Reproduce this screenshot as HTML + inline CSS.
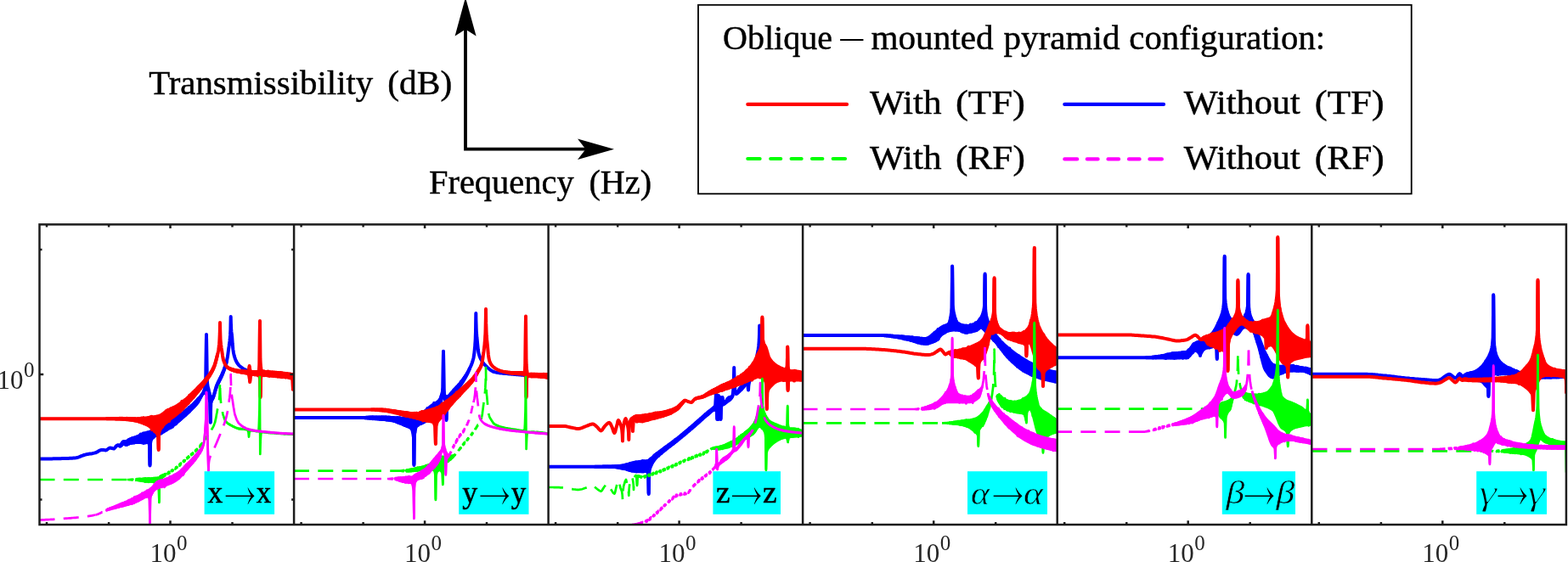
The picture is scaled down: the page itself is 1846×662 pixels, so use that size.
<!DOCTYPE html>
<html lang="en"><head><meta charset="utf-8"><title>Transmissibility plots</title>
<style>
html,body{margin:0;padding:0;background:#fff;}
body{width:1846px;height:662px;overflow:hidden;}
svg{display:block;font-family:"Liberation Serif","DejaVu Serif",serif;}
</style></head><body>
<svg width="1846" height="662" viewBox="0 0 1846 662">
<rect width="1846" height="662" fill="#ffffff"/>
<defs>
<clipPath id="cp1"><rect x="46.5" y="264.4" width="299.6" height="353.6"/></clipPath>
<clipPath id="cp2"><rect x="346.1" y="264.4" width="299.6" height="353.6"/></clipPath>
<clipPath id="cp3"><rect x="645.6" y="264.4" width="299.5" height="353.6"/></clipPath>
<clipPath id="cp4"><rect x="945.1" y="264.4" width="299.6" height="353.6"/></clipPath>
<clipPath id="cp5"><rect x="1244.7" y="264.4" width="299.6" height="353.6"/></clipPath>
<clipPath id="cp6"><rect x="1544.3" y="264.4" width="299.6" height="353.6"/></clipPath>
</defs>
<g clip-path="url(#cp1)" fill="none" stroke-linejoin="round">
<g stroke="#0000ff" stroke-width="4">
<path d="M46.5 540.5l1.5 -0 1.4 -0 1.5 -0 1.5 -0 1.4 -0 1.5 -0.1 1.5 0 1.5 0 1.4 -0 1.5 -0 1.5 -0.1 1.4 0 1.5 -0 1.5 -0 1.4 -0.1 1.5 0 1.5 -0 1.5 -0.1 1.5 0 1.5 -0 1.5 -0.1 1.5 -0 1.5 -0.1 1.5 -0.1 1.5 -0 1.5 -0.1 1.5 -0.1 1.5 -0.1 1.4 -0.2 1.4 -0.3 1.3 -0.4 1.4 -0.5 1.4 -0.6 1.4 -0.5 1.3 -0.5 1.4 -0.5 1.4 -0.4 1.3 -0.3 1.4 -0.2 1.3 -0.3 1.4 -0.2 1.3 -0.2 1.4 -0.2 1.3 -0.3 1.4 -0.3 1.3 -0.3 1.4 -0.6 1.5 -0.9 1.4 -0.9 1.5 -0.7 1.4 -0.3 1.2 0.1 1.2 0.1 1.3 0.2 1.2 0.1 1.2 -0.5 1.2 -0.9 1.2 -1 1.2 -0.5 1.2 0.2 1.2 0.3 1.2 0.3 1.2 0.2 1.2 -1.1 1.3 -1.9 1.2 -1.1"/>
<path d="M138.3 524.4L138.8 524.5L139.2 524.5L139.7 524.6L140.2 524.6L140.6 524.7L141.1 524.7L141.5 524.7L141.9 524.5L142.4 524.1L142.8 523.4L143.3 522.6L143.8 521.9L144.2 521.2L144.7 520.6L145.1 520.4L145.5 520.3L146 520.3L146.4 520.2L146.9 520.2L147.3 520.2L147.8 520.2L148.2 520.2L148.7 520.1L149.1 520L149.6 519.7L150.1 519.4L150.5 519.1L150.9 518.7L151.4 518.3L151.9 518L152.3 517.8L152.8 517.5L153.3 517.3L153.7 517.1L154.2 516.9L154.7 516.8L155.2 516.6L155.7 516.4L156.2 516.3L156.6 516.1L157.1 516L157.6 515.8L158.1 515.7L158.6 515.5L159 515.3L159.5 515.2L160 515L160.5 514.8L161 514.6L161.5 514.4L162 514.2L162.5 514L163 513.8L163.5 513.6L164 513.4L164.5 513.1L165 512.9L165.5 512.6L166 512.4L166.5 512.2L167 511.9L167.5 511.7L168 511.5L168.5 511.3L169 511.1L169.5 510.9L170 510.7L170.5 510.5L171 510.4L171.5 510.2L172 510.1L172.5 509.9L173 509.8L173.5 509.6L174 509.5L174.5 509.4L175 509.2L175.5 509L176 508.9L176.5 508.7L177 508.6L177.5 508.4L178 508.2L178.5 508L179 507.8L179.5 507.6L180 507.4L180.5 507.2L181 506.9L181.5 506.7L182 506.4L182.5 506.2L183 505.9L183.5 505.7L184 505.4L184.5 505.2L185 504.9L185.5 504.7L186 504.4L186.5 504.1L187 503.8L187.5 503.6L188 503.3L188.5 503L189 502.7L189.5 502.5L190 502.2L190.5 501.9L191 501.6L191.5 501.4L192 501.1L192.5 500.8L193 500.5L193.5 500.2L194 499.9L194.5 499.5L195 499.2L195.5 498.9L196 498.6L196.5 498.3L197 498L197.5 497.7L198 497.4L198.5 497.1L199 496.8L199.5 496.5L200 496.2L200.5 495.9L201 495.6L201.5 495.4L202 495.1L202.5 494.8L203 494.5L203.5 494.3L204 494L204.5 493.7L205 493.4L205.5 493.1L206 492.8L206.5 492.5L207 492.2L207.5 491.9L208 491.6L208.5 491.3L209 491L209.5 490.7L210 490.3L210.5 490L211 489.7L211.5 489.3L212 489L212.5 488.6L213 488.2L213.5 487.9L214 487.5L214.5 487.1L215 486.7L215.5 486.4L216 486L216.5 485.6L217 485.2L217.5 484.8L218 484.4L218.5 484L219 483.6L219.5 483.2L220 482.8L220.5 482.3L221 481.9L221.5 481.5L222 481.1L222.5 480.6L223 480.2L223.5 479.8L224 479.3L224.5 478.9L225 478.5L225.5 478L226 477.6L226.5 477.1L227 476.6L227.5 476.2L228 475.7L228.5 475.2L229 474.7L229.5 474.2L230 473.7L230.5 473.2L231 472.7L231.5 472.1L232 471.6L232.5 471.1L233 470.5L233.5 469.9L234 469.4L234.5 468.9L235 468.3L235.5 467.8L236 467.2L236.5 466.6L237 466L237.5 465.4L238 464.6L238.5 463.9L239 463.1L239.5 462.2L240 461.2L240.5 459.7L241 457.6L241.5 455.2L242 451.4L242.5 445.9L243 395.2L243.5 445.1L244 450.5L244.4 454.2L244.9 457L245.4 459.2L245.9 461.2L246.4 462.8L246.8 464.2L247.3 465.7L247.8 467.2L248.2 468.4L248.7 469L249.1 469.6L249.6 470L250 470L250.5 469.2L251 468L251.5 466.6L252 465L252.5 463.3L253 461.5L253.5 459.7L254 457.7L254.5 456L255 454.5L255.5 453.3L256 452.1L256.5 451L257 450L257.5 449L258 448L258.5 447L259 446L259.5 445L260 444L260.5 443L261 441.9L261.5 440.8L262 439.5L262.5 438.3L263 437.1L263.5 435.9L264 434.6L264.5 433.3L265 431.9L265.5 430.4L266 428.8L266.5 427L267 425L267 425L266.5 427.1L266 429L265.5 430.7L265 432.3L264.5 433.8L264 435.3L263.5 436.6L263 437.9L262.5 439.2L262 440.5L261.5 441.7L261 442.9L260.5 444L260 445L259.5 446L259 447L258.5 448L258 449L257.5 450L257 451L256.5 452L256 453.1L255.5 454.2L255 455.5L254.5 456.8L254 458.2L253.5 459.7L253 461.5L252.5 463.3L252 465L251.5 466.6L251 468L250.5 469.2L250 470L249.6 470.9L249.1 471.8L248.7 473.1L248.2 475L247.8 496.6L247.3 474.1L246.8 471.7L246.4 470L245.9 468.8L245.4 467.8L244.9 466.9L244.4 466.2L244 465.5L243.5 464.9L243 464.3L242.5 463.6L242 463L241.5 462.5L241 462.5L240.5 462.6L240 462.8L239.5 463L239 463.4L238.5 464L238 464.6L237.5 465.4L237 466.3L236.5 467.3L236 468.2L235.5 469.2L235 470.2L234.5 471.1L234 472L233.5 472.8L233 473.5L232.5 474.1L232 474.8L231.5 475.4L231 476L230.5 476.5L230 477.1L229.5 477.7L229 478.2L228.5 478.8L228 479.3L227.5 479.8L227 480.4L226.5 480.9L226 481.4L225.5 481.9L225 482.4L224.5 482.9L224 483.4L223.5 483.9L223 484.4L222.5 484.8L222 485.3L221.5 485.8L221 486.3L220.5 486.8L220 487.2L219.5 487.7L219 488.2L218.5 488.7L218 489.1L217.5 489.6L217 490.1L216.5 490.5L216 491L215.5 491.4L215 491.9L214.5 492.3L214 492.8L213.5 493.2L213 493.6L212.5 494.1L212 494.5L211.5 494.9L211 495.4L210.5 495.8L210 496.2L209.5 496.6L209 497L208.5 497.4L208 497.8L207.5 498.2L207 498.6L206.5 499L206 499.4L205.5 499.8L205 500.2L204.5 500.5L204 500.9L203.5 501.3L203 501.7L202.5 502L202 502.4L201.5 502.7L201 503.1L200.5 503.5L200 503.8L199.5 504.1L199 504.5L198.5 504.8L198 505.1L197.5 505.4L197 505.7L196.5 506L196 506.3L195.5 506.6L195 506.9L194.5 507.1L194 507.4L193.5 507.7L193 508L192.5 508.3L192 508.6L191.5 508.9L191 509.2L190.5 509.5L190 509.8L189.5 510.1L189 510.4L188.5 510.6L188 510.9L187.5 511.1L187 511.3L186.5 511.5L186 511.7L185.5 511.9L185 512.1L184.5 512.3L184 512.6L183.5 512.8L183 513.1L182.5 513.4L182 513.7L181.5 514L181 514.4L180.5 514.9L180 515.4L179.5 515.9L179 516.5L178.5 517.1L178 517.8L177.5 519.5L177 522.4L176.5 547.3L176 524.9L175.5 522.3L175 520.8L174.5 520.8L174 520.9L173.5 520.9L173 521L172.5 521L172 521.1L171.5 521.2L171 521.2L170.5 521.3L170 521.3L169.5 521.3L169 521.3L168.5 521.3L168 521.2L167.5 521.2L167 521.2L166.5 521.2L166 521.1L165.5 521.1L165 521L164.5 521L164 521L163.5 520.9L163 520.9L162.5 520.9L162 520.9L161.5 520.9L161 521L160.5 521L160 521L159.5 521L159 521.1L158.6 521.1L158.1 521.2L157.6 521.2L157.1 521.3L156.6 521.4L156.2 521.4L155.7 521.5L155.2 521.6L154.7 521.7L154.2 521.8L153.7 521.9L153.3 522L152.8 522.1L152.3 522.2L151.9 522.4L151.4 522.6L150.9 522.9L150.5 523.2L150.1 523.4L149.6 523.6L149.1 523.8L148.7 523.9L148.2 523.8L147.8 523.7L147.3 523.5L146.9 523.2L146.4 523L146 522.8L145.5 522.7L145.1 522.6L144.7 522.8L144.2 523.1L143.8 523.5L143.3 524.1L142.8 524.6L142.4 525L141.9 525.4L141.5 525.5L141.1 525.4L140.6 525.3L140.2 525.1L139.7 524.9L139.2 524.7L138.8 524.6L138.3 524.4Z" fill="#0000ff"/>
<path d="M137.9 524.4l0.4 0 0.5 0.2 0.4 -0.1 0.5 0.4 0.5 -0.3 0.4 0.6 0.5 -0.5 0.4 0.8 0.4 -1 0.5 0.4 0.4 -1.5 0.5 0.8 0.4 -2.5 0.5 1.4 0.5 -2.6 0.4 2 0.4 -2.3 0.5 2.5 0.4 -2.3 0.5 2.8 0.4 -3 0.5 3.3 0.4 -3 0.5 3.1 0.4 -3.9 0.5 3.9 0.5 -4.1 0.4 3.5 0.4 -4.2 0.5 4.1 0.5 -4.9 0.4 3.8 0.5 -4 0.5 3.8 0.4 -4.4 0.5 4.7 0.5 -5.2 0.5 5.1 0.5 -5.5 0.5 5 0.4 -5 0.5 4.3 0.5 -4.9 0.5 5.9 0.5 -5.6 0.4 4.9 0.5 -5.4 0.5 5.1 0.5 -5.6 0.5 5.8 0.5 -6.3 0.5 6 0.5 -6.4 0.5 6.5 0.5 -6.5 0.5 6.5 0.5 -7.8 0.5 7.8 0.5 -9 0.5 9.4 0.5 -8.3 0.5 8 0.5 -8.4 0.5 8.6 0.5 -10.5 0.5 11.5 0.5 -11.3 0.5 11 0.5 -10.8 0.5 10.5 0.5 -10.9 0.5 10.8 0.5 -11 0.5 9.9 0.5 -10.7 0.5 10.6 0.5 -10 0.5 9.9 0.5 -10.1 0.5 13.3 0.5 25.4 0.5 -26.8 0.5 -13.1 0.5 9.1 0.5 -10.1 0.5 8.2 0.5 -8.3 0.5 7.8 0.5 -7.8 0.5 7.3 0.5 -8.3 0.5 6.6 0.5 -6.5 0.5 5.6 0.5 -6.9 0.5 7.5 0.5 -8.6 0.5 7.6 0.5 -6.8 0.5 6.8 0.5 -7.5 0.5 7.4 0.5 -9.1 0.5 8.6 0.5 -8.4 0.5 7.7 0.5 -8.7 0.5 8.6 0.5 -8.3 0.5 7.1 0.5 -8.1 0.5 7.6 0.5 -7.8 0.5 7.5 0.5 -9 0.5 7.7 0.5 -7.4 0.5 6.5 0.5 -7.1 0.5 7.4 0.5 -7.9 0.5 6.4 0.5 -6.7 0.5 6.2 0.5 -7.3 0.5 7 0.5 -7.6 0.5 7.2 0.5 -7.7 0.5 7.7 0.5 -8.5 0.5 7.3 0.5 -8.4 0.5 8.6 0.5 -9.1 0.5 7.5 0.5 -7.4 0.5 5.6 0.5 -5.7 0.5 5.7 0.5 -8.3 0.5 8.3 0.5 -7.4 0.5 6.2 0.5 -6.4 0.5 4.7 0.5 -5.6 0.5 5 0.5 -6.1 0.5 5.6 0.5 -5.6 0.5 4.4 0.5 -5.3 0.5 4.3 0.5 -4.9 0.5 3.8 0.5 -4.8 0.5 4.1 0.5 -4.6 0.5 3.7 0.5 -4.5 0.5 3.6 0.5 -5 0.5 4.6 0.5 -5.1 0.5 4.3 0.5 -5.3 0.5 3.9 0.5 -4.8 0.5 4.3 0.5 -4.7 0.5 3.8 0.5 -5.6 0.5 4.7 0.5 -5.1 0.5 3.8 0.5 -4.3 0.5 3.1 0.5 -4.1 0.5 3.5 0.5 -4.2 0.5 2.8 0.5 -3.8 0.5 3.2 0.5 -4.4 0.5 3.3 0.5 -4.1 0.5 3 0.5 -4.4 0.5 3.2 0.5 -3.9 0.5 2.6 0.5 -4.2 0.5 3 0.5 -4.1 0.5 2.4 0.5 -3.1 0.5 1.3 0.5 -2.4 0.5 0.4 0.5 -1.6 0.5 -0.3 0.5 -1 0.5 -0.7 0.5 -0.7 0.5 -0.5 0.5 -1.3 0.5 0.7 0.5 -2.9 0.5 2.7 0.5 -7.1 0.5 6.6 0.5 -16.3 0.5 -51.8 0.5 54.4 0.5 16.1 0.4 -8.8 0.5 11.2 0.5 -9 0.5 11.1 0.5 -6.7 0.4 9.6 0.5 -6.2 0.5 32.1 0.4 -30 0.5 5.3 0.4 -3.5 0.5 1.2 0.4 -0.8 0.5 -0.8 0.5 -1.2 0.5 -1.4 0.5 -1.6 0.5 -1.7 0.5 -1.8 0.5 -1.8 0.5 -1.9 0.5 -1 0.5 -2.2 0.5 -0.4 0.5 -2 0.5 -0.2 0.5 -2 0.5 -0 0.5 -2.1 0.5 0 0.5 -1.9 0.5 -0 0.5 -2 0.5 -0 0.5 -2.1 0.5 -0.2 0.5 -2.2 0.5 -0.3 0.5 -2.1 0.5 -0.4 0.5 -2.1 0.5 -0.8 0.5 -1.8 0.5 -1.3 0.5 -1.9 0.5 -1.7 0.5 -2.1"/>
<path d="M267 425l0.4 -2.1 0.5 -2.5 0.4 -2.8 0.4 -3.1 0.4 -3.2 0.5 -3.2 0.4 -3.1 0.2 -1.1 0.1 -1.1 0.2 -1.3 0.1 -1.4 0.2 -1.6 0.1 -1.9 0.2 -2.2 0.1 -2.7 0.2 -3.7 0.1 -6.2 0.2 -8.8 0.2 7.6 0.2 4.8 0.1 2.9 0.2 2.1 0.2 1.6 0.1 1.3 0.2 1.2 0.2 1.5 0.2 2.4 0.2 2.9 0.2 3.2 0.3 3 0.2 2.6 0.2 1.9 0.6 3.9 0.7 3 0.7 2.3 0.6 1.8 1.1 2.6 1.2 2.1 1.2 1.6 1.1 1.3 1.4 1.3 1.4 1 1.4 1 1.4 0.8 1.4 0.7 1.4 0.6 1.4 0.6 1.5 0.5 1.4 0.5 1.4 0.5 1.4 0.4 1.5 0.3 1.4 0.2 1.5 0.2 1.4 0.2 1.5 0.1 1.5 0.2 1.4 0.2 1.5 0.1 1.5 0.2 1.4 0.1 1.5 0.1 1.5 0.2 1.4 0.1 1.5 0.1 1.5 0.1 1.4 0.2 1.5 0.1 1.5 0.1 1.5 0.1 1.4 0 1.5 0.1 1.5 0.1 1.4 0.1 1.5 0 1.5 0.1 1.4 0 1.5 0.1 1.5 0 1.4 0 1.5 0.1 1.5 -0 1.4 -0 1.5 0"/>
</g>
<g stroke="#ff0000" stroke-width="4">
<path d="M46.5 493.2l1.5 0 1.5 0 1.4 0 1.5 0 1.5 0 1.5 0 1.5 0 1.4 0 1.5 0 1.5 0 1.5 0 1.5 0 1.5 0 1.4 0 1.5 0 1.5 0 1.5 0 1.5 0 1.4 0 1.5 0 1.5 0 1.5 0 1.5 0 1.4 0 1.5 0 1.5 0 1.5 0 1.5 0 1.5 0 1.4 0 1.5 0 1.5 0 1.5 0 1.5 0 1.4 0 1.5 0 1.5 0 1.5 0 1.5 0 1.4 0 1.5 0 1.5 0 1.5 0 1.5 0 1.5 0 1.4 0 1.5 0 1.5 0 1.5 0 1.5 0 1.4 0 1.5 0 1.5 0"/>
<path d="M125.5 493.2L126 493.2L126.5 493.2L127 493.2L127.5 493.2L128 493.2L128.5 493.2L129 493.2L129.5 493.2L130 493.2L130.5 493.1L131 493.1L131.5 493.1L132 493.1L132.5 493.1L133 493.1L133.5 493.1L134 493.1L134.5 493.1L135 493L135.5 493L136 493L136.5 493L137 493L137.5 493L138 493L138.5 493L139 493L139.5 493L140 492.9L140.5 492.9L141 492.9L141.5 492.9L142 492.9L142.5 492.9L143 492.9L143.5 492.9L144 492.9L144.5 492.9L145 492.9L145.5 492.9L146 492.9L146.5 492.9L147 493L147.5 493L148 493L148.5 493L149 493L149.5 493L150 493L150.5 493L151 493.1L151.5 493.1L152 493.1L152.5 493.1L153 493.1L153.5 493.1L154 493.2L154.5 493.2L155 493.2L155.5 493.2L156 493.2L156.5 493.3L157 493.3L157.5 493.3L158 493.3L158.5 493.3L159 493.3L159.5 493.4L160 493.4L160.5 493.4L161 493.4L161.5 493.4L162 493.4L162.5 493.4L163 493.3L163.5 493.3L164 493.3L164.5 493.2L165 493.2L165.5 493.2L166 493.1L166.5 493.1L167 493L167.5 493L168 492.9L168.5 492.9L169 492.8L169.5 492.8L170 492.7L170.5 492.7L171 492.6L171.5 492.6L172 492.5L172.5 492.4L173 492.4L173.5 492.3L174 492.2L174.5 492.1L175 492.1L175.5 492L176 491.9L176.5 491.9L177 491.8L177.5 491.7L178 491.7L178.5 491.6L179 491.5L179.5 491.5L180 491.4L180.5 491.3L181 491.2L181.5 491.2L182 491.1L182.5 491L183 490.9L183.5 490.8L183.9 490.7L184.4 490.6L184.8 490.5L185.3 490.4L185.8 490.3L186.2 490.2L186.7 490.1L187.1 490L187.6 489.8L188 489.7L188.5 489.5L189 489.3L189.4 489L189.9 488.8L190.4 488.5L190.9 488.1L191.3 487.8L191.8 487.4L192.3 487.1L192.8 486.7L193.3 486.3L193.7 485.9L194.2 485.6L194.7 485.2L195.2 484.8L195.6 484.5L196.1 484.2L196.6 483.9L197.1 483.6L197.6 483.3L198.1 483.1L198.6 482.8L199.1 482.6L199.6 482.3L200.1 482.1L200.6 481.9L201.1 481.6L201.6 481.4L202.1 481.2L202.5 481L203 480.7L203.5 480.5L204 480.3L204.5 480L205 479.8L205.5 479.5L206 479.3L206.5 479L207 478.8L207.5 478.5L208 478.2L208.5 477.9L209 477.6L209.5 477.3L209.9 477L210.4 476.7L210.9 476.4L211.4 476L211.9 475.7L212.4 475.4L212.9 475L213.4 474.7L213.8 474.3L214.3 474L214.8 473.6L215.3 473.3L215.8 472.9L216.3 472.5L216.8 472.1L217.3 471.7L217.7 471.3L218.2 470.9L218.7 470.5L219.2 470.1L219.7 469.7L220.2 469.3L220.7 468.9L221.2 468.4L221.7 468L222.2 467.5L222.6 467.1L223.1 466.6L223.6 466.1L224.1 465.7L224.6 465.2L225.1 464.7L225.6 464.2L226.1 463.8L226.6 463.3L227.1 462.8L227.6 462.3L228.1 461.8L228.6 461.3L229.1 460.8L229.6 460.3L230 459.8L230.5 459.3L231 458.8L231.5 458.3L232 457.8L232.5 457.3L233 456.8L233.5 456.2L234 455.7L234.5 455.2L235 454.7L235.5 454.2L236 453.7L236.5 453.2L237 452.7L237.5 452.2L238 451.6L238.5 451.1L239 450.6L239.5 450L240 449.5L240.5 448.9L241 448.3L241.5 447.7L242 447.1L242.5 446.5L243 445.9L243.5 445.2L244 444.6L244.5 443.9L245 443.3L245.5 442.6L246 442L246.5 441.3L247 440.6L247.5 439.8L248 439.1L248.5 438.3L249 437.5L249.5 436.6L250 435.7L250.5 434.8L251 433.8L251.5 432.7L252 431.6L252.5 430.4L253 429L253.5 427.4L254 425.6L254.5 423.8L255 421.9L255.5 420L256 418L256 418L255.5 420L255 422L254.5 424L254 426L253.5 427.8L253 429.5L252.5 431L252 432.4L251.5 433.6L251 434.7L250.5 435.8L250 436.8L249.5 437.8L249 438.7L248.5 439.6L248 440.5L247.5 441.3L247 442.1L246.5 442.9L246 443.7L245.5 444.4L245 445.2L244.5 445.9L244 446.6L243.5 447.4L243 448.1L242.5 448.9L242 449.6L241.5 450.3L241 451L240.5 451.7L240 452.4L239.5 453.1L239 453.7L238.5 454.4L238 455L237.5 455.7L237 456.3L236.5 456.9L236 457.6L235.5 458.2L235 458.8L234.5 459.4L234 460L233.5 460.6L233 461.2L232.5 461.9L232 462.4L231.5 463L231 463.6L230.5 464.2L230 464.8L229.6 465.4L229.1 466L228.6 466.6L228.1 467.1L227.6 467.7L227.1 468.3L226.6 468.8L226.1 469.4L225.6 470L225.1 470.5L224.6 471.1L224.1 471.6L223.6 472.1L223.1 472.7L222.6 473.2L222.2 473.8L221.7 474.3L221.2 474.8L220.7 475.3L220.2 475.9L219.7 476.4L219.2 476.9L218.7 477.4L218.2 477.9L217.7 478.4L217.3 478.9L216.8 479.4L216.3 479.9L215.8 480.4L215.3 480.9L214.8 481.4L214.3 481.9L213.8 482.3L213.4 482.8L212.9 483.3L212.4 483.8L211.9 484.2L211.4 484.7L210.9 485.2L210.4 485.6L209.9 486.1L209.5 486.5L209 486.9L208.5 487.4L208 487.8L207.5 488.2L207 488.6L206.5 489L206 489.4L205.5 489.8L205 490.1L204.5 490.5L204 490.8L203.5 491.2L203 491.5L202.5 491.8L202.1 492.2L201.6 492.5L201.1 492.9L200.6 493.2L200.1 493.6L199.6 494L199.1 494.3L198.6 494.7L198.1 495.2L197.6 495.6L197.1 496L196.6 496.5L196.1 497L195.6 497.4L195.2 497.8L194.7 498.3L194.2 498.7L193.7 499.2L193.3 499.7L192.8 500.1L192.3 500.7L191.8 501.2L191.3 501.8L190.9 502.4L190.4 503.1L189.9 503.8L189.4 504.6L189 505.4L188.5 506.3L188 507.3L187.6 508.6L187.1 510.6L186.7 528.8L186.2 514.1L185.8 512.5L185.3 511.4L184.8 510.6L184.4 510L183.9 509.4L183.5 509L183 508.5L182.5 508L182 507.5L181.5 507L181 506.5L180.5 506.1L180 505.6L179.5 505.1L179 504.7L178.5 504.2L178 503.8L177.5 503.3L177 502.9L176.5 502.5L176 502.1L175.5 501.8L175 501.4L174.5 501.1L174 500.8L173.5 500.5L173 500.2L172.5 499.9L172 499.7L171.5 499.4L171 499.2L170.5 499L170 498.8L169.5 498.6L169 498.4L168.5 498.2L168 498L167.5 497.8L167 497.6L166.5 497.4L166 497.2L165.5 497.1L165 496.9L164.5 496.8L164 496.6L163.5 496.5L163 496.3L162.5 496.2L162 496.1L161.5 495.9L161 495.8L160.5 495.7L160 495.6L159.5 495.5L159 495.4L158.5 495.3L158 495.3L157.5 495.2L157 495.1L156.5 495L156 494.9L155.5 494.8L155 494.7L154.5 494.7L154 494.6L153.5 494.5L153 494.4L152.5 494.4L152 494.3L151.5 494.2L151 494.2L150.5 494.1L150 494.1L149.5 494L149 494L148.5 493.9L148 493.9L147.5 493.8L147 493.8L146.5 493.8L146 493.7L145.5 493.7L145 493.7L144.5 493.7L144 493.6L143.5 493.6L143 493.6L142.5 493.6L142 493.5L141.5 493.5L141 493.5L140.5 493.5L140 493.5L139.5 493.5L139 493.4L138.5 493.4L138 493.4L137.5 493.4L137 493.4L136.5 493.4L136 493.4L135.5 493.3L135 493.3L134.5 493.3L134 493.3L133.5 493.3L133 493.3L132.5 493.3L132 493.3L131.5 493.3L131 493.2L130.5 493.2L130 493.2L129.5 493.2L129 493.2L128.5 493.2L128 493.2L127.5 493.2L127 493.2L126.5 493.2L126 493.2L125.5 493.2Z" fill="#ff0000"/>
<path d="M125 493.2l0.5 -0 0.5 0 0.5 -0 0.5 0 0.5 -0 0.5 0 0.5 -0 0.5 0 0.5 -0 0.5 0 0.5 -0 0.5 0 0.5 -0.1 0.5 0.2 0.5 -0.2 0.5 0.2 0.5 -0.2 0.5 0.2 0.5 -0.3 0.5 0.3 0.5 -0.3 0.5 0.4 0.5 -0.4 0.5 0.4 0.5 -0.4 0.5 0.5 0.5 -0.5 0.5 0.4 0.5 -0.4 0.5 0.5 0.5 -0.6 0.5 0.6 0.5 -0.6 0.5 0.7 0.5 -0.7 0.5 0.7 0.5 -0.7 0.5 0.8 0.5 -0.8 0.5 0.7 0.5 -0.6 0.5 0.7 0.5 -0.7 0.5 0.7 0.5 -0.7 0.5 0.9 0.5 -0.9 0.5 1.1 0.5 -1.2 0.5 1.2 0.5 -1 0.5 1.1 0.5 -1.1 0.5 1.3 0.5 -1.4 0.5 1.4 0.5 -1.3 0.5 1.5 0.5 -1.2 0.5 1.2 0.5 -1.3 0.5 1.4 0.5 -1.4 0.5 1.7 0.5 -1.5 0.5 1.6 0.5 -1.9 0.5 2.3 0.5 -2.1 0.5 2.2 0.5 -2.1 0.5 2.3 0.5 -2.5 0.5 2.8 0.5 -2.9 0.5 3.2 0.5 -3.1 0.5 3.3 0.5 -3.1 0.5 3.7 0.5 -4 0.5 4.3 0.5 -5 0.5 4.9 0.5 -4.6 0.5 5.5 0.5 -6 0.5 5.7 0.5 -5.5 0.5 6.7 0.5 -6.3 0.5 5.8 0.5 -5.6 0.5 6.6 0.5 -6.6 0.5 6.1 0.5 -6.8 0.5 8.1 0.5 -7.5 0.5 7.5 0.5 -7.8 0.5 8.8 0.5 -9.9 0.5 10.2 0.5 -10.6 0.5 12.5 0.5 -13 0.5 15.5 0.5 -13.3 0.5 12 0.5 -12.5 0.5 13.4 0.5 -12.5 0.5 14.9 0.5 -17 0.5 15.8 0.5 -14.7 0.4 15.8 0.5 -16.4 0.4 18.3 0.5 -16.8 0.5 18.5 0.4 -19.9 0.5 38.2 0.4 -37.9 0.5 15.1 0.4 -15.9 0.5 12.4 0.5 -13.5 0.4 13.4 0.5 -14.4 0.5 12.5 0.5 -12.7 0.4 13.7 0.5 -13.3 0.5 9.8 0.5 -10.6 0.5 9.7 0.4 -11.5 0.5 10.8 0.5 -10.9 0.5 10.9 0.4 -13.3 0.5 13.2 0.5 -12.9 0.5 11.9 0.5 -13.6 0.5 12.1 0.5 -11.4 0.5 12.4 0.5 -13.2 0.5 10.7 0.5 -11.3 0.5 10.1 0.5 -11.1 0.5 10.3 0.4 -9.7 0.5 9.5 0.5 -9.4 0.5 8.7 0.5 -10.7 0.5 9.7 0.5 -9 0.5 7.4 0.5 -7.6 0.5 6.9 0.5 -7.9 0.5 7.5 0.5 -7.8 0.5 7.3 0.5 -8.8 0.4 7.4 0.5 -8.3 0.5 8.1 0.5 -8.5 0.5 8.8 0.5 -9.6 0.5 7.7 0.5 -8.7 0.4 7.5 0.5 -9.2 0.5 9.4 0.5 -8.6 0.5 7.2 0.5 -8 0.5 6.2 0.5 -7.4 0.4 7 0.5 -7.3 0.5 6.4 0.5 -6.8 0.5 5.2 0.5 -6.6 0.5 6.1 0.5 -6.9 0.5 6.2 0.5 -7.4 0.4 5.4 0.5 -7.2 0.5 6.7 0.5 -6.9 0.5 5.5 0.5 -6.6 0.5 5.2 0.5 -6 0.5 5.1 0.5 -6.4 0.5 5.8 0.5 -6.7 0.5 5.1 0.5 -5.7 0.5 4.6 0.4 -5.7 0.5 4 0.5 -4.6 0.5 4.1 0.5 -5.5 0.5 3.8 0.5 -5.1 0.5 4.4 0.5 -5.2 0.5 3.7 0.5 -4.5 0.5 3.2 0.5 -4.3 0.5 3 0.5 -3.9 0.5 2.8 0.5 -3.9 0.5 2.9 0.5 -4.1 0.5 2.8 0.5 -3.9 0.5 2.3 0.5 -3.8 0.5 2.2 0.5 -2.9 0.5 1.8 0.5 -3.4 0.5 2 0.5 -3 0.5 1.1 0.5 -2.3 0.5 1.1 0.5 -2.6 0.5 1.1 0.5 -2.3 0.5 0.5 0.5 -2.1 0.5 0.5 0.5 -2.1 0.5 0.3 0.5 -2 0.5 0 0.5 -2 0.5 -0.2 0.5 -2 0.5 -0.6 0.5 -2.1 0.5 -1.1 0.5 -2.1 0.5 -1.7 0.5 -2.1 0.5 -1.9 0.5 -2"/>
<path d="M256 418l0.2 -0.9 0.3 -1 0.2 -1 0.2 -1.2 0.3 -1.3 0.2 -1.5 0.2 -1.6 0.2 -1.9 0.3 -2.4 0.2 -2.9 0.2 -3.8 0.3 -6.3 0.2 -12.2 0.2 9.6 0.2 6 0.1 3.5 0.2 2.7 0.2 2.1 0.2 1.9 0.2 1.5 0.2 1.4 0.1 1.1 0.2 1.1 0.2 1.1 0.5 3.3 0.5 3.5 0.5 3 0.5 2.2 1.3 3.7 1.4 2.7 1.3 1.6"/>
<path d="M267.5 432.4L268 432.7L268.5 433.1L269 433.4L269.5 433.6L270 433.9L270.5 434.1L271 434.4L271.5 434.6L272 434.8L272.5 434.9L273 435.1L273.5 435.2L274 435.4L274.5 435.5L275 435.6L275.5 435.7L276 435.9L276.5 436L277 436.1L277.5 436.2L278 436.3L278.5 436.4L279 436.4L279.5 436.5L280 436.6L280.5 436.7L281 436.8L281.5 436.8L282 436.9L282.5 437L283 437L283.5 437.1L284 437.1L284.5 437.2L285 437.2L285.5 437.3L286 437.4L286.5 437.4L287 437.5L287.5 437.5L288 437.5L288.5 437.6L289 437.6L289.5 437.7L290 437.7L290.5 437.7L291 437.8L291.5 437.8L292 437.8L292.5 437.9L292.9 437L293.2 435L293.6 432.2L293.9 433.5L294.2 434.9L294.6 436.7L295.1 437.7L295.5 438L296 438L296.5 438L297 438L297.5 438L298 438L298.5 438L299 438L299.5 438L300 438L300.5 438L301 438L301.5 438L302 438.1L302.5 438.1L303 438.1L303.5 438.1L304 438.1L304.5 438.1L305 435.4L305.5 429.5L306 379.2L306.3 422.4L306.6 427.6L307.1 432.1L307.5 435.5L308 437.2L308.5 437.4L309 437.5L309.5 437.5L310 437.6L310.5 437.7L311 437.8L311.5 437.8L312 437.9L312.5 437.9L313 438L313.5 438L314 438.1L314.5 438.1L315 438.2L315.5 438.2L316 438.2L316.5 438.2L317 438.3L317.5 438.3L318 438.3L318.5 438.3L319 438.4L319.5 438.4L320 438.4L320.5 438.4L321 438.5L321.5 438.5L322 438.5L322.5 438.5L323 438.6L323.5 438.6L324 438.7L324.5 438.7L325 438.8L325.5 438.8L326 438.9L326.5 438.9L327 439L327.5 439L328 439.1L328.5 439.1L329 439.2L329.5 439.2L330 439.3L330.5 439.3L331 439.4L331.5 439.4L332 439.5L332.5 439.6L333 439.6L333.5 439.7L334 439.7L334.5 439.8L335 439.8L335.5 439.9L336 440L336.5 440L337 440.1L337.5 440.2L338 440.2L338.5 440.3L339 440.4L339.5 440.4L340 440.5L340.5 440.6L341 440.7L341.5 440.7L342 440.8L342.5 440.9L343 441L343.5 441.1L344 441.1L344.5 441.3L345 441.5L345 458.8L344.5 447.4L344 446.2L343.5 445.6L343 445.4L342.5 445.3L342 445.1L341.5 445L341 444.9L340.5 444.8L340 444.7L339.5 444.6L339 444.5L338.5 444.4L338 444.4L337.5 444.3L337 444.2L336.5 444.2L336 444.1L335.5 444.1L335 444L334.5 444L334 443.9L333.5 443.9L333 443.8L332.5 443.8L332 443.8L331.5 443.7L331 443.7L330.5 443.7L330 443.6L329.5 443.6L329 443.6L328.5 443.5L328 443.5L327.5 443.5L327 443.4L326.5 443.4L326 443.3L325.5 443.3L325 443.2L324.5 443.2L324 443.1L323.5 443.1L323 443L322.5 443L322 442.9L321.5 442.9L321 442.8L320.5 442.8L320 442.7L319.5 442.7L319 442.6L318.5 442.6L318 442.5L317.5 442.4L317 442.4L316.5 442.3L316 442.3L315.5 442.3L315 442.2L314.5 442.2L314 442.1L313.5 442.1L313 442L312.5 442L312 442L311.5 441.9L311 441.9L310.5 441.9L310 441.8L309.5 441.8L309 441.8L308.5 441.8L308 441.8L307.5 442.7L307.1 445.2L306.6 466.8L306.3 448.1L306 445.9L305.5 443.8L305 442.3L304.5 441.9L304 441.8L303.5 441.6L303 441.6L302.5 441.5L302 441.4L301.5 441.3L301 441.3L300.5 441.2L300 441.2L299.5 441.1L299 441.1L298.5 441.1L298 441L297.5 441L297 441L296.5 441L296 441L295.5 441L295.1 442.2L294.6 445.2L294.2 448.8L293.9 446.7L293.6 444.5L293.2 442L292.9 440.7L292.5 440.1L292 439.9L291.5 439.8L291 439.6L290.5 439.5L290 439.4L289.5 439.3L289 439.3L288.5 439.2L288 439.2L287.5 439.1L287 439L286.5 439L286 438.9L285.5 438.8L285 438.8L284.5 438.6L284 438.5L283.5 438.4L283 438.3L282.5 438.2L282 438.1L281.5 438L281 437.9L280.5 437.8L280 437.7L279.5 437.6L279 437.5L278.5 437.4L278 437.3L277.5 437.1L277 437L276.5 436.8L276 436.7L275.5 436.5L275 436.4L274.5 436.2L274 436L273.5 435.8L273 435.7L272.5 435.5L272 435.2L271.5 435L271 434.8L270.5 434.5L270 434.2L269.5 433.9L269 433.6L268.5 433.2L268 432.9L267.5 432.4Z" fill="#ff0000"/>
<path d="M267 432l0.5 0.4 0.5 0.3 0.5 0.5 0.5 0.2 0.5 0.5 0.5 0 0.5 0.6 0.5 -0.2 0.5 0.7 0.5 -0.3 0.5 0.7 0.5 -0.3 0.5 0.8 0.5 -0.5 0.5 0.8 0.5 -0.6 0.5 1 0.5 -0.7 0.5 0.9 0.5 -0.6 0.5 0.9 0.5 -0.9 0.5 1.2 0.5 -0.9 0.5 1.2 0.5 -1 0.5 1.1 0.5 -1 0.5 1.2 0.5 -1.1 0.5 1.2 0.5 -1.1 0.5 1.4 0.5 -1.2 0.5 1.4 0.5 -1.2 0.5 1.2 0.5 -1.2 0.5 1.5 0.5 -1.4 0.5 1.4 0.5 -1.2 0.5 1.4 0.5 -1.6 0.5 1.9 0.5 -1.8 0.5 1.9 0.5 -1.8 0.5 2.2 0.5 -2.3 0.5 2.6 0.4 -3.3 0.3 4.9 0.4 -10.8 0.3 14.6 0.3 4.4 0.4 -5.3 0.5 -6.9 0.4 3.5 0.5 -3.5 0.5 3.5 0.5 -3 0.5 2.4 0.5 -2.6 0.5 2.7 0.5 -2.6 0.5 3 0.5 -3.1 0.5 3.2 0.5 -3.2 0.5 3.1 0.5 -2.8 0.5 2.9 0.5 -3.2 0.5 3.9 0.5 -3.7 0.5 3.5 0.5 -6.5 0.5 6.3 0.5 -63.6 0.3 66.8 0.3 23.2 0.5 -23.9 0.4 -7.8 0.5 5.7 0.5 -4.4 0.5 4 0.5 -4.1 0.5 4.5 0.5 -4.6 0.5 4.8 0.5 -4.5 0.5 4.1 0.5 -3.9 0.5 3.9 0.5 -3.6 0.5 3.8 0.5 -3.6 0.5 3.8 0.5 -4.6 0.5 5 0.5 -4.6 0.5 4.9 0.5 -4.3 0.5 3.5 0.5 -3.3 0.5 3.5 0.5 -3.6 0.5 3.9 0.5 -4.2 0.5 4.3 0.5 -4 0.5 4.4 0.5 -4.2 0.5 4.1 0.5 -3.9 0.5 3.4 0.5 -3.2 0.5 3.6 0.5 -4 0.5 4.2 0.5 -3.7 0.5 4.1 0.5 -4.6 0.5 4.1 0.5 -3.7 0.5 3.9 0.5 -4 0.5 4.6 0.5 -4.8 0.5 4.9 0.5 -4.3 0.5 4.6 0.5 -4.8 0.5 4.7 0.5 -4.1 0.5 3.6 0.5 -3.5 0.5 3.7 0.5 -3.6 0.5 4.3 0.5 -4.5 0.5 3.9 0.5 -3.8 0.5 3.8 0.5 -3.3 0.5 3.7 0.5 -3.7 0.5 3.9 0.5 -3.8 0.5 4.5 0.5 -4.8 0.5 4.9 0.5 -4.2 0.5 4.5 0.5 -4.6 0.5 5.4 0.5 -5.2 0.5 18.8"/>
</g>
<g stroke="#00ff00" stroke-width="2.7">
<path d="M46.5 565l1.5 0 1.5 0 1.5 0 1.5 0 1.5 0 1.5 0 1.5 0 1.5 0 1.5 0 1.5 0 1.5 0 1.5 0 1.5 0 1.5 0 1.5 0 1.5 0 1.5 0 1.5 0 1.5 0 1.5 0 1.5 0 1.5 0 1.5 0 1.5 0 1.5 0 1.5 0 1.5 0 1.5 0 1.5 0 1.5 0 1.5 0 1.5 0 1.5 0 1.5 0 1.5 0 1.5 0 1.5 0 1.5 0 1.5 0 1.5 0 1.5 0 1.5 0 1.5 0 1.5 0 1.5 0 1.5 0 1.5 0 1.5 0 1.5 0 1.5 0 1.5 0 1.5 0 1.5 0 1.5 0 1.5 0 1.5 0 1.5 0 1.5 0 1.5 0 1.5 0 1.5 0 1.5 0 1.5 0 1.5 0 1.5 0 1.5 0 1.5 0 1.5 0 1.5 0" stroke-dasharray="18 10.3"/>
<path d="M150 565l0.5 -0 0.5 0 0.5 -0 0.5 0.1 0.5 -0.2 0.5 0.2 0.5 -0.3 0.5 0.4 0.5 -0.5 0.5 0.6 0.5 -0.7 0.5 0.7 0.5 -0.7 0.5 0.8 0.5 -1 0.5 1.1 0.5 -1.2 0.5 1.3 0.5 -1.3 0.5 1.4 0.5 -1.5 0.5 1.4" stroke-dasharray="9 8"/>
<path d="M161.5 564.2L162 564.2L162.5 564.2L163 564.1L163.5 564.1L164 564.1L164.5 564.1L165 564.1L165.5 564L166 564L166.5 564L167 564L167.5 564L168 564L168.5 563.9L169 563.9L169.5 563.9L170 563.9L170.5 563.9L171 563.8L171.5 563.8L172 563.8L172.5 563.8L173 563.7L173.5 563.7L174 563.7L174.5 563.7L175 563.6L175.5 563.6L176 563.6L176.5 563.5L177 563.5L177.5 563.5L178 563.5L178.5 563.4L179 563.4L179.5 563.4L180 563.3L180.5 563.3L181 563.3L181.5 563.3L182 563.2L182.5 563.2L183 563.1L183.5 563.1L184 563L184.5 563L185 562.9L185.5 562.8L186 562.8L186.5 562.8L186.9 562.8L187.4 562.4L187.8 562.1L188.2 561.5L188.6 561.1L189 560.8L189.5 560.4L190 560.2L190.5 560L191 559.8L191.5 559.6L192 559.4L192.5 559.2L193 559L193 561L192.5 561.4L192 561.8L191.5 562.2L191 562.6L190.5 563.2L190 563.7L189.5 564.4L189 565.2L188.6 566.2L188.2 567.7L187.8 569.8L187.4 590.8L186.9 570.5L186.5 568.4L186 567.2L185.5 567.3L185 567.3L184.5 567.3L184 567.3L183.5 567.3L183 567.3L182.5 567.3L182 567.3L181.5 567.3L181 567.3L180.5 567.3L180 567.3L179.5 567.3L179 567.3L178.5 567.3L178 567.4L177.5 567.4L177 567.4L176.5 567.4L176 567.4L175.5 567.4L175 567.4L174.5 567.4L174 567.4L173.5 567.3L173 567.3L172.5 567.3L172 567.2L171.5 567.2L171 567.1L170.5 567.1L170 567L169.5 567L169 566.9L168.5 566.8L168 566.7L167.5 566.7L167 566.6L166.5 566.5L166 566.4L165.5 566.3L165 566.3L164.5 566.2L164 566.1L163.5 566L163 566L162.5 565.9L162 565.9L161.5 565.8Z" fill="#00ff00"/>
<path d="M161 565.6l0.5 -1.3 0.5 1.4 0.5 -1.5 0.5 1.6 0.5 -1.7 0.5 1.9 0.5 -2 0.5 2.2 0.5 -2.2 0.5 2.3 0.5 -2 0.5 2.1 0.5 -2.3 0.5 2.7 0.5 -3 0.5 2.9 0.5 -2.5 0.5 3 0.5 -3.8 0.5 4.2 0.5 -4.3 0.5 4.2 0.5 -3.6 0.5 3.4 0.5 -3.5 0.5 3.4 0.5 -3.9 0.5 4.5 0.5 -4.5 0.5 4 0.5 -3.8 0.5 3.5 0.5 -3.2 0.5 3.7 0.5 -4 0.5 4 0.5 -4.2 0.5 4.4 0.5 -4.5 0.5 4.9 0.5 -5.1 0.5 4.4 0.5 -4.4 0.5 4.1 0.5 -4.1 0.5 4.5 0.5 -4.4 0.5 4.4 0.5 -4.6 0.5 4.4 0.5 -3.9 0.4 7 0.5 21.6 0.4 -23 0.4 -7.4 0.4 4.6 0.4 -5.4 0.5 3.3 0.5 -3.8 0.5 2.7 0.5 -3.2 0.5 2.1 0.5 -2.6 0.5 2.1 0.5 -2.6"/>
<path d="M193 558.8l0.5 2 0.5 -2.4 0.5 1.8 0.5 -2.2 0.5 1.4 0.5 -2 0.5 1.4 0.5 -1.9 0.5 1.5 0.5 -2.1 0.5 1.6 0.5 -2.2 0.5 1.7 0.5 -2.6 0.5 2 0.5 -2.4 0.5 1.6 0.5 -2.1 0.5 1.3 0.5 -1.9 0.5 1.4 0.5 -2.2 0.5 1.3 0.5 -2.1 0.5 1.7 0.5 -2.2 0.5 1.3 0.5 -2 0.5 1 0.5 -1.7 0.5 1.1 0.5 -2.1 0.5 1.4 0.5 -2.2 0.5 1.4 0.5 -2.3 0.5 1.6 0.5 -2.5 0.5 1.5 0.5 -2.2 0.5 1.5 0.5 -2.4 0.5 1.2 0.5 -2 0.5 1 0.5 -2.1 0.5 1.4 0.5 -2.1 0.5 1.2 0.5 -2.4 0.5 1.6 0.5 -2.3 0.5 1.4 0.5 -2.4 0.5 1.2 0.5 -2 0.5 1.1 0.5 -1.9 0.5 1.3 0.5 -2.2 0.4 1.5 0.5 -2.4 0.5 1.3 0.5 -2 0.5 1.1 0.5 -1.9 0.5 1.1 0.5 -1.9 0.5 1.1 0.5 -2.1 0.5 1.2 0.5 -2 0.5 1.2 0.5 -2.2 0.4 1.2 0.5 -2.2 0.5 1.2 0.5 -2 0.5 0.9 0.5 -1.8 0.5 0.9 0.5 -2 0.5 0.8 0.5 -2 0.4 0.9 0.5 -2.1 0.5 0.8 0.5 -2 0.5 0.8 0.5 -1.9 0.5 0.5 0.5 -1.9 0.5 0.6 0.4 -2.1 0.5 0.6 0.5 -1.9 0.5 0.5 0.5 -1.7 0.5 0.1 0.5 -1.5 0.5 0.1 0.4 -1.6 0.5 0.1 0.5 -1.5 0.5 0 0.5 -1.5 0.4 0 0.5 -1.3 0.5 0 0.5 -1.4 0.4 0 0.5 -1.2 0.5 -0.1 0.5 -1.3 0.4 -0.3 0.5 -1.2 0.5 -0.6 0.5 -1.2 0.5 -0.9 0.4 -1.2 0.5 -1.2" stroke-dasharray="9 8"/>
<path d="M252.6 499l0.6 -1.8 0.5 -2.4 0.6 -2.7 0.5 -3 0.6 -3.1 0.5 -3.1 0.6 -2.9 0.2 -1.2 0.3 -1.1 0.2 -1.1 0.3 -1.3 0.2 -1.6 0.3 -1.9 0.2 -2.5 0.3 -3.3 0.2 -5.2 0.3 -10.8 0.2 9.8 0.2 5.6 0.2 3.4 0.2 2.5 0.2 2 0.2 1.7 0.2 1.5 0.2 1.3 0.2 1.1 0.2 1.1 0.5 2.8 0.5 2.8 0.5 2.5 0.5 1.9" stroke-dasharray="18 10.3"/>
<path d="M263 490l0.5 1.4 0.5 1.5 0.5 1 0.5 1.4 0.5 0.4 0.5 1.1 0.5 0.1 0.5 1 0.5 0 0.5 0.9 0.5 -0.1 0.5 0.8 0.5 -0.2 0.5 0.9 0.5 -0.3 0.5 0.8 0.5 -0.2 0.5 0.7 0.5 -0.1 0.5 0.6 0.4 -0.2 0.5 0.8 0.5 -0.2 0.5 0.7 0.5 -0.3 0.4 0.7 0.5 -0.2 0.5 0.6 0.5 -0.2 0.5 0.6 0.4 -0.2 0.5 0.6 0.5 -0.3 0.5 0.6 0.5 -0.3 0.4 0.6 0.5 -0.3 0.5 0.6 0.5 -0.5 0.5 0.6 0.5 -0.4 0.5 0.5 0.5 -0.4 0.5 0.5 0.5 -0.4 0.5 0.4 0.5 -0.4 0.5 0.5 0.4 -0.3 0.5 0.4 0.5 -0.4 0.5 0.5 0.5 -0.3 0.5 0.5 0.5 -0.4 0.5 0.6 0.5 -0.3 0.5 0.5 0.5 -0.2 0.5 3.4 0.5 5 0.5 -4.7 0.5 -3.3 0.5 0.5 0.5 -0.4 0.5 0.6 0.5 -0.5 0.5 0.5 0.5 -0.5 0.5 0.5 0.5 -0.3 0.5 0.5 0.5 -0.4 0.5 0.5 0.5 -0.3 0.5 0.5 0.5 -0.4 0.5 0.6 0.5 -0.5 0.5 0.6 0.5 -0.5 0.5 0.5 0.5 -0.4 0.5 0.4 0.4 -9.2 0.5 -15.1 0.4 -39.9 0.5 91 0.4 -16.1 0.4 -5.9 0.4 -4.2 0.5 0.4 0.5 -0.4 0.5 0.4 0.5 -0.4 0.5 0.5 0.5 -0.4 0.5 0.5 0.5 -0.4 0.5 0.4 0.5 -0.3 0.5 0.4 0.5 -0.3 0.5 0.4 0.5 -0.4 0.5 0.5 0.5 -0.4 0.5 0.6 0.5 -0.4 0.5 0.5 0.5 -0.4 0.5 0.4 0.5 -0.3 0.5 0.4 0.5 -0.3 0.5 0.4 0.5 -0.3 0.5 0.4 0.5 -0.4 0.5 0.4 0.5 -0.4 0.5 0.5 0.5 -0.4 0.5 0.5 0.5 -0.4 0.5 0.5 0.5 -0.5 0.5 0.6 0.5 -0.5 0.5 0.5 0.5 -0.4 0.5 0.5 0.5 -0.4 0.5 0.4 0.5 -0.4 0.5 0.4 0.5 -0.3 0.5 0.4 0.5 -0.4 0.5 0.5 0.5 -0.4 0.5 0.4 0.5 -0.3 0.5 0.4 0.5 -0.4 0.5 0.6 0.5 -0.6 0.5 0.6 0.5 -0.5 0.5 0.5 0.5 -0.4 0.5 0.5 0.5 -0.4 0.5 0.4 0.5 -0.4 0.5 0.5 0.5 -0.5 0.5 0.5 0.5 -0.4 0.5 0.5 0.5 -0.5 0.5 0.5 0.5 -0.4 0.5 0.4 0.5 -0.4 0.5 0.5 0.5 -0.4"/>
</g>
<g stroke="#ff00ff" stroke-width="2.7">
<path d="M46.5 612.5l1.5 -0 1.4 -0.1 1.5 -0 1.4 -0.1 1.5 -0.1 1.4 -0 1.5 -0.1 1.5 -0.1 1.4 -0.1 1.5 -0 1.4 -0.1 1.5 -0.1 1.4 -0.1 1.5 -0.1 1.4 -0.1 1.5 -0.1 1.5 -0.1 1.4 -0.1 1.5 -0.1 1.4 -0.2 1.5 -0.1 1.4 -0.1 1.5 -0.1 1.5 -0.1 1.5 -0.1 1.4 -0.2 1.5 -0.1 1.5 -0.1 1.5 -0.1 1.4 -0.2 1.5 -0.1 1.5 -0.2 1.5 -0.1 1.5 -0.2 1.4 -0.1 1.5 -0.2 1.5 -0.2 1.5 -0.2 1.4 -0.2 1.5 -0.3 1.5 -0.2 1.5 -0.2 1.4 -0.3 1.5 -0.3 1.5 -0.3" stroke-dasharray="18 10.3"/>
<path d="M112.5 606.5l0.5 -0.1 0.5 -0.1 0.5 -0.2 0.5 -0.2 0.5 -0.2 0.5 -0.1 0.5 -0.3 0.5 -0.1 0.5 -0.4 0.5 -0.1 0.5 -0.4 0.5 -0 0.5 -0.5 0.5 -0 0.5 -0.6 0.5 0.1 0.5 -0.7 0.5 0.2 0.5 -0.7 0.5 0.2 0.5 -0.7 0.5 0.3 0.5 -0.8 0.5 0.4 0.5 -0.8" stroke-dasharray="9 8"/>
<path d="M125.5 600.4L126 600.2L126.5 600L126.9 599.8L127.4 599.6L127.9 599.4L128.4 599.2L128.9 599L129.3 598.8L129.8 598.6L130.3 598.4L130.8 598.2L131.3 598L131.8 597.8L132.2 597.6L132.7 597.4L133.2 597.2L133.7 597.1L134.2 596.9L134.7 596.7L135.2 596.5L135.6 596.3L136.1 596.1L136.6 595.9L137.1 595.7L137.6 595.5L138.1 595.3L138.6 595.1L139.1 594.9L139.6 594.7L140.1 594.4L140.6 594.2L141.1 594L141.6 593.8L142.1 593.6L142.6 593.4L143.1 593.2L143.5 593L144 592.8L144.5 592.6L145 592.4L145.5 592.2L146 592L146.5 591.8L147 591.6L147.5 591.3L148 591.1L148.5 590.9L149 590.7L149.5 590.5L150 590.2L150.5 590L151 589.8L151.5 589.6L152 589.3L152.5 589.1L152.9 588.9L153.4 588.7L153.9 588.4L154.4 588.2L154.9 587.9L155.4 587.7L155.9 587.5L156.4 587.2L156.9 587L157.4 586.7L157.9 586.5L158.3 586.2L158.8 586L159.3 585.8L159.8 585.5L160.3 585.3L160.8 585L161.3 584.7L161.8 584.5L162.3 584.2L162.8 584L163.2 583.7L163.7 583.5L164.2 583.2L164.7 582.9L165.2 582.7L165.7 582.4L166.2 582.1L166.7 581.9L167.2 581.6L167.7 581.3L168.1 581L168.6 580.8L169.1 580.5L169.6 580.2L170.1 580L170.6 579.7L171.1 579.4L171.6 579.1L172.1 578.9L172.6 578.6L173 578.3L173.5 578.1L174 577.8L174.5 577.5L175 577.2L175.5 576.9L176 576.6L176.5 576.3L177 575.9L177.5 575.6L178 575.2L178.5 574.7L179 574.2L179.5 573.6L180 573L180.5 572.4L181 571.8L181.5 571.1L182 570.5L182.5 569.9L183 569.4L183.5 568.9L184 568.4L184.5 568L185 567.7L185.5 567.4L186 567.2L186.5 567L187 566.8L187.5 566.6L188 566.4L188.5 566.2L189 566.1L189.5 565.9L190 565.8L190.5 565.6L191 565.5L191.5 565.4L192 565.2L192.5 565.1L193 564.9L193.5 564.8L194 564.6L194.5 564.4L195 564.2L195.5 564L196 563.8L196.5 563.6L197 563.4L197.5 563.2L198 562.9L198.5 562.7L199 562.5L199.5 562.3L200 562.1L200.5 561.8L201 561.6L201.5 561.4L202 561.1L202.5 560.9L203 560.6L203.5 560.4L204 560.1L204.5 559.9L205 559.6L205.5 559.3L206 559L206.5 558.7L207 558.4L207.5 558.1L208 557.8L208.5 557.5L209 557.2L209.5 556.9L210 556.5L210.5 556.1L211 555.7L211.5 555.3L212 554.9L212.5 554.5L213 554L213.5 553.6L214 553.1L214.5 552.6L215 552.1L215.5 551.6L216 551.1L216.5 550.6L217 550.1L217.5 549.6L218 549L218.5 548.5L219 548L219.5 547.5L220 547L220.5 546.5L221 546L221.5 545.5L222 545L222.5 544.5L223 544L223.5 543.5L224 543L224.5 542.5L225 541.9L225.5 541.4L226 540.9L226.5 540.4L227 539.8L227.5 539.3L228 538.7L228.5 538.2L229 537.6L229.5 537L230 536.5L230.5 535.9L231 535.3L231.5 534.7L232 534L232.5 533.4L233 532.8L233.5 532.1L234 531.6L234.5 531L235 530.5L235.5 530L236 529.5L236.5 528.9L237 528.2L237.5 527.5L238 526.7L238.5 525.7L239 524.6L239.5 523.3L240 521.8L240.4 519.4L240.8 515.3L241.3 510.2L241.7 504.8L242.1 498.5L242.6 488.6L243 462L243.5 480.5L244 499L244.4 517.5L244.9 536L245.4 554.5L245.4 554.5L244.9 536L244.4 517.5L244 499L243.5 480.5L243 462L242.6 488.9L242.1 498.8L241.7 505.2L241.3 510.6L240.8 515.6L240.4 519.6L240 522.2L239.5 524.1L239 525.8L238.5 527.4L238 528.7L237.5 529.9L237 530.9L236.5 531.9L236 532.8L235.5 533.6L235 534.3L234.5 535L234 535.7L233.5 536.5L233 537.2L232.5 538L232 538.8L231.5 539.5L231 540.2L230.5 540.9L230 541.6L229.5 542.3L229 542.9L228.5 543.5L228 544.1L227.5 544.7L227 545.3L226.5 545.9L226 546.4L225.5 547L225 547.5L224.5 548.1L224 548.6L223.5 549.2L223 549.7L222.5 550.2L222 550.8L221.5 551.3L221 551.9L220.5 552.4L220 553L219.5 553.6L219 554.2L218.5 554.7L218 555.3L217.5 555.9L217 556.5L216.5 557.1L216 557.7L215.5 558.3L215 558.9L214.5 559.5L214 560.1L213.5 560.6L213 561.1L212.5 561.7L212 562.2L211.5 562.7L211 563.2L210.5 563.6L210 564L209.5 564.4L209 564.8L208.5 565.1L208 565.5L207.5 565.8L207 566.1L206.5 566.4L206 566.7L205.5 567L205 567.3L204.5 567.5L204 567.8L203.5 568.1L203 568.3L202.5 568.6L202 568.8L201.5 569L201 569.3L200.5 569.5L200 569.7L199.5 569.9L199 570.1L198.5 570.4L198 570.6L197.5 570.8L197 571L196.5 571.2L196 571.4L195.5 571.6L195 571.8L194.5 572L194 572.2L193.5 572.4L193 572.5L192.5 572.7L192 572.8L191.5 573L191 573.1L190.5 573.2L190 573.4L189.5 573.5L189 573.7L188.5 573.8L188 574L187.5 574.2L187 574.4L186.5 574.6L186 574.8L185.5 575L185 575.3L184.5 575.6L184 575.9L183.5 576.2L183 576.5L182.5 576.9L182 577.3L181.5 577.8L181 578.3L180.5 578.9L180 579.5L179.5 580.2L179 581L178.5 581.8L178 582.8L177.5 584.8L177 587.9L176.5 615.8L176 589.6L175.5 586.5L175 584.8L174.5 584.8L174 584.9L173.5 585L173 585.1L172.6 585.2L172.1 585.4L171.6 585.6L171.1 585.8L170.6 586L170.1 586.2L169.6 586.4L169.1 586.7L168.6 586.9L168.1 587.2L167.7 587.5L167.2 587.7L166.7 588L166.2 588.3L165.7 588.6L165.2 588.8L164.7 589.1L164.2 589.4L163.7 589.6L163.2 589.9L162.8 590.1L162.3 590.4L161.8 590.6L161.3 590.8L160.8 591L160.3 591.2L159.8 591.4L159.3 591.6L158.8 591.7L158.3 591.9L157.9 592.1L157.4 592.3L156.9 592.5L156.4 592.7L155.9 592.8L155.4 593L154.9 593.2L154.4 593.3L153.9 593.5L153.4 593.7L152.9 593.8L152.5 594L152 594.2L151.5 594.3L151 594.5L150.5 594.6L150 594.8L149.5 594.9L149 595L148.5 595.2L148 595.3L147.5 595.4L147 595.6L146.5 595.7L146 595.8L145.5 595.9L145 596.1L144.5 596.2L144 596.3L143.5 596.4L143.1 596.5L142.6 596.7L142.1 596.8L141.6 596.9L141.1 597L140.6 597.1L140.1 597.3L139.6 597.4L139.1 597.5L138.6 597.6L138.1 597.7L137.6 597.9L137.1 598L136.6 598.1L136.1 598.3L135.6 598.4L135.2 598.5L134.7 598.6L134.2 598.8L133.7 598.9L133.2 599L132.7 599.1L132.2 599.3L131.8 599.4L131.3 599.5L130.8 599.7L130.3 599.8L129.8 599.9L129.3 600.1L128.9 600.2L128.4 600.3L127.9 600.5L127.4 600.6L126.9 600.8L126.5 600.9L126 601.1L125.5 601.2Z" fill="#ff00ff"/>
<path d="M125 600.7l0.5 0.5 0.5 -1 0.5 0.6 0.4 -1.1 0.5 0.9 0.5 -1.3 0.5 1.1 0.5 -1.4 0.4 1 0.5 -1.5 0.5 1.4 0.5 -1.7 0.5 1.3 0.5 -1.5 0.4 1.1 0.5 -1.5 0.5 1.3 0.5 -1.7 0.5 1.7 0.5 -2 0.5 1.5 0.4 -2 0.5 2 0.5 -2.6 0.5 2.1 0.5 -2.3 0.5 2.1 0.5 -2.5 0.5 2.5 0.5 -3.2 0.5 2.7 0.5 -2.8 0.5 2.4 0.5 -3.3 0.5 3.1 0.5 -3.2 0.5 3.2 0.4 -3.8 0.5 3.6 0.5 -3.6 0.5 2.9 0.5 -3.3 0.5 3.6 0.5 -3.9 0.5 3.3 0.5 -4 0.5 3.6 0.5 -3.6 0.5 3.2 0.5 -3.6 0.5 3.7 0.5 -4.7 0.5 4.7 0.5 -5.5 0.5 4.6 0.5 -4.6 0.4 4.4 0.5 -4.7 0.5 4.2 0.5 -4.6 0.5 5.1 0.5 -6.3 0.5 6 0.5 -6 0.5 4.8 0.5 -5.4 0.5 5.9 0.4 -7.3 0.5 6.6 0.5 -6.7 0.5 6.1 0.5 -6.1 0.5 5.4 0.5 -5.6 0.5 5.2 0.5 -5.7 0.5 5.6 0.4 -5.6 0.5 5.1 0.5 -6.1 0.5 5 0.5 -5.7 0.5 5.1 0.5 -5.5 0.5 5.5 0.5 -7.1 0.5 6.8 0.4 -6.3 0.5 5.5 0.5 -5.9 0.5 4.7 0.5 -5.5 0.5 5.1 0.5 -5.9 0.5 6.4 0.5 -6.9 0.5 6.2 0.4 -7.1 0.5 7.3 0.5 -7.3 0.5 6.9 0.5 -7 0.5 7.9 0.5 -8.3 0.5 39.6 0.5 -41.3 0.5 8.5 0.5 -9.2 0.5 7.8 0.5 -8.8 0.5 6.8 0.5 -7.5 0.5 5.3 0.5 -6.3 0.5 4.8 0.5 -5.8 0.5 4.8 0.5 -6.1 0.5 5.3 0.5 -6 0.5 6.1 0.5 -7.8 0.5 7.8 0.5 -7.8 0.5 7 0.5 -8.2 0.5 8.1 0.5 -7.7 0.5 7 0.5 -8 0.5 7 0.5 -6.5 0.5 7.6 0.5 -8.1 0.5 6.8 0.5 -7 0.5 7.4 0.5 -7.9 0.5 8.7 0.5 -8.8 0.5 7.6 0.5 -8.5 0.5 7 0.5 -6.9 0.5 6.2 0.5 -7 0.5 7.2 0.5 -7.3 0.5 6.8 0.5 -7 0.5 6.9 0.5 -9 0.5 8.4 0.5 -7.9 0.5 7.8 0.5 -7.9 0.5 6.8 0.5 -7.5 0.5 7.6 0.5 -7.6 0.5 6.6 0.5 -8.1 0.5 8 0.5 -8.4 0.5 7.7 0.5 -7.2 0.5 6.6 0.5 -8 0.5 6.6 0.5 -7.5 0.5 7.2 0.5 -7 0.5 6.7 0.5 -7.7 0.5 6 0.5 -7 0.5 5.6 0.5 -6.1 0.5 5.4 0.5 -7.2 0.5 7 0.5 -7.7 0.5 7.5 0.5 -8.7 0.5 7.1 0.5 -8.4 0.5 6.3 0.5 -7.1 0.5 5.4 0.5 -7.1 0.5 6.5 0.5 -7.2 0.5 6.1 0.5 -6.3 0.5 5.1 0.5 -6.5 0.5 4.7 0.5 -5 0.5 4.1 0.5 -5.5 0.5 4.4 0.5 -5.7 0.5 4.7 0.5 -5.4 0.5 4.4 0.5 -6.3 0.5 5.2 0.5 -5.4 0.5 3.9 0.5 -5.4 0.5 4.7 0.5 -5.4 0.5 3.8 0.5 -5.1 0.5 3.5 0.5 -4.7 0.5 3.7 0.5 -5.1 0.5 3.6 0.5 -5.4 0.5 3.7 0.5 -4.2 0.5 3.2 0.5 -4.6 0.5 2.6 0.5 -3.7 0.5 2 0.5 -3.6 0.5 0.6 0.5 -2.5 0.5 -0.5 0.5 -2.4 0.4 -2.2 0.4 -4.3 0.5 -4.7 0.4 -5.9 0.4 -5.8 0.5 -10.3 0.4 -26.6 0.5 18.5 0.5 18.5 0.4 18.5 0.5 18.5 0.5 18.5"/>
<path d="M245.4 554.5l0.3 -7.1 0.3 -3.1 0.3 -2 0.3 -1.4 0.3 -1.2 0.3 -0.9 0.3 -0.9 0.3 -0.7 0.3 -0.6 0.3 -0.5 0.3 -0.5 0.3 -0.6 1.2 -2.5 1.2 -2.6 1.2 -2.7 1.2 -2.7 1.2 -2.8 1.2 -2.8 1.2 -2.9 1.1 -2.7 1.1 -2.6 1.2 -2.8 1.1 -2.8 1.1 -3.1 0.8 -2.3 0.8 -2.2 0.8 -2.5 0.8 -2.8 0.8 -3.2 0.4 -2.1 0.5 -2.4 0.4 -2.8 0.4 -2.9 0.4 -3 0.5 -2.9 0.4 -2.9 0.2 -1.1 0.1 -1.1 0.2 -1.3 0.2 -1.5 0.2 -1.7 0.1 -2.1 0.2 -2.4 0.2 -3.4 0.1 -5.7 0.2 -8.7 0.2 9 0.2 5.5 0.1 3.4 0.2 2.5 0.2 2 0.2 1.7 0.2 1.4 0.1 1.3 0.2 1.1 0.2 1.1" stroke-dasharray="18 10.3"/>
<path d="M273.5 470l0.5 3 0.4 3 0.5 3.3 0.5 2.7 0.5 3 0.4 2.1 0.5 2.1 0.5 1 0.5 1.8 0.4 0.9 0.5 1.6 0.5 0.6 0.5 1.4 0.5 0.4 0.4 1.1 0.5 0.3 0.5 0.9 0.5 0.1 0.5 0.8 0.5 0 0.4 0.9 0.5 -0.1 0.5 0.8 0.5 -0.1 0.5 0.9 0.5 -0.2 0.4 0.8 0.5 -0.2 0.5 0.8 0.5 -0.2 0.5 0.7 0.5 -0.2 0.4 0.7 0.5 -0.2 0.5 0.6 0.5 -0.2 0.5 0.6 0.5 -0.3 0.4 0.6 0.5 -0.3 0.5 0.6 0.5 -0.3 0.5 0.5 0.5 -0.3 0.5 0.5 0.5 -0.3 0.5 0.6 0.5 -0.3 0.5 0.5 0.5 -0.3 0.4 0.5 0.5 -0.4 0.5 0.6 0.5 -0.4 0.5 0.5 0.5 -0.4 0.5 0.6 0.5 -0.4 0.5 0.5 0.5 -0.4 0.5 0.5 0.5 -0.4 0.5 0.6 0.5 -0.5 0.5 0.6 0.5 -0.4 0.4 0.5 0.5 -0.4 0.5 0.5 0.5 -0.4 0.5 0.5 0.5 -0.4 0.5 0.5 0.5 -0.3 0.5 0.4 0.5 -0.3 0.5 0.4 0.5 -0.4 0.5 0.5 0.5 -0.4 0.5 0.5 0.5 -0.3 0.5 0.4 0.5 -0.4 0.5 0.5 0.5 -0.4 0.5 0.5 0.5 -0.4 0.5 0.5 0.5 -0.4 0.5 0.5 0.5 -0.3 0.5 0.4 0.5 -0.4 0.5 0.5 0.5 -0.4 0.5 0.5 0.5 -0.4 0.5 0.4 0.5 -0.3 0.5 0.4 0.5 -0.3 0.5 0.4 0.5 -0.3 0.5 0.4 0.5 -0.4 0.5 0.5 0.5 -0.4 0.5 0.5 0.5 -0.4 0.5 0.5 0.5 -0.4 0.5 0.4 0.5 -0.3 0.5 0.4 0.5 -0.4 0.5 0.4 0.5 -0.3 0.5 0.5 0.5 -0.4 0.5 0.4 0.5 -0.4 0.5 0.5 0.5 -0.4 0.5 0.5 0.5 -0.5 0.5 0.5 0.5 -0.4 0.5 0.5 0.5 -0.5 0.5 0.5 0.5 -0.4 0.5 0.4 0.5 -0.4 0.5 0.5 0.5 -0.5 0.5 0.5 0.5 -0.4 0.5 0.4 0.5 -0.4 0.5 0.5 0.5 -0.4 0.5 0.4 0.5 -0.5 0.5 0.5 0.5 -0.4"/>
</g>
</g>
<g clip-path="url(#cp2)" fill="none" stroke-linejoin="round">
<g stroke="#0000ff" stroke-width="4">
<path d="M346 492l1.5 0 1.5 0 1.5 0 1.5 0 1.5 0 1.4 0 1.5 0 1.5 0 1.5 0 1.5 0 1.5 0 1.5 0 1.5 0 1.5 0 1.5 0 1.4 0 1.5 0 1.5 0 1.5 0 1.5 0 1.5 0 1.5 0 1.5 0 1.5 0 1.5 0 1.5 0 1.4 0 1.5 0 1.5 0 1.5 0 1.5 0 1.5 0 1.5 0 1.5 0 1.5 0 1.5 0 1.5 0 1.4 0 1.5 0 1.5 0 1.5 0 1.5 0 1.5 0 1.5 0 1.5 0 1.5 0 1.5 0 1.4 0 1.5 0 1.5 0 1.5 0 1.5 0 1.5 0"/>
<path d="M425.5 492L426 492L426.5 492L427 492L427.5 492L428 492L428.5 491.9L429 491.9L429.5 491.9L430 491.9L430.5 491.9L431 491.8L431.5 491.8L432 491.8L432.5 491.8L433 491.7L433.5 491.7L434 491.7L434.5 491.7L435 491.7L435.5 491.6L436 491.6L436.5 491.6L437 491.6L437.5 491.6L438 491.6L438.5 491.6L439 491.6L439.5 491.6L440 491.6L440.5 491.6L441 491.6L441.5 491.6L442 491.6L442.5 491.6L443 491.6L443.5 491.6L444 491.6L444.5 491.6L445 491.6L445.5 491.6L446 491.6L446.5 491.6L447 491.6L447.5 491.6L448 491.6L448.5 491.6L449 491.6L449.5 491.6L450 491.6L450.5 491.6L451 491.6L451.5 491.6L452 491.6L452.5 491.6L453 491.6L453.5 491.6L454 491.6L454.5 491.6L455 491.6L455.5 491.7L456 491.7L456.5 491.7L457 491.7L457.5 491.7L458 491.8L458.5 491.8L459 491.8L459.5 491.8L460 491.9L460.5 491.9L461 491.9L461.5 492L462 492L462.5 492L463 492.1L463.5 492.1L464 492.1L464.5 492.2L465 492.2L465.5 492.2L466 492.3L466.5 492.3L467 492.3L467.4 492.4L467.9 492.4L468.4 492.5L468.9 492.5L469.4 492.5L469.9 492.6L470.4 492.6L470.9 492.7L471.4 492.7L471.9 492.8L472.4 492.8L472.9 492.9L473.3 492.9L473.8 493L474.3 493L474.8 493.1L475.3 493.1L475.8 493.2L476.3 493.2L476.8 493.2L477.3 493.3L477.8 493.4L478.3 493.5L478.8 493.6L479.3 493.7L479.8 493.8L480.3 494L480.8 494.1L481.3 494.2L481.8 494.3L482.3 494.4L482.8 494.5L483.3 494.6L483.8 494.6L484.3 494.7L484.8 494.7L485.2 494.7L485.7 494.6L486.1 494.4L486.5 494.2L487 493.9L487.4 493.6L487.8 493.3L488.3 493L488.7 492.6L489.1 492.3L489.6 492L490 491.7L490.5 491.4L491 491.1L491.5 490.7L492 490.4L492.5 490.1L493 489.8L493.5 489.4L494 489.1L494.5 488.7L495 488.4L495.5 488L496 487.7L496.5 487.3L497 486.9L497.5 486.6L498 486.2L498.5 485.8L499 485.5L499.5 485.1L499.9 484.7L500.4 484.3L500.9 483.9L501.4 483.5L501.9 483.1L502.4 482.6L502.9 482.2L503.3 481.8L503.8 481.4L504.3 481L504.8 480.6L505.3 480.2L505.8 479.8L506.2 479.4L506.7 479L507.2 478.6L507.7 478.2L508.2 477.8L508.7 477.5L509.2 477.2L509.6 476.9L510.1 476.6L510.6 476.3L511.1 476.1L511.6 475.8L512.1 475.5L512.5 475.2L513 474.9L513.5 474.6L514 474.3L514.5 474L515 473.6L515.5 473.2L515.9 472.7L516.4 472.3L516.9 471.8L517.4 471.2L517.8 470.6L518.3 470L518.7 469L519.2 467.8L519.6 466.4L520.1 465L520.5 463.5L521 460.9L521.5 456.6L522 414.9L522.5 459.1L523 463.9L523.5 466.5L524 466.6L524.5 466.8L525 467.1L525.5 467.2L526 467.2L526.5 467.2L527 467.1L527.5 467L528 466.8L528.5 466.5L529 466.1L529.4 465.7L529.9 465.1L530.4 464.5L530.9 463.9L531.4 463.2L531.8 462.5L532.3 461.9L532.8 461.3L533.3 460.8L533.8 460.2L534.3 459.7L534.7 459.2L535.2 458.7L535.7 458.2L536.2 457.7L536.6 457.2L537.1 456.7L537.6 456.2L538.1 455.7L538.6 455.1L539 454.6L539.5 454.1L540 453.5L540.5 452.9L541 452.3L541.5 451.8L542 451.2L542.4 450.6L542.9 450L543.4 449.3L543.9 448.7L544.4 448.1L544.9 447.4L545.4 446.8L545.8 446.1L546.3 445.4L546.8 444.7L547.3 444L547.8 443.2L548.3 442.5L548.7 441.8L549.2 441L549.7 440.2L550.2 439.4L550.6 438.6L551.1 437.8L551.6 436.9L552.1 436L552.5 435L553 434L553 434L552.5 435.1L552.1 436.2L551.6 437.2L551.1 438.3L550.6 439.3L550.2 440.2L549.7 441.2L549.2 442.1L548.7 443L548.3 443.9L547.8 444.8L547.3 445.6L546.8 446.4L546.3 447.2L545.8 448L545.4 448.8L544.9 449.5L544.4 450.3L543.9 451L543.4 451.7L542.9 452.4L542.4 453.1L542 453.8L541.5 454.5L541 455.1L540.5 455.8L540 456.5L539.5 457.2L539 457.8L538.6 458.5L538.1 459.1L537.6 459.7L537.1 460.3L536.6 460.9L536.2 461.5L535.7 462.2L535.2 462.8L534.7 463.4L534.3 464L533.8 464.6L533.3 465.2L532.8 465.9L532.3 466.5L531.8 467.1L531.4 467.8L530.9 468.4L530.4 469L529.9 469.6L529.4 470.3L529 470.9L528.5 471.6L528 472.3L527.5 473L527 473.8L526.5 475L526 476.8L525.5 493.8L525 473.7L524.5 471.8L524 470.5L523.5 469.5L523 468.5L522.5 467.3L522 466.7L521.5 466.2L521 466.2L520.5 466.5L520.1 467.4L519.6 469.5L519.2 472.3L518.7 475.5L518.3 478.6L517.8 481.3L517.4 482.8L516.9 483.6L516.4 484.4L515.9 485.1L515.5 485.8L515 486.3L514.5 486.9L514 487.4L513.5 487.8L513 488.2L512.5 488.6L512.1 488.9L511.6 489.3L511.1 489.6L510.6 489.9L510.1 490.2L509.6 490.5L509.2 490.8L508.7 491.1L508.2 491.5L507.7 491.8L507.2 492.2L506.7 492.5L506.2 492.8L505.8 493.2L505.3 493.5L504.8 493.8L504.3 494.1L503.8 494.4L503.3 494.7L502.9 495L502.4 495.3L501.9 495.6L501.4 495.8L500.9 496.1L500.4 496.4L499.9 496.7L499.5 497L499 497.2L498.5 497.5L498 497.8L497.5 498.1L497 498.3L496.5 498.5L496 498.7L495.5 498.9L495 499.1L494.5 499.3L494 499.5L493.5 499.7L493 499.9L492.5 500.2L492 500.5L491.5 500.9L491 501.3L490.5 501.7L490 502.3L489.6 503.3L489.1 505L488.7 507L488.3 509.5L487.8 513.1L487.4 546.8L487 515.4L486.5 512L486.1 509.7L485.7 507.8L485.2 506.2L484.8 505.3L484.3 504.8L483.8 504.3L483.3 503.9L482.8 503.5L482.3 503.2L481.8 503L481.3 502.7L480.8 502.5L480.3 502.3L479.8 502.1L479.3 501.9L478.8 501.8L478.3 501.6L477.8 501.4L477.3 501.2L476.8 501L476.3 500.8L475.8 500.6L475.3 500.3L474.8 500.1L474.3 499.9L473.8 499.6L473.3 499.4L472.9 499.2L472.4 499L471.9 498.8L471.4 498.5L470.9 498.3L470.4 498.1L469.9 497.9L469.4 497.7L468.9 497.5L468.4 497.3L467.9 497.1L467.4 496.9L467 496.7L466.5 496.6L466 496.4L465.5 496.3L465 496.1L464.5 496L464 495.9L463.5 495.8L463 495.7L462.5 495.5L462 495.4L461.5 495.3L461 495.2L460.5 495.2L460 495.1L459.5 495L459 494.9L458.5 494.8L458 494.7L457.5 494.7L457 494.6L456.5 494.5L456 494.5L455.5 494.4L455 494.4L454.5 494.3L454 494.2L453.5 494.2L453 494.1L452.5 494.1L452 494L451.5 494L451 493.9L450.5 493.9L450 493.8L449.5 493.8L449 493.8L448.5 493.7L448 493.7L447.5 493.6L447 493.6L446.5 493.5L446 493.5L445.5 493.5L445 493.4L444.5 493.4L444 493.4L443.5 493.3L443 493.3L442.5 493.2L442 493.2L441.5 493.2L441 493.1L440.5 493.1L440 493.1L439.5 493L439 493L438.5 492.9L438 492.9L437.5 492.8L437 492.8L436.5 492.7L436 492.7L435.5 492.6L435 492.6L434.5 492.6L434 492.5L433.5 492.5L433 492.4L432.5 492.4L432 492.3L431.5 492.3L431 492.3L430.5 492.2L430 492.2L429.5 492.2L429 492.1L428.5 492.1L428 492.1L427.5 492.1L427 492L426.5 492L426 492L425.5 492Z" fill="#0000ff"/>
<path d="M425 492l0.5 -0 0.5 0 0.5 -0 0.5 0 0.5 -0 0.5 0.1 0.5 -0.2 0.5 0.2 0.5 -0.2 0.5 0.3 0.5 -0.3 0.5 0.3 0.5 -0.4 0.5 0.5 0.5 -0.5 0.5 0.6 0.5 -0.6 0.5 0.7 0.5 -0.9 0.5 1 0.5 -1 0.5 1 0.5 -1 0.5 1.2 0.5 -1.2 0.5 1.3 0.5 -1.5 0.5 1.8 0.5 -1.7 0.5 1.5 0.5 -1.3 0.5 1.4 0.5 -1.4 0.5 1.3 0.5 -1.2 0.5 1.5 0.5 -1.8 0.5 1.8 0.5 -1.6 0.5 1.6 0.5 -1.5 0.5 1.5 0.5 -1.7 0.5 2.1 0.5 -2 0.5 2 0.5 -2 0.5 1.9 0.5 -2.2 0.5 2.7 0.5 -2.7 0.5 2.5 0.5 -2.4 0.5 2.4 0.5 -2.3 0.5 2.3 0.5 -2.4 0.5 2.5 0.5 -2.5 0.5 3 0.5 -2.9 0.5 3 0.5 -2.8 0.5 2.6 0.5 -2.8 0.5 3.2 0.5 -3.1 0.5 3.1 0.5 -2.8 0.5 3 0.5 -3 0.5 3 0.5 -2.6 0.5 2.6 0.5 -2.8 0.5 3.2 0.5 -3.3 0.5 3.7 0.5 -3.4 0.5 3.4 0.5 -3.3 0.5 4.1 0.5 -4.1 0.5 4.3 0.4 -4.6 0.5 5.3 0.5 -5.6 0.5 5.9 0.5 -5.2 0.5 5.4 0.5 -5.8 0.5 6.4 0.5 -6 0.5 5.6 0.5 -5.2 0.5 5.6 0.4 -4.9 0.5 5.1 0.5 -5.7 0.5 6.9 0.5 -7 0.5 7.4 0.5 -7.5 0.5 8 0.5 -7 0.5 7.1 0.5 -7.5 0.5 8 0.5 -6.8 0.5 7.3 0.5 -7.5 0.5 8 0.5 -8 0.5 7.9 0.5 -8.1 0.5 8.5 0.5 -8.2 0.5 8.5 0.5 -7.7 0.5 9.8 0.4 -10 0.5 11.2 0.4 -10.9 0.4 14 0.5 -15.1 0.4 53.6 0.4 -53.7 0.5 15.3 0.4 -15.2 0.4 9.7 0.5 -11.1 0.4 8.8 0.5 -10 0.5 9.6 0.5 -10.2 0.5 9.6 0.5 -10 0.5 8.3 0.5 -10.3 0.5 9.9 0.5 -11.1 0.5 10.6 0.5 -9.1 0.5 9.4 0.5 -10.8 0.5 9.7 0.5 -9.8 0.5 9.1 0.5 -10.4 0.5 10.1 0.5 -11.4 0.4 11.4 0.5 -10.5 0.5 9.5 0.5 -10.2 0.5 8.5 0.5 -10.3 0.5 11.8 0.4 -14.2 0.5 13.8 0.5 -13.4 0.5 11.9 0.5 -12.3 0.5 10 0.4 -10.5 0.5 10.8 0.5 -11 0.5 11 0.5 -12.9 0.5 13.6 0.5 -13.1 0.4 10.5 0.5 -11.1 0.5 11.9 0.5 -15.4 0.5 14.7 0.5 -14 0.4 12.3 0.5 -10.7 0.5 8.8 0.5 -10.8 0.5 10.1 0.5 -10.8 0.5 9.8 0.4 -9.9 0.5 8.6 0.5 -9.8 0.5 8.5 0.4 -10.4 0.5 6.9 0.4 -8.2 0.5 2.1 0.4 -5.6 0.5 0.8 0.4 -3.4 0.5 2.8 0.5 -10.1 0.5 -42.8 0.5 44.4 0.5 10.3 0.5 -2.1 0.5 4.2 0.5 -3.6 0.5 7.1 0.5 21 0.5 -18.1 0.5 -9.1 0.5 6 0.5 -6.7 0.5 5.5 0.5 -6 0.5 4.5 0.4 -5.4 0.5 4.4 0.5 -6 0.5 4.9 0.5 -5.5 0.4 3.5 0.5 -5.1 0.5 3.7 0.5 -4.6 0.5 3.9 0.5 -5.5 0.4 3.7 0.5 -4.4 0.5 4 0.5 -5 0.4 3.3 0.5 -4.2 0.5 3 0.5 -4.4 0.5 2.8 0.4 -3.3 0.5 2.3 0.5 -3.7 0.5 2.1 0.5 -3 0.5 1.8 0.5 -3.2 0.4 2.2 0.5 -3.8 0.5 2.2 0.5 -3 0.5 1.5 0.5 -2.8 0.5 1.2 0.4 -2.7 0.5 1.4 0.5 -2.9 0.5 1 0.5 -2.2 0.5 0.4 0.4 -1.8 0.5 0.2 0.5 -1.8 0.5 -0.1 0.4 -1.5 0.5 -0.5 0.5 -1.3 0.5 -0.7 0.4 -1.2 0.5 -1"/>
<path d="M553 434l1.1 -2.4 1.1 -2.5 1.1 -3.1 1.1 -4 0.2 -0.8 0.1 -0.9 0.2 -1.1 0.1 -1.1 0.2 -1.2 0.2 -1.3 0.1 -1.3 0.2 -1.5 0.1 -1.6 0.2 -1.7 0.2 -2 0.1 -2.3 0.2 -2.6 0.2 -3.1 0.1 -3.9 0.2 -5.1 0.1 -8.7 0.2 -12.8 0.1 7.7 0.2 6 0.1 3.8 0.1 2.8 0.1 2.2 0.2 1.9 0.1 1.5 0.1 1.4 0.1 1.3 0.2 1.2 0.1 1.2 0.3 3.1 0.3 3.1 0.3 3.1 0.3 2.8 0.3 2.3 0.3 1.6 1.2 3.9 1.1 2.6 1.2 2.1 1.2 2 1.3 1.7 1.2 1.4 1.3 1.3 1.4 1.3 1.3 1.3 1.4 1.2 1.4 1.1 1.4 0.9 1.3 0.7 1.4 0.5 1.5 0.4 1.5 0.3 1.5 0.2 1.5 0.3 1.4 0.2 1.5 0.2 1.5 0.1 1.5 0.2 1.5 0.1 1.5 0.1 1.4 0.2 1.5 0.1 1.5 0.1 1.5 0.2 1.4 0.1 1.5 0.1 1.5 0.2 1.4 0.1 1.5 0.1 1.5 0.1 1.4 0.1 1.5 0.2 1.5 0.1 1.5 0.1 1.4 0.1 1.5 0.1 1.5 0.1 1.4 0.1 1.5 0.1 1.5 0 1.5 0.1 1.4 0.1 1.5 0.1 1.5 0 1.4 0.1 1.5 0 1.5 0.1 1.4 0 1.5 0 1.5 0.1 1.5 -0 1.4 -0 1.5 0"/>
</g>
<g stroke="#ff0000" stroke-width="4">
<path d="M346 482.5l1.5 0 1.5 0 1.5 0 1.4 0 1.5 0 1.5 0 1.5 0 1.5 0 1.5 0 1.5 0 1.4 0 1.5 0 1.5 0 1.5 0 1.5 0 1.5 0 1.4 0 1.5 0 1.5 0 1.5 0 1.5 0 1.5 0 1.5 0 1.4 0 1.5 0 1.5 0 1.5 0 1.5 0 1.5 0 1.5 0 1.4 0 1.5 0 1.5 0 1.5 0 1.5 0 1.5 0 1.5 0 1.4 0 1.5 0 1.5 0 1.5 0 1.5 0 1.5 0 1.5 0 1.4 0 1.5 0 1.5 0 1.5 0 1.5 0 1.5 0 1.4 0 1.5 0 1.5 0 1.5 0 1.5 0 1.5 0 1.5 0 1.4 0 1.5 0 1.5 0 1.5 0"/>
<path d="M437.1 482.5L437.6 482.5L438.1 482.5L438.6 482.5L439.1 482.5L439.6 482.5L440.1 482.5L440.6 482.5L441.1 482.5L441.6 482.5L442.1 482.5L442.6 482.5L443.1 482.5L443.5 482.5L444 482.5L444.5 482.6L445 482.6L445.5 482.6L446 482.6L446.5 482.6L447 482.6L447.5 482.6L448 482.6L448.5 482.6L449 482.6L449.5 482.6L450 482.6L450.5 482.6L451 482.7L451.5 482.7L452 482.7L452.5 482.7L453 482.8L453.5 482.8L454 482.9L454.5 482.9L455 483L455.5 483L456 483.1L456.5 483.2L457 483.2L457.5 483.3L458 483.4L458.5 483.5L459 483.5L459.5 483.6L460 483.7L460.5 483.8L461 483.8L461.5 483.9L462 484L462.5 484L463 484.1L463.5 484.2L464 484.2L464.5 484.3L465 484.4L465.5 484.5L466 484.5L466.5 484.6L467 484.7L467.5 484.7L468 484.8L468.5 484.9L469 485L469.5 485.1L470 485.1L470.5 485.2L471 485.3L471.5 485.4L472 485.4L472.5 485.5L473 485.6L473.5 485.7L474 485.7L474.5 485.8L475 485.9L475.5 485.9L476 486L476.5 486.1L477 486.1L477.5 486.2L478 486.3L478.5 486.3L479 486.4L479.5 486.5L480 486.5L480.5 486.6L481 486.7L481.5 486.7L482 486.8L482.4 486.8L482.9 486.9L483.4 487L483.9 487L484.4 487.1L484.9 487.1L485.4 487.2L485.9 487.2L486.4 487.2L486.9 487.3L487.4 487.3L487.9 487.3L488.4 487.4L488.9 487.4L489.4 487.4L489.9 487.3L490.3 487.3L490.8 487.3L491.3 487.2L491.8 487.1L492.3 487.1L492.8 487L493.2 486.9L493.7 486.8L494.2 486.7L494.7 486.6L495.2 486.4L495.7 486.3L496.1 486.1L496.6 485.9L497.1 485.8L497.6 485.6L498.1 485.5L498.6 485.3L499 485.1L499.5 485L500 484.8L500.5 484.7L501 484.6L501.5 484.4L502 484.3L502.4 484.1L502.9 484L503.4 483.9L503.9 483.7L504.4 483.6L504.9 483.4L505.4 483.3L505.8 483.1L506.3 483L506.8 482.8L507.3 482.7L507.8 482.5L508.3 482.4L508.7 482.2L509.2 482.1L509.7 481.9L510.2 481.8L510.6 481.7L511.1 481.5L511.5 481.4L512 481.3L512.4 481.2L512.9 481.1L513.3 480.9L513.8 480.8L514.2 480.7L514.6 480.5L515.1 480.4L515.5 480.2L516 480L516.5 479.7L517 479.4L517.5 479L518 478.7L518.5 478.3L519 477.9L519.5 477.6L520 477.2L520.5 476.9L520.9 476.5L521.4 476.2L521.9 475.8L522.4 475.5L522.8 475.1L523.3 474.8L523.8 474.4L524.2 474.1L524.7 473.7L525.2 473.3L525.7 473L526.1 472.6L526.6 472.3L527.1 471.9L527.6 471.6L528 471.2L528.5 470.9L529 470.5L529.5 470.1L530 469.8L530.4 469.4L530.9 469.1L531.4 468.7L531.9 468.3L532.3 467.9L532.8 467.5L533.3 467.1L533.8 466.7L534.3 466.3L534.8 465.9L535.2 465.5L535.7 465L536.2 464.6L536.7 464.2L537.2 463.8L537.7 463.3L538.2 462.9L538.7 462.5L539.1 462L539.6 461.6L540.1 461.2L540.6 460.7L541.1 460.3L541.6 459.9L542.1 459.4L542.6 459L543 458.5L543.5 458.1L544 457.6L544.5 457.2L545 456.8L545.5 456.3L546 455.8L546.5 455.4L547 455L547.5 454.5L548 454.1L548.5 453.7L549 453.2L549.5 452.8L550 452.3L550.5 451.9L551 451.5L551.4 451L551.9 450.6L552.4 450.1L552.9 449.6L553.4 449.1L553.9 448.6L554.4 448.1L554.9 447.6L555.4 447.1L555.9 446.6L556.4 446L556.9 445.5L557.4 444.9L557.9 444.3L558.3 443.7L558.8 443.1L559.3 442.4L559.7 441.8L560.2 441.1L560.7 440.4L561.1 439.7L561.6 438.9L562.1 438.2L562.5 437.4L563 436.6L563.5 435.8L564 435.1L564.5 434.3L565 433.5L565.5 432.6L566 431.6L566.5 430.4L567 429L567 429L566.5 430.5L566 431.8L565.5 432.9L565 433.8L564.5 434.7L564 435.6L563.5 436.5L563 437.4L562.5 438.3L562.1 439.2L561.6 440L561.1 440.9L560.7 441.8L560.2 442.6L559.7 443.4L559.3 444.2L558.8 445L558.3 445.7L557.9 446.4L557.4 447.1L556.9 447.8L556.4 448.5L555.9 449.1L555.4 449.8L554.9 450.4L554.4 451L553.9 451.6L553.4 452.2L552.9 452.7L552.4 453.3L551.9 453.9L551.4 454.4L551 454.9L550.5 455.5L550 456L549.5 456.5L549 457L548.5 457.5L548 458.1L547.5 458.6L547 459.1L546.5 459.6L546 460.2L545.5 460.7L545 461.2L544.5 461.8L544 462.3L543.5 462.9L543 463.4L542.6 463.9L542.1 464.4L541.6 465L541.1 465.5L540.6 466L540.1 466.5L539.6 467L539.1 467.5L538.7 468.1L538.2 468.6L537.7 469.1L537.2 469.6L536.7 470.1L536.2 470.7L535.7 471.2L535.2 471.7L534.8 472.3L534.3 472.8L533.8 473.3L533.3 473.9L532.8 474.4L532.3 474.9L531.9 475.5L531.4 476L530.9 476.6L530.4 477.2L530 477.7L529.5 478.3L529 478.9L528.5 479.5L528 480.1L527.6 480.7L527.1 481.3L526.6 481.9L526.1 482.5L525.7 483.1L525.2 483.7L524.7 484.3L524.2 484.9L523.8 485.6L523.3 486.2L522.8 486.9L522.4 487.6L521.9 488.3L521.4 488.9L520.9 489.6L520.5 490.2L520 490.8L519.5 491.4L519 491.9L518.5 492.4L518 492.9L517.5 493.4L517 493.9L516.5 494.4L516 495.1L515.5 495.8L515.1 496.5L514.6 497.4L514.2 498.5L513.8 500L513.3 502.1L512.9 521.8L512.4 503.3L512 501.3L511.5 500L511.1 498.8L510.6 497.9L510.2 497.4L509.7 497.2L509.2 497L508.7 496.8L508.3 496.7L507.8 496.5L507.3 496.4L506.8 496.3L506.3 496.2L505.8 496.1L505.4 496.1L504.9 496L504.4 495.9L503.9 495.9L503.4 495.8L502.9 495.8L502.4 495.7L502 495.6L501.5 495.5L501 495.4L500.5 495.3L500 495.2L499.5 495L499 494.9L498.6 494.8L498.1 494.6L497.6 494.5L497.1 494.3L496.6 494.1L496.1 494L495.7 493.8L495.2 493.6L494.7 493.5L494.2 493.4L493.7 493.3L493.2 493.1L492.8 493L492.3 492.9L491.8 492.7L491.3 492.6L490.8 492.5L490.3 492.3L489.9 492.2L489.4 492.1L488.9 492L488.4 491.9L487.9 491.7L487.4 491.6L486.9 491.5L486.4 491.4L485.9 491.3L485.4 491.1L484.9 491L484.4 490.9L483.9 490.8L483.4 490.7L482.9 490.6L482.4 490.5L482 490.4L481.5 490.3L481 490.2L480.5 490L480 489.9L479.5 489.8L479 489.7L478.5 489.6L478 489.5L477.5 489.4L477 489.2L476.5 489.1L476 489L475.5 488.9L475 488.7L474.5 488.6L474 488.5L473.5 488.3L473 488.2L472.5 488L472 487.9L471.5 487.8L471 487.6L470.5 487.5L470 487.3L469.5 487.2L469 487L468.5 486.9L468 486.7L467.5 486.6L467 486.5L466.5 486.3L466 486.2L465.5 486.1L465 486L464.5 485.9L464 485.8L463.5 485.6L463 485.5L462.5 485.4L462 485.3L461.5 485.2L461 485.1L460.5 485L460 484.9L459.5 484.8L459 484.7L458.5 484.6L458 484.5L457.5 484.4L457 484.4L456.5 484.3L456 484.2L455.5 484.1L455 484L454.5 483.9L454 483.9L453.5 483.8L453 483.7L452.5 483.7L452 483.6L451.5 483.5L451 483.5L450.5 483.4L450 483.4L449.5 483.3L449 483.3L448.5 483.2L448 483.2L447.5 483.1L447 483.1L446.5 483.1L446 483L445.5 483L445 482.9L444.5 482.9L444 482.8L443.5 482.8L443.1 482.8L442.6 482.7L442.1 482.7L441.6 482.7L441.1 482.6L440.6 482.6L440.1 482.6L439.6 482.6L439.1 482.5L438.6 482.5L438.1 482.5L437.6 482.5L437.1 482.5Z" fill="#ff0000"/>
<path d="M436.6 482.5l0.5 0 0.5 0 0.5 0 0.5 0 0.5 0 0.5 0.1 0.5 -0.1 0.5 0.1 0.5 -0.1 0.5 0.2 0.5 -0.2 0.5 0.2 0.5 -0.2 0.4 0.3 0.5 -0.2 0.5 0.2 0.5 -0.2 0.5 0.4 0.5 -0.4 0.5 0.5 0.5 -0.5 0.5 0.5 0.5 -0.5 0.5 0.6 0.5 -0.7 0.5 0.8 0.5 -0.7 0.5 0.8 0.5 -0.7 0.5 0.8 0.5 -0.7 0.5 0.8 0.5 -0.8 0.5 0.9 0.5 -0.9 0.5 1.1 0.5 -1 0.5 1.1 0.5 -0.9 0.5 1.2 0.5 -1.1 0.5 1.2 0.5 -1.1 0.5 1.4 0.5 -1.1 0.5 1.1 0.5 -0.9 0.5 1.3 0.5 -1.2 0.5 1.3 0.5 -1.1 0.5 1.4 0.5 -1.4 0.5 1.6 0.5 -1.5 0.5 1.9 0.5 -1.9 0.5 1.9 0.5 -1.5 0.5 1.9 0.5 -1.7 0.5 1.6 0.5 -1.4 0.5 1.8 0.5 -1.6 0.5 1.8 0.5 -1.7 0.5 2.2 0.5 -2.3 0.5 2.7 0.5 -2.5 0.5 2.7 0.5 -2.4 0.5 2.3 0.5 -2.1 0.5 2.9 0.5 -3 0.5 2.9 0.5 -2.8 0.5 3.7 0.5 -3.6 0.5 3.2 0.5 -3.3 0.5 4 0.5 -3.2 0.5 3.2 0.5 -3.7 0.5 3.7 0.5 -3.1 0.5 3.1 0.5 -2.8 0.4 3.4 0.5 -3.4 0.5 3.4 0.5 -3.6 0.5 3.9 0.5 -3.9 0.5 4.3 0.5 -4.2 0.5 4.6 0.5 -4.7 0.5 4.9 0.5 -5.1 0.5 5.1 0.5 -4.3 0.5 4.5 0.5 -5.2 0.4 5.5 0.5 -5.6 0.5 6.3 0.5 -5.7 0.5 5.3 0.5 -5.1 0.4 5.3 0.5 -5.9 0.5 6.7 0.5 -7.5 0.5 7.5 0.5 -7.4 0.4 7.4 0.5 -8.7 0.5 8.9 0.5 -8.5 0.5 10.2 0.5 -8.9 0.4 7.7 0.5 -7.8 0.5 8.4 0.5 -8.8 0.5 8.7 0.5 -10.2 0.5 10.9 0.4 -10.6 0.5 10.4 0.5 -10.5 0.5 10 0.5 -9.8 0.5 9.9 0.5 -9.6 0.4 9.5 0.5 -9.6 0.5 9.8 0.5 -10.5 0.5 9.6 0.5 -10.5 0.4 10.7 0.5 -10.5 0.5 11.9 0.5 -12 0.4 11.9 0.5 -12.3 0.4 16 0.5 -17 0.4 20.9 0.5 19.8 0.4 -23.2 0.5 -18 0.4 17.3 0.4 -19.2 0.5 14.9 0.4 -14.5 0.5 15 0.5 -14.3 0.5 13.2 0.5 -15.5 0.5 13.9 0.5 -13.2 0.5 11.7 0.5 -13.3 0.5 14.3 0.5 -16.4 0.4 12.4 0.5 -10.9 0.5 10.4 0.5 -11.2 0.4 10.7 0.5 -12.6 0.5 10.9 0.4 -11.2 0.5 9.8 0.5 -11 0.5 10.3 0.4 -10.7 0.5 10.1 0.5 -10.4 0.5 8.6 0.4 -9.5 0.5 7.5 0.5 -7.7 0.5 6.5 0.5 -7.7 0.4 7.1 0.5 -8.2 0.5 7.3 0.5 -8.1 0.4 6.9 0.5 -6.9 0.5 5 0.5 -5.7 0.5 4.6 0.5 -5.7 0.5 4.8 0.4 -5.6 0.5 4.6 0.5 -5.2 0.5 4.4 0.5 -6.7 0.5 6.1 0.5 -6.4 0.4 5.6 0.5 -6.2 0.5 5 0.5 -5.8 0.5 5.1 0.5 -6 0.5 4.4 0.5 -5.3 0.4 4.3 0.5 -4.9 0.5 3.2 0.5 -4.2 0.5 3.2 0.5 -3.8 0.5 3.2 0.5 -4.7 0.5 3.4 0.5 -4 0.5 3.3 0.5 -4.5 0.5 3.2 0.5 -4.1 0.5 3.2 0.5 -3.9 0.5 2.8 0.4 -3.9 0.5 3.1 0.5 -4 0.5 2.8 0.5 -3.8 0.5 2.5 0.5 -3.2 0.5 2.3 0.5 -3.4 0.5 1.9 0.5 -2.8 0.5 1.4 0.5 -2.8 0.5 1.6 0.4 -2.9 0.5 1.3 0.5 -2.5 0.4 0.8 0.5 -2.1 0.5 0.6 0.4 -2 0.5 0.3 0.5 -1.8 0.4 0.1 0.5 -1.7 0.5 -0.1 0.5 -1.5 0.5 -0.2 0.5 -1.3 0.5 -0.6 0.5 -1.4 0.5 -1 0.5 -1.5"/>
<path d="M567 429l0.4 -1.6 0.5 -2.2 0.4 -2.5 0.4 -2.9 0.4 -3.2 0.5 -3.3 0.4 -3.3 0.1 -1 0.1 -1 0.2 -1.1 0.1 -1.2 0.1 -1.3 0.1 -1.4 0.2 -1.5 0.1 -1.7 0.1 -1.9 0.1 -2.2 0.2 -2.4 0.1 -2.9 0.1 -3.6 0.1 -5 0.2 -7.9 0.1 -9.9 0.1 9.1 0.1 7.3 0.2 4.7 0.1 3.4 0.1 2.7 0.1 2.3 0.1 2 0.2 1.8 0.1 1.6 0.1 1.4 0.1 1.3 0.2 1.2 0.1 1.1 0.1 1.1 0.3 3 0.3 3.3 0.3 3.3 0.3 3.1 0.3 2.5 0.3 1.8 0.8 3.2 0.9 2.3 0.8 1.5 1.4 1.8 1.4 1.4 1.4 1.1 1.4 0.9 1.4 0.8 1.5 0.7 1.4 0.6 1.5 0.5 1.4 0.5 1.5 0.4 1.4 0.3"/>
<path d="M594.2 438.1L594.7 438.2L595.2 438.2L595.7 438.3L596.2 438.4L596.6 438.4L597.1 438.5L597.6 438.6L598.1 438.6L598.6 438.7L599.1 438.7L599.6 438.8L600.1 438.8L600.6 438.9L601.1 438.9L601.6 439L602.1 439L602.5 439L603 439.1L603.5 439.1L604 439.1L604.5 439.1L605 439.1L605.5 439.1L606 439.1L606.5 439.1L607 439.1L607.5 439.1L608 439.2L608.5 439.2L609 439.2L609.5 439.2L610 439.2L610.5 439.2L611 439.2L611.5 439.2L612 439.2L612.5 439.2L613 439.2L613.5 439.2L614 439.2L614.5 439.2L615 439.2L615.5 439.2L616 439.2L616.5 439.2L617 439.2L617.5 439.2L618 436.2L618.5 429.9L619 373.8L619.3 423.9L619.6 430L620.1 435.2L620.5 438.8L621 440.9L621.5 440.9L622 440.9L622.5 440.9L623 440.9L623.5 440.9L624 440.9L624.5 440.9L625 440.9L625.5 440.9L626 440.9L626.5 440.9L627 440.9L627.5 440.9L628 440.9L628.5 440.9L629 440.9L629.5 440.9L630 440.9L630.5 440.9L631 440.9L631.5 440.9L632 440.9L632.5 440.9L633 440.9L633.5 440.9L634 440.9L634.5 440.9L635 440.9L635.5 440.9L636 440.9L636.5 440.9L637 440.9L637.5 441L638 441L638.5 441L639 441L639.5 441L640 441L640.5 441L641 441L641.5 441L642 441L642.5 441.1L643 441.1L643.5 441.1L644 441.1L644.5 441.1L645 441.1L645 444.9L644.5 444.8L644 444.7L643.5 444.6L643 444.5L642.5 444.4L642 444.3L641.5 444.2L641 444.1L640.5 444.1L640 444L639.5 443.9L639 443.9L638.5 443.8L638 443.7L637.5 443.7L637 443.6L636.5 443.6L636 443.6L635.5 443.5L635 443.5L634.5 443.4L634 443.4L633.5 443.4L633 443.3L632.5 443.3L632 443.3L631.5 443.3L631 443.3L630.5 443.2L630 443.2L629.5 443.2L629 443.2L628.5 443.2L628 443.2L627.5 443.2L627 443.2L626.5 443.1L626 443.1L625.5 443.1L625 443.1L624.5 443.1L624 443.1L623.5 443.1L623 443.1L622.5 443.1L622 443.1L621.5 443.1L621 443.1L620.5 444L620.1 446.1L619.6 466.8L619.3 447L619 444.6L618.5 442.4L618 441.2L617.5 440.8L617 440.7L616.5 440.6L616 440.5L615.5 440.5L615 440.4L614.5 440.4L614 440.3L613.5 440.3L613 440.2L612.5 440.2L612 440.2L611.5 440.2L611 440.2L610.5 440.1L610 440.1L609.5 440.1L609 440.1L608.5 440.1L608 440.1L607.5 440L607 440L606.5 440L606 440L605.5 439.9L605 439.9L604.5 439.8L604 439.8L603.5 439.7L603 439.7L602.5 439.6L602.1 439.5L601.6 439.5L601.1 439.4L600.6 439.3L600.1 439.2L599.6 439.2L599.1 439.1L598.6 439L598.1 438.9L597.6 438.8L597.1 438.7L596.6 438.6L596.2 438.5L595.7 438.4L595.2 438.3L594.7 438.2L594.2 438.1Z" fill="#ff0000"/>
<path d="M593.7 438l0.5 0.1 0.5 0 0.5 0.2 0.5 -0 0.5 0.2 0.4 -0.1 0.5 0.3 0.5 -0.1 0.5 0.3 0.5 -0.2 0.5 0.4 0.5 -0.3 0.5 0.4 0.5 -0.3 0.5 0.5 0.5 -0.4 0.5 0.5 0.4 -0.4 0.5 0.5 0.5 -0.5 0.5 0.7 0.5 -0.7 0.5 0.7 0.5 -0.7 0.5 0.8 0.5 -0.8 0.5 0.9 0.5 -0.7 0.5 0.7 0.5 -0.8 0.5 1 0.5 -1.1 0.5 1 0.5 -1 0.5 1 0.5 -1.1 0.5 1.3 0.5 -1.2 0.5 1.2 0.5 -1 0.5 1 0.5 -1.1 0.5 1.2 0.5 -1.1 0.5 1.2 0.5 -1.1 0.5 1.1 0.5 -1.2 0.5 1.9 0.5 -11.8 0.5 -56.8 0.3 54.6 0.3 40.8 0.5 -31.6 0.4 7.4 0.5 -2.8 0.5 1.9 0.5 -1.9 0.5 2.1 0.5 -2.1 0.5 2 0.5 -2.2 0.5 2.4 0.5 -2.3 0.5 2.5 0.5 -2.8 0.5 2.8 0.5 -2.6 0.5 2.3 0.5 -2.4 0.5 2.4 0.5 -2.4 0.5 2.5 0.5 -2.3 0.5 2.4 0.5 -2.4 0.5 2.4 0.5 -2.5 0.5 2.3 0.5 -2.1 0.5 2.6 0.5 -2.7 0.5 2.5 0.5 -2.3 0.5 2.4 0.5 -2.6 0.5 3 0.5 -2.9 0.5 2.9 0.5 -2.8 0.5 2.9 0.5 -2.9 0.5 2.9 0.5 -3.2 0.5 3.3 0.5 -2.9 0.5 2.9 0.5 -3.1 0.5 3.3 0.5 -3.2 0.5 3.4 0.5 -3 0.5 3 0.5 -3.2"/>
</g>
<g stroke="#00ff00" stroke-width="2.7">
<path d="M346 554.6l1.5 0 1.5 0 1.5 0 1.5 0 1.5 0 1.5 0 1.5 0 1.5 0 1.4 0 1.5 0 1.5 0 1.5 0 1.5 0 1.5 0 1.5 0 1.5 0 1.5 0 1.5 0 1.5 0 1.5 0 1.5 0 1.5 0 1.5 0 1.5 0 1.4 0 1.5 0 1.5 0 1.5 0 1.5 0 1.5 0 1.5 0 1.5 0 1.5 0 1.5 0 1.5 0 1.5 0 1.5 0 1.5 0 1.5 0 1.5 0 1.5 0 1.4 0 1.5 0 1.5 0 1.5 0 1.5 0 1.5 0 1.5 0 1.5 0 1.5 0 1.5 0 1.5 0 1.5 0 1.5 0 1.5 0 1.5 0 1.5 0 1.5 0 1.4 0 1.5 0 1.5 0 1.5 0 1.5 0 1.5 0 1.5 0 1.5 0 1.5 0 1.5 0 1.5 0 1.5 0 1.5 0 1.5 0 1.5 0 1.5 0 1.4 0 1.5 0 1.5 0 1.5 0 1.5 0 1.5 0 1.5 0 1.5 0 1.5 0" stroke-dasharray="18 10.3"/>
<path d="M470 554.6l0.5 -0 0.5 0 0.5 -0 0.5 0.1 0.5 -0.2 0.5 0.4 0.5 -0.6 0.5 0.7 0.5 -0.8 0.5 0.9 0.5 -1.1 0.5 1.2 0.5 -1.2 0.5 1.2 0.5 -1.5 0.5 1.6" stroke-dasharray="9 8"/>
<path d="M478.5 553.7L479 553.6L479.5 553.5L480 553.4L480.5 553.4L481 553.3L481.5 553.2L482 553.1L482.5 553L483 552.9L483.5 552.8L484 552.7L484.5 552.6L485 552.5L485.5 552.4L486 552.3L486.5 552.2L487 552.1L487.5 552L488 551.9L488.5 551.8L489 551.7L489.5 551.6L490 551.5L490.5 551.4L491 551.3L491.5 551.2L492 551.1L492.5 551L493 550.9L493.5 550.7L494 550.6L494.5 550.5L495 550.4L495.5 550.3L496 550.2L496.5 550L497 549.9L497.5 549.8L498 549.7L498.5 549.5L499 549.4L499.5 549.3L500 549.1L500.5 549L501 548.8L501.5 548.7L502 548.5L502.5 548.4L503 548.2L503.5 548L504 547.8L504.5 547.6L505 547.4L505.5 547.2L506 547L506.5 546.7L507 546.5L507.5 546.2L508 546L508.5 545.7L509 545.3L509.5 544.9L510 544.5L510.5 544.1L511 543.6L511.5 543.2L512 542.8L512.4 542.3L512.9 541.8L513.3 541.3L513.7 540.9L514.1 540.5L514.5 540.2L515 539.8L515.5 539.5L516 539.1L516.5 538.8L517 538.5L517.5 538.3L518 538.2L518.5 538.1L518.9 538.1L519.4 538L519.9 538L520.4 537.9L520.8 537.9L521.3 537.8L521.8 537.8L522.2 537.8L522.7 537.8L523.1 537.7L523.6 537.7L524.1 537.7L524.5 537.7L525 537.7L525.5 537.7L526 537.7L526.5 537.7L527 537.7L527.5 537.8L528 537.8L528.5 537.8L529 537.8L529.5 537.7L530 537.6L530.4 537.5L530.9 537.4L531.4 537.2L531.9 537.1L532.3 536.9L532.8 536.7L533.3 536.6L533.3 538.6L532.8 539.1L532.3 539.5L531.9 539.9L531.4 540.3L530.9 540.7L530.4 541.1L530 541.5L529.5 541.9L529 542.2L528.5 542.6L528 543L527.5 543.3L527 543.7L526.5 544L526 544.4L525.5 544.8L525 545.3L524.5 545.8L524.1 546.4L523.6 547.1L523.1 547.9L522.7 548.9L522.2 550.2L521.8 552.1L521.3 569.8L520.8 558L520.4 556.7L519.9 555.8L519.4 555.2L518.9 554.6L518.5 554.1L518 553.8L517.5 553.8L517 554L516.5 554.1L516 554.4L515.5 554.8L515 555.3L514.5 555.8L514.1 557L513.7 559.2L513.3 561.9L512.9 587.8L512.4 559.9L512 556.7L511.5 554.8L511 554.2L510.5 553.7L510 553.3L509.5 553L509 552.7L508.5 552.6L508 552.5L507.5 552.5L507 552.5L506.5 552.5L506 552.6L505.5 552.6L505 552.6L504.5 552.7L504 552.7L503.5 552.7L503 552.7L502.5 552.8L502 552.8L501.5 552.8L501 552.8L500.5 552.9L500 552.9L499.5 552.9L499 552.9L498.5 553L498 553.1L497.5 553.1L497 553.2L496.5 553.3L496 553.4L495.5 553.5L495 553.6L494.5 553.7L494 553.8L493.5 553.9L493 554L492.5 554.1L492 554.2L491.5 554.3L491 554.4L490.5 554.5L490 554.5L489.5 554.5L489 554.6L488.5 554.6L488 554.7L487.5 554.7L487 554.8L486.5 554.8L486 554.8L485.5 554.9L485 554.9L484.5 554.9L484 555L483.5 555L483 555L482.5 555.1L482 555.1L481.5 555.1L481 555.1L480.5 555.2L480 555.2L479.5 555.2L479 555.2L478.5 555.2Z" fill="#00ff00"/>
<path d="M478 555.3l0.5 -1.5 0.5 1.4 0.5 -1.7 0.5 1.6 0.5 -1.8 0.5 1.8 0.5 -1.9 0.5 1.8 0.5 -1.9 0.5 1.8 0.5 -2.1 0.5 2.5 0.5 -2.6 0.5 2.1 0.5 -2.3 0.5 2.1 0.5 -2.3 0.5 2.4 0.5 -2.7 0.5 2.7 0.5 -2.8 0.5 2.6 0.5 -3.1 0.5 3 0.5 -3.1 0.5 3.3 0.5 -3.9 0.5 3.7 0.5 -3.6 0.5 3.1 0.5 -3.3 0.5 2.9 0.5 -2.9 0.5 2.7 0.5 -2.8 0.5 2.8 0.5 -3.3 0.5 3 0.5 -2.9 0.5 2.7 0.5 -3.1 0.5 2.8 0.5 -2.7 0.5 2.6 0.5 -3 0.5 3.4 0.5 -4.7 0.5 4.8 0.5 -4.7 0.5 4.3 0.5 -4 0.5 3.5 0.5 -4.4 0.5 5.4 0.5 -5.8 0.5 5.5 0.5 -5.7 0.5 5.5 0.5 -6.7 0.5 6.5 0.5 -7.3 0.5 8.2 0.5 -8 0.5 7.9 0.5 -9.7 0.5 10.5 0.5 -10 0.5 10.8 0.4 -11.6 0.5 45.9 0.4 -45.4 0.4 15.3 0.4 -16.5 0.4 12 0.5 -13.6 0.5 13.6 0.5 -15 0.5 13.8 0.5 -15 0.5 13.3 0.5 -10.8 0.5 10.9 0.4 -11.6 0.5 14.1 0.5 -15.2 0.5 15.6 0.4 -16.1 0.5 32.6 0.5 -31.6 0.4 8.9 0.5 -10 0.4 9.2 0.5 -8.6 0.5 7 0.4 -7.9 0.5 6.6 0.5 -7.2 0.5 6.8 0.5 -5.9 0.5 5 0.5 -4.8 0.5 4.9 0.5 -5.5 0.5 4.1 0.5 -4.3 0.5 4 0.4 -4.3 0.5 3.7 0.5 -4.2 0.5 2.9 0.4 -3 0.5 2.2 0.5 -2.4"/>
<path d="M533.3 536.6l0.5 1.6 0.5 -2.1 0.5 1 0.5 -1.6 0.4 0.7 0.5 -1.7 0.5 0.5 0.5 -1.5 0.5 0.3 0.5 -1.5 0.5 0.5 0.4 -1.7 0.5 0.4 0.5 -1.7 0.5 0.5 0.5 -1.9 0.5 0.6 0.5 -1.9 0.5 0.7 0.4 -2.2 0.5 1.2 0.5 -2.6 0.5 1.4 0.5 -2.3 0.5 0.9 0.5 -2.4 0.5 1.4 0.5 -2.3 0.5 1.2 0.5 -2.4 0.5 1.2 0.5 -2.4 0.5 1.2 0.5 -2.4 0.5 1.2 0.5 -2.4 0.4 1.1 0.5 -2.2 0.5 0.9 0.5 -2.1 0.5 0.8 0.5 -2 0.5 0.8 0.5 -2.1 0.5 1.1 0.5 -2.6 0.5 1.3 0.5 -2.5 0.5 1 0.5 -2.3 0.4 0.8 0.5 -2 0.5 0.5 0.4 -1.8 0.5 0.4 0.5 -1.8 0.4 0.3 0.5 -1.9 0.5 0.2 0.4 -1.6 0.5 -0 0.5 -1.6 0.5 -0.1 0.5 -1.5 0.5 -0.4 0.5 -1.4 0.5 -0.8 0.5 -1.4 0.5 -1.5" stroke-dasharray="9 8"/>
<path d="M567 491.7l0.4 -1.6 0.4 -2.2 0.3 -2.6 0.4 -2.9 0.4 -3.2 0.4 -3.2 0.3 -3.1 0.4 -2.9 0.2 -1.1 0.1 -1 0.2 -1.1 0.1 -1.2 0.2 -1.4 0.1 -1.6 0.2 -1.7 0.1 -2.1 0.2 -2.4 0.1 -3 0.2 -4 0.1 -6.8 0.2 -9.6 0.1 8.2 0.1 6.7 0.1 4.4 0.2 3.3 0.1 2.5 0.1 2.1 0.1 1.8 0.1 1.6 0.1 1.5 0.2 1.3 0.1 1.2 0.1 1.2 0.1 1.2 0.3 3.3 0.3 3.3 0.3 3.2 0.3 3 0.3 2.7 0.3 2.1 0.3 1.4" stroke-dasharray="18 10.3"/>
<path d="M575.6 489l0.5 1.4 0.5 1.3 0.4 0.6 0.5 1.1 0.5 0.4 0.5 1.2 0.4 0.3 0.5 1.1 0.4 0.3 0.5 1.1 0.4 0.1 0.4 1 0.5 -0.1 0.5 0.8 0.5 -0.1 0.5 0.7 0.5 -0.1 0.5 0.7 0.5 -0.1 0.5 0.7 0.5 -0.3 0.4 0.8 0.5 -0.3 0.5 0.7 0.5 -0.3 0.5 0.6 0.5 -0.3 0.5 0.6 0.5 -0.2 0.5 0.5 0.5 -0.3 0.5 0.6 0.5 -0.3 0.5 0.5 0.5 -0.3 0.5 0.6 0.5 -0.3 0.5 0.5 0.4 -0.3 0.5 0.5 0.5 -0.3 0.5 0.5 0.5 -0.3 0.5 0.5 0.5 -0.3 0.5 0.4 0.5 -0.3 0.5 0.5 0.5 -0.3 0.5 0.5 0.5 -0.4 0.5 0.6 0.5 -0.4 0.4 0.5 0.5 -0.3 0.5 0.5 0.5 -0.4 0.5 0.6 0.5 -0.4 0.5 0.5 0.5 -0.4 0.5 0.5 0.5 -0.3 0.5 0.5 0.5 -0.4 0.5 0.6 0.4 -0.4 0.5 0.5 0.5 -0.3 0.5 0.4 0.5 -0.3 0.5 0.5 0.5 -0.3 0.4 0.5 0.5 -0.4 0.5 0.5 0.5 -0.4 0.5 0.6 0.5 -0.4 0.5 0.5 0.5 -0.4 0.4 0.5 0.5 -0.5 0.5 0.5 0.5 -0.5 0.5 0.6 0.5 -8.5 0.5 -14.9 0.5 -40.4 0.3 42.5 0.3 42.5 0.5 -12.4 0.4 -5.1 0.5 -2.3 0.5 -0.4 0.5 0.4 0.5 -0.4 0.5 0.5 0.5 -0.5 0.5 0.4 0.5 -0.4 0.5 0.5 0.5 -0.5 0.5 0.5 0.5 -0.6 0.5 0.6 0.5 -0.5 0.5 0.5 0.5 -0.5 0.5 0.5 0.5 -0.4 0.5 0.4 0.5 -0.3 0.5 0.3 0.5 -0.4 0.5 0.5 0.5 -0.5 0.5 0.6 0.5 -0.5 0.5 0.6 0.5 -0.5 0.5 0.6 0.5 -0.5 0.5 0.5 0.5 -0.4 0.5 0.5 0.5 -0.4 0.5 0.6 0.5 -0.5 0.5 0.6 0.5 -0.4 0.5 0.5 0.5 -0.4 0.5 0.6 0.5 -0.4 0.5 0.5 0.5 -0.3 0.5 0.5 0.5 -0.2 0.5 0.5 0.5 -0.3 0.5 0.5"/>
</g>
<g stroke="#ff00ff" stroke-width="2.7">
<path d="M346 564l1.5 0 1.5 0 1.5 0 1.4 0 1.5 0 1.5 0 1.5 0 1.5 0 1.5 0 1.5 0 1.5 0 1.4 0 1.5 0 1.5 0 1.5 0 1.5 0 1.5 0 1.5 0 1.4 0 1.5 0 1.5 0 1.5 0 1.5 0 1.5 0 1.5 0 1.4 0 1.5 0 1.5 0 1.5 0 1.5 0 1.5 0 1.5 0 1.5 0 1.4 0 1.5 0 1.5 0 1.5 0 1.5 0 1.5 0 1.5 0 1.4 0 1.5 0 1.5 0 1.5 0 1.5 0 1.5 0 1.5 0 1.5 0 1.4 0 1.5 0 1.5 0 1.5 0 1.5 0 1.5 0 1.5 0 1.4 0 1.5 0 1.5 0 1.5 0 1.5 0 1.5 0 1.5 0 1.4 0 1.5 0 1.5 0 1.5 0 1.5 0 1.5 0 1.5 0 1.5 0 1.4 0 1.5 0 1.5 0 1.5 0" stroke-dasharray="18 10.3"/>
<path d="M456 564l0.5 -0 0.5 0 0.5 -0 0.5 0.1 0.5 -0.2 0.5 0.2 0.5 -0.3 0.5 0.3 0.5 -0.4 0.5 0.6 0.5 -0.7 0.5 0.8 0.5 -0.8 0.5 0.9 0.5 -1.1 0.5 1.1 0.5 -1.2 0.5 1.3" stroke-dasharray="9 8"/>
<path d="M465.5 563.2L466 563.2L466.5 563.1L467 563.1L467.5 563L468 563L468.5 562.9L469 562.9L469.5 562.8L470 562.8L470.5 562.7L471 562.7L471.5 562.7L472 562.6L472.5 562.6L473 562.5L473.5 562.5L474 562.5L474.5 562.4L475 562.4L475.5 562.3L476 562.3L476.5 562.3L477 562.3L477.5 562.2L478 562.2L478.5 562.2L479 562.2L479.5 562.1L480 562.1L480.5 562.1L481 562.1L481.5 562L482 562L482.5 562L483 561.9L483.5 561.9L484 561.8L484.5 561.8L485 561.7L485.5 561.6L486 561.3L486.4 561L486.9 560.7L487.4 560.3L487.8 560L488.2 559.7L488.6 559.4L489 559.2L489.5 558.9L490 558.7L490.5 558.4L491 558.1L491.5 557.9L492 557.7L492.5 557.5L493 557.2L493.5 557L494 556.8L494.5 556.6L495 556.3L495.5 556.1L496 555.8L496.5 555.5L497 555.2L497.5 554.9L498 554.5L498.5 554.2L499 553.8L499.5 553.4L500 553L500.5 552.6L501 552.1L501.5 551.7L502 551.2L502.5 550.7L503 550.2L503.5 549.7L504 549.2L504.5 548.7L505 548.2L505.5 547.6L506 547.1L506.5 546.4L507 545.8L507.5 545.1L508 544.5L508.5 543.8L509 543.2L509.5 542.6L510 542L510.5 541.4L511 540.8L511.5 540.2L512 539.7L512.5 539.1L513 538.5L513.5 537.9L514 537.4L514.5 536.8L515 536.2L515.5 535.6L516 535L516.5 534.4L517 533.8L517.5 533.3L518 532.6L518.5 532L519 531.3L519.5 530.5L520 529.8L520.5 528.3L521 526.2L521.5 523.1L522 490.2L522.5 521.6L522.9 525L523.4 527.3L523.9 529L524.3 530.4L524.8 531.6L525.3 532.7L525.7 533.6L526.2 534.3L526.6 535L527.1 535.6L527.5 536L528 536.1L528 537.9L527.5 538.4L527.1 538.8L526.6 539.3L526.2 539.9L525.7 540.8L525.3 542.5L524.8 558.2L524.3 538L523.9 535.9L523.4 534.3L522.9 533.2L522.5 532.3L522 531.5L521.5 530.8L521 530.6L520.5 530.3L520 530.2L519.5 531.9L519 535.3L518.5 538L518 539.5L517.5 540.8L517 542.1L516.5 543.2L516 544.1L515.5 545L515 545.8L514.5 546.6L514 547.3L513.5 547.9L513 548.6L512.5 549.1L512 549.7L511.5 550.2L511 550.7L510.5 551.2L510 551.8L509.5 552.3L509 552.8L508.5 553.3L508 553.9L507.5 554.4L507 554.9L506.5 555.4L506 555.9L505.5 556.4L505 556.8L504.5 557.2L504 557.7L503.5 558.1L503 558.5L502.5 558.9L502 559.3L501.5 559.7L501 560.1L500.5 560.4L500 560.8L499.5 561.2L499 561.5L498.5 561.9L498 562.2L497.5 562.5L497 562.8L496.5 563.1L496 563.3L495.5 563.5L495 563.7L494.5 563.8L494 563.9L493.5 564.1L493 564.2L492.5 564.4L492 564.6L491.5 564.8L491 565.1L490.5 565.4L490 565.8L489.5 566.3L489 566.8L488.6 568.4L488.2 571.3L487.8 575.1L487.4 609.8L486.9 578.2L486.4 574.8L486 572.5L485.5 570.4L485 569.3L484.5 569.1L484 568.9L483.5 568.7L483 568.6L482.5 568.5L482 568.4L481.5 568.4L481 568.3L480.5 568.2L480 568.2L479.5 568.1L479 568.1L478.5 568.1L478 568L477.5 568L477 567.9L476.5 567.9L476 567.8L475.5 567.7L475 567.6L474.5 567.5L474 567.4L473.5 567.3L473 567.1L472.5 566.9L472 566.8L471.5 566.6L471 566.4L470.5 566.3L470 566.1L469.5 565.9L469 565.8L468.5 565.6L468 565.4L467.5 565.3L467 565.1L466.5 565L466 564.9L465.5 564.8Z" fill="#ff00ff"/>
<path d="M465 564.6l0.5 -1.2 0.5 1.5 0.5 -1.7 0.5 1.9 0.5 -2 0.5 2.4 0.5 -2.7 0.5 3.1 0.5 -3.3 0.5 3.7 0.5 -3.2 0.5 3.4 0.5 -4 0.5 4.5 0.5 -4.2 0.5 4.1 0.5 -4 0.5 4.8 0.5 -4.9 0.5 4.6 0.5 -5.1 0.5 5.2 0.5 -5.1 0.5 5.9 0.5 -6.4 0.5 6.5 0.5 -6.2 0.5 6 0.5 -6.3 0.5 5.9 0.5 -5.6 0.5 6.7 0.5 -7.7 0.5 7.5 0.5 -6.9 0.5 6.8 0.5 -6.4 0.5 6 0.5 -5.5 0.5 5.8 0.5 -5.5 0.5 8.2 0.4 -8.7 0.5 13.3 0.5 35.2 0.4 -36.3 0.4 -14.7 0.4 7.9 0.4 -8.6 0.5 7.8 0.5 -8.5 0.5 6.8 0.5 -6.8 0.5 5.6 0.5 -6.5 0.5 5.8 0.5 -5.8 0.5 6.2 0.5 -6.9 0.5 6.5 0.5 -7.4 0.5 7.3 0.5 -8.5 0.5 8.4 0.5 -8.1 0.5 8 0.5 -9.3 0.5 8.7 0.5 -7.9 0.5 6.2 0.5 -7.9 0.5 7.3 0.5 -7.5 0.5 7 0.5 -8.1 0.5 6.8 0.5 -7.9 0.5 7.5 0.5 -9.4 0.5 9.3 0.5 -9.3 0.5 8.3 0.5 -9.7 0.5 8 0.5 -8.3 0.5 6.1 0.5 -8 0.5 7.1 0.5 -8.2 0.5 6.9 0.5 -8.2 0.5 8 0.5 -9.4 0.5 9.2 0.5 -10.3 0.5 8.5 0.5 -9.3 0.5 8.3 0.5 -10.7 0.5 9.1 0.5 -10 0.5 8.8 0.5 -9.2 0.5 7.3 0.5 -8.8 0.5 7 0.5 -8.6 0.5 6 0.5 -7.1 0.5 0.4 0.5 -2.1 0.5 0.5 0.5 -4.1 0.5 4.1 0.5 -41.3 0.5 43.3 0.4 -7.6 0.5 10 0.5 -6.1 0.4 9 0.5 21.8 0.5 -17.1 0.4 -8.8 0.5 6 0.4 -4.3 0.5 3.6 0.4 -3.1 0.5 2.2"/>
<path d="M528 537.9l0.5 -2 0.5 0.5 0.4 -1.7 0.5 0.2 0.5 -2.3 0.5 0.2 0.5 -2.5 0.5 0.7 0.4 -2.9 0.5 1 0.5 -3.1 0.5 1.3 0.5 -3.1 0.4 1.3 0.5 -3.1 0.5 1.4 0.5 -3.4 0.4 1.5 0.5 -3 0.5 1.3 0.5 -3 0.5 1.3 0.4 -2.9 0.5 1 0.5 -2.7 0.5 1.3 0.5 -2.5 0.5 1 0.5 -2.4 0.4 1.3 0.5 -2.3 0.5 1.1 0.5 -2.4 0.5 1.2 0.5 -2.2 0.5 1.3 0.4 -2.7 0.5 1.1 0.5 -2.5 0.5 1 0.5 -2.4 0.5 0.7 0.4 -2.7 0.5 0.7 0.5 -2.5 0.5 0.3 0.4 -2.5 0.5 0.1 0.5 -2.3 0.5 -0.3 0.4 -2.4 0.5 -0.5 0.5 -2.4 0.5 -1 0.5 -2.6 0.5 -1.5 0.4 -2.6 0.5 -1.8 0.5 -2.4 0.5 -2 0.5 -2.1" stroke-dasharray="9 8"/>
<path d="M557.4 474l0.2 -0.9 0.3 -1 0.2 -1.1 0.3 -1.2 0.2 -1.4 0.2 -1.5 0.3 -1.8 0.2 -2.2 0.3 -2.7 0.2 -3.6 0.3 -5.8 0.2 -11.8 0.2 8.6 0.1 5.9 0.2 3.6 0.1 2.6 0.2 2.2 0.1 1.8 0.2 1.5 0.1 1.4 0.2 1.3 0.1 1 0.2 1.1 0.3 2.7 0.4 3.2 0.3 3.2 0.4 3.3 0.3 3.1 0.3 2.7 0.4 2.1 0.3 1.4" stroke-dasharray="18 10.3"/>
<path d="M564.7 491.7l0.5 1.2 0.4 0.9 0.5 1 0.5 0.4 0.5 1 0.4 0.1 0.5 0.9 0.5 0.1 0.5 0.9 0.5 -0.1 0.5 0.9 0.5 -0.1 0.5 0.8 0.5 -0.2 0.5 0.8 0.5 -0.3 0.5 0.8 0.5 -0.3 0.5 0.6 0.5 -0.2 0.5 0.7 0.5 -0.3 0.5 0.6 0.5 -0.2 0.5 0.6 0.5 -0.2 0.5 0.5 0.5 -0.3 0.5 0.6 0.5 -0.2 0.5 0.5 0.5 -0.2 0.5 0.5 0.5 -0.3 0.5 0.5 0.4 -0.3 0.5 0.6 0.5 -0.3 0.5 0.5 0.5 -0.2 0.5 0.5 0.5 -0.3 0.5 0.5 0.5 -0.3 0.5 0.5 0.4 -0.4 0.5 0.7 0.5 -0.4 0.5 0.6 0.5 -0.4 0.5 0.5 0.5 -0.3 0.5 0.5 0.5 -0.4 0.4 0.6 0.5 -0.4 0.5 0.6 0.5 -0.4 0.5 0.5 0.5 -0.3 0.5 0.4 0.5 -0.3 0.5 0.5 0.5 -0.4 0.5 0.6 0.5 -0.4 0.5 0.5 0.5 -0.3 0.5 0.4 0.5 -0.4 0.5 0.6 0.5 -0.4 0.4 0.5 0.5 -0.4 0.5 0.6 0.5 -0.5 0.5 0.6 0.5 -0.5 0.5 0.6 0.5 -0.4 0.5 0.5 0.5 -0.4 0.5 0.5 0.5 -0.4 0.5 0.5 0.5 -0.5 0.5 0.7 0.5 -0.5 0.5 0.5 0.5 -0.3 0.5 0.4 0.5 -0.3 0.5 0.4 0.5 -0.3 0.5 0.4 0.5 -0.4 0.5 0.5 0.5 -0.3 0.4 0.4 0.5 -0.4 0.5 0.5 0.5 -0.4 0.5 0.5 0.5 -0.4 0.5 0.5 0.5 -0.4 0.5 0.5 0.5 -0.5 0.5 0.6 0.5 -0.5 0.5 0.6 0.5 -0.4 0.5 0.5 0.5 -0.4 0.5 0.5 0.5 -0.4 0.5 0.4 0.5 -0.4 0.5 0.6 0.5 -0.5 0.5 0.5 0.5 -0.3 0.5 0.4 0.5 -0.4 0.5 0.5 0.5 -0.4 0.5 0.5 0.5 -0.4 0.5 0.4 0.5 -0.4 0.5 0.6 0.5 -0.5 0.5 0.6 0.5 -0.5 0.5 0.6 0.5 -0.5 0.5 0.6 0.5 -0.5 0.5 0.6 0.5 -0.5 0.5 0.5 0.5 -0.5 0.5 0.6 0.5 -0.5 0.5 0.6 0.5 -0.5 0.5 0.5 0.5 -0.4 0.5 0.5 0.5 -0.4 0.5 0.4 0.5 -0.3 0.5 0.4 0.5 -0.4 0.5 0.5 0.5 -0.4 0.5 0.5 0.5 -0.4 0.5 0.5 0.5 -0.5 0.5 0.5 0.5 -0.5"/>
</g>
</g>
<g clip-path="url(#cp3)" fill="none" stroke-linejoin="round">
<g stroke="#0000ff" stroke-width="4">
<path d="M645 549.7l1.5 0 1.5 0 1.5 0 1.4 0 1.5 0 1.5 0 1.5 0 1.5 0 1.5 0 1.5 0 1.5 0 1.4 0 1.5 0 1.5 0 1.5 0 1.5 0 1.5 0 1.5 0 1.4 0 1.5 0 1.5 0 1.5 0 1.5 0 1.5 0 1.5 0 1.4 0 1.5 0 1.5 0 1.5 0 1.5 0 1.5 0 1.5 0 1.5 0 1.4 0 1.5 0 1.5 0 1.5 0"/>
<path d="M700.5 549.7L701 549.7L701.5 549.7L702 549.7L702.5 549.7L703 549.7L703.4 549.7L703.9 549.7L704.4 549.7L704.9 549.7L705.4 549.7L705.9 549.7L706.4 549.7L706.9 549.7L707.4 549.7L707.9 549.7L708.4 549.7L708.9 549.7L709.3 549.6L709.8 549.6L710.3 549.6L710.8 549.6L711.3 549.6L711.8 549.6L712.3 549.6L712.8 549.6L713.3 549.6L713.8 549.6L714.3 549.6L714.8 549.6L715.3 549.6L715.7 549.5L716.2 549.5L716.7 549.5L717.2 549.5L717.7 549.5L718.2 549.5L718.7 549.5L719.2 549.5L719.7 549.5L720.2 549.4L720.7 549.4L721.2 549.4L721.6 549.4L722.1 549.4L722.6 549.4L723.1 549.4L723.6 549.4L724.1 549.3L724.6 549.3L725.1 549.3L725.6 549.3L726.1 549.3L726.6 549.2L727.1 549.2L727.5 549.1L728 549.1L728.5 549L729 549L729.5 548.9L730 548.9L730.5 548.8L730.9 548.8L731.4 548.7L731.9 548.6L732.4 548.5L732.8 548.5L733.3 548.4L733.8 548.3L734.2 548.2L734.7 548.1L735.2 548L735.7 547.9L736.1 547.8L736.6 547.8L737.1 547.6L737.6 547.5L738.1 547.4L738.6 547.3L739.1 547.1L739.6 547L740.1 546.8L740.6 546.7L741 546.5L741.5 546.3L742 546.1L742.5 545.9L743 545.8L743.5 545.6L744 545.5L744.5 545.3L745 545.2L745.5 545.1L746 545L746.5 544.9L747 544.8L747.5 544.7L748 544.6L748.5 544.5L749 544.5L749.5 544.4L750 544.3L750.5 544.2L751 544.2L751.5 544.1L752 544L752.5 544L753 543.9L753.5 543.9L754 543.8L754.5 543.7L755 543.7L755.5 543.7L756 543.6L756.5 543.6L757 543.6L757.5 543.5L758 543.5L758.5 543.5L759 543.5L759.5 543.4L760 543.4L760.5 543.4L761 543.3L761.5 543.3L762 543.2L762.4 543.1L762.9 542.9L763.3 542.7L763.7 542.5L764.2 542.2L764.6 541.8L765 541.5L765.5 541.2L766 540.9L766.5 540.5L767 540.1L767.5 539.6L768 539.1L768.5 538.6L769 538.1L769.5 537.6L770 537.2L770.5 536.8L771 536.3L771.5 535.9L772 535.5L772.5 535.1L773 534.7L773.5 534.3L774 534L774.5 533.6L775 533.2L775.5 532.8L776 532.5L776.5 532.1L777 531.7L777.5 531.4L778 531L778.5 530.6L779 530.2L779.5 529.9L780 529.5L780.5 529.1L781 528.8L781.5 528.4L782 528L782.5 527.6L783 527.3L783.5 526.9L784 526.5L784.5 526.2L785 525.8L785.5 525.4L786 525.1L786.5 524.7L787 524.3L787.5 524L788 523.6L788.5 523.3L789 522.9L789.5 522.5L790 522.2L790.5 521.8L791 521.4L791.5 521.1L792 520.7L792.5 520.3L793 519.9L793.5 519.6L794 519.2L794.5 518.8L795 518.4L795.5 518L796 517.7L796.5 517.3L797 516.9L797.5 516.5L798 516.1L798.5 515.7L799 515.3L799.5 514.9L800 514.5L800.5 514.1L801 513.7L801.5 513.3L802 512.9L802.5 512.4L803 512L803.5 511.6L804 511.2L804.5 510.8L805 510.4L805.5 509.9L806 509.5L806.5 509.1L807 508.7L807.5 508.3L808 507.8L808.5 507.4L809 507L809.5 506.6L810 506.1L810.5 505.7L811 505.3L811.5 504.9L812 504.4L812.5 504L813 503.6L813.5 503.2L814 502.7L814.5 502.3L815 501.9L815.5 501.5L816 501L816.5 500.6L817 500.2L817.5 499.7L818 499.3L818.5 498.9L819 498.4L819.5 498L819.9 497.6L820.4 497.1L820.9 496.7L821.4 496.3L821.9 495.8L822.4 495.4L822.9 495L823.4 494.5L823.9 494.1L824.4 493.6L824.9 493.2L825.4 492.8L825.9 492.3L826.4 491.9L826.9 491.5L827.4 491L827.9 490.6L828.4 490.1L828.8 489.7L829.3 489.3L829.8 488.9L830.3 488.4L830.8 488L831.3 487.6L831.8 487.1L832.3 486.7L832.8 486.3L833.3 485.9L833.8 485.5L834.3 485.1L834.7 484.7L835.2 484.3L835.7 484L836.2 483.6L836.7 483.2L837.1 482.8L837.6 482.5L838.1 482.1L838.6 481.7L839.1 481.3L839.6 480.9L840 480.4L840.5 480L841 479.5L841.5 478.9L842 478.2L842.5 477.1L843 465.2L843.4 465.5L843.9 465.8L844.3 466.1L844.7 466.3L845.1 466.6L845.6 466.9L846 467.2L846.5 467.4L847 467.6L847.5 467.9L848 468.1L848.5 468.3L849 468.5L849.5 468.8L850 469L850.5 469.2L851 472.3L851.5 474.9L852 476L852.5 475.7L853 475.4L853.5 474.9L854 474.2L854.5 473.4L854.9 472.5L855.4 471.6L855.9 470.8L856.4 470.1L856.9 469.5L857.4 469L857.9 468.7L858.3 468.5L858.8 468.3L859.3 468.2L859.7 468L860.2 467.8L860.6 467.6L861.1 467.4L861.6 467L862 466.6L862.5 466L862.5 466L862 467.1L861.6 468L861.1 468.7L860.6 469.4L860.2 469.9L859.7 470.3L859.3 470.7L858.8 471L858.3 471.3L857.9 471.6L857.4 472L856.9 472.4L856.4 472.8L855.9 473.2L855.4 473.5L854.9 473.9L854.5 474.3L854 474.6L853.5 475L853 475.4L852.5 475.7L852 476L851.5 476.2L851 476.3L850.5 476.3L850 477.1L849.5 478.1L849 479.5L848.5 492.8L848 492.8L847.5 492.8L847 492.8L846.5 492.8L846 492.8L845.6 492.8L845.1 492.8L844.7 492.8L844.3 492.8L843.9 484.8L843.4 483.9L843 483.3L842.5 483L842 482.8L841.5 482.6L841 482.5L840.5 482.6L840 482.8L839.6 483L839.1 483.2L838.6 483.6L838.1 483.9L837.6 484.3L837.1 484.7L836.7 485.1L836.2 485.6L835.7 486L835.2 486.4L834.7 486.9L834.3 487.3L833.8 487.7L833.3 488.1L832.8 488.5L832.3 488.9L831.8 489.3L831.3 489.7L830.8 490.1L830.3 490.5L829.8 491L829.3 491.4L828.8 491.8L828.4 492.2L827.9 492.7L827.4 493.1L826.9 493.5L826.4 494L825.9 494.4L825.4 494.9L824.9 495.3L824.4 495.7L823.9 496.2L823.4 496.6L822.9 497.1L822.4 497.5L821.9 498L821.4 498.4L820.9 498.9L820.4 499.3L819.9 499.8L819.5 500.2L819 500.7L818.5 501.1L818 501.5L817.5 502L817 502.4L816.5 502.8L816 503.3L815.5 503.7L815 504.1L814.5 504.6L814 505L813.5 505.4L813 505.8L812.5 506.3L812 506.7L811.5 507.1L811 507.5L810.5 507.9L810 508.4L809.5 508.8L809 509.2L808.5 509.6L808 510.1L807.5 510.5L807 510.9L806.5 511.3L806 511.7L805.5 512.1L805 512.6L804.5 513L804 513.4L803.5 513.8L803 514.2L802.5 514.6L802 515L801.5 515.5L801 515.9L800.5 516.3L800 516.7L799.5 517.1L799 517.5L798.5 517.9L798 518.3L797.5 518.7L797 519.1L796.5 519.5L796 519.9L795.5 520.3L795 520.7L794.5 521.1L794 521.5L793.5 521.9L793 522.3L792.5 522.7L792 523L791.5 523.4L791 523.8L790.5 524.2L790 524.6L789.5 525L789 525.3L788.5 525.7L788 526.1L787.5 526.5L787 526.9L786.5 527.3L786 527.6L785.5 528L785 528.4L784.5 528.8L784 529.2L783.5 529.6L783 530L782.5 530.4L782 530.8L781.5 531.2L781 531.7L780.5 532.1L780 532.5L779.5 532.9L779 533.3L778.5 533.7L778 534.1L777.5 534.5L777 534.9L776.5 535.4L776 535.8L775.5 536.2L775 536.6L774.5 537L774 537.5L773.5 538L773 538.4L772.5 539L772 539.5L771.5 540L771 540.6L770.5 541.2L770 541.9L769.5 542.6L769 543.4L768.5 544.3L768 545.2L767.5 546.2L767 547.2L766.5 548.3L766 549.5L765.5 550.8L765 552.1L764.6 553.9L764.2 556.6L763.7 580.8L763.3 559.8L762.9 557.5L762.4 556L762 554.8L761.5 554.8L761 554.8L760.5 554.9L760 554.9L759.5 554.9L759 555L758.5 555L758 555.1L757.5 555.2L757 555.2L756.5 555.2L756 555.3L755.5 555.3L755 555.3L754.5 555.3L754 555.3L753.5 555.3L753 555.3L752.5 555.3L752 555.2L751.5 555.2L751 555.2L750.5 555.2L750 555.2L749.5 555.1L749 555.1L748.5 555.1L748 555L747.5 555L747 555L746.5 554.9L746 554.9L745.5 554.8L745 554.8L744.5 554.7L744 554.6L743.5 554.5L743 554.4L742.5 554.2L742 554L741.5 553.8L741 553.6L740.6 553.5L740.1 553.3L739.6 553.1L739.1 552.9L738.6 552.8L738.1 552.6L737.6 552.5L737.1 552.4L736.6 552.2L736.1 552.2L735.7 552.1L735.2 552L734.7 551.9L734.2 551.8L733.8 551.7L733.3 551.7L732.8 551.6L732.4 551.5L731.9 551.4L731.4 551.4L730.9 551.3L730.5 551.2L730 551.1L729.5 551L729 550.9L728.5 550.8L728 550.7L727.5 550.6L727.1 550.4L726.6 550.3L726.1 550.2L725.6 550.2L725.1 550.1L724.6 550.1L724.1 550.1L723.6 550L723.1 550L722.6 550L722.1 550L721.6 550L721.2 550L720.7 550L720.2 549.9L719.7 549.9L719.2 549.9L718.7 549.9L718.2 549.9L717.7 549.9L717.2 549.9L716.7 549.9L716.2 549.8L715.7 549.8L715.3 549.8L714.8 549.8L714.3 549.8L713.8 549.8L713.3 549.8L712.8 549.8L712.3 549.8L711.8 549.8L711.3 549.8L710.8 549.8L710.3 549.8L709.8 549.7L709.3 549.7L708.9 549.7L708.4 549.7L707.9 549.7L707.4 549.7L706.9 549.7L706.4 549.7L705.9 549.7L705.4 549.7L704.9 549.7L704.4 549.7L703.9 549.7L703.4 549.7L703 549.7L702.5 549.7L702 549.7L701.5 549.7L701 549.7L700.5 549.7Z" fill="#0000ff"/>
<path d="M700 549.7l0.5 -0 0.5 0 0.5 -0 0.5 0 0.5 -0 0.5 0 0.4 -0 0.5 0 0.5 -0 0.5 0 0.5 -0 0.5 0 0.5 -0 0.5 0 0.5 -0 0.5 0 0.5 -0 0.5 0 0.4 -0.1 0.5 0.1 0.5 -0.1 0.5 0.2 0.5 -0.2 0.5 0.2 0.5 -0.2 0.5 0.2 0.5 -0.2 0.5 0.2 0.5 -0.2 0.5 0.2 0.5 -0.2 0.4 0.2 0.5 -0.3 0.5 0.4 0.5 -0.4 0.5 0.4 0.5 -0.4 0.5 0.4 0.5 -0.4 0.5 0.4 0.5 -0.4 0.5 0.5 0.5 -0.6 0.4 0.6 0.5 -0.5 0.5 0.5 0.5 -0.6 0.5 0.6 0.5 -0.7 0.5 0.8 0.5 -0.8 0.5 0.8 0.5 -0.8 0.5 1 0.5 -1 0.4 1.1 0.5 -1.1 0.5 1.3 0.5 -1.5 0.5 1.8 0.5 -1.9 0.5 2 0.4 -2 0.5 2.2 0.5 -2.4 0.5 2.7 0.4 -2.7 0.5 2.6 0.5 -2.8 0.4 3.3 0.5 -3.4 0.5 3.1 0.5 -3.3 0.4 3.5 0.5 -4.3 0.5 4.9 0.5 -4.9 0.5 4.8 0.5 -5.2 0.5 6.2 0.5 -6.2 0.5 5.6 0.5 -5.4 0.4 6.5 0.5 -7.7 0.5 7.9 0.5 -7.2 0.5 7.2 0.5 -8.1 0.5 8.6 0.5 -8.6 0.5 7.9 0.5 -8.1 0.5 8.5 0.5 -7.8 0.5 8.2 0.5 -9.5 0.5 9.9 0.5 -10.6 0.5 11.1 0.5 -9.9 0.5 8.9 0.5 -9.1 0.5 8.8 0.5 -9.1 0.5 9.5 0.5 -9.4 0.5 9.8 0.5 -11.1 0.5 9.6 0.5 -7.8 0.5 8.1 0.5 -9.8 0.5 11.3 0.5 -12.2 0.5 12.2 0.5 -11.1 0.5 11.1 0.5 -12 0.5 11 0.5 -10.6 0.5 10.1 0.5 -9.7 0.5 10.6 0.5 -11.4 0.5 10 0.4 -10.1 0.5 13.2 0.4 -11.1 0.4 36.7 0.5 -37.6 0.4 8.4 0.4 -10.9 0.5 7.5 0.5 -8.8 0.5 7.1 0.5 -7.4 0.5 5.4 0.5 -6.3 0.5 4.7 0.5 -5.4 0.5 4 0.5 -5.6 0.5 4.4 0.5 -5.4 0.5 4 0.5 -4.7 0.5 3.7 0.5 -4.6 0.5 3.5 0.5 -3.9 0.5 2.9 0.5 -3.6 0.5 3.4 0.5 -4.4 0.5 3 0.5 -3.7 0.5 2.7 0.5 -3.4 0.5 3 0.5 -3.8 0.5 2.7 0.5 -3.2 0.5 2.4 0.5 -3.1 0.5 2.4 0.5 -3.4 0.5 2.6 0.5 -3.7 0.5 2.8 0.5 -3.3 0.5 2.4 0.5 -2.7 0.5 2 0.5 -2.9 0.5 1.8 0.5 -2.7 0.5 2 0.5 -2.6 0.5 2.1 0.5 -2.8 0.5 1.8 0.5 -2.6 0.5 1.7 0.5 -2.2 0.5 1.6 0.5 -2.7 0.5 2.3 0.5 -2.9 0.5 2 0.5 -3 0.5 2.3 0.5 -3.2 0.5 2.3 0.5 -2.8 0.5 2.1 0.5 -2.8 0.5 1.6 0.5 -2.2 0.5 1.6 0.5 -2.7 0.5 1.8 0.5 -2.3 0.5 1.5 0.5 -2.5 0.5 1.7 0.5 -2.5 0.5 1.7 0.5 -2.6 0.5 1.7 0.5 -2.5 0.5 1.5 0.5 -2.3 0.5 2 0.5 -2.8 0.5 2 0.5 -3.1 0.5 1.8 0.5 -2.4 0.5 1.7 0.5 -2.4 0.5 1.3 0.5 -2.1 0.5 1.5 0.5 -2.5 0.5 1.9 0.5 -3 0.5 1.8 0.5 -2.3 0.5 1.3 0.5 -2.2 0.5 1.6 0.5 -2.5 0.5 1.6 0.5 -2.5 0.5 1.6 0.5 -2.3 0.5 1.5 0.5 -2.5 0.5 1.6 0.5 -2.7 0.5 2 0.4 -2.7 0.5 1.8 0.5 -2.5 0.5 1.7 0.5 -2.9 0.5 2 0.5 -2.7 0.5 1.8 0.5 -2.6 0.5 1.6 0.5 -2.7 0.5 1.8 0.5 -2.4 0.5 1.5 0.5 -2.4 0.5 1.5 0.5 -2.3 0.5 1.2 0.4 -2.2 0.5 1.6 0.5 -2.5 0.5 1.7 0.5 -2.9 0.5 1.9 0.5 -2.4 0.5 1.8 0.5 -2.8 0.5 1.8 0.5 -2.7 0.5 2.3 0.4 -2.9 0.5 1.9 0.5 -2.7 0.5 1.6 0.5 -2.2 0.4 1.3 0.5 -2 0.5 1.3 0.5 -2.3 0.5 1.7 0.5 -2.6 0.4 2 0.5 -2.6 0.5 2.2 0.5 -3.1 0.5 3.1 0.5 -5.5 0.5 -12.8 0.4 1.8 0.5 17 0.4 11.2 0.4 -4.7 0.4 -22.8 0.5 27.4 0.4 -27.9 0.5 23.1 0.5 -19 0.5 18.8 0.5 -16.9 0.5 22 0.5 -24.2 0.5 6.7 0.5 -6.7 0.5 -1.8 0.5 4.4 0.5 3.8 0.5 -0.2 0.5 -0.3 0.5 -0.3 0.5 -0.4 0.5 -0.9 0.5 0.2 0.4 -1.8 0.5 1 0.5 -2.4 0.5 1.5 0.5 -3.1 0.5 2.5 0.5 -3.6 0.4 3.1 0.5 -3.5 0.5 2.7 0.4 -2.7 0.5 1.6 0.4 -1.8 0.5 1 0.5 -1.7 0.4 -0.1 0.5 -1"/>
<path d="M862.5 466l0.2 -0.8 0.1 -1.4 0.2 -1.4 0.1 -1.5 0.2 -1.6 0.1 -2 0.2 -2.2 0.1 -2.8 0.2 -3.8 0.1 -6.4 0.2 -9.1 0.2 8.8 0.1 5.9 0.2 3.6 0.2 2.6 0.1 2.1 0.2 1.8 0.1 1.5 0.2 1.4 0.2 1.5 0.1 1.2 0.2 0.6"/>
<path d="M866.5 463.9L867 463.5L867.5 463L868 462.4L868.5 461.6L869 460.8L869.5 460L870 459.1L870.5 458.3L871 457.6L871.5 457L872 456.5L872.5 456.1L873 455.7L873.5 455.3L874 455L874.5 454.6L875 454.2L875.5 453.8L876 453.5L876.5 453.2L877 452.9L877.5 452.6L878 452.4L878.5 452.2L879 452.1L879.5 452L880 452L880 452L879.5 452.1L879 452.2L878.5 452.5L878 452.9L877.5 453.3L877 453.8L876.5 454.4L876 455L875.5 455.6L875 456.2L874.5 456.8L874 457.4L873.5 458L873 458.6L872.5 459.1L872 459.5L871.5 459.9L871 460.4L870.5 460.9L870 461.4L869.5 461.9L869 462.3L868.5 462.8L868 463.2L867.5 463.5L867 463.8L866.5 463.9Z" fill="#0000ff"/>
<path d="M866 464l0.5 -0.1 0.5 -0.3 0.5 -0.1 0.5 -1 0.5 0.3 0.5 -1.9 0.5 0.8 0.5 -2.3 0.5 1.5 0.5 -3.1 0.5 2.2 0.5 -3.2 0.5 2.3 0.5 -3.5 0.5 2.4 0.5 -2.8 0.5 1.4 0.5 -2.2 0.5 1.2 0.5 -2.2 0.5 1 0.5 -1.6 0.5 0.5 0.5 -0.8 0.5 0 0.5 -0.4 0.5 -0 0.5 -0.1"/>
<path d="M880 452l0.2 0.8 0.3 1.9 0.2 2.5 0.3 2.4 0.3 -4.9 0.3 -2.2 0.3 -1.4 0.2 -1 0.3 -0.8 0.3 -0.7 0.3 -0.6 1 -2.3 1 -2.4 1 -2.4 1 -2.7 1 -3.2 0.6 -2.2 0.5 -2.5 0.6 -2.8 0.6 -3 0.6 -3.2 0.5 -3.1 0.6 -3.2 0.2 -1.1 0.2 -1 0.2 -1.1 0.2 -1.3 0.2 -1.5 0.2 -1.7 0.2 -2.1 0.2 -2.6 0.2 -3.4 0.2 -5.7 0.2 -10 0.1 9 0.2 6.7 0.1 4.1 0.2 3 0.1 2.4 0.1 2 0.2 1.8 0.1 1.6 0.1 1.4 0.2 1.3 0.1 1.2 0.2 1.1 0.1 0.9 0.7 4.2 0.6 4 0.7 3.7 0.7 3.1 0.6 2.1 0.7 0.9 1.5 0.4 1.5 0.4 1.5 0.4 1.4 0.4 1.5 0.3 1.5 0.3 1.5 0.3 1.5 0.3 1.5 0.2 1.4 0.3 1.5 0.2 1.5 0.2 1.5 0.1 1.5 0.2 1.5 0.2 1.4 0.1 1.5 0.1 1.5 0.1 1.5 0.1 1.5 0.1 1.4 0.1 1.5 0 1.5 0.1 1.5 0 1.5 0 1.5 0.1 1.4 -0 1.5 -0 1.5 -0 1.5 0"/>
</g>
<g stroke="#ff0000" stroke-width="4">
<path d="M645 502l1.5 0 1.4 0 1.5 0 1.4 0 1.5 0 1.5 0 1.4 0 1.5 0 1.5 0 1.4 0 1.5 0 1.4 0 1.5 0 1.3 0.1 1.4 0.2 1.3 0.3 1.3 0.3 1.4 0.3 1.3 0.3 1.5 0.3 1.5 0.3 1.5 0.3 1.5 0.3 1.5 0.2 1.5 0.1 1.5 -0.2 1.5 -0.4 1.5 -0.5 1.5 -0.7 1.5 -0.6 1.5 -0.6 1.3 -0.5 1.4 -0.5 1.3 -0.6 1.3 -0.4 1.4 -0.4 1.3 -0.1 1.2 0.4 1.3 0.8 1.2 1.2 1.3 1.1 1.1 1.2 1.2 1.5 1.2 1.2 1.1 0.5 1.5 -1.1 1.4 -2.3 1.5 -2 1.3 -1.4 1.4 -1.3 1.3 -1.1 1.3 -0.4 1.1 0.9 1 2 1.1 2.3 1 2.7 0.9 2.9 1 1.4 0.9 -1.4 0.8 -3.3 0.9 -3.3 0.7 -2.8 0.6 -2.9 0.7 -1.3 1.2 1.7 1.3 3.3 0.3 0.7 0.3 0.8 0.2 1 0.3 1 0.3 1.3 0.3 1.6 0.2 2.1 0.3 3.4 0.3 7.6 0.2 -8.7 0.3 -4.2 0.2 -2.6 0.3 -2 0.2 -1.6 0.3 -1.3 0.2 -1.2 0.3 -0.9 0.8 -2.7 0.8 -1.3 0.6 1.3 0.7 2.8 0.6 2.9 0.3 1.1 0.3 1.3 0.3 1.7 0.3 2.2 0.3 3.6 0.3 8.1 0.2 -8 0.2 -4.3 0.2 -2.6 0.2 -2 0.3 -1.6 0.2 -1.3 0.2 -1.3 0.2 -0.9 1.5 -3"/>
<path d="M744 492.7L744.5 492.5L745 493L745.5 492L746 491.6L746.5 491.2L747 491L747.5 490.8L748 490.6L748.5 490.5L749 490.4L749.5 490.3L750 490.3L750.5 490.2L751 490.2L751.5 490.2L752 490.2L752.5 490.1L753 490.1L753.5 490.1L754 490.1L754.5 490L755 490L755.5 490L756 489.9L756.5 489.8L757 489.8L757.5 489.7L758 489.6L758.5 489.6L759 489.5L759.5 489.4L760 489.3L760.5 489.2L761 489.1L761.5 489L762 488.9L762.5 488.8L763 488.8L763.5 488.7L764 488.6L764.5 488.5L765 488.3L765.5 488.2L766 488.1L766.5 488L767 487.9L767.5 487.8L768 487.7L768.5 487.7L769 487.6L769.5 487.5L770 487.4L770.5 487.3L771 487.2L771.5 487.1L772 487L772.5 486.9L773 486.9L773.5 486.8L774 486.7L774.5 486.6L775 486.5L775.5 486.5L776 486.4L776.5 486.3L777 486.2L777.5 486.1L778 486.1L778.5 486L779 485.9L779.5 485.8L780 485.7L780.5 485.6L781 485.5L781.5 485.4L782 485.3L782.5 485.2L783 485.1L783.5 485L784 484.9L784.5 484.7L785 484.6L785.5 484.5L786 484.4L786.5 484.2L787 484.1L787.5 483.9L788 483.8L788.5 483.6L789 483.5L789.5 483.3L790 483.1L790.5 482.9L791 482.7L791.5 482.5L792 482.3L792.5 482.1L793 481.9L793.5 481.7L794 481.4L794.5 481.2L795 481L795.5 480.7L796 480.4L796.5 480.2L797 479.9L797.5 479.6L798 479.2L798.5 478.8L799 478.4L799.5 477.9L800 477.4L800.5 476.9L801 476.4L801.5 475.9L802 475.4L802.5 475L803 474.5L803.5 474.1L803.9 473.7L804.4 473.2L804.9 472.7L805.3 472.3L805.8 472L806.2 471.8L806.7 471.7L806.7 471.7L806.2 471.8L805.8 472.1L805.3 472.5L804.9 473.1L804.4 473.7L803.9 474.3L803.5 474.9L803 475.5L802.5 476L802 476.6L801.5 477.2L801 477.8L800.5 478.4L800 479L799.5 479.6L799 480.2L798.5 480.8L798 481.3L797.5 481.7L797 482.1L796.5 482.5L796 482.8L795.5 483.2L795 483.5L794.5 483.8L794 484.1L793.5 484.4L793 484.7L792.5 485L792 485.3L791.5 485.5L791 485.8L790.5 486.1L790 486.3L789.5 486.5L789 486.8L788.5 487L788 487.2L787.5 487.4L787 487.6L786.5 487.8L786 488L785.5 488.2L785 488.4L784.5 488.6L784 488.7L783.5 488.9L783 489.1L782.5 489.2L782 489.4L781.5 489.6L781 489.7L780.5 489.9L780 490L779.5 490.2L779 490.3L778.5 490.5L778 490.6L777.5 490.7L777 490.9L776.5 491L776 491.1L775.5 491.3L775 491.4L774.5 491.5L774 491.6L773.5 491.8L773 491.9L772.5 492L772 492.1L771.5 492.3L771 492.4L770.5 492.5L770 492.6L769.5 492.8L769 492.9L768.5 493L768 493.2L767.5 493.3L767 493.5L766.5 493.6L766 493.7L765.5 493.9L765 494L764.5 494.2L764 494.3L763.5 494.5L763 494.6L762.5 494.8L762 494.9L761.5 495L761 495.1L760.5 495.3L760 495.4L759.5 495.5L759 495.6L758.5 495.7L758 495.7L757.5 495.8L757 495.9L756.5 495.9L756 496L755.5 496L755 496L754.5 496L754 496L753.5 496L753 496L752.5 496L752 495.9L751.5 495.9L751 495.8L750.5 495.8L750 495.7L749.5 495.7L749 495.6L748.5 495.3L748 494.5L747.5 493.7L747 493L746.5 492.8L746 493.5L745.5 494.8L745 506.8L744.5 494.9L744 493.7Z" fill="#ff0000"/>
<path d="M743.5 493l0.5 -0.2 0.5 1.8 0.5 13.4 0.5 -13.3 0.5 -2.8 0.5 0.7 0.5 -1.8 0.5 2.8 0.5 -3 0.5 4.7 0.5 -5.3 0.5 6.5 0.5 -6.2 0.5 6.1 0.5 -6.4 0.5 5.4 0.5 -5.3 0.5 6 0.5 -5.5 0.5 5.3 0.5 -6.1 0.5 6.5 0.5 -6 0.5 5.8 0.5 -6.5 0.5 6.9 0.5 -6.9 0.5 5.9 0.5 -6 0.5 5.9 0.5 -5.8 0.5 5.5 0.5 -6.4 0.5 6.2 0.5 -6 0.5 6.1 0.5 -5.8 0.5 5.6 0.5 -5.5 0.5 5.1 0.5 -5.8 0.5 5.3 0.5 -5.7 0.5 5.2 0.5 -4.6 0.5 4.1 0.5 -4.3 0.5 4.1 0.5 -4.7 0.5 5 0.5 -5.5 0.5 5.4 0.5 -5.6 0.5 5 0.5 -5.6 0.5 5.8 0.5 -5.9 0.5 5.2 0.5 -4.8 0.5 4.9 0.5 -5.3 0.5 5 0.5 -4.9 0.5 4.1 0.5 -4.1 0.5 4.3 0.5 -4.3 0.5 4 0.5 -4.6 0.5 4 0.5 -4.1 0.5 3.9 0.5 -3.8 0.5 4.1 0.5 -4.5 0.5 3.6 0.5 -3.8 0.5 3.5 0.5 -4.1 0.5 3.7 0.5 -3.5 0.5 3.4 0.5 -3.8 0.5 3.3 0.5 -3.8 0.5 3.5 0.5 -3.6 0.5 3.1 0.5 -3.7 0.5 3.8 0.5 -3.9 0.5 3.6 0.5 -4 0.5 3 0.5 -3.1 0.5 2.5 0.5 -2.8 0.5 2.2 0.5 -2.8 0.5 2.1 0.5 -2.6 0.5 2.2 0.5 -2.6 0.5 2.2 0.5 -2.9 0.5 2 0.5 -2.6 0.5 2.1 0.5 -2.7 0.5 1.7 0.5 -2.5 0.5 1.4 0.5 -2.4 0.5 1 0.5 -2 0.5 0.8 0.5 -1.7 0.5 0.4 0.5 -1.3 0.5 0.3 0.4 -1.2 0.5 -0 0.5 -1 0.4 -0.2 0.5 -0.5 0.4 -0.2 0.5 -0.1"/>
<path d="M806.7 471.7l1.1 0.3 1.1 0.5 1.1 0.5 1.3 0.4 1.4 0.4 1.3 0.2 1.3 -0.9 1.4 -1.8 1.3 -1.3"/>
<path d="M818.5 469.8L819 469.5L819.5 469.3L820 469.2L820.5 469L820.9 468.8L821.4 468.7L821.9 468.6L822.4 468.5L822.9 468.3L823.4 468.2L823.9 468.1L824.4 468L824.9 467.9L825.3 467.7L825.8 467.6L826.3 467.4L826.8 467.3L827.3 467.1L827.8 466.9L828.3 466.7L828.8 466.4L829.3 466.1L829.8 465.8L830.3 465.5L830.8 465.1L831.3 464.8L831.8 464.4L832.3 464.1L832.8 463.7L833.3 463.4L833.8 463L834.3 462.7L834.8 462.4L835.3 462.1L835.8 461.8L836.3 461.5L836.8 461.2L837.3 460.9L837.8 460.7L838.2 460.4L838.7 460.1L839.2 459.9L839.7 459.6L840.2 459.4L840.7 459.1L841.2 458.9L841.7 458.6L842.2 458.3L842.7 458.1L843.1 457.9L843.6 457.6L844.1 457.4L844.6 457.1L845.1 456.9L845.6 456.6L846.1 456.4L846.6 456.2L847.1 455.9L847.6 455.7L848 455.4L848.5 455.2L849 455L849.5 454.7L850 454.5L850.5 454.2L851 454L851.5 453.7L852 453.5L852.4 453.3L852.9 453.1L853.4 452.8L853.9 452.6L854.4 452.4L854.9 452.2L855.4 452L855.9 451.7L856.3 451.5L856.8 451.3L857.3 451.1L857.8 450.9L858.3 450.6L858.8 450.4L859.3 450.2L859.8 450L860.2 449.7L860.7 449.5L861.2 449.3L861.7 449L862.2 448.8L862.7 448.6L863.2 448.3L863.7 448.1L864.1 447.8L864.6 447.5L865.1 447.3L865.6 447L866.1 446.7L866.6 446.4L867.1 446.1L867.5 445.8L868 445.5L868.5 445.2L869 444.9L869.5 444.6L870 444.3L870.5 443.9L871 443.6L871.4 443.3L871.9 442.9L872.4 442.6L872.9 442.2L873.4 441.9L873.9 441.5L874.4 441.2L874.9 440.8L875.3 440.4L875.8 440L876.3 439.6L876.8 439.2L877.3 438.8L877.8 438.4L878.3 438L878.8 437.5L879.2 437.1L879.7 436.6L880.2 436.2L880.7 435.7L881.2 435.2L881.7 434.7L882.2 434.1L882.7 433.6L883.2 433L883.7 432.4L884.2 431.7L884.7 431.1L885.2 430.4L885.7 429.7L886.2 429L886.7 428.3L887.2 427.5L887.7 426.7L888.2 425.9L888.7 425.1L889.1 424.2L889.6 423.2L890 422.2L890.5 421.1L891 420.1L891.4 419L891.9 418L892.3 417.1L892.8 416.2L893.3 415.5L893.7 414.7L894.2 413.9L894.6 412.9L895.1 411.9L895.6 410.6L896 408.9L896.5 406.8L896.9 403.7L897.4 374.8L897.9 399.2L898.4 401.9L898.9 403.7L899.3 405.1L899.8 406.1L900.3 406.9L900.8 407.7L901.3 408.6L901.8 409.8L902.3 411.3L902.8 413L903.3 414.8L903.8 416.6L904.3 418.3L904.8 419.9L905.3 421.2L905.8 422.2L906.3 422.9L906.8 423.6L907.2 424.3L907.7 424.9L908.2 425.5L908.7 426.1L909.2 426.6L909.6 427.1L910.1 427.5L910.6 428L911.1 428.4L911.5 428.8L912 429.2L912.5 429.6L913 429.9L913.5 430.2L913.9 430.6L914.4 430.9L914.9 431.2L915.4 431.5L915.8 431.8L916.3 432L916.8 432.3L917.2 432.5L917.7 432.8L918.2 433L918.7 433.2L919.1 433.4L919.6 433.6L920.1 433.8L920.5 434L921 434.2L921.5 434.4L922 434.6L922.5 434.9L923 435.1L923.5 435.3L924 435.4L924.5 435.6L925 435.7L925.5 435.7L925.9 434.5L926.4 433L926.8 430.7L927.2 409.6L927.6 431.5L928.1 434.2L928.5 435.9L929 437.2L929.5 437.2L930 437.2L930.5 437.2L931 437.2L931.5 437.2L932 437.2L932.5 437.2L933 437.2L933.5 437.2L934 437.2L934.5 437.2L935 437.3L935.5 437.3L936 437.3L936.5 437.4L937 437.4L937.5 437.5L938 437.5L938.5 437.6L939 437.7L939.5 437.8L940 437.9L940.5 437.9L941 438L941.5 438.1L942 438.2L942.5 438.3L943 438.5L943.5 438.6L944 438.7L944.5 438.8L944.5 447.5L944 447.5L943.5 447.5L943 447.5L942.5 447.5L942 447.5L941.5 447.5L941 447.5L940.5 447.5L940 447.5L939.5 447.5L939 447.5L938.5 447.5L938 447.5L937.5 447.5L937 447.5L936.5 447.5L936 447.5L935.5 447.5L935 447.5L934.5 447.5L934 447.5L933.5 447.5L933 447.5L932.5 447.5L932 447.5L931.5 447.5L931 447.5L930.5 447.5L930 447.5L929.5 447.5L929 447.5L928.5 448.1L928.1 449.2L927.6 458.8L927.2 450.1L926.8 449.1L926.4 448.4L925.9 447.8L925.5 447.5L925 447.5L924.5 447.5L924 447.5L923.5 447.5L923 447.5L922.5 447.5L922 447.5L921.5 447.5L921 447.5L920.5 447.5L920.1 447.6L919.6 447.6L919.1 447.7L918.7 447.8L918.2 447.9L917.7 448L917.2 448.2L916.8 448.3L916.3 448.5L915.8 448.7L915.4 448.8L914.9 449L914.4 449.2L913.9 449.4L913.5 449.7L913 449.9L912.5 450.2L912 450.6L911.5 450.9L911.1 451.3L910.6 451.7L910.1 452.1L909.6 452.6L909.2 453L908.7 453.5L908.2 454L907.7 454.5L907.2 455L906.8 455.5L906.3 456.1L905.8 456.6L905.3 457.3L904.8 458.1L904.3 459.1L903.8 460.5L903.3 462.5L902.8 480.8L902.3 453.7L901.8 450.7L901.3 448.8L900.8 448.2L900.3 447.6L899.8 447L899.3 446.5L898.9 446.1L898.4 445.7L897.9 445.3L897.4 445L896.9 444.7L896.5 444.4L896 444.2L895.6 444.1L895.1 443.9L894.6 443.8L894.2 443.7L893.7 443.6L893.3 443.6L892.8 443.6L892.3 443.6L891.9 443.7L891.4 443.8L891 444L890.5 444.2L890 444.4L889.6 444.6L889.1 444.8L888.7 445L888.2 445.2L887.7 445.4L887.2 445.6L886.7 445.8L886.2 446L885.7 446.2L885.2 446.4L884.7 446.6L884.2 446.8L883.7 447L883.2 447.2L882.7 447.4L882.2 447.6L881.7 447.8L881.2 448L880.7 448.2L880.2 448.4L879.7 448.6L879.2 448.8L878.8 449L878.3 449.2L877.8 449.4L877.3 449.6L876.8 449.8L876.3 450L875.8 450.2L875.3 450.4L874.9 450.6L874.4 450.8L873.9 451L873.4 451.2L872.9 451.4L872.4 451.6L871.9 451.8L871.4 452L871 452.2L870.5 452.4L870 452.6L869.5 452.8L869 453L868.5 453.1L868 453.3L867.5 453.5L867.1 453.7L866.6 453.9L866.1 454L865.6 454.2L865.1 454.4L864.6 454.6L864.1 454.7L863.7 454.9L863.2 455.1L862.7 455.3L862.2 455.4L861.7 455.6L861.2 455.8L860.7 455.9L860.2 456.1L859.8 456.2L859.3 456.4L858.8 456.5L858.3 456.7L857.8 456.9L857.3 457L856.8 457.2L856.3 457.3L855.9 457.5L855.4 457.6L854.9 457.8L854.4 457.9L853.9 458.1L853.4 458.2L852.9 458.4L852.4 458.5L852 458.7L851.5 458.9L851 459L850.5 459.2L850 459.3L849.5 459.5L849 459.7L848.5 459.8L848 460L847.6 460.1L847.1 460.3L846.6 460.4L846.1 460.6L845.6 460.7L845.1 460.9L844.6 461L844.1 461.2L843.6 461.3L843.1 461.5L842.7 461.6L842.2 461.8L841.7 462L841.2 462.1L840.7 462.3L840.2 462.4L839.7 462.6L839.2 462.8L838.7 462.9L838.2 463.1L837.8 463.3L837.3 463.4L836.8 463.6L836.3 463.8L835.8 464L835.3 464.1L834.8 464.3L834.3 464.6L833.8 464.8L833.3 465L832.8 465.2L832.3 465.5L831.8 465.7L831.3 465.9L830.8 466.2L830.3 466.4L829.8 466.6L829.3 466.8L828.8 467L828.3 467.2L827.8 467.4L827.3 467.6L826.8 467.7L826.3 467.8L825.8 468L825.3 468.1L824.9 468.2L824.4 468.3L823.9 468.4L823.4 468.5L822.9 468.6L822.4 468.7L821.9 468.8L821.4 468.9L820.9 469L820.5 469.1L820 469.3L819.5 469.4L819 469.6L818.5 469.8Z" fill="#ff0000"/>
<path d="M818 470l0.5 -0.2 0.5 -0.3 0.5 -0.1 0.5 -0.2 0.5 -0.1 0.4 -0.3 0.5 0.1 0.5 -0.3 0.5 0 0.5 -0.3 0.5 0.2 0.5 -0.4 0.5 0.2 0.5 -0.4 0.4 0.2 0.5 -0.5 0.5 0.2 0.5 -0.5 0.5 0.3 0.5 -0.7 0.5 0.3 0.5 -0.8 0.5 0.4 0.5 -0.9 0.5 0.4 0.5 -1.1 0.5 0.7 0.5 -1.6 0.5 1.2 0.5 -1.7 0.5 1 0.5 -1.8 0.5 1.5 0.5 -2.1 0.5 1.7 0.5 -2.2 0.5 1.9 0.5 -2.3 0.5 2 0.5 -2.6 0.4 1.9 0.5 -2.7 0.5 2.6 0.5 -3 0.5 2.8 0.5 -3.6 0.5 3.1 0.5 -3.3 0.5 3.3 0.5 -3.8 0.4 3.5 0.5 -3.8 0.5 3.4 0.5 -4.3 0.5 4.5 0.5 -5.1 0.5 4.1 0.5 -4.3 0.5 4 0.5 -4.7 0.4 4.4 0.5 -5.1 0.5 4.7 0.5 -5.2 0.5 5.6 0.5 -5.8 0.5 5.4 0.5 -5.9 0.5 5.4 0.4 -6 0.5 5.1 0.5 -4.8 0.5 4.2 0.5 -4.8 0.5 4.7 0.5 -5.6 0.5 5.2 0.4 -5.2 0.5 5.6 0.5 -6.1 0.5 5.9 0.5 -5.9 0.5 5.1 0.5 -5.4 0.5 5.2 0.4 -6.3 0.5 5.7 0.5 -6 0.5 6.1 0.5 -7.4 0.5 6.7 0.5 -6.3 0.5 6.6 0.4 -7.9 0.5 7.4 0.5 -7.2 0.5 6.9 0.5 -7.8 0.5 7.2 0.5 -8.5 0.4 7.7 0.5 -7.7 0.5 7.5 0.5 -8.8 0.5 8.5 0.5 -7.6 0.5 6.7 0.5 -7.3 0.4 7.4 0.5 -8.5 0.5 8.7 0.5 -10.2 0.5 9.9 0.5 -9.7 0.5 9.1 0.5 -9.8 0.4 8.9 0.5 -10.3 0.5 10.1 0.5 -10.6 0.5 10.3 0.5 -11.4 0.5 10.7 0.5 -12.1 0.4 11.9 0.5 -12.6 0.5 12.1 0.5 -12.6 0.5 11.7 0.5 -11.1 0.5 9.8 0.5 -13.3 0.5 13 0.5 -12.5 0.5 12.9 0.5 -13.7 0.5 15.1 0.5 -16.9 0.5 14.7 0.5 -17.3 0.5 16.4 0.5 -15.5 0.5 15.2 0.5 -17.1 0.4 15.5 0.5 -17.5 0.4 16 0.5 -18.8 0.5 20.9 0.4 -22.7 0.5 19.3 0.4 -18.3 0.5 19.5 0.5 -23.2 0.4 24.9 0.5 -26 0.4 27.8 0.5 -31.5 0.5 28.1 0.4 -27.6 0.5 30.1 0.4 -34.9 0.5 -35.1 0.5 28 0.5 40.3 0.5 -32 0.4 34.9 0.5 -32.7 0.5 30.2 0.5 -31.8 0.5 31.7 0.5 -25.2 0.5 30 0.5 35 0.5 -28.2 0.5 -29.4 0.5 27 0.5 -23.8 0.5 25.6 0.5 -25.4 0.5 26.2 0.5 -26.3 0.4 24.2 0.5 -26.2 0.5 25.2 0.5 -23.1 0.5 21.7 0.4 -21.4 0.5 20.8 0.5 -20.3 0.5 20.9 0.4 -20.3 0.5 20.3 0.5 -18.2 0.5 17.1 0.5 -15.4 0.4 13.3 0.5 -13.1 0.5 14.8 0.5 -14.9 0.4 13.9 0.5 -14.7 0.5 14.4 0.4 -12.9 0.5 12.6 0.5 -12.1 0.5 12.4 0.4 -12.1 0.5 11.1 0.5 -11.1 0.4 12.3 0.5 -11.5 0.5 11.9 0.5 -11.8 0.5 12.6 0.5 -13 0.5 12.6 0.5 -11.8 0.5 11.8 0.5 -11.9 0.5 10.6 0.4 -11.6 0.5 11.8 0.4 -14.7 0.4 -23.5 0.4 51.6 0.5 -12.8 0.4 -11.5 0.5 11.9 0.5 -10.2 0.5 9.2 0.5 -8.3 0.5 8.6 0.5 -9.5 0.5 9 0.5 -8.2 0.5 8.4 0.5 -9.2 0.5 9.2 0.5 -9.3 0.5 11.3 0.5 -11.9 0.5 10.4 0.5 -9.8 0.5 9.6 0.5 -9.4 0.5 8.8 0.5 -8 0.5 8.8 0.5 -8.5 0.5 8.3 0.5 -9.2 0.5 9.4 0.5 -8.5 0.5 8.9 0.5 -8.7 0.5 8.6 0.5 -7.9 0.5 8 0.5 -8.1"/>
</g>
<g stroke="#00ff00" stroke-width="2.7">
<path d="M645 574l1.5 0 1.4 0 1.5 0 1.4 0 1.5 0.1 1.5 0 1.4 0 1.5 0.1 1.5 0 1.4 0.1 1.5 0.1 1.4 0 1.5 0.1 1.3 0.1 1.4 0.3 1.3 0.3 1.3 0.3 1.4 0.3 1.3 0.2 1.5 0.2 1.5 0.2 1.5 0.1 1.5 0.2 1.5 0.1 1.5 0 1.4 -0.1 1.4 -0.2 1.4 -0.3 1.3 -0.4 1.4 -0.5 1.4 -0.5 1.4 -0.4 1.3 -0.5 1.2 -0.6 1.3 -0.6 1.2 -0.5 1.3 -0.2 1.5 0.4 1.5 1.1 1.5 1.3 1.5 1.2 1.1 0.8 1.2 0.9 1.2 0.7 1.1 0.3 1.1 -0.9 1.2 -2 1.1 -1.8 1.3 -1.7 1.4 -1.6 1.3 -0.7 1.3 1.1 1.4 2.5 1.3 2.4 1.5 2.4 1.4 2.2 1.5 1 0.6 -1.1 0.7 -2.8 0.6 -3.1 0.7 -2.6 1.2 -3.9 1.3 -2.1 0.7 1.9 0.6 3.9 0.7 3.2 0.3 0.7 0.3 0.5 0.2 0.6 0.3 0.6 0.3 0.9 0.3 1.1 0.2 1.5 0.3 2.3 0.3 5.2 0.3 -7.8 0.3 -3.5 0.3 -2.1 0.2 -1.7 0.3 -1.3 0.3 -1.1 0.3 -0.9 1 -3.3 1 -1.7 0.5 1.7 0.5 3.6 0.5 2.7 0.3 0.7 0.3 0.7 0.3 1 0.3 1.3 0.3 2.1 0.3 4.8 0.3 -6.9 0.3 -3.1 0.2 -2 0.3 -1.4 0.3 -1.2 0.3 -1 1 -3.8 1 -2.2 0.3 0.5 0.3 1.1 0.3 1.1 0.2 1.3 0.3 1.8 0.3 2.8 0.3 6.4 0.3 -7.2 0.3 -3.2 0.3 -2 0.2 -1.5 0.3 -1.3 0.3 -1.2 0.3 -0.6" stroke-dasharray="18 10.3"/>
<path d="M748.5 560.1L749 560.2L749.5 560.4L750 561.4L750.5 560.6L751 560.6L751.5 560.6L752 560.5L752 561.5L751.5 561.8L751 562.4L750.5 563.2L750 570.8L749.5 562L749 561.1L748.5 560.4Z" fill="#00ff00"/>
<path d="M748 560l0.5 0.1 0.5 0.9 0.5 -0.4 0.5 11.4 0.5 -11.5 0.5 1.8 0.5 -1.7 0.5 0.9"/>
<path d="M752 561.5l0.5 -0.9 0.5 1 0.5 -0.7 0.5 1.1 0.5 -0.9 0.5 1.4 0.5 -1.2 0.5 1.5 0.5 -1.7 0.5 1.6 0.5 -1.7 0.5 1.7 0.5 -2 0.5 1.8 0.5 -1.9 0.5 1.4 0.5 -1.7 0.5 1.3 0.5 -1.7 0.5 1.4 0.5 -1.7 0.5 1.4 0.5 -1.9 0.5 1.8 0.5 -2.2 0.5 1.7 0.5 -2 0.5 1.7 0.5 -2.1 0.5 2 0.5 -2.1 0.5 1.4 0.5 -1.7 0.5 1.4 0.5 -2 0.5 1.9 0.5 -2.1 0.5 2 0.5 -2.6 0.5 1.8 0.5 -2 0.5 1.9 0.5 -2.3 0.5 1.6 0.5 -1.9 0.5 1.5 0.5 -2 0.5 1.9 0.5 -2.1 0.5 1.6 0.5 -2.1 0.5 1.9 0.5 -2.5 0.5 1.8 0.5 -2 0.5 1.5 0.5 -1.7 0.5 1.3 0.5 -1.7 0.5 1.3 0.5 -1.8 0.5 1.4 0.5 -1.8 0.5 1.4 0.5 -2 0.5 1.7 0.5 -1.9 0.5 1.4 0.5 -1.7 0.5 1.2 0.5 -2 0.5 1.8 0.5 -1.9 0.5 1.4 0.5 -1.9 0.5 1.4 0.5 -1.9 0.5 1.5 0.5 -2 0.5 1.8 0.5 -2.3 0.5 1.6 0.5 -2 0.5 1.6 0.5 -2.1 0.5 1.5 0.5 -1.9 0.5 1.7 0.5 -2.1 0.5 1.6 0.5 -2 0.5 1.5 0.5 -2 0.5 1.4 0.5 -1.8 0.5 1.4 0.5 -2.1 0.5 1.7 0.5 -1.9 0.5 1.3 0.5 -1.7 0.5 1.3 0.5 -1.9 0.5 1.6 0.5 -1.9 0.5 1.4 0.5 -1.8 0.5 1.2 0.5 -1.7 0.5 1.3 0.5 -1.6 0.5 1.2 0.5 -1.6 0.5 1.2 0.5 -1.7 0.5 1.4 0.5 -2 0.5 1.6 0.5 -2.1 0.5 1.7 0.5 -2.2 0.5 2 0.5 -2.2 0.5 1.8 0.5 -2.2 0.5 1.5 0.5 -1.7 0.4 1.5 0.5 -2 0.5 2 0.5 -2.3 0.5 1.3 0.5 -1.6 0.5 1.3 0.5 -1.7 0.5 1.3 0.5 -1.9 0.5 1.7 0.5 -2 0.5 1.9 0.5 -2.4 0.5 1.9 0.5 -2 0.5 1.5 0.5 -2.1 0.5 1.9 0.5 -2 0.5 1.5 0.5 -1.9 0.5 1.3 0.5 -2.1 0.4 2.2 0.5 -2.5 0.5 1.8 0.5 -2.2 0.5 2 0.5 -2.4 0.5 1.6 0.5 -2.1 0.5 1.6 0.5 -2 0.5 1.5 0.5 -2 0.5 1.5 0.5 -1.8 0.5 0.9 0.5 -1.6 0.5 0.7 0.5 -1.5 0.5 0.7 0.5 -1.3 0.5 0.7 0.5 -1.1 0.5 0.7 0.5 -1.1" stroke-dasharray="9 8"/>
<path d="M839.8 527.4L840.2 527.3L840.7 527.2L841.2 527.2L841.6 527.1L842.1 527L842.6 527L843.1 526.9L843.5 526.9L844 526.8L844.5 526.8L844.9 526.7L845.4 526.6L845.9 526.5L846.4 526.3L846.9 526.2L847.3 526.1L847.8 526L848.3 525.8L848.8 525.7L849.3 525.5L849.8 525.4L850.3 525.2L850.8 525L851.2 524.9L851.7 524.7L852.2 524.5L852.7 524.3L853.2 524.2L853.7 524L854.2 523.8L854.7 523.6L855.1 523.4L855.6 523.2L856.1 522.9L856.6 522.7L857.1 522.5L857.6 522.3L858.1 522.1L858.6 521.9L859 521.6L859.5 521.4L860 521.2L860.5 520.9L861 520.7L861.5 520.5L862 520.2L862.4 519.9L862.9 519.7L863.4 519.4L863.9 519.1L864.4 518.8L864.9 518.5L865.4 518.2L865.9 517.9L866.3 517.6L866.8 517.3L867.3 516.9L867.8 516.6L868.3 516.3L868.8 515.9L869.3 515.6L869.8 515.2L870.2 514.9L870.7 514.5L871.2 514.1L871.7 513.8L872.2 513.4L872.7 513L873.2 512.6L873.7 512.3L874.1 511.9L874.6 511.5L875.1 511.1L875.6 510.7L876.1 510.3L876.6 510L877.1 509.6L877.5 509.2L878 508.8L878.5 508.4L879 508L879.5 507.6L880 507.2L880.4 506.8L880.9 506.3L881.4 505.9L881.9 505.4L882.4 505L882.9 504.5L883.3 504L883.8 503.5L884.3 503L884.8 502.4L885.3 501.8L885.8 501.2L886.2 500.6L886.7 499.9L887.2 499.3L887.7 498.6L888.2 497.7L888.7 496.7L889.2 495.5L889.7 494.3L890.2 492.9L890.7 491.5L891.2 490.1L891.7 488.7L892.2 487.3L892.7 485.9L893.2 484.7L893.7 483.6L894.2 482.7L894.6 481.8L895.1 480.9L895.5 479.8L896 478.3L896.5 476.4L896.9 473.5L897.4 447.4L897.8 477.1L898.3 480.3L898.7 482.5L899.2 484.1L899.6 485.4L900.1 486.6L900.5 487.6L901 488.5L901.4 489.3L901.9 490.2L902.4 491.1L902.9 491.9L903.4 492.6L903.8 493.4L904.3 494L904.8 494.6L905.3 495.1L905.8 495.6L906.3 495.9L906.8 496.3L907.2 496.6L907.7 496.9L908.2 497.2L908.7 497.4L909.2 497.7L909.6 497.9L910.1 498.1L910.6 498.4L911.1 498.6L911.5 498.8L912 499L912.5 499.2L913 499.4L913.5 499.5L913.9 499.7L914.4 499.9L914.9 500.2L915.4 500.4L915.8 500.6L916.3 500.8L916.8 501L917.2 501.2L917.7 501.4L918.2 501.6L918.7 501.8L919.1 501.9L919.6 502.1L920.1 502.3L920.5 502.4L921 502.6L921.5 502.7L922 502.8L922.5 503L923 503.1L923.5 503.3L924 503.4L924.5 503.5L925 503.5L925.5 503.6L925.9 502.5L926.4 501L926.8 498.9L927.2 479.2L927.6 499.3L928.1 501.8L928.5 503.4L929 504.6L929.5 504.6L930 504.6L930.5 504.6L931 504.6L931.5 504.6L932 504.6L932.5 504.6L933 504.6L933.5 504.6L934 504.6L934.5 504.6L935 504.7L935.5 504.7L936 504.8L936.5 504.9L937 505L937.5 505.1L938 505.2L938.5 505.3L939 505.5L939.5 505.6L940 505.8L940.5 505.9L941 506.1L941.5 506.3L942 506.5L942.5 506.6L943 506.8L943.5 507L944 507.2L944.5 507.4L944.5 513.4L944 513.4L943.5 513.4L943 513.5L942.5 513.5L942 513.6L941.5 513.6L941 513.7L940.5 513.8L940 513.8L939.5 513.9L939 514L938.5 514L938 514.1L937.5 514.2L937 514.2L936.5 514.3L936 514.3L935.5 514.4L935 514.5L934.5 514.5L934 514.6L933.5 514.6L933 514.6L932.5 514.7L932 514.7L931.5 514.7L931 514.8L930.5 514.8L930 514.8L929.5 514.9L929 514.9L928.5 515.8L928.1 517.7L927.6 519.8L927.2 518.7L926.8 517.5L926.4 516.4L925.9 515.7L925.5 515.4L925 515.5L924.5 515.5L924 515.6L923.5 515.7L923 515.9L922.5 516L922 516.1L921.5 516.3L921 516.4L920.5 516.6L920.1 516.8L919.6 516.9L919.1 517.1L918.7 517.3L918.2 517.5L917.7 517.7L917.2 518L916.8 518.2L916.3 518.5L915.8 518.7L915.4 519L914.9 519.2L914.4 519.5L913.9 519.8L913.5 520.1L913 520.5L912.5 520.8L912 521.1L911.5 521.5L911.1 521.9L910.6 522.2L910.1 522.6L909.6 523L909.2 523.5L908.7 523.9L908.2 524.3L907.7 524.8L907.2 525.3L906.8 525.7L906.3 526.2L905.8 526.7L905.3 527.3L904.8 527.9L904.3 528.6L903.8 529.5L903.4 530.5L902.9 531.9L902.4 534L901.9 552.8L901.4 516.1L901 512L900.5 509.4L900.1 508.5L899.6 507.6L899.2 506.8L898.7 506.1L898.3 505.5L897.8 504.9L897.4 504.4L896.9 503.9L896.5 503.5L896 503.2L895.5 502.9L895.1 502.7L894.6 502.6L894.2 502.5L893.7 502.4L893.2 502.6L892.7 502.9L892.2 503.4L891.7 504.1L891.2 504.8L890.7 505.6L890.2 506.5L889.7 507.4L889.2 508.2L888.7 509L888.2 509.6L887.7 510.2L887.2 510.6L886.7 511L886.2 511.4L885.8 511.7L885.3 512.1L884.8 512.4L884.3 512.8L883.8 513.1L883.3 513.4L882.9 513.7L882.4 514L881.9 514.3L881.4 514.6L880.9 514.9L880.4 515.1L880 515.4L879.5 515.7L879 515.9L878.5 516.2L878 516.4L877.5 516.7L877.1 517L876.6 517.2L876.1 517.5L875.6 517.8L875.1 518.1L874.6 518.4L874.1 518.6L873.7 518.9L873.2 519.2L872.7 519.5L872.2 519.8L871.7 520.1L871.2 520.4L870.7 520.7L870.2 521L869.8 521.3L869.3 521.5L868.8 521.8L868.3 522.1L867.8 522.4L867.3 522.6L866.8 522.9L866.3 523.2L865.9 523.4L865.4 523.6L864.9 523.9L864.4 524.1L863.9 524.3L863.4 524.6L862.9 524.8L862.4 525L862 525.2L861.5 525.3L861 525.5L860.5 525.7L860 525.8L859.5 526L859 526.1L858.6 526.3L858.1 526.4L857.6 526.6L857.1 526.7L856.6 526.9L856.1 527L855.6 527.2L855.1 527.3L854.7 527.5L854.2 527.6L853.7 527.7L853.2 527.9L852.7 528L852.2 528.1L851.7 528.2L851.2 528.3L850.8 528.4L850.3 528.5L849.8 528.6L849.3 528.7L848.8 528.8L848.3 528.9L847.8 528.9L847.3 529L846.9 529L846.4 529.1L845.9 529.1L845.4 529.1L844.9 529.1L844.5 529.1L844 529.1L843.5 529L843.1 528.9L842.6 528.8L842.1 528.8L841.6 528.7L841.2 528.6L840.7 528.6L840.2 528.5L839.8 528.5Z" fill="#00ff00"/>
<path d="M839.3 527.5l0.5 0.9 0.4 -1.1 0.5 1.3 0.5 -1.3 0.4 1.3 0.5 -1.4 0.5 1.4 0.5 -1.7 0.4 2.1 0.5 -2.2 0.5 2.2 0.4 -2.1 0.5 2 0.5 -2.4 0.5 2.7 0.5 -3.1 0.4 2.7 0.5 -3 0.5 3.2 0.5 -3.5 0.5 3 0.5 -3.2 0.5 3.5 0.5 -3.7 0.4 3.2 0.5 -3.3 0.5 2.7 0.5 -3.2 0.5 3.2 0.5 -3.5 0.5 3.4 0.5 -4.2 0.4 3.7 0.5 -3.7 0.5 3.8 0.5 -4.8 0.5 4.8 0.5 -5.2 0.5 4.9 0.5 -5.2 0.4 4.7 0.5 -4.8 0.5 4.2 0.5 -5.4 0.5 4.7 0.5 -4.4 0.5 4.8 0.4 -5.3 0.5 4.7 0.5 -6 0.5 5.3 0.5 -5.3 0.5 4.7 0.5 -5.7 0.5 5.3 0.4 -5.9 0.5 5.8 0.5 -5.8 0.5 4.7 0.5 -5.9 0.5 5.8 0.5 -6.1 0.5 6.1 0.4 -7.7 0.5 6.6 0.5 -6.6 0.5 6.6 0.5 -8.3 0.5 7 0.5 -7.1 0.5 7 0.4 -7.7 0.5 6 0.5 -6.4 0.5 6.3 0.5 -6.9 0.5 5.7 0.5 -7.2 0.4 7.1 0.5 -7.8 0.5 7.9 0.5 -8.6 0.5 8.1 0.5 -8.4 0.4 6.5 0.5 -6.9 0.5 6.4 0.5 -7.2 0.5 7.2 0.5 -8.4 0.4 7.3 0.5 -7.9 0.5 8.1 0.5 -10 0.5 8.6 0.5 -9.4 0.4 9.8 0.5 -10.6 0.5 8.8 0.5 -9.9 0.5 8.5 0.5 -9.6 0.5 8.6 0.5 -11.8 0.5 10.4 0.5 -13.1 0.5 11.8 0.5 -15.5 0.5 14.4 0.5 -15.8 0.5 13.9 0.5 -16.9 0.5 15.7 0.4 -17.5 0.5 17.6 0.4 -18 0.5 17.7 0.5 -23.8 0.4 28.2 0.5 -58.5 0.4 55.4 0.5 -20.8 0.4 24.3 0.5 -18.8 0.4 18.9 0.5 -17.9 0.4 18.6 0.5 -15.6 0.4 20.8 0.5 42.9 0.5 -28.3 0.5 -30.2 0.5 29.2 0.4 -26.4 0.5 29.8 0.5 -31 0.5 27.3 0.5 -27.3 0.5 28.5 0.5 -26.1 0.4 22.7 0.5 -21.8 0.5 20.3 0.5 -20.3 0.5 20.4 0.4 -21.4 0.5 20.6 0.5 -17.4 0.5 18.5 0.4 -18.3 0.5 16.3 0.5 -18.2 0.5 15.8 0.5 -16.3 0.4 16.9 0.5 -16.8 0.5 17.5 0.5 -16.5 0.4 15.3 0.5 -13.4 0.5 13.3 0.4 -14.7 0.5 14.9 0.5 -13.3 0.5 11.3 0.4 -12.2 0.5 13.5 0.5 -11.8 0.4 10.3 0.5 -11.1 0.5 12.3 0.5 -11.9 0.5 10.9 0.5 -12.1 0.5 12.8 0.5 -11.8 0.5 10.3 0.5 -8.8 0.5 9.1 0.4 -11.1 0.5 11.5 0.4 -16.4 0.4 -20.4 0.4 43 0.5 -5.1 0.4 -12 0.5 10.6 0.5 -9.4 0.5 9.1 0.5 -8.3 0.5 7.7 0.5 -8.4 0.5 8.5 0.5 -7.7 0.5 7.5 0.5 -7.7 0.5 7.4 0.5 -7.1 0.5 7.3 0.5 -7.8 0.5 7.5 0.5 -7.7 0.5 8 0.5 -7.6 0.5 8 0.5 -7.8 0.5 7.3 0.5 -8.3 0.5 9.6 0.5 -8 0.5 6.8 0.5 -6.2 0.5 5.6 0.5 -5.2 0.5 5.6 0.5 -5.6 0.5 5.1 0.5 -5.2"/>
</g>
<g stroke="#ff00ff" stroke-width="2.7">
<path d="M744 618l1.5 -0.2 1.5 -0.2 1.5 -0.3 1.5 -0.3" stroke-dasharray="18 10.3"/>
<path d="M750 617l0.5 -0.1 0.5 -0.1 0.5 -0.2 0.5 0.1 0.5 -0.3 0.4 0.1 0.5 -0.4 0.5 0.3 0.5 -0.7 0.5 0.6 0.5 -0.9 0.5 0.6 0.5 -1 0.5 0.9 0.5 -1.1 0.5 0.7 0.4 -1.2 0.5 1 0.5 -1.3 0.5 1.1 0.5 -1.6 0.5 1.3 0.5 -1.9 0.5 1.5 0.5 -2 0.4 1.4 0.5 -2 0.5 1.5 0.5 -2.5 0.5 1.7 0.5 -2.4 0.4 1.9 0.5 -2.7 0.5 1.5 0.5 -2.2 0.5 1.3 0.5 -2 0.4 1.3 0.5 -2.1 0.5 1.2 0.5 -2.1 0.5 1.4 0.5 -2.5 0.5 1.7 0.5 -2.6 0.5 1.6 0.5 -2.4 0.5 1.5 0.5 -2.4 0.5 1.4 0.5 -2.2 0.5 1.2 0.5 -2.3 0.5 1.5 0.5 -2.4 0.5 1.4 0.5 -2.4 0.5 1.1 0.5 -2 0.5 1.1 0.5 -2.3 0.5 1.6 0.5 -2.9 0.5 1.9 0.5 -2.4 0.5 1.4 0.5 -2.2 0.5 1.1 0.5 -2 0.5 1.2 0.5 -2.1 0.5 1 0.5 -1.8 0.5 1 0.5 -1.9 0.5 1.1 0.5 -2.3 0.5 1.4 0.5 -2.2 0.5 1.4 0.5 -2.3 0.5 1.1 0.5 -2.1 0.5 1.7 0.5 -2.4 0.5 1.4 0.5 -2.5 0.5 1.7 0.5 -2.4 0.5 1.7 0.5 -2.3 0.5 1.8 0.5 -2.4 0.5 1.7 0.5 -1.9 0.5 1.5 0.5 -1.8 0.5 1.4 0.5 -1.7 0.5 1.3 0.5 -1.6 0.5 1.5 0.5 -1.8 0.5 1.7 0.5 -1.8 0.5 1.4 0.5 -1.5 0.5 1.3 0.5 -1.5 0.5 1.6 0.5 -1.7 0.5 1.5 0.5 -1.8 0.5 1.6 0.5 -1.6 0.5 1.5 0.5 -1.8 0.5 1.6 0.5 -1.9 0.5 1.4 0.5 -1.9 0.5 1.1 0.5 -1.9 0.5 0.7 0.5 -2.1 0.5 0.9 0.5 -2.4 0.5 0.7 0.5 -1.9 0.5 0.5 0.5 -1.9 0.5 0.8 0.5 -1.9 0.5 0.8 0.5 -1.9 0.5 0.9 0.5 -1.9 0.5 0.9 0.5 -1.9 0.5 0.8 0.5 -2 0.5 1.4 0.5 -2.3 0.5 1.3 0.5 -2.2 0.5 1.5 0.5 -2.4 0.5 1.4 0.5 -2.2 0.5 1.5 0.5 -2.3 0.5 1.8 0.5 -2.5 0.5 1.7 0.5 -2.3 0.5 1.6 0.5 -2.5 0.5 1.6 0.5 -2.3 0.5 1.5 0.5 -2.2 0.5 1.3 0.5 -2 0.5 1.4 0.5 -2 0.5 1.2 0.5 -1.9 0.5 1 0.5 -1.8 0.5 1.2 0.5 -2.2 0.5 1.7 0.5 -2.6 0.5 1.5 0.5 -2.2 0.5 1.4 0.5 -2.2 0.5 1.4 0.5 -2.6 0.5 0.8 0.5 -1.8 0.5 0.5 0.5 -1.5 0.5 0.5 0.5 -2.1" stroke-dasharray="9 8"/>
<path d="M842.4 548.5L842.9 547.4L843.3 546L843.7 530.2L844.2 544.7L844.6 546.1L845 546.8L845.5 547.2L846 547L846.5 546.6L847 545.9L847.5 545.2L848 544.4L848.5 543.5L849 542.8L849.5 542.1L850 541.5L850.5 541L851 540.6L851.5 540.2L852 539.9L852.5 539.5L853 539.2L853.5 538.9L853.9 538.5L854.4 538.2L854.9 537.9L855.4 537.6L855.9 537.2L856.4 536.9L856.9 536.5L857.4 536.1L857.9 535.7L858.3 535.4L858.8 535L859.3 534.7L859.7 534.3L860.2 533.9L860.6 533.5L861.1 533L861.6 532.5L862 531.9L862.5 531.2L862.9 530.1L863.4 528.6L863.8 526.4L864.2 503.8L864.7 524.9L865.1 526.9L865.5 528.3L866 529.2L866.5 529.1L867 528.8L867.5 528.3L868 527.8L868.5 527.1L869 526.4L869.5 525.6L870 524.8L870.5 524L871 523.2L871.5 522.5L872 521.9L872.5 521.3L873 520.7L873.5 520.1L874 519.6L874.5 519L875 518.4L875.5 517.8L876 517.3L876.5 516.7L877 516.2L877.5 515.7L878 515.2L878.5 514.7L879 514.2L879.5 513.9L880 513.5L880.5 513.2L881 513.3L881.5 512L882 511.4L882.5 510.8L883 510.2L883 511.8L882.5 512.4L882 513.2L881.5 514.4L881 525.6L880.5 517.4L880 516.6L879.5 516.1L879 515.8L878.5 515.9L878 516.2L877.5 516.6L877 517.1L876.5 517.7L876 518.3L875.5 519L875 519.8L874.5 520.6L874 521.3L873.5 522.1L873 522.8L872.5 523.5L872 524.1L871.5 524.7L871 525.3L870.5 525.9L870 526.6L869.5 527.2L869 527.8L868.5 528.4L868 529L867.5 529.5L867 530L866.5 530.4L866 530.8L865.5 530.9L865.1 530.9L864.7 530.8L864.2 530.8L863.8 531.4L863.4 531.9L862.9 532.3L862.5 532.8L862 533.2L861.6 533.7L861.1 534.3L860.6 534.9L860.2 535.6L859.7 536.2L859.3 536.9L858.8 537.5L858.3 538.1L857.9 538.6L857.4 539.1L856.9 539.5L856.4 540L855.9 540.3L855.4 540.7L854.9 541.1L854.4 541.4L853.9 541.7L853.5 542.1L853 542.4L852.5 542.7L852 543L851.5 543.4L851 543.7L850.5 544.1L850 544.5L849.5 544.9L849 545.3L848.5 545.6L848 546L847.5 546.4L847 546.9L846.5 547.4L846 548L845.5 548.8L845 550.1L844.6 552L844.2 551.3L843.7 550.7L843.3 550.7L842.9 550.7L842.4 550.7Z" fill="#ff00ff"/>
<path d="M842 549l0.4 1.9 0.5 -3.8 0.4 3.6 0.4 -21.7 0.5 22.4 0.4 1.6 0.4 -3 0.5 -2.8 0.5 0.7 0.5 -1.2 0.5 0.2 0.5 -1.7 0.5 0.8 0.5 -2.3 0.5 1.8 0.5 -3.7 0.5 2.7 0.5 -3.5 0.5 3.2 0.5 -4.3 0.5 3.5 0.5 -4.2 0.5 3.1 0.5 -3.1 0.4 2.5 0.5 -3.3 0.5 3 0.5 -3.9 0.5 3.1 0.5 -3.6 0.5 2.5 0.5 -3.4 0.5 2.3 0.4 -3.1 0.5 2.2 0.5 -3 0.4 1.8 0.5 -2.4 0.4 0.9 0.5 -1.7 0.5 0.7 0.4 -2.1 0.5 1 0.4 -2.7 0.5 2 0.4 -5.7 0.4 -23.7 0.5 22.6 0.4 5.9 0.4 -2.9 0.5 2.7 0.5 -1.9 0.5 0.9 0.5 -1.7 0.5 0.8 0.5 -1.9 0.5 0.7 0.5 -2.4 0.5 1.4 0.5 -2.9 0.5 1.2 0.5 -2.4 0.5 1.5 0.5 -3 0.5 1.8 0.5 -2.8 0.5 1.3 0.5 -2.5 0.5 0.9 0.5 -2.2 0.5 0.7 0.5 -1.7 0.5 0.4 0.5 -1.4 0.5 0.4 0.5 -1.4 0.5 1 0.5 -2.1 0.5 3 0.5 -3.3 0.5 13.5 0.5 -14.6 0.5 1.1 0.5 -2.3 0.5 0.6"/>
<path d="M883 511.6l0.5 -1.8 0.5 0.5 0.5 -1.8 0.4 0.5 0.5 -1.8 0.5 0.2 0.5 -1.9 0.5 -0.1 0.4 -1.7 0.5 -0.7 0.4 -1.8 0.4 -1.1 0.5 -1.8 0.4 -1.5 0.5 -1.8" stroke-dasharray="9 8"/>
<path d="M890 495l0.5 -2.3 0.5 -2.7 0.5 -2.9 0.5 -3.1 0.5 -3.1 0.5 -2.9 0.2 -1.1 0.2 -1.2 0.3 -1.3 0.2 -1.5 0.2 -1.9 0.2 -2.3 0.3 -3.1 0.2 -5 0.2 -9.6 0.2 9.6 0.2 5 0.3 3.1 0.2 2.3 0.2 1.9 0.2 1.6 0.3 1.2 0.2 1.2 0.2 1.1 0.5 3 0.6 3.2 0.5 3 0.6 2.6 0.5 1.9" stroke-dasharray="18 10.3"/>
<path d="M899.7 491.7l0.5 1.2 0.4 0.8 0.5 1.1 0.4 0.4 0.5 1 0.5 0.2 0.5 1.1 0.4 0.1 0.5 0.9 0.5 0.1 0.4 0.8 0.5 0 0.5 0.8 0.5 -0.1 0.5 0.9 0.5 -0.2 0.5 0.8 0.5 -0.1 0.5 0.7 0.5 -0.1 0.5 0.7 0.5 -0.1 0.5 0.7 0.5 -0.2 0.5 0.7 0.5 -0.3 0.5 0.7 0.5 -0.2 0.5 0.7 0.5 -0.3 0.5 0.7 0.5 -0.2 0.5 0.6 0.5 -0.3 0.5 0.6 0.5 -0.3 0.5 0.7 0.5 -0.4 0.5 0.6 0.5 -0.4 0.5 0.6 0.4 -0.3 0.5 0.6 0.5 -0.3 0.5 0.6 0.5 -0.4 0.5 0.6 0.5 -0.4 0.5 0.6 0.4 -0.4 0.5 0.5 0.5 -0.3 0.5 0.5 0.5 -0.3 0.5 0.5 0.5 -0.4 0.5 0.6 0.4 -0.4 0.5 0.5 0.5 -0.3 0.5 0.5 0.5 -0.4 0.5 0.5 0.5 -0.4 0.5 0.6 0.5 -0.4 0.5 0.5 0.5 -0.4 0.5 0.5 0.5 -0.4 0.5 0.5 0.5 -0.4 0.5 0.5 0.5 -0.3 0.5 0.5 0.5 -0.5 0.5 0.5 0.5 -0.4 0.5 0.6 0.5 -0.4 0.5 0.5 0.5 -0.4 0.5 0.4 0.5 -0.4 0.5 0.5 0.5 -0.4 0.5 0.5 0.5 -0.4 0.5 0.4 0.5 -0.3 0.5 0.4"/>
</g>
</g>
<g clip-path="url(#cp4)" fill="none" stroke-linejoin="round">
<g stroke="#0000ff" stroke-width="4">
<path d="M944.5 395l1.5 0 1.5 0 1.5 0 1.4 0 1.5 0 1.5 0 1.5 0 1.5 0 1.5 0 1.5 0 1.4 0 1.5 0 1.5 0 1.5 0 1.5 0 1.5 0 1.5 0 1.4 0 1.5 0 1.5 0 1.5 0 1.5 0 1.5 0 1.5 0 1.4 0 1.5 0 1.5 0 1.5 0 1.5 0 1.5 0 1.4 0 1.5 0 1.5 0 1.5 0 1.5 0 1.5 0 1.5 0 1.4 0 1.5 0 1.5 0 1.5 0 1.5 0 1.5 0 1.5 0 1.4 0 1.5 0 1.5 0 1.5 0 1.5 0 1.5 0 1.5 0 1.4 0 1.5 0 1.5 0 1.5 0 1.5 0 1.5 0 1.5 0 1.4 0 1.5 0 1.5 0 1.5 0"/>
<path d="M1037.1 395L1037.6 395L1038.1 395L1038.6 395L1039.1 395L1039.6 395.1L1040.1 395.1L1040.6 395.1L1041.1 395.1L1041.6 395.1L1042.1 395.2L1042.6 395.2L1043.1 395.2L1043.6 395.3L1044.1 395.3L1044.6 395.3L1045.1 395.4L1045.6 395.4L1046 395.4L1046.5 395.5L1047 395.5L1047.5 395.5L1048 395.6L1048.5 395.6L1049 395.7L1049.5 395.7L1050 395.7L1050.5 395.8L1051 395.8L1051.5 395.9L1052 395.9L1052.5 395.9L1053 396L1053.5 396L1054 396.1L1054.5 396.1L1055 396.1L1055.5 396.2L1056 396.2L1056.5 396.2L1057 396.3L1057.5 396.3L1058 396.3L1058.5 396.4L1059 396.4L1059.5 396.4L1060 396.5L1060.5 396.5L1061 396.6L1061.5 396.6L1062 396.6L1062.5 396.7L1063 396.7L1063.5 396.8L1064 396.8L1064.5 396.8L1065 396.9L1065.5 396.9L1066 397L1066.5 397L1067 397L1067.5 397.1L1068 397.1L1068.5 397.2L1069 397.2L1069.5 397.2L1070 397.3L1070.5 397.3L1071 397.4L1071.5 397.4L1072 397.5L1072.5 397.5L1073 397.6L1073.4 397.6L1073.9 397.7L1074.4 397.7L1074.9 397.8L1075.4 397.8L1075.9 397.9L1076.4 397.9L1076.9 398L1077.4 398L1077.9 398.1L1078.4 398.2L1078.9 398.2L1079.4 398.3L1079.8 398.3L1080.3 398.4L1080.8 398.4L1081.3 398.5L1081.8 398.5L1082.3 398.6L1082.8 398.6L1083.3 398.7L1083.8 398.7L1084.3 398.7L1084.8 398.8L1085.3 398.8L1085.8 398.8L1086.3 398.9L1086.7 398.9L1087.2 398.9L1087.7 398.9L1088.2 399L1088.7 399L1089.2 399L1089.7 399L1090.2 399L1090.7 398.9L1091.2 398.8L1091.7 398.6L1092.1 398.4L1092.6 398.2L1093.1 397.9L1093.6 397.7L1094.1 397.3L1094.6 397L1095.1 396.6L1095.6 396.3L1096 395.8L1096.5 395.4L1097 395L1097.5 394.5L1098 394.1L1098.5 393.6L1099 393.2L1099.5 392.8L1099.9 392.4L1100.4 391.9L1100.9 391.6L1101.4 391.2L1101.9 390.8L1102.4 390.5L1102.9 390.1L1103.4 389.7L1103.9 389.3L1104.4 388.9L1104.9 388.5L1105.3 388.1L1105.8 387.7L1106.3 387.3L1106.8 386.9L1107.3 386.5L1107.8 386.2L1108.3 385.8L1108.8 385.5L1109.3 385.2L1109.8 384.9L1110.3 384.7L1110.8 384.5L1111.3 384.3L1111.8 384.1L1112.3 384L1112.8 383.8L1113.2 383.6L1113.7 383.4L1114.2 383.2L1114.7 383L1115.2 382.8L1115.7 382.5L1116.2 382.1L1116.7 381.7L1117.2 381.2L1117.7 380.2L1118.2 378.5L1118.7 376.4L1119.2 374.2L1119.6 371.5L1120.1 368L1120.6 362.7L1121.1 314.6L1121.6 359L1122.1 363.9L1122.6 367.1L1123.1 369.6L1123.6 371.6L1124 373.3L1124.5 374.8L1125 376.1L1125.5 377.4L1126 378.6L1126.5 379.6L1127 380.2L1127.5 380.6L1128 380.9L1128.5 381.3L1129 381.6L1129.5 381.9L1129.9 382.2L1130.4 382.4L1130.9 382.7L1131.4 382.9L1131.9 383.1L1132.4 383.3L1132.9 383.5L1133.4 383.6L1133.9 383.8L1134.3 383.9L1134.8 384L1135.3 384.1L1135.8 384.1L1136.3 384.2L1136.8 384.2L1137.3 384.2L1137.8 384.2L1138.3 384.1L1138.8 384.1L1139.3 384L1139.8 384L1140.2 383.9L1140.7 383.8L1141.2 383.7L1141.7 383.6L1142.2 383.5L1142.7 383.3L1143.2 383.2L1143.7 383.1L1144.2 382.9L1144.7 382.7L1145.2 382.6L1145.6 382.4L1146.1 382.2L1146.6 382L1147.1 381.8L1147.6 381.6L1148.1 381.4L1148.6 381.2L1149.1 381L1149.6 380.6L1150.1 380.3L1150.6 379.9L1151.1 379.4L1151.5 378.9L1152 378.4L1152.5 377.8L1153 377.2L1153.5 376.5L1154 375.9L1154.5 375.2L1155 374.5L1155.4 373.6L1155.9 372.6L1156.4 371.6L1156.8 370.4L1157.3 369.1L1157.7 367.5L1158.2 365.5L1158.7 362.9L1159.1 359.1L1159.6 323.7L1160.1 364L1160.5 368.4L1161 371.4L1161.5 373.6L1161.9 375.4L1162.4 377L1162.9 378.3L1163.4 379.5L1163.8 380.5L1164.3 381.5L1164.8 382.5L1165.3 383.5L1165.8 384.4L1166.3 385.4L1166.8 386.3L1167.3 387.2L1167.8 388.2L1168.2 389L1168.7 389.9L1169.2 390.7L1169.7 391.6L1170.2 392.3L1170.7 393.1L1171.2 393.8L1171.7 394.5L1172.2 395.2L1172.7 395.8L1173.2 396.5L1173.7 397.1L1174.2 397.7L1174.7 398.3L1175.1 398.8L1175.6 399.4L1176.1 400L1176.6 400.5L1177.1 401L1177.6 401.6L1178.1 402.1L1178.6 402.6L1179.1 403.1L1179.6 403.6L1180.1 404L1180.5 404.5L1181 405L1181.5 405.5L1182 405.9L1182.5 406.4L1183 406.8L1183.5 407.2L1184 407.7L1184.5 408.1L1185 408.5L1185.4 408.9L1185.9 409.4L1186.4 409.8L1186.9 410.2L1187.4 410.6L1187.9 411L1188.4 411.4L1188.9 411.8L1189.4 412.2L1189.9 412.6L1190.4 413L1190.9 413.4L1191.3 413.8L1191.8 414.1L1192.3 414.5L1192.8 414.9L1193.3 415.3L1193.8 415.6L1194.3 416L1194.8 416.4L1195.3 416.7L1195.8 417.1L1196.3 417.4L1196.8 417.8L1197.3 418.1L1197.8 418.5L1198.2 418.8L1198.7 419.1L1199.2 419.5L1199.7 419.8L1200.2 420.1L1200.7 420.4L1201.2 420.8L1201.7 421.1L1202.2 421.4L1202.7 421.7L1203.2 422L1203.7 422.3L1204.2 422.6L1204.6 422.9L1205.1 423.2L1205.6 423.5L1206.1 423.8L1206.6 424.1L1207.1 424.4L1207.6 424.7L1208.1 425L1208.6 425.3L1209.1 425.6L1209.6 425.8L1210 426.1L1210.5 426.4L1211 426.7L1211.5 427L1212 427.3L1212.5 427.5L1213 427.8L1213.5 428.1L1214 428.4L1214.5 428.7L1215 428.9L1215.4 429.2L1215.9 429.5L1216.4 429.7L1216.9 430L1217.4 430.3L1217.9 430.5L1218.4 430.8L1218.9 431L1219.4 431.3L1219.8 431.5L1220.3 431.7L1220.8 432L1221.3 432.2L1221.8 432.4L1222.3 432.6L1222.8 432.9L1223.3 433.1L1223.8 433.3L1224.3 433.5L1224.8 433.6L1225.2 433.8L1225.7 434L1226.2 434.2L1226.7 434.3L1227.2 434.5L1227.7 434.7L1228.2 434.8L1228.7 435L1229.2 435.1L1229.7 435.3L1230.2 435.4L1230.7 435.6L1231.2 435.7L1231.6 435.8L1232.1 436L1232.6 436.1L1233.1 436.3L1233.6 436.4L1234.1 436.5L1234.6 436.6L1235.1 436.8L1235.6 436.9L1236.1 437L1236.6 437.1L1237.1 437.2L1237.6 437.4L1238.1 437.5L1238.6 437.6L1239.1 437.7L1239.6 437.8L1240.1 437.9L1240.5 437.9L1241 438L1241.5 438.1L1242 438.2L1242.5 438.3L1243 438.3L1243.5 438.4L1244 438.4L1244.5 438.5L1244.5 449.8L1244 449.7L1243.5 449.6L1243 449.6L1242.5 449.5L1242 449.4L1241.5 449.3L1241 449.2L1240.5 449.1L1240.1 449L1239.6 448.9L1239.1 448.8L1238.6 448.7L1238.1 448.6L1237.6 448.5L1237.1 448.4L1236.6 448.3L1236.1 448.2L1235.6 448L1235.1 447.9L1234.6 447.8L1234.1 447.7L1233.6 447.6L1233.1 447.4L1232.6 447.3L1232.1 447.2L1231.6 447L1231.2 446.9L1230.7 446.8L1230.2 446.6L1229.7 446.5L1229.2 446.4L1228.7 446.2L1228.2 446.1L1227.7 445.9L1227.2 445.8L1226.7 445.7L1226.2 445.5L1225.7 445.4L1225.2 445.2L1224.8 445.1L1224.3 444.9L1223.8 444.8L1223.3 444.6L1222.8 444.4L1222.3 444.3L1221.8 444.1L1221.3 443.9L1220.8 443.8L1220.3 443.6L1219.8 443.4L1219.4 443.2L1218.9 443.1L1218.4 442.9L1217.9 442.7L1217.4 442.5L1216.9 442.3L1216.4 442.1L1215.9 441.9L1215.4 441.7L1215 441.5L1214.5 441.3L1214 441.1L1213.5 440.9L1213 440.6L1212.5 440.4L1212 440.2L1211.5 440L1211 439.7L1210.5 439.5L1210 439.3L1209.6 439L1209.1 438.8L1208.6 438.5L1208.1 438.3L1207.6 438L1207.1 437.7L1206.6 437.5L1206.1 437.2L1205.6 436.9L1205.1 436.6L1204.6 436.3L1204.2 436L1203.7 435.6L1203.2 435.3L1202.7 435L1202.2 434.6L1201.7 434.3L1201.2 433.9L1200.7 433.5L1200.2 433.2L1199.7 432.8L1199.2 432.4L1198.7 432L1198.2 431.6L1197.8 431.2L1197.3 430.8L1196.8 430.4L1196.3 430L1195.8 429.5L1195.3 429.1L1194.8 428.7L1194.3 428.2L1193.8 427.8L1193.3 427.4L1192.8 426.9L1192.3 426.5L1191.8 426L1191.3 425.5L1190.9 425.1L1190.4 424.6L1189.9 424.1L1189.4 423.6L1188.9 423.2L1188.4 422.7L1187.9 422.2L1187.4 421.7L1186.9 421.2L1186.4 420.7L1185.9 420.1L1185.4 419.5L1185 419L1184.5 418.4L1184 417.8L1183.5 417.1L1183 416.5L1182.5 415.9L1182 415.2L1181.5 414.6L1181 413.9L1180.5 413.3L1180.1 412.6L1179.6 411.9L1179.1 411.3L1178.6 410.6L1178.1 409.9L1177.6 409.3L1177.1 408.6L1176.6 408L1176.1 407.3L1175.6 406.7L1175.1 406.1L1174.7 405.5L1174.2 404.9L1173.7 404.3L1173.2 403.7L1172.7 403.1L1172.2 402.6L1171.7 402.1L1171.2 401.5L1170.7 401L1170.2 400.5L1169.7 400L1169.2 399.6L1168.7 399.1L1168.2 398.6L1167.8 398.1L1167.3 397.6L1166.8 397.2L1166.3 396.7L1165.8 396.2L1165.3 395.8L1164.8 395.3L1164.3 394.8L1163.8 394.3L1163.4 393.8L1162.9 393.3L1162.4 392.7L1161.9 392.1L1161.5 391.5L1161 390.9L1160.5 390.3L1160.1 389.7L1159.6 389.1L1159.1 388.5L1158.7 388L1158.2 387.5L1157.7 387L1157.3 386.6L1156.8 386.2L1156.4 385.9L1155.9 385.7L1155.4 385.5L1155 385.3L1154.5 385.3L1154 385.4L1153.5 385.6L1153 385.8L1152.5 386.2L1152 386.6L1151.5 387.1L1151.1 387.6L1150.6 388L1150.1 388.4L1149.6 388.8L1149.1 389.1L1148.6 389.3L1148.1 389.4L1147.6 389.6L1147.1 389.7L1146.6 389.8L1146.1 390L1145.6 390.1L1145.2 390.2L1144.7 390.3L1144.2 390.4L1143.7 390.5L1143.2 390.6L1142.7 390.7L1142.2 390.8L1141.7 390.9L1141.2 391L1140.7 391L1140.2 391.1L1139.8 391.2L1139.3 391.2L1138.8 391.2L1138.3 391.3L1137.8 391.3L1137.3 391.3L1136.8 391.3L1136.3 391.3L1135.8 391.2L1135.3 391.1L1134.8 391L1134.3 390.9L1133.9 390.7L1133.4 390.5L1132.9 390.3L1132.4 390.1L1131.9 389.9L1131.4 389.6L1130.9 389.4L1130.4 389.2L1129.9 389L1129.5 388.8L1129 388.6L1128.5 388.5L1128 388.4L1127.5 388.3L1127 388.3L1126.5 388.3L1126 388.3L1125.5 388.3L1125 388.3L1124.5 388.4L1124 388.4L1123.6 388.4L1123.1 388.5L1122.6 388.5L1122.1 388.6L1121.6 388.6L1121.1 388.7L1120.6 388.8L1120.1 388.8L1119.6 388.9L1119.2 389L1118.7 389.1L1118.2 389.1L1117.7 389.2L1117.2 389.3L1116.7 389.4L1116.2 389.5L1115.7 389.7L1115.2 389.9L1114.7 390.1L1114.2 390.3L1113.7 390.6L1113.2 390.8L1112.8 391.1L1112.3 391.4L1111.8 391.7L1111.3 392L1110.8 392.3L1110.3 392.6L1109.8 393L1109.3 393.3L1108.8 393.7L1108.3 394.1L1107.8 394.6L1107.3 395.1L1106.8 395.7L1106.3 396.3L1105.8 396.9L1105.3 397.5L1104.9 398.1L1104.4 398.7L1103.9 399.3L1103.4 399.8L1102.9 400.3L1102.4 400.7L1101.9 401L1101.4 401.3L1100.9 401.5L1100.4 401.7L1099.9 402L1099.5 402.2L1099 402.4L1098.5 402.6L1098 402.8L1097.5 402.9L1097 403.1L1096.5 403.3L1096 403.5L1095.6 403.6L1095.1 403.8L1094.6 403.9L1094.1 404.1L1093.6 404.2L1093.1 404.4L1092.6 404.5L1092.1 404.6L1091.7 404.7L1091.2 404.7L1090.7 404.8L1090.2 404.8L1089.7 404.8L1089.2 404.8L1088.7 404.8L1088.2 404.8L1087.7 404.7L1087.2 404.7L1086.7 404.6L1086.3 404.6L1085.8 404.5L1085.3 404.4L1084.8 404.3L1084.3 404.2L1083.8 404.1L1083.3 404L1082.8 403.9L1082.3 403.7L1081.8 403.6L1081.3 403.5L1080.8 403.3L1080.3 403.2L1079.8 403L1079.4 402.9L1078.9 402.7L1078.4 402.6L1077.9 402.4L1077.4 402.3L1076.9 402.1L1076.4 402L1075.9 401.8L1075.4 401.6L1074.9 401.5L1074.4 401.3L1073.9 401.2L1073.4 401L1073 400.9L1072.5 400.8L1072 400.6L1071.5 400.5L1071 400.4L1070.5 400.2L1070 400.1L1069.5 400L1069 399.9L1068.5 399.8L1068 399.7L1067.5 399.5L1067 399.4L1066.5 399.3L1066 399.2L1065.5 399.1L1065 398.9L1064.5 398.8L1064 398.7L1063.5 398.6L1063 398.5L1062.5 398.3L1062 398.2L1061.5 398.1L1061 398L1060.5 397.9L1060 397.8L1059.5 397.7L1059 397.6L1058.5 397.5L1058 397.4L1057.5 397.3L1057 397.2L1056.5 397.1L1056 397L1055.5 396.9L1055 396.9L1054.5 396.8L1054 396.7L1053.5 396.7L1053 396.6L1052.5 396.5L1052 396.5L1051.5 396.4L1051 396.3L1050.5 396.2L1050 396.2L1049.5 396.1L1049 396L1048.5 396L1048 395.9L1047.5 395.8L1047 395.8L1046.5 395.7L1046 395.6L1045.6 395.6L1045.1 395.5L1044.6 395.5L1044.1 395.4L1043.6 395.4L1043.1 395.3L1042.6 395.3L1042.1 395.2L1041.6 395.2L1041.1 395.2L1040.6 395.1L1040.1 395.1L1039.6 395.1L1039.1 395.1L1038.6 395L1038.1 395L1037.6 395L1037.1 395Z" fill="#0000ff"/>
<path d="M1036.6 395l0.5 0 0.5 0 0.5 0 0.5 0 0.5 0 0.5 0.1 0.5 -0 0.5 0 0.5 0 0.5 0.1 0.5 -0 0.5 0.1 0.5 -0.1 0.5 0.2 0.5 -0.1 0.5 0.2 0.5 -0.1 0.5 0.2 0.4 -0.1 0.5 0.2 0.5 -0.2 0.5 0.3 0.5 -0.2 0.5 0.4 0.5 -0.3 0.5 0.4 0.5 -0.4 0.5 0.5 0.5 -0.3 0.5 0.5 0.5 -0.5 0.5 0.5 0.5 -0.3 0.5 0.6 0.5 -0.6 0.5 0.7 0.5 -0.7 0.5 0.8 0.5 -0.7 0.5 0.8 0.5 -0.7 0.5 1 0.5 -1 0.5 1.1 0.5 -0.9 0.5 1.2 0.5 -1.1 0.5 1.3 0.5 -1.4 0.5 1.6 0.5 -1.6 0.5 1.7 0.5 -1.8 0.5 2.3 0.5 -2 0.5 2.4 0.5 -2.4 0.5 2.4 0.5 -2.1 0.5 2.2 0.5 -2.2 0.5 2.5 0.5 -2.6 0.5 2.8 0.5 -2.7 0.5 2.7 0.5 -2.4 0.5 2.6 0.5 -2.4 0.5 2.9 0.5 -2.8 0.5 3.3 0.5 -3.1 0.4 3 0.5 -3.6 0.5 4.1 0.5 -3.5 0.5 3.8 0.5 -3.5 0.5 3.8 0.5 -3.6 0.5 3.8 0.5 -4 0.5 4.4 0.5 -4 0.5 4.1 0.4 -4.5 0.5 5.5 0.5 -5.2 0.5 4.9 0.5 -5 0.5 5.3 0.5 -4.9 0.5 5.1 0.5 -4.7 0.5 5.3 0.5 -5.6 0.5 5.1 0.5 -4.8 0.5 5.2 0.4 -4.9 0.5 4.9 0.5 -4.8 0.5 4.8 0.5 -5.1 0.5 5.5 0.5 -5.4 0.5 5.5 0.5 -6 0.5 6 0.5 -5.9 0.4 5.3 0.5 -5.6 0.5 6 0.5 -6.9 0.5 5.9 0.5 -5.7 0.5 5.3 0.5 -6 0.4 5.3 0.5 -6.5 0.5 6.9 0.5 -8 0.5 7.5 0.5 -8.4 0.5 7.8 0.5 -8.7 0.4 8.2 0.5 -9.2 0.5 9.5 0.5 -9.7 0.5 8 0.5 -8.6 0.5 8 0.5 -8.9 0.5 9.5 0.5 -11.8 0.5 10.8 0.4 -11 0.5 8.4 0.5 -8.6 0.5 7.5 0.5 -8.3 0.5 7.2 0.5 -7.2 0.5 6.7 0.5 -7.6 0.5 6.2 0.5 -7.1 0.5 7.3 0.5 -8.2 0.5 8.1 0.5 -8.5 0.5 7.5 0.5 -6.9 0.4 6.3 0.5 -6.9 0.5 6.3 0.5 -6.8 0.5 5.8 0.5 -6.8 0.5 7.3 0.5 -8.1 0.5 6.7 0.5 -9.2 0.5 9.8 0.5 -13.9 0.4 11.9 0.5 -16.5 0.5 16 0.5 -72.9 0.5 72.4 0.5 -19.4 0.5 19.8 0.5 -13.7 0.5 14.1 0.5 -12.3 0.4 13.9 0.5 -11.2 0.5 11.7 0.5 -9.9 0.5 9.1 0.5 -7.3 0.5 8.1 0.5 -7.6 0.5 6.8 0.5 -6.1 0.5 7.2 0.4 -6.6 0.5 6.8 0.5 -6.2 0.5 5.9 0.5 -6.1 0.5 7.6 0.5 -6.6 0.5 6.7 0.5 -7.2 0.4 7 0.5 -5.8 0.5 6.2 0.5 -7.2 0.5 8.2 0.5 -7.5 0.5 7.5 0.5 -8.1 0.5 8.3 0.5 -8 0.5 7.6 0.5 -6.9 0.4 6.3 0.5 -6.9 0.5 6.2 0.5 -6.4 0.5 6.7 0.5 -8.1 0.5 8.4 0.5 -7.4 0.5 7 0.5 -7.3 0.5 6.4 0.4 -7.1 0.5 6.9 0.5 -7 0.5 6.9 0.5 -6.8 0.5 6.9 0.5 -9.1 0.5 8.9 0.5 -8 0.5 7.8 0.5 -9.2 0.5 8 0.5 -8.5 0.4 8.3 0.5 -9.7 0.5 8.5 0.5 -10.4 0.5 8.8 0.5 -9.7 0.5 10.7 0.4 -11.5 0.5 10 0.5 -11.8 0.4 13.8 0.5 -16.5 0.4 17.4 0.5 -19.2 0.5 20 0.4 -25.3 0.5 -40.1 0.5 44.5 0.4 22 0.5 -16.1 0.5 16.7 0.4 -12.5 0.5 15.1 0.5 -12.3 0.5 12.8 0.4 -12.5 0.5 15 0.5 -11.6 0.5 13.3 0.5 -12.7 0.5 11.8 0.5 -9.9 0.5 11.1 0.5 -10.2 0.5 11.3 0.4 -8.9 0.5 9.6 0.5 -7.4 0.5 9.4 0.5 -7.7 0.5 7.9 0.5 -7 0.5 8.1 0.5 -6 0.5 7.3 0.5 -6.8 0.5 8.2 0.5 -6.5 0.4 7.9 0.5 -7.2 0.5 9.1 0.5 -8.2 0.5 8.3 0.5 -5.9 0.5 7.5 0.5 -7 0.5 8.4 0.5 -8 0.5 9 0.4 -7.6 0.5 8.8 0.5 -6.9 0.5 7.2 0.5 -6 0.5 8.5 0.5 -8.5 0.5 9.5 0.5 -9.2 0.5 9.5 0.4 -7.5 0.5 9.2 0.5 -7.8 0.5 8.8 0.5 -9.5 0.5 10.3 0.5 -10.6 0.5 12.3 0.5 -9.2 0.5 9.5 0.5 -8.2 0.5 9.4 0.4 -10.3 0.5 10 0.5 -8.1 0.5 10 0.5 -9.7 0.5 10 0.5 -8.5 0.5 9.9 0.5 -8.6 0.5 9.4 0.5 -10.5 0.5 11.2 0.5 -10 0.5 12.4 0.4 -11.7 0.5 11.6 0.5 -12.2 0.5 12.7 0.5 -11.8 0.5 13.3 0.5 -10.9 0.5 10.1 0.5 -10.1 0.5 12 0.5 -11.7 0.5 12.2 0.5 -11.1 0.4 12.6 0.5 -12.9 0.5 12.4 0.5 -11.3 0.5 11.8 0.5 -11.4 0.5 12.7 0.5 -11.6 0.5 11.5 0.5 -11.2 0.5 11.3 0.5 -10.2 0.4 9.9 0.5 -9.2 0.5 10.4 0.5 -11.2 0.5 12.2 0.5 -9.9 0.5 11.4 0.5 -13 0.5 11.6 0.5 -10.3 0.4 12.7 0.5 -11.6 0.5 11.3 0.5 -12.1 0.5 11.5 0.5 -9.3 0.5 10.7 0.5 -12.1 0.5 11.4 0.4 -9.6 0.5 10.8 0.5 -10.3 0.5 9.2 0.5 -8.1 0.5 9.1 0.5 -9.7 0.5 10.7 0.5 -11.4 0.5 12.3 0.5 -10.7 0.4 11.1 0.5 -11.3 0.5 10.1 0.5 -9.7 0.5 10.4 0.5 -8.8 0.5 9.9 0.5 -10.2 0.5 9.5 0.5 -9.1 0.5 10.5 0.5 -10.4 0.5 10.4 0.4 -10.6 0.5 10.4 0.5 -11 0.5 11.2 0.5 -9.6 0.5 9.8 0.5 -9.2 0.5 9.5 0.5 -10.4 0.5 10.7 0.5 -9.5 0.5 8.6 0.5 -7.8 0.5 8.8 0.5 -8.3 0.5 8.2 0.5 -8.1 0.5 8.5 0.4 -9 0.5 9.8 0.5 -10 0.5 10.6 0.5 -9.9 0.5 8.7 0.5 -8.2 0.5 9.5 0.5 -10.8"/>
</g>
<g stroke="#ff0000" stroke-width="4">
<path d="M944.5 410.7l1.5 0 1.5 0 1.5 0 1.5 0 1.5 0 1.5 0 1.5 0 1.5 0 1.5 0 1.5 0 1.5 0 1.5 0 1.5 0 1.5 0 1.5 0 1.5 0 1.5 0 1.5 0 1.5 0 1.5 0 1.5 0 1.5 0 1.5 0 1.5 0 1.5 0 1.5 0 1.5 0 1.5 0 1.5 0 1.5 0 1.5 0 1.5 0 1.5 0 1.5 0 1.5 0 1.5 0 1.5 0 1.5 0 1.5 0 1.5 0 1.5 0 1.5 0 1.5 0 1.5 0 1.5 0 1.5 0 1.4 0 1.5 0 1.5 0.1 1.5 0 1.4 0.1 1.5 0 1.5 0.1 1.5 0.1 1.4 0.1 1.5 0 1.5 0.1 1.5 0.1 1.4 0.1 1.5 0.1 1.5 0.1 1.5 0.1 1.4 0.1 1.5 0.1 1.4 0.1 1.5 0.1 1.4 0.1 1.4 0.1 1.4 0.2 1.5 0.1 1.4 0.2 1.4 0.1 1.5 0.2 1.4 0.1 1.4 0.2 1.4 0.2 1.5 0.1 1.4 0.2 1.4 0.2 1.5 0.2 1.4 0.2 1.4 0.2 1.4 0.3 1.5 0.2 1.4 0.2 1.4 0.3 1.5 0.2 1.4 0.2 1.4 0.3 1.4 0.2 1.5 0.1 1.4 0.2 1.5 0.2 1.5 0.1 1.5 0.2 1.5 0.2 1.5 0.1 1.5 0.1 1.5 0.1 1.5 0 1.5 -0.1 1.5 -0.2 1.5 -0.3 1.5 -0.4 1.2 -0.5 1.3 -0.8 1.2 -0.9 1.3 -0.8 1.4 -1 1.5 -1 1.4 -0.5 1.4 0.9 1.3 1.6 1.1 1.4 1 1.4 1.1 0.7 1.1 -0.5 1.1 -0.9 1.1 -0.6"/>
<path d="M1117 415.3L1117.4 415.2L1117.9 415L1118.3 414.9L1118.8 414.8L1119.3 414.8L1119.7 414.7L1120.2 414.6L1120.6 414.5L1121.1 414.4L1121.6 414.3L1122.1 414.2L1122.6 414.1L1123.1 414L1123.6 413.9L1124 413.8L1124.5 413.7L1125 413.6L1125.5 413.6L1126 413.5L1126.5 413.4L1127 413.3L1127.5 413.2L1128 413.1L1128.5 413L1128.9 412.9L1129.4 412.8L1129.9 412.7L1130.4 412.6L1130.9 412.5L1131.4 412.4L1131.9 412.3L1132.4 412.2L1132.9 412.1L1133.4 411.9L1133.9 411.8L1134.3 411.7L1134.8 411.6L1135.3 411.4L1135.8 411.3L1136.3 411.2L1136.8 411L1137.3 410.8L1137.8 410.7L1138.3 410.5L1138.8 410.3L1139.3 410.2L1139.8 410L1140.3 409.8L1140.8 409.6L1141.3 409.4L1141.8 409.2L1142.2 409L1142.7 408.8L1143.2 408.6L1143.7 408.4L1144.2 408.1L1144.7 407.9L1145.2 407.7L1145.7 407.5L1146.2 407.2L1146.7 407L1147.2 406.8L1147.6 406.6L1148.1 406.3L1148.6 406.1L1149 405.9L1149.5 405.7L1149.9 405.5L1150.4 405.3L1150.9 405L1151.3 404.8L1151.8 404.6L1152.3 404.3L1152.7 404L1153.2 403.7L1153.7 403.4L1154.2 403.1L1154.6 402.8L1155.1 402.4L1155.6 402L1156 401.6L1156.5 401.2L1157 400.7L1157.5 400L1158 399.3L1158.5 398.4L1159 397.5L1159.5 396.5L1160 395.5L1160.5 394.4L1161 393.4L1161.5 392.3L1162 391.2L1162.5 390.1L1163 388.9L1163.5 387.6L1164 386.2L1164.5 384.9L1165 383.6L1165.5 382.4L1166 381.2L1166.5 380.3L1166.9 379.3L1167.4 378.3L1167.8 377.1L1168.3 375.7L1168.8 374L1169.2 371.9L1169.7 369.2L1170.1 365.3L1170.6 328.4L1171.1 368.9L1171.6 373.3L1172.1 376.3L1172.6 378.6L1173.1 380.4L1173.6 382L1174.1 383.3L1174.6 384.4L1175.1 385.5L1175.6 386.3L1176.1 386.9L1176.6 387.3L1177.1 387.7L1177.6 388.1L1178.1 388.5L1178.6 388.8L1179 389.2L1179.5 389.5L1180 389.9L1180.5 390.2L1181 390.5L1181.5 390.8L1182 391.1L1182.5 391.3L1183 391.6L1183.5 391.8L1184 392L1184.5 392.2L1185 392.4L1185.4 392.6L1185.9 392.7L1186.4 392.8L1186.9 392.9L1187.4 392.9L1187.9 393L1188.4 393L1188.9 393L1189.4 393.1L1189.9 393.1L1190.4 393.1L1190.9 393.1L1191.3 393.2L1191.8 393.2L1192.3 393.2L1192.8 393.2L1193.3 393.2L1193.8 393.2L1194.3 393.2L1194.8 393.2L1195.3 393.2L1195.8 393.2L1196.3 393.2L1196.8 393.2L1197.2 393.2L1197.7 393.2L1198.2 393.2L1198.7 393.2L1199.2 393.2L1199.7 393.2L1200.2 393.2L1200.7 393.1L1201.2 393.1L1201.6 393L1202.1 392.8L1202.6 392.7L1203.1 392.5L1203.6 392.3L1204.1 392.1L1204.5 391.9L1205 391.7L1205.5 391.4L1206 391.2L1206.5 390.9L1207 390.6L1207.4 390.3L1207.9 389.9L1208.4 389.4L1208.8 389L1209.3 388.5L1209.7 388L1210.2 387.4L1210.6 386.8L1211.1 386.1L1211.5 385.4L1212 384.5L1212.5 383.2L1213 381.8L1213.4 380.2L1213.9 378.5L1214.4 376.7L1214.9 374.7L1215.4 372.3L1215.9 369.5L1216.3 366.1L1216.8 361.5L1217.3 354.8L1217.8 293L1218.3 356.4L1218.8 363.4L1219.3 368.1L1219.8 371.6L1220.3 374.4L1220.8 376.9L1221.3 379L1221.8 380.8L1222.3 382.6L1222.8 384.1L1223.3 385.4L1223.8 386.5L1224.2 387.5L1224.7 388.5L1225.2 389.4L1225.7 390.4L1226.1 391.2L1226.6 392.1L1227.1 392.9L1227.5 393.7L1228 394.4L1228.5 395.2L1228.9 395.9L1229.4 396.5L1229.9 397.2L1230.3 397.8L1230.8 398.4L1231.2 399L1231.7 399.6L1232.2 400.1L1232.6 400.7L1233.1 401.2L1233.6 401.8L1234.1 402.3L1234.6 402.9L1235.1 403.4L1235.6 403.9L1236.1 404.4L1236.6 404.9L1237.1 405.4L1237.6 405.9L1238.1 406.4L1238.6 406.8L1239 407.3L1239.5 407.7L1240 408.1L1240.5 408.5L1241 408.9L1241.5 409.3L1242 409.6L1242.5 409.9L1243 410.2L1243.5 410.5L1244 410.8L1244.5 411L1244.5 428.1L1244 428.3L1243.5 428.5L1243 428.6L1242.5 428.8L1242 429.1L1241.5 429.3L1241 429.5L1240.5 429.7L1240 430L1239.5 430.2L1239 430.5L1238.6 430.8L1238.1 431L1237.6 431.3L1237.1 431.6L1236.6 431.9L1236.1 432.2L1235.6 432.5L1235.1 432.8L1234.6 433.1L1234.1 433.4L1233.6 433.7L1233.1 434L1232.6 434.3L1232.2 434.6L1231.7 435L1231.2 435.4L1230.8 435.8L1230.3 436.3L1229.9 437L1229.4 437.7L1228.9 438.7L1228.5 440.2L1228 453.8L1227.5 440L1227.1 438.5L1226.6 437.5L1226.1 436.7L1225.7 436.1L1225.2 435.6L1224.7 435.1L1224.2 434.7L1223.8 434.4L1223.3 434L1222.8 433.4L1222.3 432.5L1221.8 431.4L1221.3 430.2L1220.8 428.8L1220.3 427.2L1219.8 425.6L1219.3 423.8L1218.8 422L1218.3 420.2L1217.8 418.3L1217.3 416.5L1216.8 414.7L1216.3 412.9L1215.9 411.3L1215.4 409.7L1214.9 408.2L1214.4 406.8L1213.9 405.6L1213.4 404.6L1213 403.8L1212.5 403.1L1212 402.7L1211.5 402.6L1211.1 402.9L1210.6 403.4L1210.2 403.9L1209.7 404.6L1209.3 405.4L1208.8 406.7L1208.4 418.3L1207.9 407.8L1207.4 406.6L1207 405.9L1206.5 405.2L1206 404.8L1205.5 404.5L1205 404.3L1204.5 404.1L1204.1 403.9L1203.6 403.7L1203.1 403.6L1202.6 403.4L1202.1 403.3L1201.6 403.2L1201.2 403L1200.7 402.9L1200.2 402.8L1199.7 402.6L1199.2 402.4L1198.7 402.3L1198.2 402.1L1197.7 402L1197.2 401.8L1196.8 401.7L1196.3 401.5L1195.8 401.4L1195.3 401.2L1194.8 401.1L1194.3 400.9L1193.8 400.8L1193.3 400.7L1192.8 400.5L1192.3 400.4L1191.8 400.2L1191.3 400.1L1190.9 399.9L1190.4 399.8L1189.9 399.6L1189.4 399.4L1188.9 399.3L1188.4 399.1L1187.9 398.9L1187.4 398.7L1186.9 398.5L1186.4 398.2L1185.9 397.8L1185.4 397.5L1185 397.1L1184.5 396.8L1184 396.4L1183.5 395.9L1183 395.5L1182.5 395.1L1182 394.7L1181.5 394.3L1181 393.9L1180.5 393.5L1180 393.1L1179.5 392.8L1179 392.4L1178.6 392.2L1178.1 391.9L1177.6 391.7L1177.1 391.5L1176.6 391.4L1176.1 391.3L1175.6 391.2L1175.1 391.1L1174.6 390.9L1174.1 390.9L1173.6 390.9L1173.1 391L1172.6 391L1172.1 391.1L1171.6 391.2L1171.1 391.2L1170.6 391.3L1170.1 391.4L1169.7 391.6L1169.2 391.7L1168.8 391.8L1168.3 391.9L1167.8 392.1L1167.4 392.3L1166.9 392.4L1166.5 392.6L1166 392.8L1165.5 393.5L1165 395L1164.5 397L1164 399.5L1163.5 402.1L1163 404.7L1162.5 407L1162 408.8L1161.5 410.3L1161 411.9L1160.5 413.3L1160 414.8L1159.5 416.2L1159 417.5L1158.5 418.7L1158 419.8L1157.5 420.7L1157 421.5L1156.5 422.2L1156 422.6L1155.6 423L1155.1 423.4L1154.6 423.9L1154.2 424.5L1153.7 425.2L1153.2 426.1L1152.7 427.2L1152.3 428.9L1151.8 444.3L1151.3 433.2L1150.9 432L1150.4 431.1L1149.9 430.5L1149.5 430L1149 429.6L1148.6 429.2L1148.1 428.9L1147.6 428.6L1147.2 428.4L1146.7 428.1L1146.2 427.8L1145.7 427.5L1145.2 427.2L1144.7 426.8L1144.2 426.5L1143.7 426.2L1143.2 425.9L1142.7 425.5L1142.2 425.2L1141.8 424.9L1141.3 424.5L1140.8 424.2L1140.3 423.9L1139.8 423.6L1139.3 423.4L1138.8 423.1L1138.3 422.8L1137.8 422.6L1137.3 422.4L1136.8 422.2L1136.3 422L1135.8 421.9L1135.3 421.7L1134.8 421.6L1134.3 421.5L1133.9 421.3L1133.4 421.2L1132.9 421.1L1132.4 421L1131.9 420.9L1131.4 420.8L1130.9 420.7L1130.4 420.6L1129.9 420.6L1129.4 420.5L1128.9 420.4L1128.5 420.3L1128 420.2L1127.5 420.2L1127 420.1L1126.5 420L1126 419.9L1125.5 419.9L1125 419.8L1124.5 419.7L1124 419.6L1123.6 419.5L1123.1 419.3L1122.6 419.2L1122.1 419.1L1121.6 418.9L1121.1 418.8L1120.6 418.6L1120.2 418.2L1119.7 417.8L1119.3 417.4L1118.8 416.9L1118.3 416.5L1117.9 416.1L1117.4 415.8L1117 415.6Z" fill="#ff0000"/>
<path d="M1116.5 415.5l0.5 -0.2 0.4 0.4 0.5 -0.6 0.4 1.3 0.5 -1.6 0.5 2.6 0.4 -2.9 0.5 3.8 0.4 -3.4 0.5 3.3 0.5 -3.5 0.5 4.5 0.5 -5.3 0.5 5.9 0.5 -5.7 0.4 5.9 0.5 -7 0.5 6.6 0.5 -6.1 0.5 6.2 0.5 -5.5 0.5 5.5 0.5 -6.2 0.5 7 0.5 -7.1 0.4 6.3 0.5 -7.3 0.5 7.6 0.5 -7 0.5 8.3 0.5 -8.9 0.5 9.2 0.5 -9.2 0.5 8.4 0.5 -9.5 0.5 9.4 0.4 -9.4 0.5 10.5 0.5 -10.3 0.5 9.1 0.5 -8 0.5 9.4 0.5 -10.4 0.5 10 0.5 -10.4 0.5 11.4 0.5 -11.2 0.5 12.2 0.5 -14.8 0.5 15.2 0.5 -14.5 0.5 15.6 0.4 -15.6 0.5 14.5 0.5 -14.6 0.5 13.5 0.5 -12.6 0.5 15.1 0.5 -15.7 0.5 16.3 0.5 -17.1 0.5 17 0.5 -16.4 0.4 18.9 0.5 -18.6 0.5 20 0.4 -20.7 0.5 18.3 0.4 -18.8 0.5 21.8 0.5 -21.2 0.4 23.8 0.5 12.5 0.5 -19.2 0.4 -18.3 0.5 15.5 0.5 -17.7 0.5 15.5 0.4 -16.4 0.5 17.7 0.5 -19.6 0.4 17.9 0.5 -19.7 0.5 20 0.5 -20.8 0.5 17.6 0.5 -17.3 0.5 14.4 0.5 -17.1 0.5 16.8 0.5 -20.1 0.5 16.3 0.5 -18 0.5 13.9 0.5 -16.8 0.5 15.1 0.5 -16.9 0.5 10.1 0.5 -12.5 0.5 8.2 0.5 -10.3 0.5 8.4 0.5 -11 0.4 9.4 0.5 -10.3 0.4 11.1 0.5 -14.1 0.5 15.5 0.4 -19.1 0.5 18 0.4 -24.8 0.5 -39.7 0.5 45.1 0.5 16 0.5 -11.6 0.5 14.2 0.5 -10.1 0.5 9.2 0.5 -7.2 0.5 8.6 0.5 -6.5 0.5 5.9 0.5 -3.9 0.5 4.3 0.5 -3.6 0.5 4.3 0.5 -3.5 0.5 3.5 0.5 -2.7 0.4 3.6 0.5 -2.8 0.5 3.2 0.5 -2.4 0.5 3.3 0.5 -2.9 0.5 3.6 0.5 -3.1 0.5 4.6 0.5 -4.8 0.5 5.8 0.5 -4.4 0.4 4.6 0.5 -4.4 0.5 5 0.5 -5.3 0.5 6.3 0.5 -5.9 0.5 5.3 0.5 -5 0.5 5.3 0.5 -5.1 0.5 5.3 0.5 -5.6 0.4 6.7 0.5 -7.6 0.5 7.8 0.5 -6.9 0.5 7.3 0.5 -8.2 0.5 8.8 0.5 -8 0.5 8.1 0.5 -7.9 0.5 7.3 0.5 -6.9 0.4 7 0.5 -7 0.5 8.5 0.5 -9.3 0.5 8.9 0.5 -9.5 0.5 10.8 0.5 -10.2 0.5 8.7 0.4 -8.2 0.5 9.3 0.5 -10 0.5 10.9 0.5 -11.3 0.5 10.8 0.4 -10.5 0.5 10.4 0.5 -12.1 0.5 13.5 0.5 -12.9 0.5 12.5 0.4 -11.8 0.5 12.4 0.5 14.7 0.4 -13.7 0.5 -14.8 0.4 12.8 0.5 -15.4 0.4 14.2 0.5 -14.6 0.4 13.9 0.5 -15.4 0.5 16.5 0.5 -18.5 0.4 17.2 0.5 -24.2 0.5 28.6 0.5 -26.4 0.5 23.8 0.5 -29.2 0.4 29.4 0.5 -30.2 0.5 33.4 0.5 -115.1 0.5 127.2 0.5 -49.8 0.5 49.8 0.5 -41.5 0.5 48.2 0.5 -43.3 0.5 44.7 0.5 -38.9 0.5 35 0.5 -29.4 0.5 32.9 0.5 -34.1 0.4 35.7 0.5 -36.4 0.5 39.1 0.5 -36.9 0.4 39.6 0.5 -33.2 0.5 34.3 0.4 -35.8 0.5 56 0.5 -60.7 0.4 38.7 0.5 -29.5 0.5 28.2 0.4 -29.4 0.5 27.5 0.4 -27.3 0.5 30.5 0.5 -31.5 0.4 29.6 0.5 -28.9 0.5 31.2 0.5 -29.6 0.5 26.5 0.5 -22.8 0.5 20.3 0.5 -20.5 0.5 21.9 0.5 -23.5 0.5 23.6 0.5 -20.2 0.5 19.5 0.4 -17.3 0.5 17 0.5 -18.5 0.5 18.1 0.5 -16 0.5 15.1 0.5 -14.7 0.5 14.2 0.5 -12.9 0.5 12.9 0.5 -13.9 0.5 12.7"/>
</g>
<g stroke="#00ff00" stroke-width="2.7">
<path d="M944.5 498.3l1.5 0 1.5 0 1.5 0 1.5 0 1.5 0 1.5 0 1.5 0 1.5 0 1.5 0 1.5 0 1.5 0 1.4 0 1.5 0 1.5 0 1.5 0 1.5 0 1.5 0 1.5 0 1.5 0 1.5 0 1.5 0 1.5 0 1.5 0 1.5 0 1.5 0 1.5 0 1.5 0 1.5 0 1.5 0 1.5 0 1.5 0 1.5 0 1.5 0 1.4 0 1.5 0 1.5 0 1.5 0 1.5 0 1.5 0 1.5 0 1.5 0 1.5 0 1.5 0 1.5 0 1.5 0 1.5 0 1.5 0 1.5 0 1.5 0 1.5 0 1.5 0 1.5 0 1.5 0 1.5 0 1.5 0 1.4 0 1.5 0 1.5 0 1.5 0 1.5 0 1.5 0 1.5 0 1.5 0 1.5 0 1.5 0 1.5 0 1.5 0 1.5 0 1.5 0 1.5 0 1.5 0 1.5 0 1.5 0 1.5 0 1.5 0 1.5 0 1.5 0 1.4 0 1.5 0 1.5 0 1.5 0 1.5 0 1.5 0 1.5 0 1.5 0 1.5 0 1.5 0 1.5 0 1.5 0 1.5 0 1.5 0 1.5 0 1.5 0 1.5 0 1.5 0 1.5 0 1.5 0 1.5 0 1.5 0 1.4 0 1.5 0 1.5 0 1.5 0 1.5 0 1.5 0 1.5 0 1.5 0 1.5 0 1.5 0 1.5 0" stroke-dasharray="18 10.3"/>
<path d="M1109 498.3l0.5 -0 0.5 0 0.5 -0 0.5 0 0.5 -0.1 0.5 0.2 0.5 -0.2 0.5 0.2 0.5 -0.3 0.5 0.4 0.5 -0.4 0.5 0.5 0.5 -0.6 0.5 0.7 0.5 -0.8 0.5 0.9" stroke-dasharray="9 8"/>
<path d="M1117.5 497.8L1118 497.8L1118.5 497.7L1119 497.7L1119.5 497.6L1120 497.5L1120.5 497.5L1121 497.4L1121.5 497.3L1122 497.2L1122.5 497.2L1123 497.1L1123.5 497L1124 496.9L1124.5 496.8L1125 496.8L1125.5 496.7L1126 496.6L1126.5 496.5L1127 496.5L1127.5 496.4L1128 496.3L1128.5 496.3L1129 496.2L1129.5 496.1L1130 496.1L1130.5 496L1131 496L1131.5 495.9L1132 495.9L1132.4 495.8L1132.9 495.8L1133.4 495.7L1133.9 495.7L1134.4 495.6L1134.9 495.6L1135.4 495.6L1135.9 495.5L1136.4 495.5L1136.9 495.4L1137.4 495.4L1137.8 495.3L1138.3 495.3L1138.8 495.2L1139.3 495.1L1139.8 495L1140.3 494.9L1140.8 494.8L1141.3 494.8L1141.8 494.7L1142.3 494.6L1142.8 494.5L1143.2 494.4L1143.7 494.2L1144.2 494.1L1144.7 494L1145.2 493.9L1145.7 493.8L1146.2 493.6L1146.6 493.5L1147.1 493.4L1147.6 493.2L1148.1 493L1148.6 492.8L1149.1 492.7L1149.5 492.5L1150 492.2L1150.4 492L1150.9 491.7L1151.3 491.4L1151.8 491.1L1152.3 490.7L1152.7 490.4L1153.2 490L1153.7 489.6L1154.2 489.2L1154.6 488.8L1155.1 488.3L1155.6 487.9L1156 487.4L1156.5 486.9L1157 486.4L1157.5 485.9L1158 485.2L1158.5 484.6L1158.9 483.8L1159.4 483.1L1159.9 482.3L1160.4 481.5L1160.9 480.7L1161.4 479.9L1161.9 479.1L1162.3 478.3L1162.8 477.4L1163.3 476.7L1163.8 475.9L1164.3 475.1L1164.8 474.3L1165.2 473.6L1165.7 472.9L1166.1 472.1L1166.5 471.2L1167 470L1167 470L1166.5 472.2L1166.1 474.4L1165.7 476.5L1165.2 478.5L1164.8 480.3L1164.3 481.9L1163.8 483.5L1163.3 485.2L1162.8 486.8L1162.3 488.3L1161.9 489.8L1161.4 491.2L1160.9 492.6L1160.4 493.9L1159.9 495.1L1159.4 496.3L1158.9 497.4L1158.5 498.4L1158 499.3L1157.5 500.1L1157 500.8L1156.5 501.4L1156 501.9L1155.6 502.3L1155.1 502.7L1154.6 503.3L1154.2 503.9L1153.7 504.6L1153.2 505.5L1152.7 506.7L1152.3 508.4L1151.8 524.5L1151.3 513.4L1150.9 512.2L1150.4 511.4L1150 510.7L1149.5 510.2L1149.1 509.8L1148.6 509.4L1148.1 509L1147.6 508.6L1147.1 508.2L1146.6 507.8L1146.2 507.4L1145.7 506.9L1145.2 506.5L1144.7 506.1L1144.2 505.7L1143.7 505.3L1143.2 505L1142.8 504.6L1142.3 504.3L1141.8 504L1141.3 503.7L1140.8 503.4L1140.3 503.2L1139.8 503L1139.3 502.8L1138.8 502.5L1138.3 502.4L1137.8 502.2L1137.4 502L1136.9 501.9L1136.4 501.7L1135.9 501.6L1135.4 501.4L1134.9 501.3L1134.4 501.2L1133.9 501L1133.4 500.9L1132.9 500.8L1132.4 500.7L1132 500.6L1131.5 500.5L1131 500.4L1130.5 500.3L1130 500.2L1129.5 500.1L1129 500L1128.5 499.9L1128 499.9L1127.5 499.8L1127 499.7L1126.5 499.7L1126 499.6L1125.5 499.5L1125 499.5L1124.5 499.4L1124 499.4L1123.5 499.3L1123 499.3L1122.5 499.2L1122 499.2L1121.5 499.1L1121 499.1L1120.5 499L1120 499L1119.5 498.9L1119 498.9L1118.5 498.9L1118 498.8L1117.5 498.8Z" fill="#00ff00"/>
<path d="M1117 498.8l0.5 -1.1 0.5 1.1 0.5 -1 0.5 1 0.5 -1.1 0.5 1.1 0.5 -1.3 0.5 1.5 0.5 -1.6 0.5 1.9 0.5 -2.3 0.5 2.5 0.5 -2.5 0.5 2.3 0.5 -2.5 0.5 2.4 0.5 -2.3 0.5 2.5 0.5 -2.8 0.5 3.1 0.5 -3.7 0.5 3.7 0.5 -3.6 0.5 3.8 0.5 -3.5 0.5 3.8 0.5 -3.7 0.5 3.9 0.5 -4.6 0.5 4.6 0.4 -4.8 0.5 4.8 0.5 -4.7 0.5 4.9 0.5 -4.7 0.5 5.2 0.5 -6.1 0.5 6.1 0.5 -6.2 0.5 6.7 0.5 -7.1 0.4 7.4 0.5 -7.2 0.5 7.9 0.5 -7 0.5 6.8 0.5 -7.5 0.5 7.9 0.5 -7.6 0.5 7.9 0.5 -8 0.5 8.7 0.4 -9.1 0.5 10.5 0.5 -9.5 0.5 8.6 0.5 -9.7 0.5 10.6 0.5 -9.5 0.4 10.8 0.5 -12.3 0.5 15.1 0.5 -15.3 0.5 15.5 0.5 -15.6 0.4 14.3 0.5 -15.2 0.4 16.9 0.5 -16.7 0.4 18.3 0.5 14.2 0.5 -20.5 0.4 -11.9 0.5 11.7 0.5 -14.8 0.5 13.5 0.4 -13.9 0.5 11 0.5 -12 0.4 12.9 0.5 -14.5 0.5 14.4 0.5 -14.6 0.5 12.4 0.5 -14.1 0.4 11.4 0.5 -13.8 0.5 12.3 0.5 -13 0.5 9.8 0.5 -12.5 0.5 10.9 0.4 -11.9 0.5 8.7 0.5 -9.7 0.5 6.3 0.5 -8.6 0.5 5.8 0.4 -8.1 0.5 3.4 0.4 -4.2 0.5 0.2 0.4 -2.3"/>
<path d="M1167 470l0.2 -0.7 0.2 -0.9 0.1 -0.9 0.2 -1 0.2 -1.1 0.2 -1.2 0.2 -1.2 0.1 -1.3 0.2 -1.4 0.2 -1.5 0.2 -1.7 0.2 -1.9 0.1 -2 0.2 -2.4 0.2 -2.8 0.2 -3.3 0.2 -4 0.1 -5.4 0.2 -9 0.2 -14.6 0.2 12.5 0.1 8.8 0.2 5.3 0.1 3.9 0.2 3.1 0.1 2.7 0.2 2.3 0.1 2 0.2 1.8 0.1 1.7 0.2 1.5 0.1 1.3 0.2 1.3 0.1 1.2 0.2 1.1 0.1 1.2 0.2 1.1 0.1 0.9 0.2 0.6" stroke-dasharray="18 10.3"/>
<path d="M1174 466L1174.4 465.7L1174.8 465.4L1175.3 465.3L1175.8 465.4L1176.3 465.5L1176.8 465.7L1177.2 466L1177.7 466.3L1178.2 466.7L1178.7 467.1L1179.2 467.6L1179.7 468L1180.1 468.5L1180.6 468.9L1181.1 469.4L1181.6 469.8L1182.1 470.2L1182.5 470.5L1183 470.8L1183.5 471.1L1184 471.2L1184.5 471.4L1185 471.5L1185.5 471.6L1186 471.8L1186.5 471.9L1187 472L1187.4 472.1L1187.9 472.2L1188.4 472.3L1188.9 472.4L1189.4 472.5L1189.9 472.6L1190.4 472.7L1190.9 472.8L1191.4 472.8L1191.9 472.9L1192.4 473L1192.8 473L1193.3 473L1193.8 473.1L1194.3 473.1L1194.8 473.1L1195.3 473.1L1195.8 473.2L1196.3 473.1L1196.8 473.1L1197.3 473L1197.8 472.9L1198.2 472.8L1198.7 472.7L1199.2 472.5L1199.7 472.3L1200.2 472.1L1200.7 471.9L1201.2 471.7L1201.7 471.4L1202.2 471.2L1202.7 470.9L1203.1 470.6L1203.6 470.4L1204.1 470.1L1204.6 469.8L1205.1 469.5L1205.6 469.2L1206.1 469L1206.5 468.7L1207 468.4L1207.5 468.1L1207.9 467.8L1208.4 467.5L1208.9 467.1L1209.4 466.7L1209.9 466.3L1210.3 465.8L1210.8 465.3L1211.3 464.7L1211.8 464L1212.3 463.4L1212.8 462.4L1213.3 461L1213.8 459.4L1214.3 457.6L1214.8 455.8L1215.3 453.6L1215.8 451.1L1216.3 448L1216.8 443.8L1217.3 437.7L1217.8 381.4L1218.3 448.4L1218.8 455.8L1219.3 460.7L1219.8 464.5L1220.3 467.5L1220.8 470L1221.3 472.2L1221.8 474.3L1222.3 476.3L1222.8 477.9L1223.3 479.1L1223.8 479.7L1224.2 480.4L1224.7 480.9L1225.2 481.4L1225.7 481.9L1226.1 482.4L1226.6 482.8L1227.1 483.1L1227.5 483.5L1228 483.8L1228.5 484.1L1228.9 484.4L1229.4 484.7L1229.9 484.9L1230.3 485.2L1230.8 485.5L1231.2 485.7L1231.7 486L1232.2 486.3L1232.6 486.6L1233.1 486.9L1233.6 487.3L1234.1 487.7L1234.6 488L1235.1 488.4L1235.6 488.8L1236.1 489.1L1236.6 489.5L1237.1 489.8L1237.6 490.2L1238.1 490.5L1238.6 490.9L1239 491.2L1239.5 491.5L1240 491.9L1240.5 492.2L1241 492.5L1241.5 492.9L1242 493.2L1242.5 493.5L1243 493.8L1243.5 494.1L1244 494.4L1244.5 494.8L1244.5 509.4L1244 509.5L1243.5 509.5L1243 509.6L1242.5 509.7L1242 509.8L1241.5 509.9L1241 510.1L1240.5 510.2L1240 510.4L1239.5 510.5L1239 510.7L1238.6 510.9L1238.1 511.1L1237.6 511.3L1237.1 511.5L1236.6 511.8L1236.1 512L1235.6 512.2L1235.1 512.5L1234.6 512.7L1234.1 513L1233.6 513.2L1233.1 513.4L1232.6 513.7L1232.2 514L1231.7 514.4L1231.2 514.8L1230.8 515.2L1230.3 515.7L1229.9 516.3L1229.4 517L1228.9 517.9L1228.5 519.3L1228 532.3L1227.5 519.1L1227.1 517.7L1226.6 516.8L1226.1 516L1225.7 515.4L1225.2 514.9L1224.7 514.5L1224.2 514.1L1223.8 513.8L1223.3 513.4L1222.8 512.8L1222.3 511.9L1221.8 510.7L1221.3 509.4L1220.8 507.8L1220.3 506.1L1219.8 504.3L1219.3 502.3L1218.8 500.3L1218.3 498.3L1217.8 496.3L1217.3 494.3L1216.8 492.3L1216.3 490.4L1215.8 488.7L1215.3 487L1214.8 485.6L1214.3 484.3L1213.8 483.3L1213.3 482.5L1212.8 482L1212.3 481.9L1211.8 482L1211.3 482.4L1210.8 482.9L1210.3 483.4L1209.9 484.1L1209.4 484.9L1208.9 486L1208.4 497L1207.9 495.1L1207.5 493L1207 491.1L1206.5 489.5L1206.1 488.3L1205.6 487.8L1205.1 487.5L1204.6 487.4L1204.1 487.2L1203.6 487L1203.1 486.9L1202.7 486.8L1202.2 486.7L1201.7 486.6L1201.2 486.6L1200.7 486.5L1200.2 486.4L1199.7 486.4L1199.2 486.3L1198.7 486.3L1198.2 486.2L1197.8 486.1L1197.3 486.1L1196.8 486L1196.3 485.9L1195.8 485.8L1195.3 485.6L1194.8 485.5L1194.3 485.4L1193.8 485.3L1193.3 485.1L1192.8 485L1192.4 484.9L1191.9 484.8L1191.4 484.6L1190.9 484.5L1190.4 484.4L1189.9 484.2L1189.4 484.1L1188.9 483.9L1188.4 483.7L1187.9 483.6L1187.4 483.4L1187 483.2L1186.5 483L1186 482.8L1185.5 482.6L1185 482.3L1184.5 482.1L1184 481.8L1183.5 481.6L1183 481.3L1182.5 481L1182.1 480.7L1181.6 480.3L1181.1 479.9L1180.6 479.5L1180.1 479.1L1179.7 478.6L1179.2 478L1178.7 477.5L1178.2 476.8L1177.7 476.2L1177.2 475.5L1176.8 474.7L1176.3 473.9L1175.8 473L1175.3 472.1L1174.8 471.1L1174.4 469.7L1174 467.9Z" fill="#00ff00"/>
<path d="M1173.5 466l0.5 1.8 0.4 -2 0.4 4.7 0.5 -5.4 0.5 7.2 0.5 -8 0.5 9.9 0.4 -8.1 0.5 9 0.5 -8.9 0.5 11.7 0.5 -9.7 0.5 11.1 0.4 -11.2 0.5 10.4 0.5 -7.7 0.5 8.8 0.5 -8.5 0.5 10.5 0.4 -12.4 0.5 12.1 0.5 -10.6 0.5 10.9 0.5 -9.3 0.5 10.8 0.5 -11.2 0.5 11.5 0.5 -10.4 0.4 9.9 0.5 -10.2 0.5 10.8 0.5 -11.2 0.5 12.5 0.5 -12.4 0.5 10.2 0.5 -8.3 0.5 9.4 0.5 -10.3 0.5 10.2 0.4 -10.3 0.5 11.9 0.5 -11.4 0.5 10.8 0.5 -11.7 0.5 11.8 0.5 -10.7 0.5 10.4 0.5 -11.2 0.5 12.1 0.5 -13 0.5 13.3 0.4 -12.7 0.5 12.4 0.5 -13.4 0.5 13.1 0.5 -12.6 0.5 13.9 0.5 -14.2 0.5 12.2 0.5 -11.8 0.4 11.6 0.5 -11.1 0.5 12.4 0.5 -16.4 0.5 16.2 0.5 -13.8 0.5 15.8 0.4 -16.5 0.5 19.9 0.5 -22.2 0.4 25.7 0.5 4.1 0.5 -12.9 0.5 -18.2 0.5 15.6 0.4 -15.8 0.5 14.3 0.5 -14 0.5 12.1 0.5 -13.9 0.5 13.6 0.5 -14.3 0.5 16.3 0.5 -19.9 0.5 22.6 0.5 -29.4 0.5 35.7 0.5 -41 0.5 39.6 0.5 -47.7 0.5 -60.7 0.5 75.6 0.5 41.5 0.5 -30 0.5 35.5 0.5 -34 0.5 31.6 0.5 -21.7 0.5 25.4 0.5 -21.4 0.5 23.5 0.5 -20.5 0.5 27.1 0.4 -30.9 0.5 31.5 0.5 -32.2 0.5 29.5 0.4 -23.9 0.5 28.1 0.5 -28.9 0.4 31.1 0.5 16.4 0.5 -18.1 0.4 -25.5 0.5 22.7 0.5 -21.2 0.4 20.7 0.5 -23.6 0.4 21.2 0.5 -18.9 0.5 18.5 0.4 -17.7 0.5 19.6 0.5 -22.7 0.5 24.8 0.5 -24.9 0.5 22.4 0.5 -19.6 0.5 20.4 0.5 -22 0.5 20.4 0.5 -16.7 0.5 15 0.5 -16.2 0.4 17.4 0.5 -15.2 0.5 14 0.5 -16.1 0.5 17.3 0.5 -16.2 0.5 15.5 0.5 -13.9 0.5 13.1 0.5 -11.7 0.5 11.3 0.5 -11"/>
</g>
<g stroke="#ff00ff" stroke-width="2.7">
<path d="M944.5 482l1.5 0 1.5 0 1.5 0 1.5 0 1.5 0 1.5 0 1.5 0 1.5 0 1.5 0 1.5 0 1.5 0 1.5 0 1.5 0 1.5 0 1.5 0 1.5 0 1.5 0 1.5 0 1.5 0 1.5 0 1.5 0 1.5 0 1.5 0 1.5 0 1.5 0 1.5 0 1.5 0 1.5 0 1.5 0 1.5 0 1.5 0 1.5 0 1.5 0 1.5 0 1.5 0 1.5 0 1.5 0 1.5 0 1.5 0 1.5 0 1.5 0 1.5 0 1.5 0 1.5 0 1.5 0 1.5 0 1.5 0 1.5 0 1.5 0 1.5 0 1.5 0 1.5 0 1.5 0 1.5 0 1.5 0 1.5 0 1.5 0 1.5 0 1.5 0 1.5 0 1.5 0 1.5 0 1.5 0 1.5 0 1.5 0 1.5 0 1.5 0 1.5 0 1.5 0 1.5 0 1.5 0 1.5 0 1.5 0 1.5 0 1.5 0 1.5 0 1.5 0 1.5 0 1.5 0 1.5 0 1.5 0 1.5 0 1.5 0 1.5 0 1.5 0 1.5 0 1.5 0" stroke-dasharray="18 10.3"/>
<path d="M1075 482l0.5 -0 0.5 0 0.5 -0 0.5 0 0.5 -0.1 0.5 0.2 0.5 -0.3 0.5 0.3 0.5 -0.4 0.5 0.4 0.5 -0.6 0.5 0.6 0.5 -0.8 0.5 1 0.5 -1.1 0.5 1.2 0.5 -1.3 0.5 1.3 0.5 -1.5 0.5 1.3" stroke-dasharray="9 8"/>
<path d="M1085.5 480.7L1086 480.6L1086.5 480.5L1087 480.3L1087.5 480.2L1088 480.1L1088.5 480L1089 479.8L1089.5 479.7L1090 479.6L1090.5 479.4L1091 479.3L1091.5 479.1L1092 478.9L1092.5 478.8L1093 478.6L1093.4 478.4L1093.9 478.2L1094.4 478L1094.9 477.8L1095.4 477.6L1095.9 477.4L1096.4 477.2L1096.9 477L1097.4 476.8L1097.9 476.6L1098.4 476.3L1098.9 476.1L1099.4 475.9L1099.9 475.6L1100.4 475.4L1100.9 475.1L1101.4 474.8L1101.9 474.6L1102.4 474.3L1102.9 474L1103.4 473.6L1103.9 473.3L1104.4 472.9L1104.8 472.5L1105.3 472.1L1105.8 471.6L1106.3 471.2L1106.8 470.7L1107.3 470.2L1107.8 469.8L1108.3 469.3L1108.8 468.7L1109.3 468.2L1109.8 467.7L1110.2 467.1L1110.7 466.5L1111.2 465.9L1111.7 465.3L1112.2 464.6L1112.7 464L1113.2 463.3L1113.7 462.7L1114.2 462L1114.7 461.2L1115.2 460.4L1115.7 459.5L1116.2 458.6L1116.7 457.6L1117.2 456.6L1117.6 455.4L1118.1 454.1L1118.6 452.5L1119.1 450.6L1119.6 448.3L1120.1 445.2L1120.6 440.7L1121.1 399.2L1121.6 442L1122.1 446.6L1122.6 449.8L1123.1 452.2L1123.6 454.1L1124.1 455.8L1124.6 457.2L1125 458.4L1125.5 459.6L1126 460.8L1126.5 461.9L1127 462.9L1127.5 463.8L1128 464.5L1128.5 465.1L1129 465.3L1129.5 465.5L1130 465.7L1130.5 465.8L1131 466L1131.5 466.1L1132 466.2L1132.4 466.3L1132.9 466.4L1133.4 466.5L1133.9 466.6L1134.4 466.7L1134.9 466.8L1135.4 466.9L1135.9 466.9L1136.4 467L1136.9 467L1137.4 467.1L1137.8 467.1L1138.3 467.1L1138.8 467.1L1139.3 467.2L1139.8 467.2L1140.3 467.2L1140.8 467.2L1141.3 467.2L1141.8 467.1L1142.3 467L1142.8 466.8L1143.2 466.7L1143.7 466.4L1144.2 466.2L1144.7 465.9L1145.2 465.5L1145.7 465.2L1146.2 464.8L1146.7 464.4L1147.1 464L1147.6 463.6L1148.1 463.2L1148.6 462.8L1149.1 462.3L1149.6 461.9L1150.1 461.5L1150.5 461L1151 460.6L1151.5 460.2L1152 459.8L1152.5 459.4L1153 459.1L1153.5 458.8L1154 458.4L1154.5 457.9L1155 457.4L1155.5 456.7L1156 455.9L1156.5 455L1156.5 455L1156 457.1L1155.5 459.2L1155 461.2L1154.5 463L1154 464.7L1153.5 466.1L1153 467.3L1152.5 468.1L1152 468.5L1151.5 469L1151 469.4L1150.5 469.9L1150.1 470.3L1149.6 470.6L1149.1 471L1148.6 471.3L1148.1 471.6L1147.6 471.9L1147.1 472.2L1146.7 472.5L1146.2 472.7L1145.7 472.9L1145.2 473.1L1144.7 473.3L1144.2 473.4L1143.7 473.6L1143.2 473.7L1142.8 473.8L1142.3 473.9L1141.8 474L1141.3 474L1140.8 474L1140.3 474L1139.8 474L1139.3 474L1138.8 474L1138.3 474L1137.8 474L1137.4 474L1136.9 474L1136.4 474L1135.9 474L1135.4 474L1134.9 474L1134.4 474L1133.9 474L1133.4 473.9L1132.9 473.9L1132.4 473.9L1132 473.9L1131.5 473.9L1131 473.9L1130.5 473.9L1130 473.9L1129.5 473.9L1129 473.9L1128.5 473.9L1128 473.9L1127.5 473.9L1127 473.9L1126.5 473.9L1126 473.9L1125.5 473.9L1125 473.9L1124.6 473.9L1124.1 473.9L1123.6 473.9L1123.1 473.9L1122.6 473.9L1122.1 473.9L1121.6 473.9L1121.1 473.9L1120.6 473.9L1120.1 473.9L1119.6 473.9L1119.1 473.9L1118.6 473.9L1118.1 473.9L1117.6 473.9L1117.2 473.9L1116.7 473.9L1116.2 473.9L1115.7 473.9L1115.2 473.9L1114.7 473.9L1114.2 473.9L1113.7 473.9L1113.2 473.9L1112.7 474L1112.2 474.1L1111.7 474.2L1111.2 474.3L1110.7 474.5L1110.2 474.8L1109.8 475.1L1109.3 475.4L1108.8 475.7L1108.3 476.1L1107.8 476.4L1107.3 476.8L1106.8 477.1L1106.3 477.5L1105.8 477.9L1105.3 478.2L1104.8 478.6L1104.4 478.9L1103.9 479.2L1103.4 479.4L1102.9 479.7L1102.4 479.9L1101.9 480L1101.4 480.2L1100.9 480.3L1100.4 480.4L1099.9 480.5L1099.4 480.6L1098.9 480.7L1098.4 480.8L1097.9 480.8L1097.4 480.9L1096.9 481L1096.4 481.1L1095.9 481.2L1095.4 481.3L1094.9 481.3L1094.4 481.4L1093.9 481.5L1093.4 481.5L1093 481.6L1092.5 481.7L1092 481.7L1091.5 481.8L1091 481.8L1090.5 481.9L1090 481.9L1089.5 482L1089 482L1088.5 482.1L1088 482.1L1087.5 482.1L1087 482.2L1086.5 482.2L1086 482.2L1085.5 482.2Z" fill="#ff00ff"/>
<path d="M1085 482.2l0.5 -1.6 0.5 1.7 0.5 -1.9 0.5 1.7 0.5 -1.8 0.5 1.8 0.5 -2.3 0.5 2.1 0.5 -2.4 0.5 2.6 0.5 -2.6 0.5 2.5 0.5 -2.6 0.5 2.6 0.5 -3.6 0.5 3.4 0.4 -3.6 0.5 3.6 0.5 -3.6 0.5 3.5 0.5 -4.3 0.5 3.9 0.5 -3.9 0.5 3.3 0.5 -3.8 0.5 4 0.5 -4.4 0.5 4.1 0.5 -4.7 0.5 5.6 0.5 -6.6 0.5 6.1 0.5 -6.6 0.5 5.5 0.5 -5.3 0.5 4.7 0.5 -5.2 0.5 4.5 0.5 -5.1 0.4 4.6 0.5 -5.2 0.5 4.7 0.5 -6.1 0.5 5.5 0.5 -6.7 0.5 5.9 0.5 -6.7 0.5 5.8 0.5 -7.1 0.5 7.1 0.5 -8.1 0.4 6.8 0.5 -8.2 0.5 9.2 0.5 -10.7 0.5 10.4 0.5 -12.3 0.5 11.5 0.5 -11.7 0.5 11 0.5 -11.7 0.5 12.3 0.5 -13.7 0.5 12.3 0.5 -15.2 0.4 15.3 0.5 -18.6 0.5 18.6 0.5 -19 0.5 19.3 0.5 -26.4 0.5 24.4 0.5 -72.8 0.5 70.3 0.5 -20.3 0.5 24.3 0.5 -18.6 0.5 18.7 0.5 -16.5 0.5 17.1 0.5 -13.8 0.4 13 0.5 -10.5 0.5 11.7 0.5 -10 0.5 9.9 0.5 -8 0.5 8.2 0.5 -8.8 0.5 9.7 0.5 -9.2 0.5 7.9 0.5 -6.1 0.5 6.8 0.5 -8 0.4 7.9 0.5 -7.9 0.5 8.4 0.5 -6.8 0.5 6.4 0.5 -6.5 0.5 6.4 0.5 -7 0.5 7.5 0.5 -7.3 0.5 8.6 0.4 -7.9 0.5 6.6 0.5 -6.6 0.5 6.1 0.5 -6.2 0.5 6 0.5 -5.4 0.5 5.3 0.5 -5.7 0.5 5.9 0.5 -6.9 0.4 6.9 0.5 -7.1 0.5 6.5 0.5 -6.9 0.5 8.6 0.5 -9.9 0.5 7.7 0.5 -8.1 0.4 6.9 0.5 -7.2 0.5 6.7 0.5 -7.4 0.5 6.6 0.5 -7.6 0.5 6.7 0.5 -8.1 0.4 8.2 0.5 -9.4 0.5 9.1 0.5 -9.1 0.5 7.6 0.5 -8.1 0.5 5.1 0.5 -6.6 0.5 3.2 0.5 -4.1 0.5 0.2 0.5 -2.1"/>
<path d="M1156.5 455l0.2 -0.7 0.2 -0.9 0.1 -1 0.2 -1.2 0.2 -1.2 0.2 -1.2 0.2 -1.4 0.2 -1.4 0.1 -1.7 0.2 -1.8 0.2 -2.1 0.2 -2.4 0.2 -2.9 0.2 -3.6 0.1 -4.8 0.2 -7.9 0.2 -13 0.2 13.8 0.1 9 0.2 5.4 0.2 3.9 0.1 3.3 0.2 2.7 0.2 2.4 0.2 2 0.1 1.9 0.2 1.6 0.2 1.6 0.1 1.3 0.2 1.3 0.2 1.2 0.2 1.2 0.1 1.1 0.2 1 0.2 0.9 0.1 0.9 0.2 0.7" stroke-dasharray="18 10.3"/>
<path d="M1163.5 464.6L1163.9 465.9L1164.4 467.1L1164.9 468.1L1165.4 469L1165.8 469.9L1166.3 470.7L1166.8 471.5L1167.3 472.3L1167.8 473.1L1168.3 473.8L1168.8 474.5L1169.2 475.2L1169.7 475.8L1170.2 476.5L1170.7 477.1L1171.2 477.7L1171.7 478.2L1172.2 478.8L1172.7 479.4L1173.2 479.9L1173.6 480.4L1174.1 480.9L1174.6 481.5L1175.1 482L1175.6 482.5L1176.1 483L1176.6 483.5L1177.1 484L1177.6 484.5L1178.1 484.9L1178.6 485.4L1179 485.8L1179.5 486.2L1180 486.7L1180.5 487.1L1181 487.5L1181.5 487.9L1182 488.3L1182.5 488.7L1183 489.1L1183.5 489.5L1184 489.8L1184.5 490.2L1185 490.6L1185.4 491L1185.9 491.4L1186.4 491.7L1186.9 492.1L1187.4 492.5L1187.9 492.8L1188.4 493.2L1188.9 493.6L1189.4 494L1189.9 494.4L1190.4 494.7L1190.9 495.1L1191.3 495.5L1191.8 495.9L1192.3 496.3L1192.8 496.6L1193.3 497L1193.8 497.4L1194.3 497.8L1194.8 498.1L1195.3 498.5L1195.8 498.9L1196.3 499.2L1196.8 499.6L1197.3 500L1197.8 500.3L1198.2 500.7L1198.7 501L1199.2 501.4L1199.7 501.7L1200.2 502.1L1200.7 502.4L1201.2 502.7L1201.7 503L1202.2 503.4L1202.7 503.7L1203.2 504L1203.7 504.3L1204.2 504.6L1204.6 504.9L1205.1 505.2L1205.6 505.5L1206.1 505.8L1206.6 506L1207.1 506.3L1207.6 506.6L1208.1 506.8L1208.6 507L1209.1 507.3L1209.6 507.5L1210 507.8L1210.5 508L1211 508.3L1211.5 508.5L1212 508.7L1212.5 509L1213 509.2L1213.5 509.4L1214 509.6L1214.5 509.9L1215 510.1L1215.4 510.3L1215.9 510.5L1216.4 510.7L1216.9 510.9L1217.4 511.1L1217.9 511.3L1218.4 511.5L1218.9 511.7L1219.4 511.9L1219.8 512.1L1220.3 512.3L1220.8 512.5L1221.3 512.6L1221.8 512.8L1222.3 513L1222.8 513.2L1223.3 513.3L1223.8 513.5L1224.3 513.7L1224.8 513.8L1225.2 514L1225.7 514.1L1226.2 514.3L1226.7 514.4L1227.2 514.5L1227.7 514.7L1228.2 514.8L1228.7 515L1229.2 515.1L1229.7 515.2L1230.2 515.4L1230.7 515.5L1231.2 515.6L1231.6 515.8L1232.1 515.9L1232.6 516L1233.1 516.1L1233.6 516.3L1234.1 516.4L1234.6 516.5L1235.1 516.6L1235.6 516.7L1236.1 516.8L1236.6 516.9L1237.1 517.1L1237.6 517.2L1238.1 517.3L1238.6 517.4L1239.1 517.5L1239.6 517.6L1240.1 517.6L1240.5 517.7L1241 517.8L1241.5 517.9L1242 518L1242.5 518.1L1243 518.1L1243.5 518.2L1244 518.3L1244.5 518.4L1244.5 530.9L1244 530.9L1243.5 530.8L1243 530.7L1242.5 530.6L1242 530.6L1241.5 530.5L1241 530.4L1240.5 530.3L1240.1 530.2L1239.6 530.1L1239.1 530L1238.6 529.9L1238.1 529.8L1237.6 529.7L1237.1 529.6L1236.6 529.5L1236.1 529.4L1235.6 529.3L1235.1 529.1L1234.6 529L1234.1 528.9L1233.6 528.8L1233.1 528.7L1232.6 528.5L1232.1 528.4L1231.6 528.3L1231.2 528.1L1230.7 528L1230.2 527.9L1229.7 527.7L1229.2 527.6L1228.7 527.5L1228.2 527.3L1227.7 527.2L1227.2 527L1226.7 526.9L1226.2 526.8L1225.7 526.6L1225.2 526.5L1224.8 526.3L1224.3 526.2L1223.8 526L1223.3 525.8L1222.8 525.7L1222.3 525.5L1221.8 525.3L1221.3 525.2L1220.8 525L1220.3 524.8L1219.8 524.6L1219.4 524.5L1218.9 524.3L1218.4 524.1L1217.9 523.9L1217.4 523.7L1216.9 523.5L1216.4 523.3L1215.9 523.1L1215.4 522.9L1215 522.7L1214.5 522.5L1214 522.3L1213.5 522L1213 521.8L1212.5 521.6L1212 521.4L1211.5 521.1L1211 520.9L1210.5 520.7L1210 520.4L1209.6 520.2L1209.1 519.9L1208.6 519.7L1208.1 519.4L1207.6 519.1L1207.1 518.9L1206.6 518.6L1206.1 518.3L1205.6 518L1205.1 517.7L1204.6 517.4L1204.2 517.1L1203.7 516.8L1203.2 516.4L1202.7 516.1L1202.2 515.8L1201.7 515.4L1201.2 515L1200.7 514.7L1200.2 514.3L1199.7 513.9L1199.2 513.5L1198.7 513.1L1198.2 512.7L1197.8 512.3L1197.3 511.9L1196.8 511.5L1196.3 511.1L1195.8 510.7L1195.3 510.3L1194.8 509.8L1194.3 509.4L1193.8 509L1193.3 508.5L1192.8 508.1L1192.3 507.6L1191.8 507.2L1191.3 506.7L1190.9 506.3L1190.4 505.8L1189.9 505.3L1189.4 504.9L1188.9 504.4L1188.4 503.9L1187.9 503.4L1187.4 503L1186.9 502.5L1186.4 502L1185.9 501.5L1185.4 501L1185 500.5L1184.5 499.9L1184 499.4L1183.5 498.9L1183 498.3L1182.5 497.8L1182 497.2L1181.5 496.6L1181 496L1180.5 495.4L1180 494.8L1179.5 494.2L1179 493.6L1178.6 493L1178.1 492.4L1177.6 491.7L1177.1 491.1L1176.6 490.5L1176.1 489.8L1175.6 489.2L1175.1 488.5L1174.6 487.9L1174.1 487.3L1173.6 486.7L1173.2 486L1172.7 485.4L1172.2 484.7L1171.7 484.1L1171.2 483.4L1170.7 482.7L1170.2 481.9L1169.7 481.1L1169.2 480.3L1168.8 479.5L1168.3 478.6L1167.8 477.6L1167.3 476.7L1166.8 475.6L1166.3 474.5L1165.8 473.3L1165.4 472L1164.9 470.5L1164.4 468.8L1163.9 467L1163.5 465.1Z" fill="#ff00ff"/>
<path d="M1163 463l0.5 2.1 0.4 0.7 0.5 2.9 0.5 -0.4 0.5 3.4 0.4 -2 0.5 4.9 0.5 -3.1 0.5 5.1 0.5 -3.4 0.5 5.3 0.5 -4 0.4 5.4 0.5 -4 0.5 6.1 0.5 -5.3 0.5 6.5 0.5 -5.3 0.5 7 0.5 -5.4 0.5 6.3 0.4 -5.1 0.5 6.8 0.5 -6.3 0.5 7.1 0.5 -7.1 0.5 9.4 0.5 -7.7 0.5 8.4 0.5 -7.8 0.5 8.6 0.5 -6.8 0.5 7.8 0.4 -6.5 0.5 7.6 0.5 -6.6 0.5 7.3 0.5 -7.6 0.5 8.7 0.5 -6.3 0.5 8.9 0.5 -8.5 0.5 9.9 0.5 -9.6 0.5 9.6 0.4 -9.4 0.5 10.4 0.5 -9.6 0.5 11.6 0.5 -10.2 0.5 11.4 0.5 -10.6 0.5 10.5 0.5 -9 0.5 9.8 0.5 -9 0.5 9.8 0.4 -9.4 0.5 9.6 0.5 -9.4 0.5 9.7 0.5 -7.9 0.5 9.8 0.5 -9.7 0.5 10.1 0.5 -8.9 0.5 10.1 0.5 -10.6 0.5 11.8 0.5 -10.9 0.5 13.1 0.4 -12.1 0.5 13 0.5 -11.8 0.5 11.5 0.5 -10.4 0.5 11.4 0.5 -10.5 0.5 11 0.5 -11.2 0.5 11.8 0.5 -11.9 0.5 11.5 0.5 -9.4 0.4 9.3 0.5 -9 0.5 10.5 0.5 -9 0.5 10.1 0.5 -11.1 0.5 10.5 0.5 -8.7 0.5 10.5 0.5 -10.1 0.5 10.8 0.5 -10.7 0.4 10.3 0.5 -11.7 0.5 12.1 0.5 -10.4 0.5 11.9 0.5 -11.6 0.5 12.6 0.5 -12.5 0.5 12.4 0.5 -12.2 0.4 13.1 0.5 -13 0.5 12.2 0.5 -11.7 0.5 13.3 0.5 -12.3 0.5 11.9 0.5 -10.6 0.5 9.3 0.4 -8.3 0.5 9.1 0.5 -10.1 0.5 12.2 0.5 -10.6 0.5 10.1 0.5 -11.5 0.5 11.3 0.5 -10.6 0.5 11 0.5 -9.5 0.4 11 0.5 -10.8 0.5 10.1 0.5 -10.1 0.5 9.5 0.5 -8.8 0.5 9.9 0.5 -9.7 0.5 10.4 0.5 -9.6 0.5 10 0.5 -9.8 0.5 10.4 0.4 -10.7 0.5 10.3 0.5 -9.4 0.5 8.9 0.5 -9.5 0.5 11.3 0.5 -11.4 0.5 11.4 0.5 -10.4 0.5 10.3 0.5 -11.1 0.5 12 0.5 -11.8 0.5 12.3 0.5 -12.3 0.5 11.3 0.5 -11.7 0.5 13.7 0.4 -13.1 0.5 11.1 0.5 -11.1 0.5 12.3 0.5 -10 0.5 8.4 0.5 -8.9 0.5 9 0.5 -9.5"/>
</g>
</g>
<g clip-path="url(#cp5)" fill="none" stroke-linejoin="round">
<g stroke="#0000ff" stroke-width="4">
<path d="M1244 421.3l1.5 0 1.5 0 1.5 0 1.5 0 1.5 0 1.5 0 1.5 0 1.5 0 1.5 0 1.5 0 1.5 0 1.4 0 1.5 0 1.5 0 1.5 0 1.5 0 1.5 0 1.5 0 1.5 0 1.5 0 1.5 0 1.5 0 1.5 0 1.5 0 1.5 0 1.5 0 1.5 0 1.5 0 1.5 0 1.5 0 1.5 0 1.5 0 1.5 0 1.5 0 1.4 0 1.5 0 1.5 0 1.5 0 1.5 0 1.5 0 1.5 0 1.5 0 1.5 0 1.5 0 1.5 0 1.5 0 1.5 0 1.5 0 1.5 0 1.5 0 1.5 0 1.5 0 1.5 0 1.5 0 1.5 0 1.5 0 1.5 0 1.5 0 1.4 0 1.5 0 1.5 0 1.5 0 1.5 0 1.5 0 1.5 0 1.5 0 1.5 0 1.5 0 1.5 0 1.5 0"/>
<path d="M1349.2 421.3L1349.7 421.3L1350.2 421.3L1350.7 421.3L1351.2 421.2L1351.7 421.2L1352.2 421.2L1352.7 421.2L1353.1 421.1L1353.6 421.1L1354.1 421.1L1354.6 421L1355.1 421L1355.6 420.9L1356.1 420.9L1356.6 420.8L1357.1 420.8L1357.6 420.7L1358.1 420.7L1358.6 420.6L1359.1 420.5L1359.6 420.5L1360.1 420.4L1360.6 420.3L1361 420.3L1361.5 420.2L1362 420.1L1362.5 420.1L1363 420L1363.5 419.9L1364 419.9L1364.5 419.8L1365 419.8L1365.5 419.7L1366 419.6L1366.5 419.5L1367 419.4L1367.5 419.3L1368 419.2L1368.5 419.1L1369 419L1369.5 418.9L1370 418.8L1370.5 418.7L1371 418.6L1371.5 418.5L1372 418.3L1372.5 418.2L1373 418.1L1373.5 418L1374 417.9L1374.5 417.7L1375 417.6L1375.5 417.5L1376 417.4L1376.5 417.3L1377 417.2L1377.5 417.1L1378 417L1378.5 416.9L1379 416.8L1379.5 416.7L1380 416.6L1380.5 416.5L1381 416.5L1381.5 416.4L1382 416.4L1382.5 416.3L1383 416.2L1383.5 416.2L1384 416.1L1384.5 416.1L1385 416.1L1385.5 416L1386 416L1386.5 415.9L1387 415.9L1387.5 415.9L1388 415.8L1388.5 415.8L1388.9 415.7L1389.4 415.7L1389.9 415.7L1390.4 415.6L1390.9 415.6L1391.4 415.5L1391.9 415.5L1392.4 415.4L1392.9 415.3L1393.4 415.3L1393.9 415.2L1394.4 415.1L1394.9 415.1L1395.4 415L1395.9 414.9L1396.4 414.8L1396.9 414.7L1397.4 414.5L1397.9 414.3L1398.3 414L1398.8 413.7L1399.3 413.2L1399.8 412.8L1400.3 412.2L1400.8 411.7L1401.2 411.1L1401.7 410.5L1402.2 409.9L1402.7 409.3L1403.2 408.7L1403.6 408.1L1404.1 407.5L1404.6 406.9L1405.1 406.3L1405.6 405.8L1406.1 405.3L1406.5 404.9L1407 404.5L1407.5 404.2L1408 403.9L1408.5 403.7L1409 403.4L1409.5 403.2L1410 403L1410.5 402.8L1411 402.6L1411.5 402.5L1412 402.3L1412.5 402.1L1413 402L1413.5 401.8L1414 401.6L1414.5 401.5L1415 401.3L1415.5 401.1L1416 400.9L1416.5 400.7L1417 400.5L1417.5 400.3L1418 400L1418.5 399.7L1419 399.5L1419.5 399.2L1420 398.9L1420.5 398.6L1421 398.2L1421.5 397.9L1422 397.5L1422.5 397.2L1423 396.8L1423.5 396.4L1424 396L1424.5 395.6L1425 395.1L1425.5 394.7L1426 394.2L1426.5 393.7L1427 393.2L1427.5 392.6L1428 391.9L1428.5 391.2L1429 390.5L1429.5 389.7L1430 388.9L1430.5 388L1431 387.2L1431.5 386.4L1431.9 385.6L1432.3 384.7L1432.8 383.7L1433.2 382.8L1433.7 381.8L1434.1 380.9L1434.6 379.9L1435 378.9L1435.5 377.9L1436 376.9L1436.4 375.8L1436.9 374.8L1437.4 373.6L1437.9 372.3L1438.3 370.9L1438.8 369.3L1439.3 367.4L1439.8 365.1L1440.3 362.3L1440.7 358.6L1441.2 353.1L1441.7 302.9L1442.2 351.5L1442.7 356.8L1443.2 360.4L1443.7 363.1L1444.2 365.3L1444.7 367.2L1445.2 368.8L1445.7 370.2L1446.2 371.7L1446.7 373L1447.2 374L1447.7 374.7L1448.2 375.2L1448.7 375.6L1449.2 376L1449.7 376.4L1450.1 376.7L1450.6 377.1L1451.1 377.4L1451.6 377.6L1452.1 377.9L1452.6 378.1L1453.1 378.3L1453.6 378.5L1454 378.6L1454.5 378.8L1455 378.8L1455.5 378.9L1456 378.9L1456.5 378.9L1457 378.8L1457.4 378.8L1457.9 378.7L1458.4 378.5L1458.9 378.4L1459.3 378.2L1459.8 378L1460.3 377.8L1460.8 377.5L1461.3 377.2L1461.7 376.9L1462.2 376.6L1462.7 376.3L1463.2 375.9L1463.6 375.5L1464.1 375.1L1464.6 374.7L1465.1 374L1465.6 373L1466.1 371.9L1466.6 370.7L1467.1 369.4L1467.6 367.8L1468.1 365.8L1468.6 363.2L1469.1 359.4L1469.6 324.1L1470.1 361.7L1470.6 365.8L1471.1 368.6L1471.6 370.7L1472.1 372.4L1472.6 373.8L1473.1 375.1L1473.6 376.1L1474.1 377L1474.6 377.9L1475.1 378.9L1475.6 380L1476.1 381.2L1476.6 382.4L1477.1 383.7L1477.6 385L1478.1 386.3L1478.5 387.7L1479 389.1L1479.5 390.5L1480 391.8L1480.5 393.2L1481 394.5L1481.5 395.8L1482 397.1L1482.5 398.4L1483 399.8L1483.5 401.1L1484 402.5L1484.5 403.8L1485 405.1L1485.5 406.5L1486 407.8L1486.5 409.1L1487 410.3L1487.5 411.6L1488 412.8L1488.5 413.9L1489 415L1489.5 416L1490 417L1490.5 417.9L1491 418.9L1491.5 419.8L1492 420.8L1492.5 421.7L1493 422.6L1493.5 423.5L1494 424.4L1494.4 425.2L1494.9 426L1495.4 426.7L1495.9 427.4L1496.4 428L1496.9 428.5L1497.4 429L1497.9 429.3L1498.4 429.6L1498.9 429.8L1499.4 430L1499.9 430.2L1500.4 430.4L1500.9 430.6L1501.4 430.8L1501.9 430.9L1502.4 431.1L1502.8 431.2L1503.3 431.4L1503.8 431.5L1504.3 431.6L1504.8 431.7L1505.3 431.7L1505.8 431.8L1506.3 431.8L1506.8 431.8L1507.3 431.8L1507.8 431.8L1508.3 431.8L1508.8 431.8L1509.2 431.8L1509.7 431.8L1510.2 431.8L1510.7 431.7L1511.2 431.7L1511.7 431.7L1512.2 431.7L1512.7 431.6L1513.2 431.6L1513.6 431.6L1514.1 431.6L1514.6 431.5L1515.1 431.5L1515.6 431.5L1516.1 431.5L1516.6 431.5L1517.1 431.4L1517.5 431.4L1518 431.4L1518.5 431.4L1519 431.4L1519.5 431.4L1520 431.4L1520.5 431.4L1521 431.5L1521.5 431.5L1521.9 431.5L1522.4 431.6L1522.9 431.6L1523.4 431.7L1523.9 431.8L1524.4 431.8L1524.9 431.9L1525.4 432L1525.8 432.1L1526.3 432.2L1526.8 432.3L1527.3 432.4L1527.8 432.5L1528.3 432.6L1528.8 432.6L1529.3 432.7L1529.8 432.8L1530.2 432.9L1530.7 433L1531.2 433.1L1531.7 433.2L1532.2 433.2L1532.7 433.3L1533.2 433.4L1533.7 433.5L1534.2 433.6L1534.7 433.7L1535.2 433.7L1535.6 433.8L1536.1 433.9L1536.6 434L1537.1 434.1L1537.6 434.2L1538.1 434.3L1538.6 434.4L1539.1 434.5L1539.6 434.6L1540.1 434.7L1540.6 434.8L1541 435L1541.5 435.1L1542 435.2L1542.5 435.3L1543 435.4L1543.5 435.5L1544 435.6L1544 440.6L1543.5 440.3L1543 440.1L1542.5 439.8L1542 439.6L1541.5 439.4L1541 439.1L1540.6 438.9L1540.1 438.7L1539.6 438.5L1539.1 438.3L1538.6 438.1L1538.1 437.9L1537.6 437.7L1537.1 437.5L1536.6 437.3L1536.1 437.2L1535.6 437.1L1535.2 436.9L1534.7 436.8L1534.2 436.7L1533.7 436.7L1533.2 436.6L1532.7 436.6L1532.2 436.6L1531.7 436.5L1531.2 436.5L1530.7 436.5L1530.2 436.5L1529.8 436.5L1529.3 436.5L1528.8 436.5L1528.3 436.5L1527.8 436.4L1527.3 436.4L1526.8 436.4L1526.3 436.4L1525.8 436.4L1525.4 436.4L1524.9 436.4L1524.4 436.3L1523.9 436.3L1523.4 436.3L1522.9 436.3L1522.4 436.3L1521.9 436.3L1521.5 436.3L1521 436.3L1520.5 436.3L1520 436.3L1519.5 436.3L1519 436.3L1518.5 436.3L1518 436.4L1517.5 436.4L1517.1 436.5L1516.6 436.6L1516.1 436.7L1515.6 436.8L1515.1 437L1514.6 437.1L1514.1 437.3L1513.6 437.4L1513.2 437.6L1512.7 437.8L1512.2 438L1511.7 438.1L1511.2 438.3L1510.7 438.5L1510.2 438.7L1509.7 438.9L1509.2 439.1L1508.8 439.4L1508.3 439.6L1507.8 439.8L1507.3 440L1506.8 440.2L1506.3 440.4L1505.8 440.7L1505.3 441L1504.8 441.3L1504.3 441.6L1503.8 441.9L1503.3 442.2L1502.8 442.6L1502.4 442.9L1501.9 443.2L1501.4 443.5L1500.9 443.7L1500.4 444L1499.9 444.1L1499.4 444.3L1498.9 444.4L1498.4 444.4L1497.9 444.4L1497.4 444.2L1496.9 444L1496.4 443.8L1495.9 443.4L1495.4 443L1494.9 442.6L1494.4 442.1L1494 441.5L1493.5 440.9L1493 440.3L1492.5 439.6L1492 438.9L1491.5 438.2L1491 437.4L1490.5 436.7L1490 435.9L1489.5 435L1489 433.9L1488.5 432.5L1488 431L1487.5 429.3L1487 427.5L1486.5 425.6L1486 423.6L1485.5 421.6L1485 419.5L1484.5 417.4L1484 415.4L1483.5 413.4L1483 411.4L1482.5 409.6L1482 407.9L1481.5 406.3L1481 404.8L1480.5 403.2L1480 401.6L1479.5 400L1479 398.4L1478.5 396.8L1478.1 395.3L1477.6 393.9L1477.1 392.7L1476.6 391.5L1476.1 390.6L1475.6 389.9L1475.1 389.4L1474.6 389L1474.1 388.7L1473.6 388.4L1473.1 388L1472.6 387.7L1472.1 387.4L1471.6 387.2L1471.1 386.9L1470.6 386.7L1470.1 386.4L1469.6 386.2L1469.1 386L1468.6 385.9L1468.1 385.7L1467.6 385.6L1467.1 385.5L1466.6 385.4L1466.1 385.3L1465.6 385.2L1465.1 385.2L1464.6 385.2L1464.1 385.3L1463.6 385.5L1463.2 385.8L1462.7 386.3L1462.2 386.8L1461.7 387.4L1461.3 388L1460.8 388.7L1460.3 389.4L1459.8 390.1L1459.3 390.8L1458.9 391.4L1458.4 392L1457.9 392.5L1457.4 393L1457 393.3L1456.5 393.5L1456 393.6L1455.5 393.6L1455 393.4L1454.5 393.3L1454 393L1453.6 392.7L1453.1 392.4L1452.6 392.1L1452.1 391.7L1451.6 391.3L1451.1 390.9L1450.6 390.6L1450.1 390.3L1449.7 390L1449.2 389.7L1448.7 389.6L1448.2 389.4L1447.7 389.4L1447.2 389.4L1446.7 389.5L1446.2 389.7L1445.7 389.9L1445.2 390.1L1444.7 390.4L1444.2 390.8L1443.7 391.2L1443.2 391.6L1442.7 392.1L1442.2 392.6L1441.7 393.1L1441.2 393.7L1440.7 394.3L1440.3 394.9L1439.8 395.5L1439.3 396.1L1438.8 396.7L1438.3 397.4L1437.9 398.1L1437.4 398.7L1436.9 399.4L1436.4 400.1L1436 400.8L1435.5 401.4L1435 402.1L1434.6 402.8L1434.1 403.6L1433.7 404.8L1433.2 406.4L1432.8 421.8L1432.3 408.9L1431.9 407.5L1431.5 406.5L1431 405.8L1430.5 405.9L1430 406.1L1429.5 406.4L1429 406.7L1428.5 407.1L1428 407.5L1427.5 407.8L1427 408.2L1426.5 408.4L1426 408.6L1425.5 408.7L1425 408.9L1424.5 409L1424 409.1L1423.5 409.2L1423 409.3L1422.5 409.4L1422 409.4L1421.5 409.5L1421 409.6L1420.5 409.8L1420 409.9L1419.5 410L1419 410.2L1418.5 410.4L1418 410.6L1417.5 410.9L1417 411.3L1416.5 411.9L1416 412.6L1415.5 413.3L1415 414.1L1414.5 415L1414 415.9L1413.5 416.9L1413 417.8L1412.5 417.1L1412 416.3L1411.5 415.7L1411 415L1410.5 414.5L1410 414L1409.5 413.5L1409 413.2L1408.5 412.9L1408 412.8L1407.5 412.7L1407 412.8L1406.5 412.9L1406.1 413.1L1405.6 413.4L1405.1 413.8L1404.6 414.2L1404.1 414.7L1403.6 415.2L1403.2 415.8L1402.7 416.4L1402.2 416.9L1401.7 417.5L1401.2 418.1L1400.8 418.6L1400.3 419.1L1399.8 419.6L1399.3 420.1L1398.8 420.4L1398.3 420.8L1397.9 421L1397.4 421.1L1396.9 421.2L1396.4 421.2L1395.9 421.2L1395.4 421.3L1394.9 421.3L1394.4 421.3L1393.9 421.3L1393.4 421.3L1392.9 421.3L1392.4 421.3L1391.9 421.3L1391.4 421.3L1390.9 421.3L1390.4 421.3L1389.9 421.4L1389.4 421.4L1388.9 421.4L1388.5 421.4L1388 421.4L1387.5 421.4L1387 421.4L1386.5 421.4L1386 421.4L1385.5 421.4L1385 421.4L1384.5 421.4L1384 421.4L1383.5 421.4L1383 421.4L1382.5 421.4L1382 421.5L1381.5 421.5L1381 421.5L1380.5 421.5L1380 421.5L1379.5 421.5L1379 421.5L1378.5 421.5L1378 421.5L1377.5 421.5L1377 421.5L1376.5 421.5L1376 421.5L1375.5 421.5L1375 421.5L1374.5 421.5L1374 421.4L1373.5 421.4L1373 421.4L1372.5 421.4L1372 421.4L1371.5 421.4L1371 421.4L1370.5 421.3L1370 421.3L1369.5 421.3L1369 421.3L1368.5 421.3L1368 421.3L1367.5 421.3L1367 421.3L1366.5 421.3L1366 421.3L1365.5 421.3L1365 421.2L1364.5 421.3L1364 421.3L1363.5 421.3L1363 421.3L1362.5 421.3L1362 421.3L1361.5 421.3L1361 421.3L1360.6 421.3L1360.1 421.3L1359.6 421.3L1359.1 421.3L1358.6 421.3L1358.1 421.3L1357.6 421.3L1357.1 421.3L1356.6 421.3L1356.1 421.3L1355.6 421.3L1355.1 421.3L1354.6 421.3L1354.1 421.3L1353.6 421.3L1353.1 421.3L1352.7 421.3L1352.2 421.3L1351.7 421.3L1351.2 421.3L1350.7 421.3L1350.2 421.3L1349.7 421.3L1349.2 421.3Z" fill="#0000ff"/>
<path d="M1348.7 421.3l0.5 -0 0.5 -0 0.5 -0 0.5 -0 0.5 -0.1 0.5 0.1 0.5 -0.1 0.5 0.1 0.4 -0.2 0.5 0.2 0.5 -0.3 0.5 0.3 0.5 -0.3 0.5 0.3 0.5 -0.5 0.5 0.5 0.5 -0.5 0.5 0.5 0.5 -0.7 0.5 0.7 0.5 -0.8 0.5 0.7 0.5 -0.8 0.5 1 0.4 -1.1 0.5 1 0.5 -1.2 0.5 1.2 0.5 -1.3 0.5 1.2 0.5 -1.4 0.5 1.3 0.5 -1.3 0.5 1.5 0.5 -1.6 0.5 1.4 0.5 -1.9 0.5 2.1 0.5 -2.1 0.5 2.1 0.5 -2.1 0.5 2 0.5 -2.2 0.5 2.5 0.5 -2.6 0.5 2.7 0.5 -3.2 0.5 3.7 0.5 -4.1 0.5 3.3 0.5 -3.8 0.5 3.8 0.5 -3.8 0.5 3.8 0.5 -3.3 0.5 3.3 0.5 -3.9 0.5 3.9 0.5 -4.4 0.5 4.5 0.5 -4.4 0.5 4.2 0.5 -5 0.5 5.4 0.5 -5.3 0.5 5.3 0.5 -5.3 0.5 5.6 0.5 -5.3 0.5 4.8 0.5 -5 0.5 5.1 0.5 -5.1 0.5 4.6 0.5 -4.6 0.5 4.7 0.5 -4.8 0.5 4.6 0.5 -5.2 0.5 5.3 0.4 -4.9 0.5 4.9 0.5 -4.9 0.5 5 0.5 -5.6 0.5 5.3 0.5 -5.4 0.5 6.3 0.5 -6.6 0.5 6.3 0.5 -6.3 0.5 5.9 0.5 -5.7 0.5 5.7 0.5 -5.6 0.5 6 0.5 -6.3 0.5 5.9 0.5 -6.2 0.4 6.5 0.5 -8.2 0.5 6.5 0.5 -7.5 0.5 7.1 0.5 -6.7 0.4 4.9 0.5 -6.7 0.5 5.6 0.5 -7.1 0.5 6 0.4 -7.4 0.5 7.5 0.5 -9.4 0.5 8 0.5 -8.8 0.5 7.6 0.4 -7.4 0.5 7.2 0.5 -7 0.5 6.2 0.5 -7 0.5 8.4 0.5 -8.7 0.5 8.5 0.5 -8.2 0.5 8.7 0.5 -10.1 0.5 12 0.5 -11.9 0.5 15.6 0.5 -17.4 0.5 12.8 0.5 -12.5 0.5 11.2 0.5 -11.7 0.5 10 0.5 -10.6 0.5 10.6 0.5 -11.8 0.5 11 0.5 -10.7 0.5 9.7 0.5 -10.2 0.5 9.9 0.5 -9.9 0.5 9 0.5 -10.1 0.5 9.5 0.5 -9.2 0.5 9.3 0.5 -11.7 0.5 13.3 0.5 -12.7 0.5 11.6 0.5 -12.6 0.5 12 0.5 -13.2 0.5 13.9 0.5 -15.8 0.5 14.2 0.5 -14.7 0.5 13.5 0.5 -14.5 0.5 15.6 0.5 -17.1 0.5 13.8 0.5 -15.2 0.4 15.6 0.4 -17.8 0.5 36.9 0.4 -39 0.5 18.2 0.4 -21.2 0.5 21.1 0.4 -21.5 0.5 20.2 0.5 -22.3 0.4 20.1 0.5 -21.3 0.5 18.7 0.5 -19.8 0.4 18.5 0.5 -20.9 0.5 18.1 0.5 -23.4 0.5 24.1 0.4 -28.6 0.5 27.2 0.5 -89.5 0.5 89.4 0.5 -29.4 0.5 24.9 0.5 -19.9 0.5 22.5 0.5 -20 0.5 18.5 0.5 -15.5 0.5 15.5 0.5 -14 0.5 13.3 0.5 -11.5 0.5 11.9 0.5 -11 0.5 13.1 0.5 -12.5 0.4 13.1 0.5 -12.4 0.5 11.7 0.5 -9.7 0.5 11 0.5 -11.6 0.5 12.6 0.5 -12.7 0.4 12.4 0.5 -12.6 0.5 14.1 0.5 -12.9 0.5 13.7 0.5 -12.9 0.5 11.3 0.4 -11.7 0.5 10.7 0.5 -11.7 0.5 10 0.4 -10 0.5 9.3 0.5 -10.2 0.5 8.5 0.5 -8.2 0.4 7.3 0.5 -8.2 0.5 7.7 0.5 -9.1 0.4 9.2 0.5 -10.9 0.5 10.2 0.5 -10.4 0.5 10.4 0.5 -14 0.5 12.8 0.5 -13.3 0.5 12.6 0.5 -13.6 0.5 13.9 0.5 -19.8 0.5 -40.7 0.5 40.4 0.5 23.6 0.5 -16.7 0.5 15.1 0.5 -11.1 0.5 12.8 0.5 -10 0.5 10.3 0.5 -9.9 0.5 10.7 0.5 -8 0.5 9.3 0.5 -8.1 0.5 9.8 0.5 -6.7 0.5 8.8 0.5 -7.2 0.4 10.3 0.5 -6.5 0.5 9.5 0.5 -8.3 0.5 12.2 0.5 -7.8 0.5 9.4 0.5 -6.9 0.5 9.9 0.5 -6.6 0.5 10.9 0.5 -9 0.5 13.3 0.5 -9.8 0.5 14.4 0.5 -11.6 0.5 13.9 0.5 -11.5 0.5 14.4 0.5 -11.2 0.5 14.4 0.5 -12.1 0.5 16.4 0.5 -16.1 0.5 18.4 0.5 -17.2 0.5 17.1 0.5 -14.1 0.5 15.7 0.5 -12.6 0.5 14.5 0.5 -13.5 0.4 15.9 0.5 -13 0.5 12.8 0.5 -13.5 0.5 13.6 0.5 -11.6 0.5 13.3 0.5 -13.5 0.5 13.7 0.5 -11.5 0.5 11.2 0.5 -11.7 0.5 10 0.5 -10.6 0.5 10.7 0.5 -10.6 0.5 11.3 0.4 -11 0.5 10.7 0.5 -9.6 0.5 9.7 0.5 -10.9 0.5 9.3 0.5 -8.7 0.5 8.3 0.5 -7.3 0.5 6 0.5 -6.8 0.5 7.1 0.5 -7.3 0.4 6.8 0.5 -7 0.5 7.6 0.5 -7.8 0.5 6.6 0.5 -6.6 0.5 6.6 0.5 -5.8 0.5 5 0.4 -5.4 0.5 5.3 0.5 -5.3 0.5 5.2 0.5 -5.7 0.5 5.1 0.5 -5.1 0.5 5.2 0.4 -4.7 0.5 4.8 0.5 -5 0.5 4.4 0.5 -4.8 0.5 5.4 0.5 -5.5 0.5 5 0.5 -5.3 0.4 5.8 0.5 -6 0.5 5.5 0.5 -4.5 0.5 4.7 0.5 -4.3 0.5 4.3 0.5 -4.2 0.4 4.4 0.5 -4.8 0.5 5.1 0.5 -4.6 0.5 4.5 0.5 -4.5 0.5 4.8 0.5 -4.2 0.5 3.6 0.4 -3.5 0.5 3.4 0.5 -3.2 0.5 3.5 0.5 -3.7 0.5 3.7 0.5 -3.2 0.5 3 0.5 -3.1 0.5 3.4 0.5 -2.9 0.4 3.1 0.5 -2.8 0.5 3.1 0.5 -3.9 0.5 4.5 0.5 -3.4 0.5 3.7 0.5 -4 0.5 4.2 0.5 -3.7 0.5 4.1 0.5 -4.1 0.4 4.6 0.5 -4.2 0.5 4.9 0.5 -4.9 0.5 5.3 0.5 -5"/>
</g>
<g stroke="#ff0000" stroke-width="4">
<path d="M1244 394.4l1.5 0 1.5 0 1.5 0 1.5 0 1.5 0 1.5 0 1.4 0 1.5 0 1.5 0 1.5 0 1.5 0 1.5 0 1.5 0 1.5 0 1.5 0 1.5 0 1.5 0 1.5 0 1.5 0 1.5 0 1.4 0 1.5 0 1.5 0 1.5 0 1.5 0 1.5 0 1.5 0 1.5 0 1.5 0 1.5 0 1.5 0 1.5 0 1.5 0 1.4 0 1.5 0 1.5 0 1.5 0 1.5 0 1.5 0 1.5 0 1.5 0 1.5 0 1.5 0 1.5 0 1.5 0 1.5 0 1.5 0 1.4 0 1.5 0 1.5 0 1.5 0 1.5 0 1.5 0 1.5 0 1.5 0 1.4 0 1.5 0.1 1.4 0 1.5 0.1 1.4 0.1 1.5 0.1 1.5 0.1 1.4 0.1 1.5 0.1 1.4 0.1 1.5 0.1 1.4 0.1 1.5 0.1 1.4 0.1 1.5 0.1 1.4 0.1 1.4 0.1 1.5 0.1 1.4 0.1 1.5 0.1 1.4 0.2 1.4 0.1 1.5 0.1 1.4 0.2 1.4 0.2 1.4 0.2 1.5 0.3 1.4 0.2 1.4 0.3 1.4 0.3 1.4 0.3 1.5 0.3 1.4 0.3 1.4 0.3 1.4 0.3 1.3 0.3 1.4 0.3 1.4 0.4 1.4 0.2 1.3 0.3 1.4 0.1 1.4 0.1 1.4 -0 1.3 -0.1 1.4 -0.1 1.4 -0.2 1.3 -0.2 1.4 -0.2 1.3 -0.2 1.4 -0.3 1.3 -0.4 1.2 -0.8 1.3 -0.8 1.3 -0.7 1.4 -0.8 1.3 -1 1.4 -0.7 1.4 -0.3 1.5 0.8 1.5 1.5 1.1 1.2 1.1 1.2 1.1 0.6"/>
<path d="M1414.3 399.9L1414.7 399.7L1415.2 399.3L1415.6 398.9L1416.1 398.5L1416.5 398.1L1417 397.8L1417.5 397.5L1418 397.3L1418.4 397.1L1418.9 396.9L1419.4 396.7L1419.9 396.6L1420.4 396.5L1420.9 396.3L1421.3 396.2L1421.8 396L1422.3 395.8L1422.8 395.6L1423.3 395.4L1423.8 395.2L1424.3 395L1424.7 394.9L1425.2 394.7L1425.7 394.5L1426.2 394.4L1426.7 394.2L1427.2 394.1L1427.7 393.9L1428.2 393.8L1428.7 393.7L1429.1 393.5L1429.6 393.4L1430.1 393.2L1430.6 393.1L1431.1 392.9L1431.6 392.8L1432.1 392.6L1432.6 392.5L1433 392.3L1433.5 392.2L1434 392L1434.5 391.8L1435 391.6L1435.5 391.4L1436 391.2L1436.5 391L1437 390.8L1437.5 390.6L1438 390.4L1438.5 390.2L1439 390L1439.4 389.7L1439.9 389.5L1440.4 389.2L1440.9 389L1441.4 388.7L1441.9 388.4L1442.4 388.1L1442.9 387.8L1443.4 387.4L1443.8 387.1L1444.2 386.7L1444.7 386.2L1445.1 385.7L1445.5 385.2L1446 384.5L1446.5 383.8L1446.9 383.1L1447.4 382.4L1447.9 381.7L1448.4 381L1448.8 380.3L1449.3 379.6L1449.8 378.9L1450.3 378.3L1450.8 377.7L1451.2 377.1L1451.7 376.5L1452.2 375.9L1452.7 375.3L1453.1 374.6L1453.6 373.9L1454.1 373L1454.5 372L1455 370.8L1455.5 369.4L1456 367.7L1456.5 365.4L1456.9 362.1L1457.4 331.2L1457.9 361.1L1458.3 364.3L1458.8 366.5L1459.3 368.2L1459.7 369.5L1460.2 370.7L1460.6 371.7L1461.1 372.5L1461.6 373.4L1462 374.1L1462.5 374.6L1463 375L1463.5 375.5L1464 375.9L1464.5 376.3L1465 376.7L1465.5 377.2L1466 377.6L1466.5 378L1467 378.4L1467.5 378.7L1468 379.1L1468.5 379.4L1469 379.7L1469.5 380L1470 380.3L1470.5 380.5L1471 380.7L1471.5 380.8L1472 380.9L1472.5 381L1473 381L1473.5 381L1474 381L1474.5 381L1475 380.9L1475.4 380.9L1475.9 380.9L1476.4 380.8L1476.9 380.8L1477.4 380.7L1477.9 380.6L1478.4 380.6L1478.9 380.5L1479.3 380.4L1479.8 380.3L1480.3 380.2L1480.8 380.1L1481.3 380L1481.8 379.9L1482.3 379.8L1482.8 379.7L1483.3 379.5L1483.7 379.4L1484.2 379.3L1484.7 379.2L1485.2 379L1485.7 378.9L1486.2 378.7L1486.6 378.5L1487.1 378.2L1487.6 378L1488.1 377.7L1488.5 377.4L1489 377.2L1489.5 377L1489.9 376.9L1490.3 376.7L1490.8 376.6L1491.3 376.5L1491.8 376.4L1492.3 376.2L1492.8 376.1L1493.3 376L1493.8 375.8L1494.3 375.7L1494.8 375.5L1495.3 375.3L1495.8 375L1496.3 374.7L1496.8 374.2L1497.3 373.4L1497.8 372.4L1498.3 371.2L1498.8 369.7L1499.3 368.2L1499.8 366.5L1500.3 364.8L1500.8 363L1501.3 361.1L1501.8 358.7L1502.3 356L1502.8 352.6L1503.3 348.1L1503.8 341.4L1504.3 280.5L1504.8 345.5L1505.3 352.6L1505.8 357.4L1506.2 361L1506.7 364L1507.2 366.5L1507.7 368.6L1508.2 370.4L1508.7 372.2L1509.2 373.8L1509.6 375.3L1510.1 376.6L1510.6 377.8L1511.1 378.9L1511.6 379.8L1512 380.7L1512.5 381.6L1513 382.4L1513.4 383.2L1513.9 384L1514.3 384.8L1514.8 385.6L1515.3 386.3L1515.7 387L1516.2 387.7L1516.7 388.3L1517.2 389L1517.6 389.6L1518.1 390.2L1518.6 390.8L1519 391.4L1519.5 391.9L1520 392.4L1520.5 392.9L1521 393.4L1521.4 393.9L1521.9 394.3L1522.4 394.7L1522.8 395.1L1523.3 395.5L1523.8 395.8L1524.3 396.1L1524.8 396.5L1525.3 396.8L1525.8 397.1L1526.3 397.3L1526.8 397.6L1527.3 397.9L1527.8 398.1L1528.2 398.4L1528.7 398.6L1529.2 398.8L1529.7 399L1530.2 399.2L1530.7 399.4L1531.2 399.6L1531.7 399.8L1532.2 400L1532.7 400.2L1533.2 400.4L1533.6 400.6L1534.1 400.8L1534.6 401L1535.1 401.2L1535.6 401.4L1536.1 401.5L1536.5 401.6L1537 401.7L1537.5 401.7L1538 401L1538.5 399.9L1538.9 398.4L1539.4 384.5L1539.8 399.5L1540.2 401.1L1540.7 402.2L1541.1 403.1L1541.5 403.7L1542 403.9L1542.5 404L1543 404.1L1543.5 404.2L1544 404.2L1544 419L1543.5 419.1L1543 419.1L1542.5 419.2L1542 419.2L1541.5 419.3L1541.1 419.4L1540.7 419.4L1540.2 419.4L1539.8 419.5L1539.4 419.5L1538.9 419.6L1538.5 419.7L1538 419.7L1537.5 419.8L1537 419.9L1536.5 420L1536.1 420.1L1535.6 420.2L1535.1 420.3L1534.6 420.5L1534.1 420.6L1533.6 420.7L1533.2 420.9L1532.7 421L1532.2 421.1L1531.7 421.2L1531.2 421.3L1530.7 421.4L1530.2 421.6L1529.7 421.7L1529.2 421.8L1528.7 421.9L1528.2 422L1527.8 422.1L1527.3 422.2L1526.8 422.3L1526.3 422.4L1525.8 422.6L1525.3 422.7L1524.8 422.9L1524.3 423L1523.8 423.2L1523.3 423.4L1522.8 423.6L1522.4 423.8L1521.9 424.1L1521.4 424.4L1521 424.7L1520.5 425L1520 425.3L1519.5 425.7L1519 426.1L1518.6 426.6L1518.1 427.2L1517.6 427.9L1517.2 428.9L1516.7 430.3L1516.2 443.3L1515.7 432.4L1515.3 431.3L1514.8 430.5L1514.3 429.9L1513.9 429.4L1513.4 429L1513 428.6L1512.5 428.3L1512 428L1511.6 427.8L1511.1 427.5L1510.6 427.1L1510.1 426.6L1509.6 426L1509.2 425.4L1508.7 424.7L1508.2 424L1507.7 423.2L1507.2 422.3L1506.7 421.4L1506.2 420.5L1505.8 419.6L1505.3 418.6L1504.8 417.7L1504.3 416.7L1503.8 415.7L1503.3 414.8L1502.8 413.8L1502.3 412.9L1501.8 412L1501.3 411.1L1500.8 410.3L1500.3 409.5L1499.8 408.8L1499.3 408.2L1498.8 407.7L1498.3 407.2L1497.8 406.8L1497.3 406.5L1496.8 406.4L1496.3 406.3L1495.8 406.3L1495.3 406.4L1494.8 406.5L1494.3 406.6L1493.8 406.8L1493.3 407L1492.8 407.3L1492.3 407.6L1491.8 407.9L1491.3 408.3L1490.8 408.8L1490.3 399.1L1489.9 398.1L1489.5 397.3L1489 396.8L1488.5 396.3L1488.1 395.7L1487.6 395.2L1487.1 394.7L1486.6 394.3L1486.2 393.9L1485.7 393.6L1485.2 393.3L1484.7 393.1L1484.2 392.9L1483.7 392.7L1483.3 392.5L1482.8 392.3L1482.3 392.2L1481.8 392L1481.3 391.9L1480.8 391.8L1480.3 391.6L1479.8 391.5L1479.3 391.4L1478.9 391.3L1478.4 391.2L1477.9 391L1477.4 390.9L1476.9 390.8L1476.4 390.6L1475.9 390.5L1475.4 390.4L1475 390.2L1474.5 390L1474 389.8L1473.5 389.6L1473 389.4L1472.5 389.1L1472 388.8L1471.5 388.4L1471 388L1470.5 387.5L1470 387.1L1469.5 386.6L1469 386.1L1468.5 385.6L1468 385.1L1467.5 384.5L1467 384L1466.5 383.6L1466 383.1L1465.5 382.7L1465 382.3L1464.5 381.9L1464 381.6L1463.5 381.4L1463 381.2L1462.5 381.1L1462 381.1L1461.6 381.1L1461.1 381.2L1460.6 381.4L1460.2 381.6L1459.7 381.9L1459.3 382.1L1458.8 382.5L1458.3 382.8L1457.9 383.2L1457.4 383.7L1456.9 384.2L1456.5 384.7L1456 385.2L1455.5 385.7L1455 386.3L1454.5 386.9L1454.1 387.5L1453.6 388.2L1453.1 388.8L1452.7 389.5L1452.2 390.2L1451.7 390.8L1451.2 391.5L1450.8 392.2L1450.3 392.9L1449.8 393.6L1449.3 394.4L1448.8 395.2L1448.4 396.3L1447.9 397.4L1447.4 398.7L1446.9 400.4L1446.5 402.6L1446 405.9L1445.5 435.8L1445.1 419.4L1444.7 417.7L1444.2 416.4L1443.8 415.5L1443.4 414.8L1442.9 414.4L1442.4 414L1441.9 413.6L1441.4 413.3L1440.9 413L1440.4 412.8L1439.9 412.5L1439.4 412.3L1439 412.1L1438.5 412L1438 411.8L1437.5 411.6L1437 411.4L1436.5 411.2L1436 411L1435.5 410.8L1435 410.6L1434.5 410.4L1434 410.1L1433.5 409.9L1433 409.7L1432.6 409.5L1432.1 409.2L1431.6 409L1431.1 408.8L1430.6 408.6L1430.1 408.4L1429.6 408.2L1429.1 408L1428.7 407.8L1428.2 407.5L1427.7 407.3L1427.2 407.1L1426.7 406.8L1426.2 406.6L1425.7 406.3L1425.2 406.1L1424.7 405.8L1424.3 405.5L1423.8 405.2L1423.3 404.9L1422.8 404.5L1422.3 404.2L1421.8 403.8L1421.3 403.2L1420.9 402.7L1420.4 402.1L1419.9 401.5L1419.4 400.9L1418.9 400.4L1418.4 399.9L1418 399.5L1417.5 399.3L1417 399.2L1416.5 399.3L1416.1 399.4L1415.6 399.6L1415.2 399.7L1414.7 399.9L1414.3 400Z" fill="#ff0000"/>
<path d="M1413.8 400l0.5 -0.1 0.4 -0 0.5 -0.6 0.4 0.3 0.5 -1.2 0.4 0.9 0.5 -1.8 0.5 1.7 0.5 -1.9 0.4 2.4 0.5 -2.9 0.5 4.2 0.5 -4.5 0.5 5.4 0.5 -6.1 0.4 8 0.5 -7.6 0.5 9.2 0.5 -9.6 0.5 9.6 0.5 -10 0.5 9.7 0.4 -9.5 0.5 11.4 0.5 -12.8 0.5 12.9 0.5 -12.3 0.5 12.5 0.5 -14.1 0.5 12.6 0.5 -11.3 0.4 11.9 0.5 -12.3 0.5 12.4 0.5 -12.9 0.5 16.1 0.5 -16.1 0.5 14.3 0.5 -14.7 0.4 15.8 0.5 -14.3 0.5 14.1 0.5 -14.7 0.5 13.8 0.5 -15.5 0.5 20.6 0.5 -22 0.5 19.7 0.5 -19 0.5 17.7 0.5 -17.1 0.5 16.9 0.4 -18.5 0.5 20.2 0.5 -18.5 0.5 18.6 0.5 -18.3 0.5 20.4 0.5 -19.7 0.5 18 0.5 -21.6 0.4 23.4 0.4 -21.5 0.5 22.5 0.4 -26.5 0.4 49.3 0.5 -51.2 0.5 16.5 0.4 -19.5 0.5 14.6 0.5 -15 0.5 14.3 0.4 -15.6 0.5 11.7 0.5 -13.6 0.5 13.8 0.5 -16.3 0.4 14 0.5 -14.5 0.5 12.1 0.5 -11.6 0.4 10.9 0.5 -12.7 0.5 12.1 0.5 -15.1 0.4 13.5 0.5 -13.8 0.5 10.7 0.5 -13.4 0.4 12.7 0.5 -51.6 0.5 50.6 0.4 -15 0.5 15 0.5 -10.8 0.4 10.7 0.5 -9.4 0.4 10.6 0.5 -8.2 0.5 7.5 0.4 -7 0.5 6.5 0.5 -5.6 0.5 6.9 0.5 -6.3 0.5 6.3 0.5 -5.2 0.5 5.7 0.5 -4.9 0.5 6.3 0.5 -5.3 0.5 5.9 0.5 -5.7 0.5 6.8 0.5 -5.1 0.5 6.1 0.5 -5.8 0.5 6.7 0.5 -7 0.5 7.8 0.5 -7.1 0.5 8.7 0.5 -9.7 0.5 8.9 0.5 -7.9 0.5 7.9 0.5 -7.3 0.4 8.3 0.5 -8.3 0.5 8 0.5 -9.9 0.5 10.5 0.5 -10.3 0.5 11.6 0.5 -10 0.4 9 0.5 -10 0.5 10 0.5 -9.2 0.5 9.4 0.5 -11 0.5 11 0.5 -10.1 0.5 12.2 0.4 -12.1 0.5 11.9 0.5 -13.8 0.5 14.6 0.5 -13.3 0.5 13.3 0.4 -16 0.5 16.5 0.5 -13.8 0.5 13.4 0.4 -14.1 0.5 14.2 0.5 -14.7 0.4 18.9 0.4 -18.7 0.5 30.9 0.5 -28.9 0.5 23.2 0.5 -24.8 0.5 24.2 0.5 -24 0.5 22.8 0.5 -26.7 0.5 27.6 0.5 -25.7 0.5 25.2 0.5 -23.2 0.5 25.3 0.5 -25.2 0.5 24.8 0.5 -28.8 0.5 30.3 0.5 -31.9 0.5 33.5 0.5 -41.5 0.5 39.7 0.5 -37.6 0.5 37.8 0.5 -46.7 0.5 51.6 0.5 -50.8 0.5 49.9 0.5 -130.8 0.5 130.9 0.5 -50.7 0.5 49.1 0.4 -46 0.5 52.5 0.5 -38.2 0.5 42.4 0.5 -42.5 0.5 41 0.5 -38.3 0.4 39.6 0.5 -33 0.5 31.1 0.5 -31.2 0.5 35.7 0.4 -32 0.5 34.8 0.5 -37.1 0.4 35.6 0.5 -34.9 0.4 32.8 0.5 -28.3 0.5 35.5 0.4 -33.7 0.5 50.1 0.5 -52.3 0.5 34.7 0.4 -34.2 0.5 29.8 0.5 -28.9 0.5 31.5 0.4 -30.5 0.5 26.1 0.5 -23 0.5 24 0.4 -24.7 0.5 22.4 0.5 -24.8 0.4 24.9 0.5 -21.9 0.5 23.2 0.5 -19.8 0.5 17.6 0.5 -21.4 0.5 24.6 0.5 -20.7 0.5 18.5 0.5 -18 0.5 17.6 0.4 -18.1 0.5 17 0.5 -15.9 0.5 17.8 0.5 -18.8 0.5 19.4 0.5 -18.1 0.5 15.5 0.5 -15.3 0.5 17.7 0.5 -17.3 0.4 16.2 0.5 -15.6 0.5 16.4 0.5 -17.3 0.5 15.3 0.5 -14 0.4 14.5 0.5 -16 0.5 15.6 0.5 -14.5 0.5 14.9 0.4 -18.6 0.5 -16.7 0.4 19.3 0.4 13.4 0.5 -12.5 0.4 13.6 0.4 -12.6 0.5 14.2 0.5 -14.1 0.5 13.3 0.5 -12.1 0.5 13.7"/>
</g>
<g stroke="#00ff00" stroke-width="2.7">
<path d="M1244 481.7l1.5 0 1.5 0 1.5 0 1.5 0 1.5 0 1.5 0 1.5 0 1.5 0 1.5 0 1.5 0 1.5 0 1.5 0 1.4 0 1.5 0 1.5 0 1.5 0 1.5 0 1.5 0 1.5 0 1.5 0 1.5 0 1.5 0 1.5 0 1.5 0 1.5 0 1.5 0 1.5 0 1.5 0 1.5 0 1.5 0 1.5 0 1.5 0 1.5 0 1.5 0 1.5 0 1.5 0 1.4 0 1.5 0 1.5 0 1.5 0 1.5 0 1.5 0 1.5 0 1.5 0 1.5 0 1.5 0 1.5 0 1.5 0 1.5 0 1.5 0 1.5 0 1.5 0 1.5 0 1.5 0 1.5 0 1.5 0 1.5 0 1.5 0 1.5 0 1.5 0 1.4 0 1.5 0 1.5 0 1.5 0 1.5 0 1.5 0 1.5 0 1.5 0 1.5 0 1.5 0 1.5 0 1.5 0 1.5 0 1.5 0 1.5 0 1.5 0 1.5 0 1.5 0 1.5 0 1.5 0 1.5 0 1.5 0 1.5 0 1.5 0 1.4 0 1.5 0 1.5 0 1.5 0 1.5 0 1.5 0 1.5 0 1.5 0 1.5 0 1.5 0 1.5 0 1.5 0 1.5 0 1.5 0 1.5 0 1.5 0 1.5 0 1.5 0 1.5 0 1.5 0 1.5 0 1.5 0 1.5 0 1.5 0 1.4 0 1.5 0 1.5 0 1.5 0 1.5 0 1.5 0 1.5 0 1.5 0 1.5 0 1.5 0 1.5 0 1.5 0 1.5 0" stroke-dasharray="18 10.3"/>
<path d="M1425 481.7l0.5 -0 0.5 0 0.5 -0 0.5 0.1 0.5 -0.1 0.5 0.3 0.5 -0.4 0.5 0.6 0.5 -0.6 0.5 0.8" stroke-dasharray="9 8"/>
<path d="M1430.5 481.5L1430.9 481.3L1431.4 481.1L1431.9 480.8L1432.4 480.4L1432.8 480L1433.3 479.6L1433.8 479.2L1434.3 478.6L1434.7 477.9L1435.2 477.3L1435.7 476.8L1436.2 476.3L1436.6 475.9L1437.1 475.6L1437.6 475.3L1438.1 475L1438.6 474.8L1439.1 474.6L1439.6 474.4L1440.1 474.2L1440.6 474L1441.1 473.8L1441.6 473.7L1442.1 473.5L1442.6 473.4L1443.1 473.2L1443.5 473.1L1444 472.9L1444.5 472.8L1444.9 472.6L1445.4 472.4L1445.8 472.2L1446.3 472L1446.8 471.8L1447.2 471.5L1447.7 471.2L1448.2 470.9L1448.7 470.6L1449.1 470.2L1449.6 469.8L1450.1 469.1L1450.6 468.4L1451.1 467.6L1451.5 466.8L1452 465.9L1452.5 465L1452.5 465L1452 466.7L1451.5 468.5L1451.1 470.6L1450.6 472.7L1450.1 474.7L1449.6 476.8L1449.1 478.8L1448.7 480.6L1448.2 482L1447.7 483.1L1447.2 483.7L1446.8 484.1L1446.3 484.6L1445.8 485.2L1445.4 485.9L1444.9 486.8L1444.5 487.7L1444 488.9L1443.5 490.5L1443.1 492.8L1442.6 514.3L1442.1 498.7L1441.6 497L1441.1 495.8L1440.6 494.9L1440.1 494.2L1439.6 493.7L1439.1 493.1L1438.6 492.7L1438.1 492.3L1437.6 492L1437.1 491.6L1436.6 491L1436.2 490.4L1435.7 489.7L1435.2 488.9L1434.7 488.1L1434.3 487.2L1433.8 486.3L1433.3 485.7L1432.8 485L1432.4 484.4L1431.9 483.8L1431.4 483.3L1430.9 482.9L1430.5 482.6Z" fill="#00ff00"/>
<path d="M1430 482.4l0.5 -1 0.4 1.6 0.5 -1.9 0.5 2.8 0.5 -3.2 0.4 4.5 0.5 -6.1 0.5 7.4 0.5 -7.8 0.4 8.5 0.5 -9.3 0.5 10.7 0.5 -10.7 0.4 10.8 0.5 -12.7 0.5 14.9 0.5 -14.4 0.5 16.4 0.5 -18.7 0.5 17.2 0.5 -15 0.5 18.5 0.5 -17.9 0.5 16.4 0.5 -16.9 0.5 39 0.5 -38.5 0.4 12.3 0.5 -15.3 0.5 11.8 0.4 -12.7 0.5 12.2 0.4 -12.6 0.5 10.4 0.5 -10.3 0.4 10.1 0.5 -10.5 0.5 9.5 0.5 -10.3 0.4 7.2 0.5 -8.8 0.5 4.6 0.5 -6.1 0.5 2 0.4 -3.6 0.5 -0.2 0.5 -1.7"/>
<path d="M1452.5 465l0.3 -0.8 0.3 -0.8 0.3 -0.9 0.3 -0.9 0.2 -1.1 0.3 -1.1 0.3 -1.2 0.3 -1.3 0.3 -1.5 0.3 -1.6 0.3 -1.9 0.3 -2.3 0.2 -2.6 0.3 -3.4 0.3 -4.5 0.3 -7.1 0.3 -16.1 0.2 13.2 0.3 6.6 0.2 4.1 0.3 3 0.2 2.5 0.2 2 0.3 1.8 0.2 1.5 0.3 1.4 0.2 1.2 0.2 1.2 0.3 1.1 0.2 0.9 0.3 0.9 0.2 0.7" stroke-dasharray="18 10.3"/>
<path d="M1461.5 458.9L1461.9 459.7L1462.3 460.4L1462.8 461L1463.2 461.6L1463.7 462L1464.1 462.4L1464.6 462.6L1465.1 462.8L1465.6 463L1466.1 463.2L1466.6 463.4L1467 463.5L1467.5 463.7L1468 463.8L1468.5 463.9L1469 464L1469.5 464.2L1470 464.2L1470.5 464.3L1470.9 464.4L1471.4 464.5L1471.9 464.6L1472.4 464.6L1472.9 464.7L1473.4 464.7L1473.9 464.8L1474.4 464.8L1474.9 464.9L1475.3 464.9L1475.8 464.9L1476.3 464.9L1476.8 464.9L1477.3 464.9L1477.8 464.9L1478.3 464.9L1478.8 464.9L1479.3 464.9L1479.7 464.9L1480.2 464.8L1480.7 464.8L1481.2 464.7L1481.7 464.7L1482.2 464.6L1482.7 464.5L1483.2 464.5L1483.7 464.4L1484.1 464.3L1484.6 464.2L1485.1 464.1L1485.6 464L1486.1 463.9L1486.6 463.8L1487.1 463.7L1487.6 463.5L1488 463.4L1488.5 463.3L1489 463.1L1489.5 463L1490 462.9L1490.5 462.7L1491 462.5L1491.5 462.2L1492 461.9L1492.5 461.6L1493 461.2L1493.5 460.7L1494 460.3L1494.4 459.8L1494.9 459.2L1495.4 458.6L1495.9 458L1496.4 457.3L1496.9 456.7L1497.4 455.9L1497.9 455.2L1498.4 454.4L1498.9 453.4L1499.4 452.1L1499.9 450.5L1500.4 448.8L1500.9 447.1L1501.3 445.1L1501.8 442.8L1502.3 440.2L1502.8 436.8L1503.3 432.4L1503.8 425.9L1504.3 366.3L1504.8 436.6L1505.2 444.2L1505.7 449.4L1506.2 453.3L1506.7 456.5L1507.1 459.1L1507.6 461.5L1508.1 463.6L1508.5 465.8L1509 467L1509.5 467.6L1510 468.2L1510.4 468.7L1510.9 469.2L1511.4 469.6L1511.9 470L1512.4 470.4L1512.8 470.7L1513.3 471.1L1513.8 471.4L1514.3 471.6L1514.8 471.9L1515.2 472.1L1515.7 472.4L1516.2 472.6L1516.7 472.8L1517.2 473L1517.6 473.1L1518.1 473.3L1518.6 473.5L1519 473.6L1519.5 473.8L1520 474L1520.5 474.1L1521 474.3L1521.4 474.5L1521.9 474.7L1522.4 474.9L1522.8 475.1L1523.3 475.3L1523.8 475.5L1524.3 475.8L1524.8 476.1L1525.3 476.3L1525.8 476.5L1526.3 476.8L1526.8 477L1527.3 477.2L1527.8 477.5L1528.2 477.7L1528.7 477.9L1529.2 478.2L1529.7 478.4L1530.2 478.7L1530.7 478.9L1531.2 479.2L1531.7 479.5L1532.2 479.8L1532.7 480.1L1533.2 480.5L1533.6 480.9L1534.1 481.4L1534.6 481.8L1535.1 482.3L1535.6 482.7L1536.1 483L1536.5 483.3L1537 483.5L1537.5 483.6L1538 483.1L1538.5 482.3L1538.9 481.3L1539.4 472L1539.8 484.1L1540.2 485.4L1540.7 486.3L1541.1 487.1L1541.5 487.6L1542 487.8L1542.5 487.9L1543 488.1L1543.5 488.1L1544 488.2L1544 500.1L1543.5 500.1L1543 500.2L1542.5 500.3L1542 500.4L1541.5 500.4L1541.1 500.5L1540.7 500.6L1540.2 500.6L1539.8 500.7L1539.4 500.7L1538.9 500.8L1538.5 500.8L1538 500.9L1537.5 500.9L1537 501L1536.5 501.1L1536.1 501.2L1535.6 501.3L1535.1 501.4L1534.6 501.6L1534.1 501.7L1533.6 501.8L1533.2 501.9L1532.7 502L1532.2 502.1L1531.7 502.3L1531.2 502.4L1530.7 502.5L1530.2 502.6L1529.7 502.7L1529.2 502.8L1528.7 502.9L1528.2 503L1527.8 503.1L1527.3 503.2L1526.8 503.4L1526.3 503.5L1525.8 503.6L1525.3 503.8L1524.8 503.9L1524.3 504.1L1523.8 504.2L1523.3 504.4L1522.8 504.7L1522.4 504.9L1521.9 505.2L1521.4 505.4L1521 505.7L1520.5 506.1L1520 506.4L1519.5 506.8L1519 507.2L1518.6 507.7L1518.1 508.3L1517.6 509.1L1517.2 510.1L1516.7 511.5L1516.2 524.8L1515.7 511.4L1515.2 509.9L1514.8 508.9L1514.3 508.2L1513.8 507.6L1513.3 507L1512.8 506.6L1512.4 506.2L1511.9 505.9L1511.4 505.7L1510.9 505.4L1510.4 505.2L1510 504.9L1509.5 504.6L1509 504.2L1508.5 503.8L1508.1 503.2L1507.6 502.4L1507.1 501.6L1506.7 500.7L1506.2 499.7L1505.7 498.6L1505.2 497.5L1504.8 496.3L1504.3 495.1L1503.8 493.8L1503.3 492.6L1502.8 491.3L1502.3 490.1L1501.8 488.9L1501.3 487.8L1500.9 486.7L1500.4 485.7L1499.9 484.9L1499.4 484.1L1498.9 483.5L1498.4 483.1L1497.9 482.7L1497.4 482.3L1496.9 482L1496.4 481.7L1495.9 481.4L1495.4 481.2L1494.9 480.9L1494.4 480.7L1494 480.4L1493.5 480.2L1493 480L1492.5 479.8L1492 479.6L1491.5 479.4L1491 479.2L1490.5 479L1490 478.9L1489.5 478.7L1489 478.5L1488.5 478.3L1488 478.1L1487.6 478L1487.1 477.8L1486.6 477.6L1486.1 477.5L1485.6 477.3L1485.1 477.2L1484.6 477L1484.1 476.9L1483.7 476.7L1483.2 476.6L1482.7 476.5L1482.2 476.3L1481.7 476.2L1481.2 476L1480.7 475.9L1480.2 475.7L1479.7 475.5L1479.3 475.4L1478.8 475.2L1478.3 475L1477.8 474.8L1477.3 474.6L1476.8 474.5L1476.3 474.3L1475.8 474.1L1475.3 473.9L1474.9 473.8L1474.4 473.6L1473.9 473.5L1473.4 473.3L1472.9 473.1L1472.4 473L1471.9 472.8L1471.4 472.6L1470.9 472.4L1470.5 472.2L1470 472L1469.5 471.8L1469 471.5L1468.5 471.2L1468 471L1467.5 470.7L1467 470.4L1466.6 470L1466.1 469.7L1465.6 469.3L1465.1 468.9L1464.6 468.5L1464.1 467.9L1463.7 467L1463.2 465.8L1462.8 464.4L1462.3 462.8L1461.9 461.2L1461.5 459.6Z" fill="#00ff00"/>
<path d="M1461 458l0.5 1.5 0.4 0.2 0.4 3.1 0.5 -1.6 0.5 4.4 0.4 -4 0.4 6.7 0.5 -5.5 0.5 6.3 0.5 -6.5 0.5 8.2 0.5 -7.8 0.4 7.5 0.5 -6.6 0.5 7.7 0.5 -7.4 0.5 6.9 0.5 -6.8 0.5 7.8 0.5 -7.9 0.4 8.4 0.5 -8.2 0.5 8.8 0.5 -7.9 0.5 7.3 0.5 -7.2 0.5 7.7 0.5 -8.1 0.5 9.1 0.4 -9.6 0.5 10.4 0.5 -9.9 0.5 9.9 0.5 -9.7 0.5 9.2 0.5 -9.4 0.5 9 0.5 -8.5 0.4 8.3 0.5 -8.5 0.5 9 0.5 -8.6 0.5 10.4 0.5 -11.9 0.5 13 0.5 -12.9 0.5 11.8 0.4 -10.6 0.5 10.8 0.5 -10.8 0.5 11 0.5 -11 0.5 10.1 0.5 -11.4 0.5 13.3 0.4 -13.7 0.5 12.4 0.5 -10.9 0.5 12.2 0.5 -13.1 0.5 13.6 0.5 -15.3 0.5 14.3 0.5 -13.9 0.5 14.3 0.5 -12.4 0.5 11.9 0.5 -13.8 0.4 14.4 0.5 -15.8 0.5 19.2 0.5 -22.3 0.5 21.2 0.5 -21.7 0.5 18.8 0.5 -17.5 0.5 20.2 0.5 -22.6 0.5 26 0.5 -31.7 0.5 34.3 0.5 -38.6 0.4 37.8 0.5 -40.7 0.5 41.3 0.5 -44.8 0.5 46.2 0.5 -54.4 0.5 -67.3 0.5 80.1 0.4 46.6 0.5 -32.7 0.5 30.9 0.5 -27.3 0.4 30.1 0.5 -26.9 0.5 30.6 0.4 -26.3 0.5 32.7 0.5 -34.4 0.5 34.7 0.4 -33.9 0.5 32.8 0.5 -27.8 0.5 29.4 0.5 -28.1 0.4 25.5 0.5 -24.7 0.5 28.6 0.5 -30.6 0.5 28.6 0.4 -29.7 0.5 32.7 0.5 20 0.5 -22.3 0.5 -29 0.4 30.9 0.5 -26.4 0.5 24.7 0.5 -25 0.4 24 0.5 -24.1 0.5 22.5 0.5 -24.5 0.4 27.5 0.5 -26.6 0.5 22.1 0.4 -19.7 0.5 18.8 0.5 -17.9 0.5 21.5 0.5 -24.6 0.5 24.3 0.5 -22.1 0.5 21.9 0.5 -23.6 0.5 22.8 0.5 -18.9 0.4 16.1 0.5 -19.1 0.5 22.7 0.5 -20.8 0.5 18.5 0.5 -18.9 0.5 19.2 0.5 -17.7 0.5 18 0.5 -19.1 0.5 19.9 0.4 -19 0.5 17.1 0.5 -16.5 0.5 17.3 0.5 -15.4 0.5 14.4 0.4 -14.1 0.5 14.7 0.5 -12.6 0.5 12 0.5 -14.7 0.4 14.9 0.5 -28.4 0.4 28.7 0.4 -14.3 0.5 16.2 0.4 -14.2 0.4 13.5 0.5 -12.6 0.5 11.5 0.5 -9.7 0.5 9.8 0.5 -10.7"/>
</g>
<g stroke="#ff00ff" stroke-width="2.7">
<path d="M1244 508.7l1.5 0 1.5 0 1.5 0 1.5 0 1.5 0 1.5 0 1.5 0 1.5 0 1.5 0 1.5 0 1.5 0 1.5 0 1.5 0 1.5 0 1.5 0 1.5 0 1.5 0 1.5 0 1.5 0 1.5 0 1.5 0 1.5 0 1.5 0 1.5 0 1.5 0 1.5 0 1.5 0 1.5 0 1.5 0 1.5 0 1.5 0 1.5 0 1.5 0 1.5 0 1.5 0 1.5 0 1.5 0 1.5 0 1.5 0 1.5 0 1.5 0 1.5 0 1.5 0 1.5 0 1.5 0 1.5 0 1.5 0 1.5 0 1.5 0 1.5 0 1.5 0 1.5 0 1.5 0 1.5 0 1.5 0 1.5 0 1.5 0 1.5 0 1.5 0 1.5 0 1.5 0 1.5 0 1.5 0 1.5 0 1.5 0 1.5 0 1.5 0 1.5 0" stroke-dasharray="18 10.3"/>
<path d="M1346 508.7l0.5 -0 0.5 -0 0.5 -0.1 0.5 -0 0.5 -0.2 0.5 0.1 0.5 -0.3 0.5 0.1 0.5 -0.4 0.5 0.3 0.5 -0.5 0.5 0.2 0.5 -0.6 0.5 0.5 0.5 -0.8 0.5 0.6 0.5 -0.8 0.5 0.5 0.5 -0.9 0.5 0.8 0.5 -1 0.5 0.8 0.5 -1.1 0.5 1 0.5 -1.3 0.5 0.9 0.5 -1.3 0.5 1.1 0.5 -1.4 0.5 1.2 0.5 -1.4 0.5 1.2 0.5 -1.5 0.5 1.3 0.5 -1.8 0.5 1.5 0.5 -1.9 0.5 1.6 0.5 -1.7 0.5 1.5 0.5 -1.9 0.5 1.7 0.5 -1.9 0.5 1.8 0.5 -2.2 0.5 1.9 0.5 -2 0.5 1.4 0.5 -1.6 0.5 1.5 0.5 -1.7 0.5 1.3 0.5 -1.5 0.5 1.1 0.5 -1.4 0.5 1.1 0.5 -1.3 0.5 1 0.5 -1.2 0.5 1 0.5 -1.4 0.5 1.1 0.5 -1.1 0.5 0.8 0.5 -1 0.5 0.8 0.5 -1.3 0.5 1.1" stroke-dasharray="9 8"/>
<path d="M1380.5 499.7L1381 499.6L1381.5 499.5L1382 499.3L1382.5 499.2L1382.9 499L1383.4 498.9L1383.9 498.8L1384.4 498.6L1384.9 498.5L1385.4 498.3L1385.9 498.2L1386.4 498L1386.9 497.8L1387.4 497.7L1387.9 497.5L1388.3 497.3L1388.8 497.2L1389.3 497L1389.8 496.8L1390.3 496.7L1390.8 496.5L1391.3 496.3L1391.8 496.1L1392.3 495.9L1392.8 495.8L1393.2 495.6L1393.7 495.4L1394.2 495.2L1394.7 495L1395.2 494.8L1395.7 494.6L1396.2 494.4L1396.7 494.2L1397.2 494L1397.7 493.8L1398.2 493.6L1398.6 493.3L1399.1 493.1L1399.6 492.9L1400.1 492.7L1400.6 492.5L1401.1 492.2L1401.6 492L1402.1 491.7L1402.6 491.5L1403.1 491.2L1403.5 491L1404 490.7L1404.5 490.4L1405 490.1L1405.5 489.8L1406 489.5L1406.5 489.2L1407 488.9L1407.4 488.5L1407.9 488.2L1408.4 487.8L1408.9 487.5L1409.4 487.1L1409.9 486.8L1410.4 486.4L1410.9 486.1L1411.4 485.7L1411.8 485.3L1412.3 485L1412.8 484.6L1413.3 484.3L1413.8 483.9L1414.3 483.6L1414.8 483.3L1415.3 482.9L1415.8 482.6L1416.3 482.2L1416.8 481.9L1417.3 481.6L1417.8 481.2L1418.3 480.9L1418.8 480.5L1419.3 480.1L1419.8 479.8L1420.3 479.4L1420.8 479L1421.3 478.5L1421.8 478.1L1422.3 477.7L1422.8 477.2L1423.3 476.7L1423.8 476.2L1424.3 475.7L1424.8 475.2L1425.3 474.6L1425.8 474.1L1426.3 473.5L1426.7 472.9L1427.2 472.3L1427.7 471.6L1428.2 470.9L1428.7 470.2L1429.2 469.5L1429.7 468.7L1430.2 467.9L1430.7 467.1L1431.1 466.3L1431.5 465.4L1432 464.4L1432.4 463.4L1432.8 462.3L1433.3 461L1433.8 459.6L1434.2 458.2L1434.7 456.8L1435.2 455.4L1435.7 454L1436.1 452.7L1436.6 451.4L1437.1 450.2L1437.6 449.1L1438 448L1438.5 446.7L1438.9 445.2L1439.4 443.6L1439.9 441.6L1440.3 439.2L1440.8 435.9L1441.2 431.2L1441.7 387.5L1442.2 435.8L1442.7 441.1L1443.1 444.6L1443.6 447.3L1444.1 449.5L1444.5 451.4L1445 453.1L1445.5 454.3L1446 455.3L1446.5 456.2L1447 457.1L1447.5 458L1448 458.8L1448.5 459.6L1448.9 460.3L1449.4 461L1449.9 461.5L1450.4 462L1450.9 462.3L1451.4 462.6L1451.9 462.6L1452.4 462.6L1452.9 462.6L1453.4 462.5L1453.9 462.5L1454.4 462.4L1454.9 462.3L1455.4 462.2L1455.9 462.1L1456.3 461.9L1456.8 461.8L1457.3 461.6L1457.8 461.5L1458.3 461.3L1458.8 461.1L1459.3 460.9L1459.8 460.7L1460.3 460.5L1460.8 460.3L1461.3 460.1L1461.8 459.8L1462.3 459.5L1462.8 459.1L1463.3 458.7L1463.7 458.2L1464.2 457.7L1464.7 457.1L1465.2 456.4L1465.7 455.7L1466.2 454.8L1466.7 453.9L1466.7 458.2L1466.2 459.4L1465.7 460.4L1465.2 461.3L1464.7 462.2L1464.2 462.9L1463.7 463.6L1463.3 464.2L1462.8 464.7L1462.3 465.1L1461.8 465.5L1461.3 465.9L1460.8 466.1L1460.3 466.4L1459.8 466.6L1459.3 466.8L1458.8 467L1458.3 467.2L1457.8 467.3L1457.3 467.5L1456.8 467.7L1456.3 467.8L1455.9 467.9L1455.4 468.1L1454.9 468.2L1454.4 468.3L1453.9 468.3L1453.4 468.4L1452.9 468.4L1452.4 468.5L1451.9 468.5L1451.4 468.4L1450.9 468.1L1450.4 467.7L1449.9 467.1L1449.4 466.5L1448.9 465.8L1448.5 465L1448 464.3L1447.5 463.6L1447 463L1446.5 462.5L1446 462.1L1445.5 461.9L1445 462L1444.5 462.1L1444.1 462.3L1443.6 462.6L1443.1 463L1442.7 463.4L1442.2 463.9L1441.7 464.4L1441.2 464.9L1440.8 465.5L1440.3 466.1L1439.9 466.7L1439.4 467.4L1438.9 468L1438.5 468.6L1438 469.2L1437.6 469.9L1437.1 470.4L1436.6 471.1L1436.1 471.7L1435.7 472.5L1435.2 473.3L1434.7 474.3L1434.2 475.5L1433.8 477.1L1433.3 479.6L1432.8 501.8L1432.4 492.2L1432 491.1L1431.5 490.4L1431.1 489.8L1430.7 489.4L1430.2 489.5L1429.7 489.5L1429.2 489.6L1428.7 489.7L1428.2 489.8L1427.7 489.9L1427.2 490L1426.7 490.2L1426.3 490.3L1425.8 490.5L1425.3 490.6L1424.8 490.8L1424.3 491L1423.8 491.1L1423.3 491.3L1422.8 491.4L1422.3 491.6L1421.8 491.7L1421.3 491.8L1420.8 491.9L1420.3 492L1419.8 492.2L1419.3 492.3L1418.8 492.4L1418.3 492.5L1417.8 492.6L1417.3 492.7L1416.8 492.9L1416.3 493L1415.8 493.1L1415.3 493.2L1414.8 493.4L1414.3 493.5L1413.8 493.6L1413.3 493.8L1412.8 493.9L1412.3 494.1L1411.8 494.3L1411.4 494.4L1410.9 494.6L1410.4 494.8L1409.9 495L1409.4 495.2L1408.9 495.4L1408.4 495.6L1407.9 495.7L1407.4 495.9L1407 496.1L1406.5 496.3L1406 496.5L1405.5 496.7L1405 496.9L1404.5 497.1L1404 497.2L1403.5 497.4L1403.1 497.6L1402.6 497.7L1402.1 497.8L1401.6 498L1401.1 498.1L1400.6 498.2L1400.1 498.3L1399.6 498.4L1399.1 498.5L1398.6 498.5L1398.2 498.6L1397.7 498.7L1397.2 498.8L1396.7 498.9L1396.2 498.9L1395.7 499L1395.2 499.1L1394.7 499.1L1394.2 499.2L1393.7 499.3L1393.2 499.3L1392.8 499.4L1392.3 499.5L1391.8 499.5L1391.3 499.6L1390.8 499.6L1390.3 499.7L1389.8 499.7L1389.3 499.8L1388.8 499.9L1388.3 499.9L1387.9 500L1387.4 500L1386.9 500.1L1386.4 500.1L1385.9 500.2L1385.4 500.3L1384.9 500.3L1384.4 500.4L1383.9 500.4L1383.4 500.5L1382.9 500.6L1382.5 500.7L1382 500.7L1381.5 500.8L1381 500.9L1380.5 501Z" fill="#ff00ff"/>
<path d="M1380 501l0.5 -1.3 0.5 1.1 0.5 -1.4 0.5 1.3 0.5 -1.5 0.4 1.4 0.5 -1.7 0.5 1.4 0.5 -1.6 0.5 1.7 0.5 -2 0.5 1.8 0.5 -2 0.5 1.9 0.5 -2.5 0.5 2.6 0.4 -3 0.5 2.7 0.5 -3 0.5 3.1 0.5 -3.4 0.5 2.8 0.5 -3.2 0.5 3.1 0.5 -3.2 0.5 3.4 0.4 -4.1 0.5 4 0.5 -4.3 0.5 4 0.5 -3.9 0.5 3.4 0.5 -3.7 0.5 4.3 0.5 -5.3 0.5 4.7 0.5 -4.9 0.4 5 0.5 -5.4 0.5 5.5 0.5 -6.3 0.5 5.7 0.5 -5.5 0.5 4.9 0.5 -5.7 0.5 5.4 0.5 -5.7 0.4 6.6 0.5 -7.3 0.5 6.4 0.5 -7 0.5 6.5 0.5 -7.2 0.5 6.5 0.5 -6.9 0.4 6.2 0.5 -6.8 0.5 6.8 0.5 -7.3 0.5 7.2 0.5 -8.3 0.5 7.8 0.5 -8.6 0.5 8.4 0.4 -8.6 0.5 7.2 0.5 -7.5 0.5 6.9 0.5 -8 0.5 8.1 0.5 -8.8 0.5 8.9 0.5 -9.1 0.5 8.2 0.5 -9.1 0.5 8.9 0.5 -9.6 0.5 9.7 0.5 -11.9 0.5 11.2 0.5 -10.7 0.5 10.8 0.5 -11 0.5 11.2 0.5 -12.5 0.5 12.9 0.5 -13.6 0.5 13.6 0.5 -14.1 0.5 11.9 0.5 -15.1 0.5 15.5 0.5 -15.9 0.5 16.3 0.4 -16.2 0.5 15.2 0.5 -15 0.5 13.9 0.5 -16.1 0.5 14.9 0.5 -17 0.5 17.4 0.5 -16.1 0.4 16.4 0.4 -18.2 0.5 16.8 0.4 -19.4 0.4 36 0.5 -42.1 0.5 14.3 0.4 -14.4 0.5 11.6 0.5 -16.8 0.5 17.7 0.4 -20.2 0.5 17.1 0.5 -17.2 0.5 16.5 0.4 -21.1 0.5 22.2 0.4 -23.6 0.5 17.4 0.5 -20.5 0.4 21.5 0.5 -24.5 0.4 20 0.5 -74.6 0.5 74.4 0.5 -18.7 0.4 21 0.5 -14.6 0.5 14.2 0.5 -11.1 0.4 10.4 0.5 -7 0.5 7.2 0.5 -5.4 0.5 7.1 0.5 -5.5 0.5 6.3 0.5 -5.5 0.4 6.3 0.5 -4.8 0.5 6.3 0.5 -5 0.5 5.5 0.5 -4.5 0.5 5.1 0.5 -5 0.5 4.9 0.5 -5 0.5 5.6 0.5 -5.6 0.5 5.1 0.5 -6 0.5 6.2 0.4 -6.1 0.5 5.8 0.5 -6.5 0.5 5.6 0.5 -6.2 0.5 6.3 0.5 -6.8 0.5 6 0.5 -6 0.5 5.7 0.5 -5.8 0.5 5.3 0.5 -5.6 0.5 5.2 0.5 -6.6 0.4 5.4 0.5 -6.2 0.5 4.3 0.5 -5.3 0.5 4 0.5 -6.2 0.5 4.1"/>
<path d="M1466.7 458.6l0.2 -3.1 0.2 -0.9 0.2 -1 0.2 -1.1 0.2 -1.3 0.2 -1.2 0.2 -1.3 0.2 -1.4 0.1 -1.6 0.2 -1.8 0.2 -2.1 0.2 -2.3 0.2 -2.9 0.2 -3.5 0.2 -4.7 0.2 -7.7 0.2 -13.3 0.2 15 0.2 8.1 0.2 4.9 0.3 3.7 0.2 3 0.2 2.5 0.2 2.2 0.2 1.9 0.2 1.6 0.3 1.5 0.2 1.3 0.2 1.3 0.2 1.1 0.2 1.1 0.2 1 0.3 1 0.2 0.9 0.2 0.8" stroke-dasharray="18 10.3"/>
<path d="M1474.4 461.9L1474.9 463.5L1475.3 464.9L1475.8 466.3L1476.3 467.7L1476.8 468.9L1477.2 470.1L1477.7 471.3L1478.2 472.4L1478.7 473.4L1479.1 474.5L1479.6 475.5L1480.1 476.4L1480.5 477.4L1481 478.3L1481.5 479.3L1482 480.2L1482.5 481.2L1483 482.1L1483.5 483L1484 483.9L1484.5 484.7L1485 485.6L1485.5 486.4L1486 487.2L1486.5 487.9L1487 488.6L1487.5 489.3L1488 489.9L1488.5 490.6L1489 491.2L1489.5 491.8L1490 492.4L1490.5 493L1491 493.6L1491.5 494.1L1492 494.7L1492.5 495.2L1493 495.7L1493.5 496.1L1494 496.6L1494.4 497.1L1494.9 497.5L1495.4 498L1495.9 498.5L1496.4 498.9L1496.9 499.4L1497.4 499.9L1497.9 500.4L1498.4 500.9L1498.9 501.4L1499.4 501.9L1499.9 502.5L1500.4 503L1500.9 503.6L1501.4 504.2L1501.9 504.8L1502.4 505.3L1502.9 505.9L1503.4 506.4L1503.9 506.9L1504.3 507.4L1504.8 507.9L1505.3 508.3L1505.8 508.7L1506.3 509L1506.8 509.3L1507.3 509.6L1507.8 509.9L1508.3 510.1L1508.8 510.4L1509.2 510.6L1509.7 510.8L1510.2 511L1510.7 511.2L1511.2 511.4L1511.7 511.6L1512.2 511.8L1512.7 511.9L1513.2 512.1L1513.6 512.2L1514.1 512.3L1514.6 512.4L1515.1 512.6L1515.6 512.7L1516.1 512.8L1516.6 512.9L1517.1 513L1517.5 513.2L1518 513.3L1518.5 513.4L1519 513.5L1519.5 513.6L1520 513.8L1520.5 513.9L1521 514L1521.5 514.1L1522 514.3L1522.5 514.4L1523 514.5L1523.5 514.6L1524 514.7L1524.5 514.8L1525 514.9L1525.5 515.1L1526 515.2L1526.5 515.3L1527 515.4L1527.5 515.5L1528 515.6L1528.5 515.7L1529 515.8L1529.5 515.9L1530 516.1L1530.5 516.2L1531 516.3L1531.5 516.4L1532 516.5L1532.5 516.6L1533 516.7L1533.5 516.9L1534 517L1534.5 517.1L1535 517.2L1535.5 517.3L1536 517.5L1536.5 517.6L1537 517.7L1537.5 517.8L1538 517.9L1538.5 518.1L1539 518.2L1539.5 518.3L1540 518.4L1540.5 518.5L1541 518.7L1541.5 518.8L1542 518.9L1542.5 519L1543 519.1L1543.5 519.3L1544 519.4L1544 522.6L1543.5 522.5L1543 522.4L1542.5 522.3L1542 522.3L1541.5 522.2L1541 522.1L1540.5 522L1540 521.9L1539.5 521.8L1539 521.7L1538.5 521.6L1538 521.5L1537.5 521.5L1537 521.4L1536.5 521.3L1536 521.2L1535.5 521.1L1535 521L1534.5 520.9L1534 520.8L1533.5 520.7L1533 520.7L1532.5 520.6L1532 520.5L1531.5 520.4L1531 520.3L1530.5 520.2L1530 520.1L1529.5 520L1529 519.9L1528.5 519.8L1528 519.7L1527.5 519.6L1527 519.5L1526.5 519.4L1526 519.3L1525.5 519.2L1525 519.1L1524.5 519L1524 518.9L1523.5 518.8L1523 518.7L1522.5 518.6L1522 518.6L1521.5 518.5L1521 518.5L1520.5 518.4L1520 518.4L1519.5 518.4L1519 518.4L1518.5 518.4L1518 518.4L1517.5 518.4L1517.1 518.4L1516.6 518.5L1516.1 518.5L1515.6 518.6L1515.1 518.6L1514.6 518.7L1514.1 518.8L1513.6 518.9L1513.2 519L1512.7 519.1L1512.2 519.2L1511.7 519.4L1511.2 519.5L1510.7 519.7L1510.2 519.8L1509.7 520L1509.2 520.2L1508.8 520.4L1508.3 520.6L1507.8 520.8L1507.3 521L1506.8 521.1L1506.3 521.4L1505.8 521.7L1505.3 522L1504.8 522.4L1504.3 522.8L1503.9 523.2L1503.4 523.8L1502.9 524.5L1502.4 525.4L1501.9 526.7L1501.4 538.8L1500.9 528.6L1500.4 527.5L1499.9 526.8L1499.4 526.2L1498.9 525.8L1498.4 525.3L1497.9 524.7L1497.4 524L1496.9 523.1L1496.4 522L1495.9 520.9L1495.4 519.7L1494.9 518.4L1494.4 517L1494 515.6L1493.5 514.1L1493 512.7L1492.5 511.2L1492 509.7L1491.5 508.3L1491 506.9L1490.5 505.5L1490 504.3L1489.5 503L1489 501.8L1488.5 500.6L1488 499.4L1487.5 498.2L1487 497L1486.5 495.8L1486 494.6L1485.5 493.4L1485 492.2L1484.5 491L1484 489.9L1483.5 488.6L1483 487.4L1482.5 486.1L1482 484.9L1481.5 483.5L1481 482.3L1480.5 481L1480.1 479.7L1479.6 478.5L1479.1 477.2L1478.7 475.8L1478.2 474.5L1477.7 473.1L1477.2 471.7L1476.8 470.3L1476.3 468.7L1475.8 467.2L1475.3 465.6L1474.9 463.9L1474.4 462.1Z" fill="#ff00ff"/>
<path d="M1473.9 460.3l0.5 1.6 0.5 2 0.4 1 0.5 2.3 0.5 0.5 0.5 2.6 0.4 -0.2 0.5 2.9 0.5 -0.5 0.5 3.4 0.4 -1.6 0.5 4.3 0.5 -2 0.5 4.7 0.4 -3.5 0.5 5.7 0.5 -3.1 0.5 6.4 0.5 -4.5 0.5 6.5 0.5 -4.9 0.5 7.4 0.5 -5.3 0.5 7.1 0.5 -6.4 0.5 9.1 0.5 -7.9 0.5 10.1 0.5 -8 0.5 10.2 0.5 -8.7 0.5 10 0.5 -8.6 0.5 12.3 0.5 -11.1 0.5 13.5 0.5 -12.3 0.5 13.7 0.5 -12 0.5 15.6 0.5 -12.4 0.4 15.2 0.5 -15.3 0.5 17.3 0.5 -16.8 0.5 18.9 0.5 -16.3 0.5 19.6 0.5 -19.4 0.5 18.2 0.5 -16.4 0.5 17.6 0.5 -18.9 0.5 21.8 0.5 -18.8 0.5 33.1 0.5 -32.7 0.5 15.4 0.5 -14.1 0.5 12.6 0.5 -12.4 0.4 13.2 0.5 -13.3 0.5 13.4 0.5 -13.2 0.5 13.3 0.5 -12.6 0.5 10.4 0.5 -9 0.5 9.7 0.5 -10.4 0.4 9.1 0.5 -7.1 0.5 7.3 0.5 -7.5 0.5 7.4 0.5 -7.2 0.5 7.5 0.5 -7.5 0.5 5.9 0.4 -5.5 0.5 5.2 0.5 -5.1 0.5 5.9 0.5 -5.7 0.5 5.9 0.5 -6.6 0.5 6.7 0.4 -6.5 0.5 6.2 0.5 -5.5 0.5 5.2 0.5 -5.5 0.5 5.5 0.5 -4.5 0.5 4.4 0.5 -4.4 0.5 4.8 0.5 -4.4 0.5 4.4 0.5 -4 0.5 3.9 0.5 -3.6 0.5 4.2 0.5 -3.8 0.5 4.1 0.5 -4.1 0.5 4 0.5 -4 0.5 4.6 0.5 -4.1 0.5 4.3 0.5 -4.4 0.5 4.3 0.5 -3.7 0.5 4.3 0.5 -4.3 0.5 4 0.5 -3.4 0.5 3.6 0.5 -4.1 0.5 4.6 0.5 -4.2 0.5 3.8 0.5 -3.2 0.5 3.4 0.5 -3 0.5 3.1 0.5 -2.9 0.5 3.1 0.5 -3.1 0.5 3.3 0.5 -3.3 0.5 3.7 0.5 -3.7 0.5 3.7 0.5 -3 0.5 3.6 0.5 -3 0.5 2.9 0.5 -3 0.5 3.2"/>
</g>
</g>
<g clip-path="url(#cp6)" fill="none" stroke-linejoin="round">
<g stroke="#0000ff" stroke-width="4">
<path d="M1544.5 440.8l1.5 0 1.5 0 1.4 0 1.5 0 1.5 0 1.5 0 1.4 0 1.5 0 1.5 0 1.5 0 1.4 0 1.5 0 1.5 0 1.5 0 1.5 0 1.4 0 1.5 0 1.5 0 1.5 0 1.4 0 1.5 0 1.5 0 1.5 0 1.4 0 1.5 0 1.5 0 1.5 0 1.4 0 1.5 0 1.5 0 1.5 0 1.5 0 1.4 0 1.5 0 1.5 0 1.5 0 1.4 0 1.5 0 1.5 0 1.5 0 1.4 0 1.5 0 1.5 0 1.5 0 1.4 0.1 1.5 0 1.5 0.1 1.4 0.1 1.5 0.1 1.5 0.1 1.4 0.2 1.5 0.1 1.5 0.2 1.4 0.1 1.5 0.2 1.5 0.1 1.4 0.2 1.5 0.1 1.5 0.1 1.5 0.2 1.5 0.1 1.5 0.2 1.4 0.2 1.5 0.2 1.5 0.1 1.5 0.2 1.5 0.2 1.5 0.2 1.5 0.2 1.5 0.1 1.5 0.2 1.4 0.2 1.5 0.1 1.5 0.2 1.5 0.2 1.5 0.1 1.4 0.1 1.4 0.2 1.4 0.1 1.4 0.1 1.4 0.1 1.4 0.1 1.4 0.2 1.4 0.1 1.4 0.1 1.4 0.1 1.4 0.1 1.4 0.1 1.4 0.1 1.4 0.1 1.4 0.1 1.5 0.1 1.4 0.2 1.4 0.1 1.4 0.1 1.4 0.1 1.4 0.1 1.5 0 1.4 0.1 1.4 0 1.3 -0.1 1.4 -0.2 1.4 -0.3 1.3 -0.4 1.2 -0.6 1.3 -1 1.2 -1 1.3 -0.9 1.3 -0.9 1.4 -0.8 1.3 -0.7 1.3 -0.3 1.2 0.4 1.3 0.9 1.2 0.9 1.2 1 1.2 1.1 1.2 0.5 1.2 -1 1.2 -1.6"/>
<path d="M1716.5 442.4L1717 441.7L1717.4 441.1L1717.9 440.6L1718.4 440.4L1718.8 440.6L1719.3 441L1719.7 441.5L1720.2 442.1L1720.6 442.7L1721.1 443.1L1721.5 443.2L1722 443.2L1722.5 443.1L1722.9 442.9L1723.4 442.6L1723.9 442.3L1724.4 441.9L1724.9 441.6L1725.3 441.3L1725.8 441L1726.3 440.8L1726.8 440.6L1727.3 440.4L1727.8 440.3L1728.3 440.1L1728.8 440L1729.3 439.9L1729.8 439.8L1730.3 439.6L1730.8 439.5L1731.3 439.4L1731.8 439.3L1732.2 439.2L1732.7 439.1L1733.2 438.9L1733.7 438.8L1734.2 438.6L1734.7 438.5L1735.2 438.3L1735.7 438.1L1736.2 437.9L1736.7 437.7L1737.2 437.5L1737.7 437.3L1738.2 437L1738.6 436.7L1739.1 436.4L1739.6 436.1L1740.1 435.8L1740.6 435.4L1741 435.1L1741.5 434.7L1742 434.3L1742.5 433.9L1743 433.4L1743.4 433L1743.9 432.6L1744.4 432.1L1744.9 431.6L1745.4 431.1L1745.9 430.5L1746.4 429.9L1746.9 429.2L1747.4 428.5L1747.9 427.8L1748.4 427.1L1748.9 426.4L1749.4 425.6L1749.9 424.8L1750.4 424L1750.9 423.2L1751.4 422.4L1751.9 421.5L1752.4 420.6L1752.9 419.7L1753.4 418.7L1753.8 417.7L1754.3 416.5L1754.8 415.3L1755.3 413.9L1755.8 412.1L1756.3 409.8L1756.8 407L1757.2 403.4L1757.7 398L1758.2 348.4L1758.7 400.7L1759.2 406.4L1759.7 410.2L1760.1 413.1L1760.6 415.6L1761.1 417.5L1761.6 418.7L1762 419.9L1762.5 420.9L1763 421.9L1763.4 422.7L1763.9 423.5L1764.3 424.3L1764.8 424.9L1765.3 425.5L1765.7 426.1L1766.2 426.6L1766.7 427.1L1767.2 427.6L1767.7 428L1768.1 428.5L1768.6 428.9L1769.1 429.3L1769.6 429.6L1770.1 430L1770.6 430.3L1771.1 430.6L1771.6 430.9L1772 431.2L1772.5 431.5L1773 431.8L1773.5 432.1L1774 432.4L1774.5 432.7L1775 433L1775.5 433.2L1776 433.5L1776.4 433.7L1776.9 434L1777.4 434.2L1777.9 434.4L1778.4 434.7L1778.9 434.9L1779.4 435.1L1779.9 435.4L1780.4 435.6L1780.9 435.8L1781.4 436L1781.8 436.2L1782.3 436.4L1782.8 436.6L1783.3 436.8L1783.8 437L1784.3 437.2L1784.8 437.3L1785.3 437.5L1785.8 437.7L1786.3 437.9L1786.8 438.1L1787.3 438.3L1787.8 438.5L1788.3 438.7L1788.8 438.9L1789.3 439.1L1789.8 439.2L1790.2 439.4L1790.7 439.6L1791.2 439.7L1791.7 439.9L1792.2 440L1792.7 440.1L1793.2 440.2L1793.7 440.3L1794.2 440.4L1794.7 440.5L1795.2 440.5L1795.7 440.6L1796.2 440.6L1796.7 440.7L1797.2 440.7L1797.7 440.7L1798.2 440.8L1798.7 440.8L1799.2 440.8L1799.7 440.9L1800.2 440.9L1800.7 440.9L1801.2 441L1801.7 441L1802.2 441L1802.7 441.1L1803.2 441.1L1803.7 441.1L1804.2 441.2L1804.7 441.2L1805.2 441.2L1805.7 441.3L1806.2 441.3L1806.7 441.3L1807.2 441.3L1807.6 441.4L1808.1 441.4L1808.6 441.4L1809.1 441.5L1809.6 441.5L1810.1 441.5L1810.6 441.5L1811.1 441.6L1811.6 441.6L1812.1 441.6L1812.6 441.6L1813.1 441.7L1813.6 441.7L1814.1 441.7L1814.6 441.7L1815.1 441.7L1815.6 441.8L1816.1 441.8L1816.6 441.8L1817.1 441.8L1817.6 441.8L1818.1 441.9L1818.6 441.9L1819.1 441.9L1819.6 441.9L1820.1 441.9L1820.6 442L1821.1 442L1821.6 442L1822.1 442L1822.6 442L1823.1 442L1823.6 442L1824.1 442.1L1824.6 442.1L1825.1 442.1L1825.6 442.1L1826.1 442.1L1826.6 442.1L1827.1 442.1L1827.6 442.1L1828.1 442.2L1828.6 442.2L1829.1 442.2L1829.6 442.2L1830.1 442.2L1830.6 442.2L1831.1 442.2L1831.6 442.2L1832.1 442.2L1832.5 442.2L1833 442.2L1833.5 442.2L1834 442.2L1834.5 442.2L1835 442.2L1835.5 442.3L1836 442.3L1836.5 442.3L1837 442.3L1837.5 442.3L1838 442.3L1838.5 442.3L1839 442.3L1839.5 442.3L1840 442.3L1840.5 442.3L1841 442.3L1841.5 442.3L1842 442.3L1842.5 442.3L1843 442.3L1843.5 442.3L1844 442.3L1844.5 442.3L1844.5 443.8L1844 443.8L1843.5 443.8L1843 443.8L1842.5 443.9L1842 443.9L1841.5 443.9L1841 443.9L1840.5 443.9L1840 444L1839.5 444L1839 444L1838.5 444L1838 444L1837.5 444.1L1837 444.1L1836.5 444.1L1836 444.1L1835.5 444.1L1835 444.2L1834.5 444.2L1834 444.2L1833.5 444.2L1833 444.2L1832.5 444.2L1832.1 444.2L1831.6 444.3L1831.1 444.3L1830.6 444.3L1830.1 444.3L1829.6 444.3L1829.1 444.3L1828.6 444.3L1828.1 444.3L1827.6 444.3L1827.1 444.4L1826.6 444.4L1826.1 444.4L1825.6 444.4L1825.1 444.4L1824.6 444.4L1824.1 444.4L1823.6 444.4L1823.1 444.4L1822.6 444.4L1822.1 444.4L1821.6 444.4L1821.1 444.4L1820.6 444.4L1820.1 444.5L1819.6 444.5L1819.1 444.5L1818.6 444.5L1818.1 444.5L1817.6 444.5L1817.1 444.5L1816.6 444.5L1816.1 444.5L1815.6 444.5L1815.1 444.5L1814.6 444.5L1814.1 444.5L1813.6 444.5L1813.1 444.5L1812.6 444.5L1812.1 444.5L1811.6 444.5L1811.1 444.5L1810.6 444.5L1810.1 444.5L1809.6 444.5L1809.1 444.5L1808.6 444.5L1808.1 444.5L1807.6 444.5L1807.2 444.5L1806.7 444.5L1806.2 444.5L1805.7 444.5L1805.2 444.5L1804.7 444.5L1804.2 444.4L1803.7 444.4L1803.2 444.4L1802.7 444.4L1802.2 444.4L1801.7 444.4L1801.2 444.4L1800.7 444.4L1800.2 444.4L1799.7 444.4L1799.2 444.4L1798.7 444.4L1798.2 444.4L1797.7 444.4L1797.2 444.4L1796.7 444.4L1796.2 444.4L1795.7 444.4L1795.2 444.4L1794.7 444.3L1794.2 444.3L1793.7 444.3L1793.2 444.2L1792.7 444.2L1792.2 444.1L1791.7 444L1791.2 443.9L1790.7 443.8L1790.2 443.7L1789.8 443.6L1789.3 443.5L1788.8 443.4L1788.3 443.2L1787.8 443.1L1787.3 443L1786.8 442.9L1786.3 442.8L1785.8 442.7L1785.3 442.5L1784.8 442.4L1784.3 442.3L1783.8 442.2L1783.3 442.1L1782.8 442L1782.3 441.9L1781.8 441.8L1781.4 441.7L1780.9 441.5L1780.4 441.4L1779.9 441.3L1779.4 441.2L1778.9 441.1L1778.4 440.9L1777.9 440.8L1777.4 440.7L1776.9 440.6L1776.4 440.5L1776 440.4L1775.5 440.3L1775 440.3L1774.5 440.2L1774 440.2L1773.5 440.2L1773 440.2L1772.5 440.2L1772 440.2L1771.6 440.2L1771.1 440.2L1770.6 440.2L1770.1 440.2L1769.6 440.2L1769.1 440.2L1768.6 440.2L1768.1 440.2L1767.7 440.2L1767.2 440.2L1766.7 440.2L1766.2 440.2L1765.7 440.2L1765.3 440.2L1764.8 440.2L1764.3 440.2L1763.9 440.2L1763.4 440.2L1763 440.2L1762.5 440.2L1762 440.2L1761.6 440.2L1761.1 440.2L1760.6 440.2L1760.1 440.3L1759.7 440.5L1759.2 440.7L1758.7 441L1758.2 441.3L1757.7 441.7L1757.2 442.1L1756.8 442.5L1756.3 442.9L1755.8 443.3L1755.3 443.8L1754.8 444.4L1754.3 445.2L1753.8 446.1L1753.4 447.3L1752.9 449.1L1752.4 465.8L1751.9 457.2L1751.4 456.2L1750.9 455.6L1750.4 455.1L1749.9 454.7L1749.4 454.2L1748.9 453.6L1748.4 453.1L1747.9 452.5L1747.4 451.9L1746.9 451.3L1746.4 450.7L1745.9 450.2L1745.4 449.8L1744.9 449.5L1744.4 449.2L1743.9 449L1743.4 448.8L1743 448.7L1742.5 448.5L1742 448.4L1741.5 448.3L1741 448.2L1740.6 448.1L1740.1 448L1739.6 447.9L1739.1 447.8L1738.6 447.7L1738.2 447.6L1737.7 447.5L1737.2 447.4L1736.7 447.3L1736.2 447.2L1735.7 447.1L1735.2 447L1734.7 447L1734.2 446.9L1733.7 446.8L1733.2 446.8L1732.7 446.7L1732.2 446.6L1731.8 446.6L1731.3 446.5L1730.8 446.5L1730.3 446.4L1729.8 446.4L1729.3 446.3L1728.8 446.3L1728.3 446.2L1727.8 446.1L1727.3 446.1L1726.8 446L1726.3 445.9L1725.8 445.9L1725.3 445.8L1724.9 445.7L1724.4 445.7L1723.9 445.6L1723.4 445.5L1722.9 445.3L1722.5 445.2L1722 445L1721.5 444.8L1721.1 444.4L1720.6 443.8L1720.2 443.1L1719.7 442.4L1719.3 441.8L1718.8 441.3L1718.4 441.2L1717.9 441.3L1717.4 441.6L1717 442.1L1716.5 442.5Z" fill="#0000ff"/>
<path d="M1716 443l0.5 -0.6 0.5 -0.4 0.4 -1 0.5 0.3 0.5 -0.9 0.4 1.1 0.5 -0.5 0.4 1.4 0.5 -0.3 0.4 1.7 0.5 -0.6 0.4 1.4 0.5 -1.2 0.5 1.8 0.4 -2.1 0.5 2 0.5 -2.4 0.5 2.7 0.5 -3.7 0.4 4 0.5 -4.5 0.5 4.6 0.5 -5.2 0.5 4.9 0.5 -5.5 0.5 6.3 0.5 -6.4 0.5 6.3 0.5 -6.5 0.5 7.2 0.5 -7 0.5 7.3 0.5 -8.2 0.4 6.9 0.5 -6.4 0.5 7 0.5 -6.6 0.5 6.7 0.5 -7.1 0.5 7.1 0.5 -7.9 0.5 8.2 0.5 -8.2 0.5 8.6 0.5 -9.9 0.5 8.9 0.4 -8.8 0.5 9 0.5 -9.9 0.5 11.6 0.5 -12.6 0.4 10.8 0.5 -10.8 0.5 12.3 0.5 -12.2 0.5 11.4 0.4 -12.8 0.5 12.1 0.5 -12.5 0.5 12.8 0.5 -14 0.5 16.4 0.5 -16.1 0.5 15.9 0.5 -17.9 0.5 18.6 0.5 -18.9 0.5 18.8 0.5 -24.1 0.5 25.5 0.5 -25.5 0.5 28.7 0.5 -29.1 0.5 26.7 0.5 15.3 0.5 -19 0.5 -27.2 0.4 21 0.5 -22.6 0.5 23.8 0.5 -23.6 0.5 19.9 0.5 -25.4 0.5 23.2 0.4 -26.5 0.5 25.9 0.5 -89.3 0.5 87.4 0.5 -24.3 0.5 25.7 0.4 -20.1 0.5 22.1 0.5 -19 0.5 20.5 0.4 -17.5 0.5 18.3 0.5 -18.1 0.4 18.9 0.5 -16.3 0.4 15.3 0.5 -13.6 0.5 12.7 0.4 -12.7 0.5 13.9 0.5 -12.8 0.5 12.4 0.5 -10.7 0.4 10.6 0.5 -10.5 0.5 9.9 0.5 -9 0.5 9.7 0.5 -9.5 0.5 9.3 0.5 -7.5 0.4 7.6 0.5 -7.9 0.5 7.1 0.5 -6.2 0.5 6.8 0.5 -6.7 0.5 7.1 0.5 -6.1 0.5 6.7 0.4 -7.1 0.5 6.7 0.5 -6.7 0.5 6.9 0.5 -6.5 0.5 7.2 0.5 -6.1 0.5 5.9 0.5 -5 0.5 5.8 0.5 -6.2 0.4 6.1 0.5 -5.7 0.5 6 0.5 -5.3 0.5 5.4 0.5 -5.2 0.5 6.4 0.5 -6.4 0.5 6.1 0.5 -5.3 0.5 5.9 0.5 -5.2 0.5 4.8 0.5 -4.5 0.5 4.7 0.5 -4.3 0.5 5.1 0.4 -5.2 0.5 4.9 0.5 -4.4 0.5 4.9 0.5 -4.3 0.5 4 0.5 -3.8 0.5 3.5 0.5 -3.4 0.5 4.1 0.5 -3.8 0.5 3.5 0.5 -3.7 0.5 3.7 0.5 -3.4 0.5 3.3 0.5 -3.4 0.5 3.5 0.5 -3.3 0.5 3.3 0.5 -3.2 0.5 3.4 0.5 -3.4 0.5 3.1 0.5 -2.8 0.5 2.9 0.5 -2.8 0.5 3.3 0.5 -3.7 0.5 3.5 0.5 -3.3 0.5 3.1 0.5 -3.1 0.5 3.1 0.5 -2.7 0.4 2.8 0.5 -3 0.5 3.2 0.5 -3.3 0.5 3.1 0.5 -3.1 0.5 3.4 0.5 -3.2 0.5 2.8 0.5 -2.8 0.5 3 0.5 -3 0.5 3 0.5 -2.9 0.5 3 0.5 -3.1 0.5 3 0.5 -2.7 0.5 2.3 0.5 -2 0.5 2.1 0.5 -2.3 0.5 2.5 0.5 -2.7 0.5 2.8 0.5 -2.5 0.5 2.3 0.5 -2.2 0.5 2.2 0.5 -2.2 0.5 2.3 0.5 -2.3 0.5 2.2 0.5 -2.3 0.5 2.5 0.5 -2.5 0.5 2.5 0.5 -2.4 0.5 2.3 0.5 -2.4 0.5 2.2 0.5 -2 0.5 2 0.5 -2 0.5 2.1 0.5 -2.2 0.5 1.9 0.5 -1.7 0.5 1.8 0.5 -1.8 0.4 2.1 0.5 -2.4 0.5 2.3 0.5 -2.2 0.5 2 0.5 -2 0.5 2.1 0.5 -1.9 0.5 1.8 0.5 -1.7 0.5 1.5 0.5 -1.7 0.5 1.7 0.5 -1.7 0.5 1.6 0.5 -1.5 0.5 1.6 0.5 -1.6 0.5 1.5 0.5 -1.5 0.5 1.4 0.5 -1.4 0.5 1.5 0.5 -1.5 0.5 1.4"/>
</g>
<g stroke="#ff0000" stroke-width="4">
<path d="M1544.5 443.7l1.5 0 1.5 0 1.5 0 1.5 0 1.4 0 1.5 0 1.5 0 1.5 0 1.5 0 1.5 0 1.5 0 1.5 0 1.4 0 1.5 0 1.5 0 1.5 0 1.5 0 1.5 0 1.5 0 1.5 0 1.5 0 1.4 0 1.5 0 1.5 0 1.5 0 1.5 0 1.5 0 1.5 0 1.5 0 1.5 0 1.4 0 1.5 0 1.5 0 1.5 0 1.5 0 1.5 0 1.5 0 1.5 0 1.4 0 1.5 0 1.5 0 1.5 0 1.5 0 1.4 0 1.5 0.1 1.4 0 1.4 0.1 1.5 0.1 1.4 0.2 1.4 0.1 1.5 0.1 1.4 0.2 1.4 0.2 1.5 0.1 1.4 0.2 1.4 0.1 1.5 0.2 1.4 0.1 1.5 0.1 1.5 0.2 1.5 0.1 1.5 0.1 1.4 0.1 1.5 0.2 1.5 0.1 1.5 0.1 1.5 0.2 1.5 0.1 1.5 0.1 1.5 0.2 1.5 0.1 1.4 0.2 1.5 0.1 1.5 0.2 1.5 0.1 1.5 0.2 1.4 0.2 1.4 0.1 1.4 0.2 1.4 0.2 1.4 0.3 1.4 0.2 1.4 0.2 1.4 0.2 1.4 0.2 1.4 0.2 1.4 0.2 1.4 0.2 1.4 0.1 1.4 0.1 1.4 0.2 1.5 0.1 1.4 0.2 1.4 0.1 1.4 0.2 1.4 0.1 1.4 0.1 1.5 0 1.4 0.1 1.4 0 1.3 -0.1 1.4 -0.3 1.4 -0.4 1.3 -0.4 1.2 -0.6 1.3 -0.8 1.2 -0.8 1.3 -0.8 1.3 -0.8 1.4 -0.8 1.3 -0.6 1.3 -0.3 1.2 0.6 1.3 1.2 1.2 1.2 1.2 1 1.2 1.1 1.2 0.4 1.2 -0.9 1.2 -1.6 1.2 -1.5 1.2 -0.9 1.3 1.2 1.3 1.2"/>
<path d="M1721.5 447.9L1722 447.6L1722.5 447.3L1723 447L1723.5 446.7L1724 446.6L1724.5 446.6L1725 446.6L1725.5 446.7L1726 446.7L1726.5 446.7L1727 446.8L1727.5 446.8L1728 446.8L1728.5 446.9L1729 446.9L1729.5 446.9L1730 446.9L1730.5 446.9L1731 446.9L1731.5 446.9L1732 446.9L1732.5 446.9L1733 446.9L1733.5 446.9L1734 446.9L1734.5 446.9L1735 446.9L1735.5 446.9L1736 446.9L1736.5 446.9L1737 446.9L1737.5 446.9L1738 446.9L1738.5 446.9L1739 446.9L1739.5 446.9L1740 446.9L1740.5 446.9L1741 446.9L1741.5 446.9L1742 446.9L1742.5 446.8L1743 446.8L1743.5 446.8L1744 446.8L1744.5 446.8L1745 446.8L1745.5 446.8L1746 446.8L1746.5 446.8L1747 446.8L1747.5 446.8L1748 446.8L1748.5 446.8L1749 446.8L1749.5 446.8L1750 446.8L1750.5 446.7L1751 446.7L1751.5 446.7L1751.9 446.7L1752.4 446.7L1752.9 446.6L1753.4 446.6L1753.9 446.6L1754.4 446.5L1754.8 446.5L1755.3 446.5L1755.8 446.4L1756.3 446.4L1756.8 446.3L1757.3 446.3L1757.8 446.3L1758.2 446.2L1758.7 446.2L1759.2 446.1L1759.7 446.1L1760.2 446L1760.7 446L1761.1 445.9L1761.6 445.9L1762.1 445.8L1762.6 445.8L1763.1 445.8L1763.6 445.7L1764.1 445.7L1764.6 445.6L1765.1 445.6L1765.6 445.6L1766.1 445.5L1766.6 445.5L1767.1 445.4L1767.6 445.4L1768.1 445.4L1768.6 445.3L1769.1 445.3L1769.6 445.2L1770.1 445.2L1770.6 445.2L1771.1 445.1L1771.6 445.1L1772.1 445L1772.6 445L1773.1 444.9L1773.6 444.9L1774.1 444.8L1774.6 444.8L1775.1 444.7L1775.6 444.7L1776.1 444.6L1776.6 444.5L1777.1 444.5L1777.6 444.4L1778.1 444.3L1778.6 444.2L1779.1 444.1L1779.6 444L1780.1 443.9L1780.6 443.8L1781.1 443.7L1781.6 443.6L1782.1 443.5L1782.5 443.3L1783 443.2L1783.5 443L1784 442.9L1784.5 442.7L1785 442.5L1785.5 442.3L1786 442.1L1786.5 441.8L1787 441.6L1787.5 441.4L1788 441.1L1788.5 440.8L1789 440.5L1789.5 440.1L1790 439.7L1790.5 439.3L1791 438.8L1791.5 438.4L1792 437.9L1792.5 437.3L1793 436.8L1793.5 436.2L1794 435.6L1794.5 435L1795 434.5L1795.5 433.9L1796 433.3L1796.5 432.7L1797 432.1L1797.5 431.5L1798 431L1798.5 430.4L1799 429.9L1799.5 429.3L1800 428.7L1800.5 428L1801 427.3L1801.5 426.6L1802 425.7L1802.5 424.8L1803 423.7L1803.5 422.3L1804 420.8L1804.5 419.1L1805 417.2L1805.5 415.5L1805.9 413.7L1806.3 411.9L1806.8 410.2L1807.3 408.4L1807.7 406.6L1808.2 404.5L1808.7 401.9L1809.1 398.7L1809.6 394.5L1810 388.3L1810.5 331L1811 391L1811.4 397.4L1811.8 401.9L1812.3 405.2L1812.8 407.9L1813.2 410.2L1813.6 412.2L1814.1 413.9L1814.6 415.6L1815.1 417.3L1815.6 418.9L1816.1 420.5L1816.6 422L1817.1 423.4L1817.6 424.8L1818.1 426L1818.6 427.1L1819.1 428.1L1819.6 429L1820.1 429.7L1820.6 430.2L1821.1 430.6L1821.6 431L1822.1 431.4L1822.6 431.8L1823.1 432.1L1823.6 432.5L1824.1 432.8L1824.6 433.1L1825.1 433.3L1825.6 433.6L1826 433.8L1826.5 434.1L1827 434.3L1827.5 434.5L1828 434.7L1828.5 434.8L1829 435L1829.5 435.1L1830 435.2L1830.5 435.4L1831 435.5L1831.5 435.6L1832 435.7L1832.5 435.8L1833 435.9L1833.5 436L1834 436.1L1834.5 436.2L1835 436.3L1835.5 436.4L1836 436.5L1836.5 436.6L1837 436.7L1837.4 436.8L1837.9 436.9L1838.4 437L1838.9 437L1839.4 437.1L1839.9 437.2L1840.4 437.2L1840.9 437.3L1841.4 437.3L1841.9 437.4L1842.4 437.4L1842.9 437.5L1843.3 437.5L1843.8 437.5L1844.2 437.5L1844.2 462.3L1843.8 447.3L1843.3 445.7L1842.9 444.6L1842.4 443.9L1841.9 443.7L1841.4 443.6L1840.9 443.4L1840.4 443.3L1839.9 443.2L1839.4 443L1838.9 442.9L1838.4 442.8L1837.9 442.7L1837.4 442.6L1837 442.6L1836.5 442.5L1836 442.4L1835.5 442.4L1835 442.3L1834.5 442.3L1834 442.2L1833.5 442.2L1833 442.2L1832.5 442.2L1832 442.1L1831.5 442.1L1831 442.1L1830.5 442.1L1830 442.1L1829.5 442L1829 442L1828.5 442L1828 442L1827.5 442L1827 442L1826.5 442L1826 442L1825.6 442L1825.1 442L1824.6 442L1824.1 442L1823.6 442L1823.1 442L1822.6 442L1822.1 442L1821.6 442L1821.1 442L1820.6 442L1820.1 442L1819.6 442.1L1819.1 442.1L1818.6 442.2L1818.1 442.3L1817.6 442.4L1817.1 442.6L1816.6 442.8L1816.1 442.9L1815.6 443.1L1815.1 443.3L1814.6 443.6L1814.1 443.8L1813.6 444.1L1813.2 444.5L1812.8 445.1L1812.3 445.7L1811.8 446.5L1811.4 447.4L1811 448.3L1810.5 449.3L1810 450.4L1809.6 451.5L1809.1 452.7L1808.7 453.8L1808.2 455L1807.7 456.1L1807.3 457.2L1806.8 458.3L1806.3 459.4L1805.9 460.8L1805.5 462.9L1805 482.1L1804.5 466.4L1804 464.6L1803.5 463.5L1803 462.6L1802.5 461.9L1802 461.3L1801.5 460.7L1801 460.1L1800.5 459.6L1800 459.1L1799.5 458.6L1799 458.1L1798.5 457.7L1798 457.3L1797.5 456.9L1797 456.5L1796.5 456.1L1796 455.7L1795.5 455.4L1795 455L1794.5 454.6L1794 454.3L1793.5 453.9L1793 453.6L1792.5 453.3L1792 452.9L1791.5 452.6L1791 452.4L1790.5 452.1L1790 451.9L1789.5 451.6L1789 451.4L1788.5 451.3L1788 451.1L1787.5 451L1787 450.8L1786.5 450.7L1786 450.6L1785.5 450.5L1785 450.4L1784.5 450.3L1784 450.2L1783.5 450.2L1783 450.1L1782.5 450.1L1782.1 450L1781.6 450L1781.1 449.9L1780.6 449.9L1780.1 449.8L1779.6 449.8L1779.1 449.7L1778.6 449.7L1778.1 449.6L1777.6 449.6L1777.1 449.5L1776.6 449.5L1776.1 449.4L1775.6 449.4L1775.1 449.3L1774.6 449.3L1774.1 449.2L1773.6 449.1L1773.1 449.1L1772.6 449L1772.1 449L1771.6 448.9L1771.1 448.8L1770.6 448.8L1770.1 448.7L1769.6 448.7L1769.1 448.6L1768.6 448.5L1768.1 448.5L1767.6 448.5L1767.1 448.4L1766.6 448.4L1766.1 448.3L1765.6 448.3L1765.1 448.3L1764.6 448.2L1764.1 448.2L1763.6 448.2L1763.1 448.2L1762.6 448.2L1762.1 448.2L1761.6 448.2L1761.1 448.2L1760.7 448.2L1760.2 448.2L1759.7 448.2L1759.2 448.2L1758.7 448.2L1758.2 448.2L1757.8 448.2L1757.3 448.2L1756.8 448.2L1756.3 448.2L1755.8 448.2L1755.3 448.2L1754.8 448.2L1754.4 448.2L1753.9 448.2L1753.4 448.3L1752.9 448.3L1752.4 448.3L1751.9 448.3L1751.5 448.3L1751 448.3L1750.5 448.3L1750 448.2L1749.5 448.2L1749 448.2L1748.5 448.2L1748 448.2L1747.5 448.2L1747 448.2L1746.5 448.2L1746 448.2L1745.5 448.2L1745 448.2L1744.5 448.2L1744 448.2L1743.5 448.2L1743 448.2L1742.5 448.2L1742 448.2L1741.5 448.2L1741 448.2L1740.5 448.2L1740 448.2L1739.5 448.2L1739 448.2L1738.5 448.2L1738 448.2L1737.5 448.2L1737 448.2L1736.5 448.2L1736 448.2L1735.5 448.2L1735 448.2L1734.5 448.2L1734 448.2L1733.5 448.2L1733 448.1L1732.5 448.1L1732 448.1L1731.5 448.1L1731 448.1L1730.5 448.1L1730 448.1L1729.5 448.1L1729 448L1728.5 448L1728 447.9L1727.5 447.8L1727 447.7L1726.5 447.6L1726 447.6L1725.5 447.5L1725 447.4L1724.5 447.4L1724 447.4L1723.5 447.4L1723 447.5L1722.5 447.7L1722 447.8L1721.5 448Z" fill="#ff0000"/>
<path d="M1721 448l0.5 -0.1 0.5 -0.1 0.5 -0.5 0.5 0.2 0.5 -0.8 0.5 0.7 0.5 -0.7 0.5 0.7 0.5 -0.7 0.5 0.9 0.5 -0.9 0.5 0.9 0.5 -0.8 0.5 1 0.5 -0.8 0.5 1.1 0.5 -1.1 0.5 1 0.5 -1.2 0.5 1.3 0.5 -1.1 0.5 1 0.5 -1 0.5 1.1 0.5 -1.2 0.5 1.4 0.5 -1.5 0.5 1.4 0.5 -1.3 0.5 1.3 0.5 -1.3 0.5 1.2 0.5 -1.2 0.5 1.2 0.5 -1.1 0.5 1.1 0.5 -1.3 0.5 1.3 0.5 -1.2 0.5 1.2 0.5 -1.1 0.5 1.2 0.5 -1.4 0.5 1.4 0.5 -1.2 0.5 1.1 0.5 -1.1 0.5 1.1 0.5 -1.2 0.5 1.4 0.5 -1.6 0.5 1.6 0.5 -1.5 0.5 1.6 0.5 -1.8 0.5 1.8 0.5 -1.6 0.5 1.4 0.5 -1.6 0.5 1.6 0.5 -1.5 0.4 1.5 0.5 -1.4 0.5 1.4 0.5 -1.5 0.5 1.3 0.5 -1.3 0.4 1.5 0.5 -1.6 0.5 1.4 0.5 -1.4 0.5 1.5 0.5 -1.7 0.5 1.9 0.4 -2.1 0.5 1.9 0.5 -1.8 0.5 1.7 0.5 -1.9 0.5 2.1 0.4 -2.6 0.5 2.8 0.5 -2.6 0.5 2.2 0.5 -2.1 0.5 2.2 0.5 -2.2 0.5 2.3 0.5 -2.6 0.5 2.5 0.5 -2.3 0.5 2.8 0.5 -3.3 0.5 3.4 0.5 -3.3 0.5 2.8 0.5 -2.7 0.5 3.3 0.5 -3.4 0.5 3.3 0.5 -3.7 0.5 4 0.5 -4.5 0.5 4.6 0.5 -4.2 0.5 4.1 0.5 -4.1 0.5 4.6 0.5 -5.3 0.5 5.4 0.5 -5 0.5 5.5 0.5 -5.6 0.5 5.1 0.5 -5 0.5 5 0.5 -5.9 0.5 6.5 0.5 -6.9 0.5 6.3 0.5 -5.9 0.5 6.5 0.5 -6.7 0.5 6.3 0.4 -6.5 0.5 6 0.5 -5.8 0.5 6 0.5 -7.3 0.5 7.6 0.5 -7 0.5 6.9 0.5 -8.3 0.5 9.4 0.5 -10.5 0.5 11.6 0.5 -11.3 0.5 10.6 0.5 -10.3 0.5 10.1 0.5 -10.7 0.5 10.7 0.5 -13.5 0.5 15.6 0.5 -14.1 0.5 14.6 0.5 -16.6 0.5 14.9 0.5 -15.4 0.5 16 0.5 -15.3 0.5 15.5 0.5 -18.5 0.5 20.2 0.5 -21.9 0.5 19.8 0.5 -21 0.5 24.2 0.5 -22.9 0.5 21.9 0.5 -21.9 0.5 22.4 0.5 -26.9 0.5 33.9 0.5 -34.9 0.5 30.9 0.5 -30.4 0.5 35.7 0.5 20 0.5 -24.8 0.4 -38.5 0.4 31.3 0.5 -35.8 0.5 34.3 0.4 -35.1 0.5 37.1 0.5 -44.9 0.4 36.4 0.5 -38.8 0.4 36.7 0.5 -111.4 0.5 113.4 0.4 -41 0.4 43.4 0.5 -38.7 0.5 38.9 0.4 -35 0.4 32.4 0.5 -25.6 0.5 21.7 0.5 -21.7 0.5 25.1 0.5 -20.7 0.5 19.4 0.5 -18.3 0.5 18.5 0.5 -14.1 0.5 13 0.5 -11.8 0.5 12.5 0.5 -11.4 0.5 10.8 0.5 -8.8 0.5 8.9 0.5 -8.1 0.5 8.7 0.5 -8.1 0.5 8.6 0.5 -8.5 0.5 7.7 0.5 -6.4 0.5 6.6 0.5 -7.5 0.4 8.7 0.5 -7.7 0.5 7.3 0.5 -7.1 0.5 6.9 0.5 -7 0.5 6.9 0.5 -6.9 0.5 7 0.5 -5.7 0.5 6.1 0.5 -6 0.5 5.2 0.5 -5.3 0.5 6 0.5 -5.4 0.5 5 0.5 -5.2 0.5 5.9 0.5 -5.8 0.5 5.6 0.5 -5.3 0.4 5.8 0.5 -6.3 0.5 6.1 0.5 -5.5 0.5 5.9 0.5 -5.3 0.5 5.6 0.5 -6.3 0.5 7.1 0.5 -6.3 0.5 5.8 0.5 -6.3 0.4 7.5 0.5 -5.7 0.4 24.5"/>
</g>
<g stroke="#00ff00" stroke-width="2.7">
<path d="M1544.5 531.4l1.5 0 1.5 0 1.5 0 1.5 0 1.5 0 1.5 0 1.5 0 1.5 0 1.5 0 1.5 0 1.5 0 1.5 0 1.5 0 1.5 0 1.5 0 1.5 0 1.5 0 1.5 0 1.5 0 1.5 0 1.5 0 1.5 0 1.5 0 1.5 0 1.5 0 1.5 0 1.5 0 1.5 0 1.5 0 1.5 0 1.5 0 1.5 0 1.5 0 1.5 0 1.5 0 1.5 0 1.5 0 1.5 0 1.5 0 1.5 0 1.5 0 1.5 0 1.5 0 1.5 0 1.5 0 1.5 0 1.5 0 1.5 0 1.5 0 1.5 0 1.5 0 1.5 0 1.5 0 1.5 0 1.5 0 1.5 0 1.5 0 1.5 0 1.5 0 1.5 0 1.5 0 1.5 0 1.5 0 1.5 0 1.5 0 1.5 0 1.5 0 1.5 0 1.5 0 1.5 0 1.5 0 1.5 0 1.5 0 1.5 0 1.5 0 1.5 0 1.5 0 1.5 0 1.5 0 1.5 0 1.5 0 1.5 0 1.5 0 1.5 0 1.5 0 1.5 0 1.5 0 1.5 0 1.5 0 1.5 0 1.5 0 1.5 0 1.5 0 1.5 0 1.5 0 1.5 0 1.5 0 1.5 0 1.5 0 1.5 0 1.5 0 1.5 0 1.5 0 1.5 0 1.5 0 1.5 0 1.5 0 1.5 0 1.5 0 1.5 0 1.5 0 1.5 0 1.5 0 1.5 0 1.5 0 1.5 0 1.5 0 1.5 0 1.5 0 1.5 0 1.5 0 1.5 0 1.5 0 1.5 0 1.5 0 1.5 0 1.5 0 1.5 0 1.5 0 1.5 0 1.5 0 1.5 0 1.5 0 1.5 0 1.5 0 1.5 0 1.5 0" stroke-dasharray="18 10.3"/>
<path d="M1750 531.4l0.5 -0 0.5 0 0.5 -0 0.5 0 0.5 -0 0.5 0 0.5 -0.1 0.5 0.2 0.5 -0.3 0.5 0.3 0.5 -0.3 0.5 0.4 0.5 -0.5 0.5 0.5 0.5 -0.5 0.5 0.6 0.5 -0.7 0.5 0.7 0.5 -0.9 0.5 1 0.5 -1 0.5 1 0.5 -1.1 0.5 1.3 0.5 -1.2 0.4 1.1 0.5 -1.2 0.5 1.2 0.5 -1.3 0.5 1.4 0.5 -1.5 0.5 1.6 0.5 -1.6 0.5 1.4 0.4 -1.2 0.5 1.4 0.5 -1.5 0.5 1.5 0.5 -1.7 0.5 1.7" stroke-dasharray="9 8"/>
<path d="M1770.3 530.2L1770.8 530.2L1771.3 530.2L1771.8 530.1L1772.3 530.1L1772.8 530L1773.3 530L1773.8 529.9L1774.3 529.8L1774.8 529.8L1775.3 529.7L1775.8 529.7L1776.3 529.6L1776.8 529.5L1777.3 529.5L1777.8 529.4L1778.3 529.3L1778.8 529.2L1779.3 529.2L1779.8 529.1L1780.3 529L1780.8 528.9L1781.3 528.8L1781.8 528.7L1782.3 528.6L1782.8 528.5L1783.3 528.5L1783.8 528.4L1784.3 528.2L1784.8 528.1L1785.3 528L1785.8 527.9L1786.3 527.8L1786.8 527.6L1787.3 527.5L1787.8 527.3L1788.3 527.2L1788.8 527L1789.3 526.9L1789.8 526.6L1790.2 526.4L1790.7 526.2L1791.2 526L1791.7 525.7L1792.2 525.5L1792.7 525.3L1793.2 525L1793.7 524.7L1794.2 524.5L1794.7 524.2L1795.2 523.9L1795.7 523.7L1796.2 523.4L1796.7 523.2L1797.1 522.9L1797.6 522.7L1798.1 522.4L1798.6 522.1L1799.1 521.8L1799.6 521.5L1800.1 521.1L1800.6 520.7L1801 520.2L1801.5 519.7L1802 519.2L1802.5 518.6L1803 517.7L1803.5 516.3L1804 514.6L1804.4 512.6L1804.9 510.4L1805.4 508L1805.8 505.7L1806.3 503.4L1806.7 501.1L1807.2 498.8L1807.6 496.8L1808.1 494.5L1808.6 491.9L1809 488.6L1809.5 484.3L1810 477.9L1810.5 419.2L1811 480.6L1811.5 487.3L1812 491.8L1812.4 495.2L1812.9 498.1L1813.4 500.4L1813.9 502L1814.4 503.6L1814.9 505.1L1815.4 506.5L1815.9 507.8L1816.3 509L1816.8 510L1817.3 511L1817.8 511.8L1818.3 512.5L1818.8 513.1L1819.3 513.5L1819.8 513.9L1820.2 514.3L1820.7 514.7L1821.2 515L1821.7 515.4L1822.2 515.7L1822.6 515.9L1823.1 516.2L1823.6 516.5L1824.1 516.7L1824.5 516.9L1825 517.1L1825.5 517.3L1826 517.5L1826.5 517.7L1826.9 517.8L1827.4 518L1827.9 518.1L1828.4 518.3L1828.9 518.4L1829.4 518.6L1829.9 518.7L1830.4 518.8L1830.9 519L1831.4 519.1L1831.9 519.2L1832.4 519.3L1832.9 519.4L1833.4 519.6L1833.9 519.7L1834.4 519.8L1834.9 519.9L1835.4 520L1835.9 520.1L1836.4 520.1L1836.9 520.2L1837.4 520.3L1837.9 520.4L1838.4 520.5L1838.9 520.5L1839.4 520.6L1839.9 520.6L1840.4 520.7L1840.9 520.7L1841.4 520.8L1841.9 520.8L1842.4 520.8L1842.9 521L1843.3 521.2L1843.8 521.4L1844.2 521.4L1844.2 555.8L1843.8 530.3L1843.3 527.7L1842.9 526L1842.4 524.8L1841.9 524.6L1841.4 524.5L1840.9 524.4L1840.4 524.3L1839.9 524.2L1839.4 524.1L1838.9 524L1838.4 524L1837.9 523.9L1837.4 523.8L1836.9 523.8L1836.4 523.7L1835.9 523.7L1835.4 523.6L1834.9 523.6L1834.4 523.5L1833.9 523.5L1833.4 523.5L1832.9 523.4L1832.4 523.4L1831.9 523.4L1831.4 523.3L1830.9 523.3L1830.4 523.2L1829.9 523.2L1829.4 523.1L1828.9 523L1828.4 522.9L1827.9 522.9L1827.4 522.8L1826.9 522.7L1826.5 522.6L1826 522.5L1825.5 522.4L1825 522.3L1824.5 522.3L1824.1 522.2L1823.6 522L1823.1 521.9L1822.6 521.8L1822.2 521.7L1821.7 521.6L1821.2 521.4L1820.7 521.3L1820.2 521.1L1819.8 521L1819.3 520.8L1818.8 520.6L1818.3 520.4L1817.8 520.1L1817.3 519.7L1816.8 519.3L1816.3 518.9L1815.9 518.4L1815.4 518L1814.9 517.6L1814.4 517.3L1813.9 517.1L1813.4 517L1812.9 517.3L1812.4 517.8L1812 518.7L1811.5 519.9L1811 521.2L1810.5 522.7L1810 524.3L1809.5 525.9L1809 527.5L1808.6 529L1808.1 530.3L1807.6 531.4L1807.2 532.3L1806.7 533.1L1806.3 534.4L1805.8 536.1L1805.4 552.8L1804.9 542.2L1804.4 541L1804 540.2L1803.5 539.6L1803 539.1L1802.5 538.7L1802 538.4L1801.5 538.1L1801 537.8L1800.6 537.5L1800.1 537.2L1799.6 536.9L1799.1 536.7L1798.6 536.4L1798.1 536.2L1797.6 536L1797.1 535.8L1796.7 535.6L1796.2 535.4L1795.7 535.3L1795.2 535.1L1794.7 535L1794.2 534.9L1793.7 534.8L1793.2 534.7L1792.7 534.6L1792.2 534.5L1791.7 534.4L1791.2 534.3L1790.7 534.3L1790.2 534.2L1789.8 534.1L1789.3 534L1788.8 534L1788.3 534L1787.8 533.9L1787.3 533.9L1786.8 533.9L1786.3 533.8L1785.8 533.8L1785.3 533.7L1784.8 533.7L1784.3 533.7L1783.8 533.6L1783.3 533.6L1782.8 533.5L1782.3 533.5L1781.8 533.4L1781.3 533.4L1780.8 533.3L1780.3 533.3L1779.8 533.2L1779.3 533.2L1778.8 533.1L1778.3 533.1L1777.8 533L1777.3 533L1776.8 532.9L1776.3 532.9L1775.8 532.8L1775.3 532.8L1774.8 532.7L1774.3 532.7L1773.8 532.6L1773.3 532.6L1772.8 532.5L1772.3 532.5L1771.8 532.5L1771.3 532.4L1770.8 532.4L1770.3 532.3Z" fill="#00ff00"/>
<path d="M1769.8 532.1l0.5 -1.6 0.5 1.8 0.5 -1.9 0.5 2.2 0.5 -2.4 0.5 2.3 0.5 -2.7 0.5 2.8 0.5 -2.6 0.5 2.4 0.5 -2.8 0.5 3 0.5 -3.1 0.5 3.3 0.5 -3.4 0.5 3.9 0.5 -4.3 0.5 4.3 0.5 -4.3 0.5 3.9 0.5 -4.1 0.5 4.6 0.5 -4.7 0.5 4.8 0.5 -4.6 0.5 4.3 0.5 -4.8 0.5 5.6 0.5 -6 0.5 5.5 0.5 -6.1 0.5 6 0.5 -5.7 0.5 5.9 0.5 -5.8 0.5 6 0.5 -6.8 0.5 6.8 0.5 -8.1 0.5 8.5 0.4 -7.4 0.5 8.2 0.5 -8.5 0.5 7.2 0.5 -8 0.5 7.9 0.5 -7.8 0.5 7.5 0.5 -8.4 0.5 9.5 0.5 -9.4 0.5 9.3 0.5 -11 0.5 11.9 0.4 -11.2 0.5 10.3 0.5 -10.7 0.5 11.8 0.5 -11.5 0.5 11.3 0.5 -11.5 0.5 11.2 0.4 -11.8 0.5 12.7 0.5 -13.6 0.5 16.2 0.5 -20 0.5 18.4 0.5 -18.1 0.4 17.7 0.5 -20.1 0.5 37.7 0.4 -46.1 0.5 22.5 0.4 -26.6 0.5 24.1 0.4 -29 0.5 28.4 0.5 -28 0.5 22.2 0.4 -30.8 0.5 29.6 0.5 -102.3 0.5 99.3 0.5 -25.2 0.5 25.6 0.4 -20.3 0.5 17.4 0.5 -12.2 0.5 13.2 0.5 -11.3 0.5 12.4 0.5 -8.5 0.5 9.4 0.4 -8.6 0.5 9.8 0.5 -7.2 0.5 7.8 0.5 -6.2 0.5 6.8 0.5 -6.4 0.5 7.3 0.4 -6.2 0.5 6.1 0.5 -5.7 0.5 6 0.5 -5.4 0.4 5.8 0.5 -5.6 0.5 6.5 0.5 -5.5 0.4 5.4 0.5 -5.2 0.5 5.4 0.5 -5.3 0.5 4.8 0.4 -3.8 0.5 4.3 0.5 -5.3 0.5 6.2 0.5 -5.4 0.5 5.6 0.5 -5.1 0.5 4.9 0.5 -4.5 0.5 3.8 0.5 -3.7 0.5 4.3 0.5 -4 0.5 4.3 0.5 -3.8 0.5 3.1 0.5 -3.2 0.5 3.3 0.5 -2.8 0.5 3.1 0.5 -3.5 0.5 3.6 0.5 -3.2 0.5 3.7 0.5 -3.3 0.5 2.9 0.5 -2.7 0.5 3.3 0.5 -3.5 0.5 3.6 0.5 -3.4 0.5 3.5 0.5 -3.6 0.4 6.4 0.5 -6.1 0.4 35.8"/>
</g>
<g stroke="#ff00ff" stroke-width="2.7">
<path d="M1544.5 529l1.5 0 1.5 0 1.5 0 1.5 0 1.5 0 1.5 0 1.5 0 1.5 0 1.5 0 1.5 0 1.5 0 1.5 0 1.5 0 1.5 0 1.5 0 1.5 0 1.5 0 1.5 0 1.5 0 1.5 0 1.5 0 1.5 0 1.5 0 1.5 0 1.5 0 1.5 0 1.5 0 1.5 0 1.5 0 1.5 0 1.5 0 1.5 0 1.5 0 1.5 0 1.5 0 1.5 0 1.5 0 1.5 0 1.5 0 1.5 0 1.5 0 1.5 0 1.5 0 1.5 0 1.5 0 1.5 0 1.5 0 1.5 0 1.5 0 1.5 0 1.5 0 1.5 0 1.5 0 1.5 0 1.5 0 1.5 0 1.5 0 1.5 0 1.5 0 1.5 0 1.5 0 1.5 0 1.5 0 1.5 0 1.5 0 1.5 0 1.5 0 1.5 0 1.5 0 1.5 0 1.5 0 1.5 0 1.5 0 1.5 0 1.5 0 1.5 0 1.5 0 1.5 0 1.5 0 1.5 0 1.5 0 1.5 0 1.5 0 1.5 0 1.5 0 1.5 0 1.5 0 1.5 0 1.5 0 1.5 0 1.5 0 1.5 0 1.5 0 1.5 0 1.5 0 1.5 0 1.5 0 1.5 0 1.5 0" stroke-dasharray="18 10.3"/>
<path d="M1693 529l0.5 -0 0.5 -0 0.5 -0 0.5 -0 0.5 -0.1 0.5 0.1 0.5 -0.1 0.5 0.1 0.5 -0.2 0.5 0.2 0.5 -0.3 0.5 0.3 0.5 -0.4 0.5 0.4 0.5 -0.5 0.5 0.5 0.5 -0.6 0.5 0.5 0.5 -0.6 0.5 0.7 0.5 -0.8 0.5 0.8 0.5 -1 0.5 0.9 0.5 -0.9 0.5 0.9 0.5 -1 0.5 1.1 0.5 -1.2 0.5 1.1 0.5 -1.1 0.5 1.1 0.5 -1.2 0.5 1.1 0.5 -1.4 0.5 1.4 0.5 -1.3 0.5 1.3 0.5 -1.4 0.5 1.3 0.5 -1.3 0.5 1.4 0.5 -1.5 0.5 1.6 0.5 -1.9 0.5 1.9 0.5 -2.1 0.5 2.4 0.5 -2.2 0.5 1.8 0.5 -1.8 0.5 1.6" stroke-dasharray="9 8"/>
<path d="M1719.5 526.6L1720 526.6L1720.5 526.5L1721 526.4L1721.5 526.3L1722 526.3L1722.5 526.2L1723 526.1L1723.5 526L1724 525.9L1724.5 525.8L1725 525.7L1725.5 525.6L1726 525.5L1726.5 525.4L1727 525.3L1727.5 525.2L1728 525.1L1728.5 525L1729 524.9L1729.5 524.8L1730 524.7L1730.5 524.6L1731 524.4L1731.5 524.3L1732 524.2L1732.5 524L1733 523.9L1733.5 523.8L1734 523.6L1734.5 523.5L1735 523.3L1735.5 523.2L1736 523L1736.5 522.8L1737 522.6L1737.5 522.4L1738 522.2L1738.5 522L1739 521.7L1739.4 521.5L1739.9 521.2L1740.4 521L1740.9 520.7L1741.4 520.4L1741.9 520.1L1742.4 519.8L1742.9 519.5L1743.4 519.2L1743.9 518.9L1744.4 518.6L1744.9 518.2L1745.4 517.9L1745.9 517.5L1746.3 517.2L1746.8 516.8L1747.3 516.4L1747.8 516L1748.3 515.5L1748.8 515L1749.3 514.5L1749.8 514L1750.2 513.4L1750.7 512.7L1751.2 512L1751.7 511.2L1752.1 510.4L1752.6 509.4L1753 508.2L1753.5 506.9L1753.9 505.4L1754.3 503.8L1754.7 502.2L1755.2 500.4L1755.6 498.6L1756 496.8L1756.4 494.5L1756.9 491.7L1757.3 487.9L1757.8 482.5L1758.2 431.9L1758.7 486.4L1759.2 492.4L1759.7 496.4L1760.1 499.4L1760.6 501.9L1761.1 503.9L1761.6 505.4L1762 506.7L1762.5 508L1763 509.2L1763.4 510.3L1763.9 511.4L1764.3 512.3L1764.8 513.1L1765.3 513.8L1765.7 514.4L1766.2 514.9L1766.7 515.3L1767.2 515.6L1767.7 516L1768.2 516.3L1768.7 516.6L1769.2 516.9L1769.7 517.2L1770.2 517.4L1770.7 517.6L1771.2 517.9L1771.7 518.1L1772.1 518.3L1772.6 518.5L1773.1 518.7L1773.6 518.8L1774.1 519L1774.6 519.2L1775.1 519.3L1775.6 519.5L1776.1 519.6L1776.6 519.8L1777.1 519.9L1777.6 520.1L1778.1 520.2L1778.6 520.4L1779.1 520.5L1779.6 520.7L1780.1 520.8L1780.6 521L1781.1 521.1L1781.6 521.3L1782.1 521.4L1782.6 521.5L1783.1 521.6L1783.6 521.8L1784.1 521.9L1784.6 522L1785.1 522.1L1785.6 522.2L1786.1 522.3L1786.6 522.4L1787.1 522.5L1787.6 522.6L1788.1 522.7L1788.6 522.8L1789.1 522.9L1789.6 523L1790.1 523.1L1790.6 523.2L1791.1 523.2L1791.6 523.3L1792.1 523.4L1792.6 523.4L1793.1 523.5L1793.6 523.6L1794 523.6L1794.5 523.7L1795 523.8L1795.5 523.8L1796 523.9L1796.5 523.9L1797 524L1797.5 524.1L1798 524.1L1798.4 524.2L1798.9 524.2L1799.4 524.3L1799.9 524.3L1800.4 524.4L1800.9 524.4L1801.4 524.5L1801.9 524.5L1802.4 524.6L1802.9 524.6L1803.3 524.6L1803.8 524.7L1804.3 524.7L1804.8 524.7L1805.3 524.8L1805.8 524.8L1806.3 524.9L1806.8 524.9L1807.3 524.9L1807.7 524.9L1808.2 525L1808.7 525L1809.2 525L1809.7 525L1810.2 525L1810.7 525.1L1811.2 525.1L1811.7 525.1L1812.2 525.1L1812.7 525.1L1813.2 525.2L1813.7 525.2L1814.2 525.2L1814.7 525.2L1815.2 525.2L1815.7 525.2L1816.2 525.3L1816.7 525.3L1817.2 525.3L1817.7 525.3L1818.2 525.3L1818.6 525.3L1819.1 525.4L1819.6 525.4L1820.1 525.4L1820.6 525.4L1821.1 525.4L1821.6 525.4L1822.1 525.4L1822.6 525.5L1823.1 525.5L1823.6 525.5L1824.1 525.5L1824.6 525.5L1825.1 525.5L1825.6 525.5L1826.1 525.5L1826.6 525.6L1827.1 525.6L1827.6 525.6L1828.1 525.6L1828.6 525.6L1829.1 525.6L1829.6 525.6L1830.1 525.6L1830.6 525.6L1831.1 525.7L1831.6 525.7L1832.1 525.7L1832.6 525.7L1833.1 525.7L1833.6 525.7L1834.1 525.7L1834.6 525.7L1835.1 525.7L1835.6 525.7L1836 525.7L1836.5 525.7L1837 525.7L1837.5 525.8L1838 525.8L1838.5 525.8L1839 525.8L1839.5 525.8L1840 525.8L1840.5 525.8L1841 525.8L1841.5 525.8L1842 525.8L1842.5 525.8L1843 525.8L1843.5 525.8L1844 525.8L1844.5 525.8L1844.5 528.4L1844 528.4L1843.5 528.4L1843 528.4L1842.5 528.4L1842 528.4L1841.5 528.4L1841 528.4L1840.5 528.4L1840 528.4L1839.5 528.4L1839 528.4L1838.5 528.4L1838 528.4L1837.5 528.4L1837 528.4L1836.5 528.4L1836 528.4L1835.6 528.4L1835.1 528.4L1834.6 528.4L1834.1 528.4L1833.6 528.3L1833.1 528.3L1832.6 528.3L1832.1 528.3L1831.6 528.3L1831.1 528.3L1830.6 528.3L1830.1 528.3L1829.6 528.3L1829.1 528.3L1828.6 528.3L1828.1 528.3L1827.6 528.3L1827.1 528.3L1826.6 528.3L1826.1 528.2L1825.6 528.2L1825.1 528.2L1824.6 528.2L1824.1 528.2L1823.6 528.2L1823.1 528.2L1822.6 528.2L1822.1 528.2L1821.6 528.2L1821.1 528.1L1820.6 528.1L1820.1 528.1L1819.6 528.1L1819.1 528.1L1818.6 528.1L1818.2 528.1L1817.7 528.1L1817.2 528.1L1816.7 528.1L1816.2 528L1815.7 528L1815.2 528L1814.7 528L1814.2 528L1813.7 528L1813.2 528L1812.7 528L1812.2 527.9L1811.7 527.9L1811.2 527.9L1810.7 527.9L1810.2 527.9L1809.7 527.9L1809.2 527.9L1808.7 527.8L1808.2 527.8L1807.7 527.8L1807.3 527.8L1806.8 527.8L1806.3 527.8L1805.8 527.7L1805.3 527.7L1804.8 527.7L1804.3 527.7L1803.8 527.6L1803.3 527.6L1802.9 527.6L1802.4 527.5L1801.9 527.5L1801.4 527.5L1800.9 527.4L1800.4 527.4L1799.9 527.4L1799.4 527.3L1798.9 527.3L1798.4 527.3L1798 527.2L1797.5 527.2L1797 527.1L1796.5 527.1L1796 527.1L1795.5 527L1795 527L1794.5 526.9L1794 526.9L1793.6 526.9L1793.1 526.8L1792.6 526.8L1792.1 526.7L1791.6 526.7L1791.1 526.6L1790.6 526.6L1790.1 526.5L1789.6 526.5L1789.1 526.4L1788.6 526.4L1788.1 526.3L1787.6 526.3L1787.1 526.2L1786.6 526.1L1786.1 526.1L1785.6 526L1785.1 525.9L1784.6 525.9L1784.1 525.8L1783.6 525.7L1783.1 525.6L1782.6 525.6L1782.1 525.5L1781.6 525.4L1781.1 525.3L1780.6 525.2L1780.1 525.2L1779.6 525.1L1779.1 525L1778.6 524.9L1778.1 524.8L1777.6 524.7L1777.1 524.7L1776.6 524.6L1776.1 524.5L1775.6 524.4L1775.1 524.3L1774.6 524.3L1774.1 524.2L1773.6 524.1L1773.1 524L1772.6 523.9L1772.1 523.8L1771.7 523.7L1771.2 523.6L1770.7 523.5L1770.2 523.4L1769.7 523.3L1769.2 523.2L1768.7 523.1L1768.2 523L1767.7 522.8L1767.2 522.7L1766.7 522.6L1766.2 522.4L1765.7 522.3L1765.3 522.1L1764.8 521.9L1764.3 521.7L1763.9 521.5L1763.4 521.3L1763 521.1L1762.5 520.9L1762 520.8L1761.6 520.7L1761.1 520.6L1760.6 520.8L1760.1 521.1L1759.7 521.6L1759.2 522.3L1758.7 523.1L1758.2 523.9L1757.8 524.8L1757.3 525.6L1756.9 526.4L1756.4 527.2L1756 527.9L1755.6 528.6L1755.2 529.4L1754.7 530.4L1754.3 531.9L1753.9 545.8L1753.5 537.5L1753 536.6L1752.6 536L1752.1 535.5L1751.7 535.1L1751.2 534.8L1750.7 534.5L1750.2 534.2L1749.8 533.8L1749.3 533.5L1748.8 533.3L1748.3 533L1747.8 532.7L1747.3 532.5L1746.8 532.3L1746.3 532.1L1745.9 531.9L1745.4 531.7L1744.9 531.6L1744.4 531.4L1743.9 531.3L1743.4 531.2L1742.9 531.1L1742.4 531L1741.9 530.9L1741.4 530.8L1740.9 530.7L1740.4 530.7L1739.9 530.6L1739.4 530.5L1739 530.5L1738.5 530.4L1738 530.3L1737.5 530.3L1737 530.2L1736.5 530.1L1736 530.1L1735.5 530.1L1735 530L1734.5 530L1734 530L1733.5 529.9L1733 529.9L1732.5 529.8L1732 529.8L1731.5 529.7L1731 529.7L1730.5 529.6L1730 529.6L1729.5 529.5L1729 529.5L1728.5 529.4L1728 529.4L1727.5 529.3L1727 529.3L1726.5 529.2L1726 529.2L1725.5 529.1L1725 529.1L1724.5 529L1724 529L1723.5 529L1723 528.9L1722.5 528.9L1722 528.9L1721.5 528.8L1721 528.8L1720.5 528.8L1720 528.8L1719.5 528.8Z" fill="#ff00ff"/>
<path d="M1719 528.6l0.5 -1.8 0.5 1.8 0.5 -2 0.5 2.1 0.5 -2.3 0.5 2.3 0.5 -2.2 0.5 2.2 0.5 -2.4 0.5 2.7 0.5 -3 0.5 3.2 0.5 -3.4 0.5 3.2 0.5 -3.7 0.5 3.7 0.5 -3.8 0.5 4.3 0.5 -4.3 0.5 4.3 0.5 -4.3 0.5 4.1 0.5 -4.3 0.5 4.5 0.5 -5.4 0.5 5.6 0.5 -5.7 0.5 5.6 0.5 -5.9 0.5 6 0.5 -7 0.5 7.3 0.5 -6.7 0.5 7.3 0.5 -7.5 0.5 6.6 0.5 -7.4 0.5 7.4 0.5 -7.4 0.5 7.8 0.4 -8.5 0.5 9.6 0.5 -10.3 0.5 9.4 0.5 -8.9 0.5 8.6 0.5 -10.3 0.5 9.9 0.5 -8.4 0.5 8 0.5 -10.4 0.5 10.7 0.5 -11.3 0.5 12.7 0.4 -12.7 0.5 14.6 0.5 -14.6 0.5 14.2 0.5 -15 0.5 15.5 0.5 -16.9 0.5 15.3 0.4 -15.9 0.5 18.3 0.5 -20 0.5 17.1 0.4 -15 0.5 17.2 0.4 -21.4 0.5 23.4 0.4 12 0.4 -18.2 0.4 -21.9 0.5 18.2 0.4 -24.6 0.4 24.4 0.4 -25.2 0.5 24.2 0.4 -30.2 0.5 25 0.4 -88 0.5 88.1 0.5 -20.6 0.5 21.6 0.4 -16.3 0.5 15 0.5 -13.2 0.5 14 0.4 -11.5 0.5 13.1 0.5 -11.8 0.4 12.8 0.5 -10.3 0.4 10.2 0.5 -8.7 0.5 8.5 0.4 -6.8 0.5 7.3 0.5 -7.8 0.5 8.1 0.5 -6.7 0.5 7.7 0.5 -6.7 0.5 7 0.5 -6.3 0.5 5.8 0.5 -5.8 0.5 6.1 0.5 -5.3 0.4 5.5 0.5 -4.9 0.5 5.3 0.5 -5.1 0.5 4.7 0.5 -4.9 0.5 6.4 0.5 -5.7 0.5 4.6 0.5 -4.8 0.5 5.2 0.5 -4.3 0.5 5.2 0.5 -5.5 0.5 5.2 0.5 -4.5 0.5 4.3 0.5 -3.6 0.5 3.6 0.5 -3.4 0.5 4 0.5 -4 0.5 4.2 0.5 -3.7 0.5 4.4 0.5 -4.2 0.5 3.7 0.5 -3.7 0.5 4 0.5 -4.1 0.5 4.3 0.5 -4.1 0.5 4.1 0.5 -3.8 0.5 4.3 0.5 -4.3 0.5 4.3 0.5 -3.7 0.5 3.3 0.5 -3.6 0.5 3.9 0.5 -3.1 0.5 2.9 0.5 -2.8 0.4 3 0.5 -3.2 0.5 3.3 0.5 -3.2 0.5 3.2 0.5 -3 0.5 3.1 0.5 -2.9 0.5 3 0.4 -2.7 0.5 2.8 0.5 -2.6 0.5 2.6 0.5 -2.8 0.5 2.7 0.5 -2.2 0.5 2.3 0.5 -2.7 0.5 3 0.4 -3 0.5 3 0.5 -2.8 0.5 2.7 0.5 -2.5 0.5 2.4 0.5 -2 0.5 2.1 0.5 -2.1 0.4 2.2 0.5 -2.3 0.5 2.6 0.5 -2.8 0.5 2.5 0.5 -2.1 0.5 2.5 0.5 -2.6 0.5 2.5 0.5 -2.4 0.5 2.4 0.5 -2.4 0.5 2.7 0.5 -2.9 0.5 2.6 0.5 -2.4 0.5 2.5 0.5 -2.6 0.5 2.8 0.5 -2.5 0.5 2.4 0.5 -2.8 0.4 2.7 0.5 -2.4 0.5 2.5 0.5 -2.4 0.5 2.7 0.5 -3.1 0.5 3.4 0.5 -3.3 0.5 2.9 0.5 -2.6 0.5 2.7 0.5 -2.8 0.5 2.9 0.5 -3 0.5 3 0.5 -3 0.5 3.2 0.5 -2.8 0.5 2.6 0.5 -2.9 0.5 2.8 0.5 -3 0.5 3 0.5 -2.4 0.5 2.2 0.5 -2.2 0.5 2.2 0.5 -2.4 0.5 2.6 0.5 -2.6 0.5 2.9 0.5 -3.1 0.5 3.1 0.5 -3 0.5 2.6 0.4 -2.3 0.5 2.7 0.5 -3 0.5 2.9 0.5 -2.8 0.5 2.9 0.5 -3.3 0.5 3.3 0.5 -2.6 0.5 2.3 0.5 -2.6 0.5 2.7 0.5 -2.6 0.5 2.9 0.5 -3.4 0.5 3.4 0.5 -3.1 0.5 2.7"/>
</g>
</g>
<g fill="#000" stroke="#000" stroke-width="0.5">
<rect x="240.6" y="555.2" width="82.5" height="50.6" fill="#00ffff" stroke="none"/>
<text transform="translate(244.44 592.20) scale(1.0006 1.0000)" font-size="35.60"  >x</text>
<text transform="translate(252.67 599.68) scale(0.6373 1.0000)" font-size="93.62"  stroke="#00ffff" stroke-width="2.4">→</text>
<text transform="translate(301.75 592.20) scale(0.9830 1.0000)" font-size="35.60"  >x</text>
<rect x="540.2" y="555.2" width="82.3" height="50.6" fill="#00ffff" stroke="none"/>
<text transform="translate(544.24 592.48) scale(1.0015 1.0000)" font-size="35.82"  >y</text>
<text transform="translate(552.57 599.68) scale(0.6373 1.0000)" font-size="93.62"  stroke="#00ffff" stroke-width="2.4">→</text>
<text transform="translate(601.65 592.48) scale(0.9785 1.0000)" font-size="35.82"  >y</text>
<rect x="839.4" y="555.2" width="79.6" height="50.6" fill="#00ffff" stroke="none"/>
<text transform="translate(843.07 592.20) scale(1.0557 1.0000)" font-size="35.22"  >z</text>
<text transform="translate(849.07 599.68) scale(0.6373 1.0000)" font-size="93.62"  stroke="#00ffff" stroke-width="2.4">→</text>
<text transform="translate(898.07 592.20) scale(1.0557 1.0000)" font-size="35.22"  >z</text>
<rect x="1139.0" y="555.2" width="94.0" height="50.6" fill="#00ffff" stroke="none"/>
<text transform="translate(1142.99 593.87) scale(1.1067 1.0000)" font-size="37.92" font-style="italic" stroke="#00ffff" stroke-width="0.5">α</text>
<text transform="translate(1156.77 599.68) scale(0.6373 1.0000)" font-size="93.62"  stroke="#00ffff" stroke-width="2.4">→</text>
<text transform="translate(1205.04 593.87) scale(1.1532 1.0000)" font-size="37.92" font-style="italic" stroke="#00ffff" stroke-width="0.5">α</text>
<rect x="1438.8" y="555.2" width="86.2" height="50.6" fill="#00ffff" stroke="none"/>
<text transform="translate(1443.60 593.13) scale(1.1545 1.0000)" font-size="37.70" font-style="italic" stroke="#00ffff" stroke-width="0.5">β</text>
<text transform="translate(1452.67 599.68) scale(0.6373 1.0000)" font-size="93.62"  stroke="#00ffff" stroke-width="2.4">→</text>
<text transform="translate(1502.50 593.13) scale(1.1545 1.0000)" font-size="37.70" font-style="italic" stroke="#00ffff" stroke-width="0.5">β</text>
<rect x="1738.2" y="555.2" width="82.8" height="50.6" fill="#00ffff" stroke="none"/>
<text transform="translate(1740.97 593.58) scale(1.2540 0.9162)" font-size="43.00" font-style="italic" stroke="#00ffff" stroke-width="1.3">γ</text>
<text transform="translate(1750.50 599.68) scale(0.6409 1.0000)" font-size="93.62"  stroke="#00ffff" stroke-width="2.4">→</text>
<text transform="translate(1798.07 593.58) scale(1.2540 0.9162)" font-size="43.00" font-style="italic" stroke="#00ffff" stroke-width="1.3">γ</text>
</g>
<g stroke="#1c1c1c" stroke-width="2.5" fill="none">
<rect x="46.5" y="264.4" width="1797.4" height="353.6"/>
<line x1="346.1" y1="264.4" x2="346.1" y2="618.0"/>
<line x1="645.6" y1="264.4" x2="645.6" y2="618.0"/>
<line x1="945.1" y1="264.4" x2="945.1" y2="618.0"/>
<line x1="1244.7" y1="264.4" x2="1244.7" y2="618.0"/>
<line x1="1544.3" y1="264.4" x2="1544.3" y2="618.0"/>
<path d="M55.0 618.0v-3.0M55.0 264.4v3.0M128.1 618.0v-3.0M128.1 264.4v3.0M200.5 618.0v-4.7M200.5 264.4v4.7M273.5 618.0v-3.0M273.5 264.4v3.0M46.5 293.9h3.0M46.5 441.0h4.7M46.5 588.5h3.0M354.6 618.0v-3.0M354.6 264.4v3.0M427.6 618.0v-3.0M427.6 264.4v3.0M500.1 618.0v-4.7M500.1 264.4v4.7M573.0 618.0v-3.0M573.0 264.4v3.0M346.1 293.9h-3.0M346.1 441.0h-4.7M346.1 588.5h-3.0M654.1 618.0v-3.0M654.1 264.4v3.0M727.2 618.0v-3.0M727.2 264.4v3.0M799.6 618.0v-4.7M799.6 264.4v4.7M872.6 618.0v-3.0M872.6 264.4v3.0M953.6 618.0v-3.0M953.6 264.4v3.0M1026.8 618.0v-3.0M1026.8 264.4v3.0M1099.2 618.0v-4.7M1099.2 264.4v4.7M1172.2 618.0v-3.0M1172.2 264.4v3.0M1253.2 618.0v-3.0M1253.2 264.4v3.0M1326.3 618.0v-3.0M1326.3 264.4v3.0M1398.7 618.0v-4.7M1398.7 264.4v4.7M1471.7 618.0v-3.0M1471.7 264.4v3.0M1552.8 618.0v-3.0M1552.8 264.4v3.0M1625.9 618.0v-3.0M1625.9 264.4v3.0M1698.3 618.0v-4.7M1698.3 264.4v4.7M1771.3 618.0v-3.0M1771.3 264.4v3.0" stroke-width="2.5"/>
</g>
<g font-size="31" fill="#262626">
<text x="-3.4" y="457.8">10<tspan font-size="25" dx="0.5" dy="-14.2">0</tspan></text>
<text x="176.5" y="662.2">10<tspan font-size="25" dx="0.5" dy="-14.2">0</tspan></text>
<text x="476.1" y="662.2">10<tspan font-size="25" dx="0.5" dy="-14.2">0</tspan></text>
<text x="775.6" y="662.2">10<tspan font-size="25" dx="0.5" dy="-14.2">0</tspan></text>
<text x="1075.2" y="662.2">10<tspan font-size="25" dx="0.5" dy="-14.2">0</tspan></text>
<text x="1374.7" y="662.2">10<tspan font-size="25" dx="0.5" dy="-14.2">0</tspan></text>
<text x="1674.3" y="662.2">10<tspan font-size="25" dx="0.5" dy="-14.2">0</tspan></text>
</g>
<path d="M548 30V175.7H690" stroke="#000" stroke-width="3.8" fill="none"/>
<path d="M548 -3L560.6 42.5L548 34.5L535.6 42.5Z" fill="#000"/>
<path d="M723 175.7L680 188L689.5 175.7L680 163.4Z" fill="#000"/>
<g fill="#000" stroke="#000" stroke-width="0.45">
<text transform="translate(175.18 111.00) scale(1.0214 1.0000)" font-size="40.00"  >Transmissibility</text>
<text transform="translate(456.24 111.00) scale(1.0358 1.0000)" font-size="40.00"  >(dB)</text>
<text transform="translate(504.88 227.90) scale(1.0125 1.0000)" font-size="40.00"  >Frequency</text>
<text transform="translate(693.39 227.90) scale(1.0057 1.0000)" font-size="40.00"  >(Hz)</text>
<text transform="translate(851.10 58.00) scale(1.0000 1.0000)" font-size="40.00"  >Oblique</text>
<text transform="translate(989.34 56.10) scale(0.6757 1.0000)" font-size="40.00"  stroke="none">—</text>
<text transform="translate(1025.38 58.00) scale(1.0303 1.0000)" font-size="40.00"  >mounted</text>
<text transform="translate(1181.58 58.00) scale(1.0272 1.0000)" font-size="40.00"  >pyramid</text>
<text transform="translate(1329.37 58.00) scale(1.0185 1.0000)" font-size="40.00"  >configuration:</text>
<text transform="translate(1024.10 134.40) scale(1.0771 1.0000)" font-size="40.00"  >With</text>
<text transform="translate(1124.99 134.40) scale(1.1175 1.0000)" font-size="40.00"  >(TF)</text>
<text transform="translate(1024.10 198.50) scale(1.0771 1.0000)" font-size="40.00"  >With</text>
<text transform="translate(1125.05 198.50) scale(1.0833 1.0000)" font-size="40.00"  >(RF)</text>
<text transform="translate(1393.70 134.40) scale(1.0588 1.0000)" font-size="40.00"  >Without</text>
<text transform="translate(1547.79 134.40) scale(1.1175 1.0000)" font-size="40.00"  >(TF)</text>
<text transform="translate(1393.70 198.50) scale(1.0588 1.0000)" font-size="40.00"  >Without</text>
<text transform="translate(1547.85 198.50) scale(1.0833 1.0000)" font-size="40.00"  >(RF)</text>
</g>
<rect x="822" y="5.8" width="839.7" height="222.5" fill="none" stroke="#000" stroke-width="1.8"/>
<g stroke-width="4.2" stroke-linecap="round" fill="none">
<path d="M880.3 122.9H997" stroke="#ff0000"/>
<path d="M1253.3 122.9H1370" stroke="#0000ff"/>
<path d="M880.3 187H894.6M907.2 187H919.2M931.6 187H943.6M956 187H968.3M980.7 187H995" stroke="#00ff00"/>
<path d="M1253.3 187.4H1268.2M1279.8 187.4H1292.6M1304.5 187.4H1317.1M1329 187.4H1341.6M1353.4 187.4H1367.9" stroke="#ff00ff"/>
</g>
</svg>
</body></html>
